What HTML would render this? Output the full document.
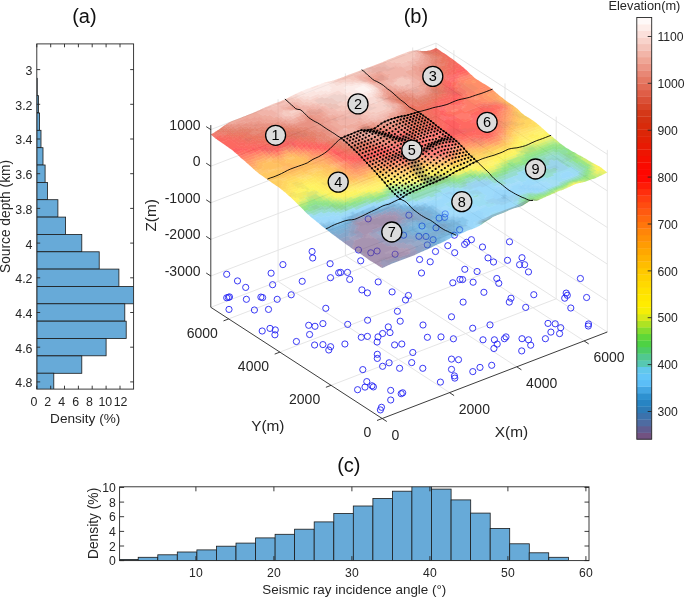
<!DOCTYPE html><html><head><meta charset="utf-8"><title>figure</title><style>html,body{margin:0;padding:0;background:#fff}svg{display:block}</style></head><body><svg width="685" height="598" viewBox="0 0 685 598" font-family="'Liberation Sans', sans-serif">
<rect width="685" height="598" fill="#fff"/>
<g stroke="#1a1a1a" stroke-width="0.8" fill="#67aad8">
<clipPath id="ca"><rect x="36.8" y="43.9" width="96.8" height="345.2"/></clipPath>
<g clip-path="url(#ca)">
<rect x="36.8" y="78.3" width="0.4" height="17.4"/>
<rect x="36.8" y="95.6" width="1.7" height="17.4"/>
<rect x="36.8" y="113" width="2.8" height="17.4"/>
<rect x="36.8" y="130.3" width="4.2" height="17.3"/>
<rect x="36.8" y="147.7" width="6.2" height="17.4"/>
<rect x="36.8" y="165" width="8.3" height="17.4"/>
<rect x="36.8" y="182.4" width="10.7" height="17.3"/>
<rect x="36.8" y="199.7" width="21.1" height="17.4"/>
<rect x="36.8" y="217.1" width="28.8" height="17.3"/>
<rect x="36.8" y="234.4" width="45" height="17.3"/>
<rect x="36.8" y="251.8" width="62.4" height="17.3"/>
<rect x="36.8" y="269.1" width="82.1" height="17.3"/>
<rect x="36.8" y="286.5" width="100.5" height="17.3"/>
<rect x="36.8" y="303.8" width="88" height="17.3"/>
<rect x="36.8" y="321.2" width="89.4" height="17.3"/>
<rect x="36.8" y="338.5" width="69.3" height="17.3"/>
<rect x="36.8" y="355.9" width="45" height="17.4"/>
<rect x="36.8" y="373.2" width="17" height="17.3"/>
</g></g>
<g stroke="#262626" stroke-width="0.9" fill="none">
<rect x="36.8" y="43.9" width="96.8" height="345.2"/>
<path d="M36.8 69.6h3.4M133.6 69.6h-3.4M36.8 104.3h3.4M133.6 104.3h-3.4M36.8 139h3.4M133.6 139h-3.4M36.8 173.7h3.4M133.6 173.7h-3.4M36.8 208.4h3.4M133.6 208.4h-3.4M36.8 243.1h3.4M133.6 243.1h-3.4M36.8 277.8h3.4M133.6 277.8h-3.4M36.8 312.5h3.4M133.6 312.5h-3.4M36.8 347.2h3.4M133.6 347.2h-3.4M36.8 381.9h3.4M133.6 381.9h-3.4M36.8 389.1v-3.4M36.8 43.9v3.4M50.7 389.1v-3.4M50.7 43.9v3.4M64.5 389.1v-3.4M64.5 43.9v3.4M78.4 389.1v-3.4M78.4 43.9v3.4M92.2 389.1v-3.4M92.2 43.9v3.4M106.1 389.1v-3.4M106.1 43.9v3.4M120 389.1v-3.4M120 43.9v3.4"/>
</g>
<text x="32.5" y="75" font-size="12.4" text-anchor="end" fill="#262626">3</text>
<text x="32.5" y="109.7" font-size="12.4" text-anchor="end" fill="#262626">3.2</text>
<text x="32.5" y="144.4" font-size="12.4" text-anchor="end" fill="#262626">3.4</text>
<text x="32.5" y="179.1" font-size="12.4" text-anchor="end" fill="#262626">3.6</text>
<text x="32.5" y="213.8" font-size="12.4" text-anchor="end" fill="#262626">3.8</text>
<text x="32.5" y="248.5" font-size="12.4" text-anchor="end" fill="#262626">4</text>
<text x="32.5" y="283.2" font-size="12.4" text-anchor="end" fill="#262626">4.2</text>
<text x="32.5" y="317.9" font-size="12.4" text-anchor="end" fill="#262626">4.4</text>
<text x="32.5" y="352.6" font-size="12.4" text-anchor="end" fill="#262626">4.6</text>
<text x="32.5" y="387.3" font-size="12.4" text-anchor="end" fill="#262626">4.8</text>
<text x="33.9" y="406" font-size="12.4" text-anchor="middle" fill="#262626">0</text>
<text x="47.8" y="406" font-size="12.4" text-anchor="middle" fill="#262626">2</text>
<text x="61.7" y="406" font-size="12.4" text-anchor="middle" fill="#262626">4</text>
<text x="75.6" y="406" font-size="12.4" text-anchor="middle" fill="#262626">6</text>
<text x="89.4" y="406" font-size="12.4" text-anchor="middle" fill="#262626">8</text>
<text x="105.3" y="406" font-size="12.4" text-anchor="middle" fill="#262626">10</text>
<text x="120.6" y="406" font-size="12.4" text-anchor="middle" fill="#262626">12</text>
<text x="85.2" y="422.6" font-size="13.6" text-anchor="middle" fill="#262626">Density (%)</text>
<text x="10.2" y="216.5" font-size="13.75" text-anchor="middle" fill="#262626" transform="rotate(-90 10.2 216.5)">Source depth (km)</text>
<text x="84.4" y="23.3" font-size="20" text-anchor="middle" fill="#111">(a)</text>
<clipPath id="cc"><rect x="119.6" y="486.8" width="469.4" height="73.8"/></clipPath>
<g stroke="#1a1a1a" stroke-width="0.8" fill="#67aad8" clip-path="url(#cc)">
<rect x="118.7" y="559.4" width="19.5" height="1.2"/>
<rect x="138.2" y="557.3" width="19.6" height="3.3"/>
<rect x="157.8" y="554.8" width="19.5" height="5.8"/>
<rect x="177.3" y="552" width="19.6" height="8.6"/>
<rect x="196.9" y="549.9" width="19.5" height="10.7"/>
<rect x="216.4" y="546.2" width="19.6" height="14.4"/>
<rect x="236" y="543.1" width="19.6" height="17.5"/>
<rect x="255.6" y="537.9" width="19.6" height="22.7"/>
<rect x="275.1" y="534.3" width="19.5" height="26.3"/>
<rect x="294.6" y="529.2" width="19.6" height="31.4"/>
<rect x="314.2" y="521.9" width="19.5" height="38.7"/>
<rect x="333.8" y="513.4" width="19.6" height="47.2"/>
<rect x="353.3" y="506" width="19.6" height="54.6"/>
<rect x="372.9" y="498.5" width="19.5" height="62.1"/>
<rect x="392.4" y="491.2" width="19.6" height="69.4"/>
<rect x="411.9" y="483.8" width="19.6" height="76.8"/>
<rect x="431.5" y="489.1" width="19.6" height="71.5"/>
<rect x="451.1" y="499.9" width="19.6" height="60.7"/>
<rect x="470.6" y="513.1" width="19.6" height="47.5"/>
<rect x="490.2" y="528.4" width="19.5" height="32.2"/>
<rect x="509.7" y="543.8" width="19.6" height="16.8"/>
<rect x="529.2" y="552.8" width="19.5" height="7.8"/>
<rect x="548.8" y="557.3" width="19.6" height="3.3"/>
</g>
<g stroke="#262626" stroke-width="0.9" fill="none">
<rect x="119.6" y="486.8" width="469.4" height="73.8"/>
<path d="M195.9 560.6v-4.5M195.9 486.8v4.5M273.9 560.6v-4.5M273.9 486.8v4.5M351.9 560.6v-4.5M351.9 486.8v4.5M429.9 560.6v-4.5M429.9 486.8v4.5M507.9 560.6v-4.5M507.9 486.8v4.5M585.9 560.6v-4.5M585.9 486.8v4.5M119.6 560.6h4.5M589 560.6h-4.5M119.6 546h4.5M589 546h-4.5M119.6 531.4h4.5M589 531.4h-4.5M119.6 516.7h4.5M589 516.7h-4.5M119.6 502.1h4.5M589 502.1h-4.5M119.6 487.5h4.5M589 487.5h-4.5"/>
</g>
<text x="195.9" y="577.2" font-size="12.2" text-anchor="middle" fill="#262626">10</text>
<text x="273.9" y="577.2" font-size="12.2" text-anchor="middle" fill="#262626">20</text>
<text x="351.9" y="577.2" font-size="12.2" text-anchor="middle" fill="#262626">30</text>
<text x="429.9" y="577.2" font-size="12.2" text-anchor="middle" fill="#262626">40</text>
<text x="507.9" y="577.2" font-size="12.2" text-anchor="middle" fill="#262626">50</text>
<text x="585.9" y="577.2" font-size="12.2" text-anchor="middle" fill="#262626">60</text>
<text x="115.9" y="565.1" font-size="12.2" text-anchor="end" fill="#262626">0</text>
<text x="115.9" y="550.5" font-size="12.2" text-anchor="end" fill="#262626">2</text>
<text x="115.9" y="535.9" font-size="12.2" text-anchor="end" fill="#262626">4</text>
<text x="115.9" y="521.2" font-size="12.2" text-anchor="end" fill="#262626">6</text>
<text x="115.9" y="506.6" font-size="12.2" text-anchor="end" fill="#262626">8</text>
<text x="115.9" y="492" font-size="12.2" text-anchor="end" fill="#262626">10</text>
<text x="97.6" y="523.4" font-size="13.8" text-anchor="middle" fill="#262626" transform="rotate(-90 97.6 523.4)">Density (%)</text>
<text x="354.3" y="594.2" font-size="13.4" text-anchor="middle" fill="#262626">Seismic ray incidence angle (°)</text>
<text x="348.8" y="472.3" font-size="20" text-anchor="middle" fill="#111">(c)</text>
<rect x="636.8" y="432.61" width="14.9" height="6.89" fill="#725281"/>
<rect x="636.8" y="426.02" width="14.9" height="6.89" fill="#605c90"/>
<rect x="636.8" y="419.43" width="14.9" height="6.89" fill="#4e6ba1"/>
<rect x="636.8" y="412.84" width="14.9" height="6.89" fill="#3c72ac"/>
<rect x="636.8" y="406.25" width="14.9" height="6.89" fill="#2d7bb7"/>
<rect x="636.8" y="399.67" width="14.9" height="6.89" fill="#2784c3"/>
<rect x="636.8" y="393.08" width="14.9" height="6.89" fill="#2e91d0"/>
<rect x="636.8" y="386.49" width="14.9" height="6.89" fill="#43a6e3"/>
<rect x="636.8" y="379.90" width="14.9" height="6.89" fill="#5bbef7"/>
<rect x="636.8" y="373.31" width="14.9" height="6.89" fill="#62c5f8"/>
<rect x="636.8" y="366.72" width="14.9" height="6.89" fill="#62c8ec"/>
<rect x="636.8" y="360.13" width="14.9" height="6.89" fill="#57c8b2"/>
<rect x="636.8" y="353.54" width="14.9" height="6.89" fill="#51c890"/>
<rect x="636.8" y="346.95" width="14.9" height="6.89" fill="#4ccc66"/>
<rect x="636.8" y="340.36" width="14.9" height="6.89" fill="#4ed244"/>
<rect x="636.8" y="333.77" width="14.9" height="6.89" fill="#5ed739"/>
<rect x="636.8" y="327.19" width="14.9" height="6.89" fill="#84dd2e"/>
<rect x="636.8" y="320.60" width="14.9" height="6.89" fill="#aee323"/>
<rect x="636.8" y="314.01" width="14.9" height="6.89" fill="#dae817"/>
<rect x="636.8" y="307.42" width="14.9" height="6.89" fill="#f5ee06"/>
<rect x="636.8" y="300.83" width="14.9" height="6.89" fill="#ffec00"/>
<rect x="636.8" y="294.24" width="14.9" height="6.89" fill="#ffe700"/>
<rect x="636.8" y="287.65" width="14.9" height="6.89" fill="#ffe100"/>
<rect x="636.8" y="281.06" width="14.9" height="6.89" fill="#ffd900"/>
<rect x="636.8" y="274.47" width="14.9" height="6.89" fill="#ffd100"/>
<rect x="636.8" y="267.88" width="14.9" height="6.89" fill="#ffc800"/>
<rect x="636.8" y="261.30" width="14.9" height="6.89" fill="#ffbd00"/>
<rect x="636.8" y="254.71" width="14.9" height="6.89" fill="#ffb200"/>
<rect x="636.8" y="248.12" width="14.9" height="6.89" fill="#ffa700"/>
<rect x="636.8" y="241.53" width="14.9" height="6.89" fill="#ff9c03"/>
<rect x="636.8" y="234.94" width="14.9" height="6.89" fill="#ff9006"/>
<rect x="636.8" y="228.35" width="14.9" height="6.89" fill="#ff8509"/>
<rect x="636.8" y="221.76" width="14.9" height="6.89" fill="#ff760c"/>
<rect x="636.8" y="215.17" width="14.9" height="6.89" fill="#ff680e"/>
<rect x="636.8" y="208.58" width="14.9" height="6.89" fill="#ff5a10"/>
<rect x="636.8" y="201.99" width="14.9" height="6.89" fill="#ff4c10"/>
<rect x="636.8" y="195.40" width="14.9" height="6.89" fill="#ff3e10"/>
<rect x="636.8" y="188.82" width="14.9" height="6.89" fill="#ff2e0d"/>
<rect x="636.8" y="182.23" width="14.9" height="6.89" fill="#ff1c07"/>
<rect x="636.8" y="175.64" width="14.9" height="6.89" fill="#ff0902"/>
<rect x="636.8" y="169.05" width="14.9" height="6.89" fill="#fe0600"/>
<rect x="636.8" y="162.46" width="14.9" height="6.89" fill="#fa0a00"/>
<rect x="636.8" y="155.87" width="14.9" height="6.89" fill="#f50f00"/>
<rect x="636.8" y="149.28" width="14.9" height="6.89" fill="#ee1501"/>
<rect x="636.8" y="142.69" width="14.9" height="6.89" fill="#e81a03"/>
<rect x="636.8" y="136.10" width="14.9" height="6.89" fill="#e22004"/>
<rect x="636.8" y="129.51" width="14.9" height="6.89" fill="#dc2607"/>
<rect x="636.8" y="122.93" width="14.9" height="6.89" fill="#d82b0b"/>
<rect x="636.8" y="116.34" width="14.9" height="6.89" fill="#d43111"/>
<rect x="636.8" y="109.75" width="14.9" height="6.89" fill="#d43818"/>
<rect x="636.8" y="103.16" width="14.9" height="6.89" fill="#d74326"/>
<rect x="636.8" y="96.57" width="14.9" height="6.89" fill="#da5037"/>
<rect x="636.8" y="89.98" width="14.9" height="6.89" fill="#df5e47"/>
<rect x="636.8" y="83.39" width="14.9" height="6.89" fill="#e26b55"/>
<rect x="636.8" y="76.80" width="14.9" height="6.89" fill="#e57964"/>
<rect x="636.8" y="70.21" width="14.9" height="6.89" fill="#e88775"/>
<rect x="636.8" y="63.62" width="14.9" height="6.89" fill="#ec9686"/>
<rect x="636.8" y="57.03" width="14.9" height="6.89" fill="#efa696"/>
<rect x="636.8" y="50.45" width="14.9" height="6.89" fill="#f2b5a8"/>
<rect x="636.8" y="43.86" width="14.9" height="6.89" fill="#f4c4ba"/>
<rect x="636.8" y="37.27" width="14.9" height="6.89" fill="#f8d3cb"/>
<rect x="636.8" y="30.68" width="14.9" height="6.89" fill="#fbe0db"/>
<rect x="636.8" y="24.09" width="14.9" height="6.89" fill="#fdede9"/>
<rect x="636.8" y="17.50" width="14.9" height="6.89" fill="#fef9f8"/>
<rect x="636.8" y="17.5" width="14.9" height="421.7" fill="none" stroke="#262626" stroke-width="0.9"/>
<text x="657.4" y="416.1" font-size="12.2" text-anchor="start" fill="#262626">300</text>
<text x="657.4" y="369.2" font-size="12.2" text-anchor="start" fill="#262626">400</text>
<text x="657.4" y="322.3" font-size="12.2" text-anchor="start" fill="#262626">500</text>
<text x="657.4" y="275.5" font-size="12.2" text-anchor="start" fill="#262626">600</text>
<text x="657.4" y="228.6" font-size="12.2" text-anchor="start" fill="#262626">700</text>
<text x="657.4" y="181.7" font-size="12.2" text-anchor="start" fill="#262626">800</text>
<text x="657.4" y="134.8" font-size="12.2" text-anchor="start" fill="#262626">900</text>
<text x="657.4" y="87.9" font-size="12.2" text-anchor="start" fill="#262626">1000</text>
<text x="657.4" y="41.1" font-size="12.2" text-anchor="start" fill="#262626">1100</text>
<path d="M651.7 411.5h-4M651.7 364.6h-4M651.7 317.7h-4M651.7 270.9h-4M651.7 224h-4M651.7 177.1h-4M651.7 130.2h-4M651.7 83.3h-4M651.7 36.5h-4" stroke="#262626" stroke-width="0.9"/>
<text x="644.4" y="9.9" font-size="12.8" text-anchor="middle" fill="#262626">Elevation(m)</text>
<text x="415.9" y="23.3" font-size="20" text-anchor="middle" fill="#111">(b)</text>
<path d="M449.5 392.6L278.1 281.4L278.1 99.2M331.1 385.3L556.2 298.8L556.2 116.6M516.8 366.8L345.4 255.6L345.4 73.4M279.9 352.1L505 265.6L505 83.4M584.1 340.9L412.7 229.7L412.7 47.5M228.7 318.9L453.9 232.4L453.9 50.2M210.8 276L436 189.5L607.3 300.7M210.8 239.4L436 152.9L607.3 264.1M210.8 202.8L436 116.3L607.3 227.5M210.8 166.2L436 79.7L607.3 190.9M210.8 129.6L436 43.1L607.3 154.3M210.8 307.3L436 220.8L607.3 332M436 220.8L436 43.1M607.3 332L607.3 149.8" stroke="#e2e2e2" stroke-width="0.9" fill="none"/>
<g fill="none" stroke="#2424f4" stroke-width="0.9">
<circle cx="226.7" cy="274.3" r="3.1"/>
<circle cx="237.5" cy="280.9" r="3.1"/>
<circle cx="245.7" cy="287.4" r="3.1"/>
<circle cx="226.7" cy="297.8" r="3.1"/>
<circle cx="228.4" cy="297.4" r="3.1"/>
<circle cx="229.5" cy="296.9" r="3.1"/>
<circle cx="246.4" cy="299.3" r="3.1"/>
<circle cx="260.9" cy="297.1" r="3.1"/>
<circle cx="262.6" cy="297.6" r="3.1"/>
<circle cx="229" cy="309.4" r="3.1"/>
<circle cx="254.4" cy="310" r="3.1"/>
<circle cx="268.5" cy="309.4" r="3.1"/>
<circle cx="271.1" cy="273.2" r="3.1"/>
<circle cx="272.6" cy="284.7" r="3.1"/>
<circle cx="277.2" cy="299.3" r="3.1"/>
<circle cx="282.9" cy="264.6" r="3.1"/>
<circle cx="291.2" cy="294.8" r="3.1"/>
<circle cx="302.2" cy="281.3" r="3.1"/>
<circle cx="312.1" cy="251.5" r="3.1"/>
<circle cx="312.7" cy="258" r="3.1"/>
<circle cx="330.1" cy="263.7" r="3.1"/>
<circle cx="330.5" cy="277.7" r="3.1"/>
<circle cx="338.7" cy="272.8" r="3.1"/>
<circle cx="340.6" cy="272.4" r="3.1"/>
<circle cx="325.8" cy="308.3" r="3.1"/>
<circle cx="262.2" cy="331" r="3.1"/>
<circle cx="270" cy="328.4" r="3.1"/>
<circle cx="275.3" cy="329.9" r="3.1"/>
<circle cx="274.9" cy="334.8" r="3.1"/>
<circle cx="308.7" cy="325.3" r="3.1"/>
<circle cx="315" cy="326.3" r="3.1"/>
<circle cx="322.9" cy="323.6" r="3.1"/>
<circle cx="309.6" cy="334.5" r="3.1"/>
<circle cx="296.4" cy="341.5" r="3.1"/>
<circle cx="347.5" cy="272.4" r="3.1"/>
<circle cx="349.7" cy="279.4" r="3.1"/>
<circle cx="360.7" cy="260.8" r="3.1"/>
<circle cx="358.5" cy="250" r="3.1"/>
<circle cx="370.8" cy="252.8" r="3.1"/>
<circle cx="377.1" cy="251" r="3.1"/>
<circle cx="395.1" cy="254.2" r="3.1"/>
<circle cx="378.2" cy="281.9" r="3.1"/>
<circle cx="361.9" cy="289.9" r="3.1"/>
<circle cx="367.4" cy="292.9" r="3.1"/>
<circle cx="392.1" cy="291.9" r="3.1"/>
<circle cx="408.4" cy="295.5" r="3.1"/>
<circle cx="405.5" cy="299.9" r="3.1"/>
<circle cx="397.4" cy="311.3" r="3.1"/>
<circle cx="400.2" cy="321.2" r="3.1"/>
<circle cx="367.6" cy="320.2" r="3.1"/>
<circle cx="347.7" cy="324.4" r="3.1"/>
<circle cx="388.3" cy="326.9" r="3.1"/>
<circle cx="390" cy="332.6" r="3.1"/>
<circle cx="382.6" cy="333.5" r="3.1"/>
<circle cx="378" cy="336.9" r="3.1"/>
<circle cx="367.4" cy="336.4" r="3.1"/>
<circle cx="361.3" cy="337.3" r="3.1"/>
<circle cx="419.6" cy="259.5" r="3.1"/>
<circle cx="430.2" cy="261.8" r="3.1"/>
<circle cx="435.5" cy="251.5" r="3.1"/>
<circle cx="454.7" cy="252.7" r="3.1"/>
<circle cx="421.5" cy="273" r="3.1"/>
<circle cx="452.8" cy="282.8" r="3.1"/>
<circle cx="460" cy="279.4" r="3.1"/>
<circle cx="451.5" cy="316.8" r="3.1"/>
<circle cx="423" cy="325" r="3.1"/>
<circle cx="427.4" cy="337.3" r="3.1"/>
<circle cx="441" cy="336.9" r="3.1"/>
<circle cx="453.4" cy="338.8" r="3.1"/>
<circle cx="464.8" cy="269.3" r="3.1"/>
<circle cx="477.1" cy="271.5" r="3.1"/>
<circle cx="462.6" cy="279.6" r="3.1"/>
<circle cx="473.1" cy="282.2" r="3.1"/>
<circle cx="488" cy="257.9" r="3.1"/>
<circle cx="493.5" cy="262" r="3.1"/>
<circle cx="507.5" cy="260.3" r="3.1"/>
<circle cx="522" cy="257.7" r="3.1"/>
<circle cx="519.6" cy="264.7" r="3.1"/>
<circle cx="524.6" cy="264.7" r="3.1"/>
<circle cx="528.5" cy="271.9" r="3.1"/>
<circle cx="496.8" cy="278.5" r="3.1"/>
<circle cx="498.8" cy="283.3" r="3.1"/>
<circle cx="483.9" cy="292.3" r="3.1"/>
<circle cx="463.1" cy="302.1" r="3.1"/>
<circle cx="511" cy="298.2" r="3.1"/>
<circle cx="509.3" cy="302.1" r="3.1"/>
<circle cx="533.8" cy="294.7" r="3.1"/>
<circle cx="525.7" cy="307.4" r="3.1"/>
<circle cx="580.4" cy="278.5" r="3.1"/>
<circle cx="566.2" cy="293.1" r="3.1"/>
<circle cx="567.3" cy="295.3" r="3.1"/>
<circle cx="564.7" cy="298.2" r="3.1"/>
<circle cx="586.6" cy="297.5" r="3.1"/>
<circle cx="570.8" cy="308" r="3.1"/>
<circle cx="588.5" cy="324" r="3.1"/>
<circle cx="588.3" cy="326" r="3.1"/>
<circle cx="548" cy="323.4" r="3.1"/>
<circle cx="555.2" cy="323.8" r="3.1"/>
<circle cx="560.7" cy="327.7" r="3.1"/>
<circle cx="550.9" cy="332.1" r="3.1"/>
<circle cx="559.6" cy="333.6" r="3.1"/>
<circle cx="490" cy="324.9" r="3.1"/>
<circle cx="472.7" cy="328.2" r="3.1"/>
<circle cx="506" cy="336.9" r="3.1"/>
<circle cx="504.4" cy="338.7" r="3.1"/>
<circle cx="494.4" cy="339.8" r="3.1"/>
<circle cx="483" cy="339.8" r="3.1"/>
<circle cx="522" cy="338.7" r="3.1"/>
<circle cx="528.5" cy="339.8" r="3.1"/>
<circle cx="545.4" cy="338.7" r="3.1"/>
<circle cx="408.9" cy="215.2" r="3.1"/>
<circle cx="422" cy="226" r="3.1"/>
<circle cx="436" cy="227.8" r="3.1"/>
<circle cx="439.1" cy="218.1" r="3.1"/>
<circle cx="444.6" cy="217.3" r="3.1"/>
<circle cx="445.2" cy="213.9" r="3.1"/>
<circle cx="403.6" cy="235.2" r="3.1"/>
<circle cx="418.9" cy="236.3" r="3.1"/>
<circle cx="426" cy="236.5" r="3.1"/>
<circle cx="433.1" cy="239.7" r="3.1"/>
<circle cx="427.3" cy="244.9" r="3.1"/>
<circle cx="459.6" cy="229.7" r="3.1"/>
<circle cx="454.4" cy="235.2" r="3.1"/>
<circle cx="447.8" cy="245.7" r="3.1"/>
<circle cx="464.6" cy="244.4" r="3.1"/>
<circle cx="466.7" cy="242.3" r="3.1"/>
<circle cx="471.4" cy="239.7" r="3.1"/>
<circle cx="482.5" cy="247" r="3.1"/>
<circle cx="509.5" cy="241.8" r="3.1"/>
<circle cx="344.9" cy="344" r="3.1"/>
<circle cx="377.1" cy="342" r="3.1"/>
<circle cx="394.6" cy="344.9" r="3.1"/>
<circle cx="401.8" cy="344" r="3.1"/>
<circle cx="412.8" cy="352.5" r="3.1"/>
<circle cx="377.3" cy="354.3" r="3.1"/>
<circle cx="377.3" cy="358.4" r="3.1"/>
<circle cx="389.1" cy="362.8" r="3.1"/>
<circle cx="382.6" cy="366.3" r="3.1"/>
<circle cx="362.8" cy="369.6" r="3.1"/>
<circle cx="399.6" cy="368.3" r="3.1"/>
<circle cx="411.7" cy="362.6" r="3.1"/>
<circle cx="422.8" cy="368.3" r="3.1"/>
<circle cx="451.5" cy="359.1" r="3.1"/>
<circle cx="458.5" cy="359.7" r="3.1"/>
<circle cx="451.5" cy="369.4" r="3.1"/>
<circle cx="454.4" cy="375.9" r="3.1"/>
<circle cx="454.8" cy="378.1" r="3.1"/>
<circle cx="472.8" cy="371.6" r="3.1"/>
<circle cx="480" cy="367.4" r="3.1"/>
<circle cx="440.4" cy="382.1" r="3.1"/>
<circle cx="366.8" cy="381.6" r="3.1"/>
<circle cx="365" cy="387.1" r="3.1"/>
<circle cx="357.6" cy="389.7" r="3.1"/>
<circle cx="372" cy="385.8" r="3.1"/>
<circle cx="373.4" cy="386.9" r="3.1"/>
<circle cx="390.7" cy="390.4" r="3.1"/>
<circle cx="401.2" cy="393.7" r="3.1"/>
<circle cx="402.7" cy="392.8" r="3.1"/>
<circle cx="390.7" cy="400" r="3.1"/>
<circle cx="381.5" cy="407.3" r="3.1"/>
<circle cx="380.4" cy="409.9" r="3.1"/>
<circle cx="497.2" cy="344.1" r="3.1"/>
<circle cx="493.9" cy="348.5" r="3.1"/>
<circle cx="530.7" cy="345.2" r="3.1"/>
<circle cx="521.7" cy="350.9" r="3.1"/>
<circle cx="491.7" cy="365.3" r="3.1"/>
<circle cx="314.6" cy="345" r="3.1"/>
<circle cx="322.9" cy="344.6" r="3.1"/>
<circle cx="330.6" cy="346.7" r="3.1"/>
<circle cx="328.8" cy="350" r="3.1"/>
<circle cx="368.2" cy="218.9" r="3.1"/>
</g>
<clipPath id="cs"><path d="M382.2 268.1L382.9 267.8L383.5 267.5L384.2 267.2L384.9 266.9L385.5 266.6L386.2 266.3L386.9 265.9L387.6 265.6L388.2 265.3L388.9 265L389.6 264.7L390.2 264.4L390.9 264.1L391.6 263.8L392.2 263.5L392.9 263.2L393.6 262.9L394.3 262.7L394.9 262.4L395.6 262.2L396.3 262L396.9 261.8L397.6 261.6L398.3 261.3L398.9 261.1L399.6 260.8L400.3 260.6L401 260.3L401.6 260L402.3 259.7L403 259.5L403.6 259.2L404.3 258.9L405 258.7L405.6 258.5L406.3 258.2L407 258L407.7 257.8L408.3 257.5L409 257.3L409.7 257.1L410.3 256.8L411 256.6L411.7 256.3L412.3 256L413 255.8L413.7 255.5L414.4 255.2L415 254.9L415.7 254.6L416.4 254.3L417 254L417.7 253.6L418.4 253.3L419 253L419.7 252.7L420.4 252.3L421.1 252L421.7 251.8L422.4 251.5L423.1 251.2L423.7 250.9L424.4 250.6L425.1 250.3L425.7 250L426.4 249.7L427.1 249.5L427.8 249.2L428.4 248.9L429.1 248.6L429.8 248.3L430.4 248L431.1 247.7L431.8 247.3L432.4 247L433.1 246.6L433.8 246.3L434.5 245.9L435.1 245.6L435.8 245.2L436.5 244.9L437.1 244.6L437.8 244.3L438.5 244.1L439.1 243.8L439.8 243.5L440.5 243.2L441.2 242.9L441.8 242.5L442.5 242.2L443.2 241.9L443.8 241.6L444.5 241.2L445.2 240.9L445.8 240.6L446.5 240.2L447.2 239.9L447.9 239.6L448.5 239.2L449.2 238.9L449.9 238.5L450.5 238.1L451.2 237.8L451.9 237.5L452.5 237.1L453.2 236.8L453.9 236.6L454.6 236.3L455.2 236L455.9 235.8L456.6 235.5L457.2 235.3L457.9 235L458.6 234.7L459.2 234.4L459.9 234.2L460.6 233.9L461.3 233.6L461.9 233.3L462.6 233L463.3 232.7L463.9 232.4L464.6 232.1L465.3 231.7L465.9 231.4L466.6 231.1L467.3 230.8L468 230.6L468.6 230.3L469.3 230.1L470 229.8L470.6 229.6L471.3 229.4L472 229.2L472.6 228.9L473.3 228.6L474 228.4L474.7 228.1L475.3 227.8L476 227.5L476.7 227.2L477.3 226.9L478 226.6L478.7 226.3L479.3 226L480 225.6L480.7 225.1L481.4 224.7L482 224.2L482.7 223.7L483.4 223.2L484 222.7L484.7 222.2L485.4 221.8L486 221.4L486.7 221L487.4 220.6L488.1 220.2L488.7 219.8L489.4 219.4L490.1 218.9L490.7 218.5L491.4 218L492.1 217.6L492.7 217.1L493.4 216.7L494.1 216.4L494.8 216.1L495.4 215.9L496.1 215.6L496.8 215.3L497.4 215L498.1 214.8L498.8 214.5L499.4 214.2L500.1 214L500.8 213.7L501.5 213.5L502.1 213.2L502.8 212.9L503.5 212.7L504.1 212.4L504.8 212.1L505.5 211.8L506.1 211.5L506.8 211.2L507.5 210.9L508.2 210.6L508.8 210.3L509.5 210L510.2 209.7L510.8 209.5L511.5 209.2L512.2 209L512.8 208.8L513.5 208.6L514.2 208.3L514.9 208.1L515.5 207.9L516.2 207.7L516.9 207.5L517.5 207.3L518.2 207.2L518.9 207L519.5 206.8L520.2 206.6L520.9 206.4L521.6 206.1L522.2 205.8L522.9 205.4L523.6 205.1L524.2 204.6L524.9 204.2L525.6 203.7L526.2 203.3L526.9 202.9L527.6 202.4L528.3 202L528.9 201.6L529.6 201.2L530.3 200.8L530.9 200.7L531.6 200.7L532.3 200.7L532.9 200.6L533.6 200.6L534.3 200.7L535 200.7L535.6 200.7L536.3 200.8L537 200.8L537.6 200.5L538.3 200.2L539 199.9L539.6 199.6L540.3 199.3L541 199L541.7 198.7L542.3 198.4L543 198.1L543.7 197.8L544.3 197.5L545 197.2L545.7 196.9L546.3 196.6L547 196.3L547.7 196L548.4 195.7L549 195.4L549.7 195.2L550.4 194.9L551 194.6L551.7 194.3L552.4 194.1L553 193.8L553.7 193.5L554.4 193.2L555.1 192.8L555.7 192.5L556.4 192.2L557.1 191.9L557.7 191.6L558.4 191.3L559.1 191.1L559.7 190.8L560.4 190.6L561.1 190.4L561.8 190.2L562.4 189.9L563.1 189.7L563.8 189.4L564.4 189.1L565.1 188.8L565.8 188.5L566.4 188.2L567.1 187.9L567.8 187.6L568.5 187.3L569.1 187L569.8 186.7L570.5 186.4L571.1 186.1L571.8 185.7L572.5 185.4L573.1 185.1L573.8 184.8L574.5 184.5L575.2 184.3L575.8 184L576.5 183.8L577.2 183.6L577.8 183.4L578.5 183.2L579.2 183.1L579.8 183L580.5 182.9L581.2 182.7L581.9 182.6L582.5 182.4L583.2 182.2L583.9 182L584.5 181.9L585.2 181.7L585.9 181.4L586.5 181.2L587.2 181L587.9 180.7L588.6 180.5L589.2 180.2L589.9 180L590.6 179.8L591.2 179.5L591.9 179.3L592.6 179.1L593.2 178.9L593.9 178.7L594.6 178.5L595.3 178.2L595.9 177.9L596.6 177.6L597.3 177.3L597.9 177L598.6 176.7L599.3 176.3L599.9 176L600.6 175.7L601.3 175.4L602 175L602.6 174.7L603.3 174.4L604 174.1L604.6 173.8L605.3 173.4L606 173.1L606.6 172.8L607.3 172.5L607.3 172.5L606.8 172.1L606.3 171.7L605.8 171.3L605.3 170.9L604.8 170.5L604.3 170.1L603.7 169.7L603.2 169.2L602.7 168.8L602.2 168.4L601.7 168L601.2 167.6L600.7 167.3L600.2 166.9L599.7 166.6L599.2 166.3L598.6 166L598.1 165.7L597.6 165.4L597.1 165.2L596.6 164.9L596.1 164.7L595.6 164.4L595.1 164.1L594.6 163.9L594.1 163.6L593.5 163.3L593 163L592.5 162.7L592 162.5L591.5 162.2L591 161.9L590.5 161.6L590 161.3L589.5 161L589 160.7L588.4 160.4L587.9 160L587.4 159.7L586.9 159.4L586.4 159.1L585.9 158.8L585.4 158.6L584.9 158.3L584.4 158L583.9 157.7L583.3 157.4L582.8 157.1L582.3 156.8L581.8 156.5L581.3 156.2L580.8 155.9L580.3 155.6L579.8 155.4L579.3 155.2L578.8 154.9L578.2 154.7L577.7 154.4L577.2 154.1L576.7 153.7L576.2 153.4L575.7 153.1L575.2 152.8L574.7 152.5L574.2 152.3L573.7 152.1L573.1 151.9L572.6 151.6L572.1 151.4L571.6 151.1L571.1 150.7L570.6 150.4L570.1 150.1L569.6 149.7L569.1 149.4L568.6 149.1L568.1 148.8L567.5 148.5L567 148.3L566.5 148L566 147.7L565.5 147.3L565 146.9L564.5 146.5L564 146.1L563.5 145.7L563 145.4L562.4 145L561.9 144.6L561.4 144.3L560.9 143.9L560.4 143.5L559.9 143.1L559.4 142.7L558.9 142.2L558.4 141.8L557.9 141.3L557.3 140.8L556.8 140.4L556.3 140L555.8 139.6L555.3 139.2L554.8 138.8L554.3 138.4L553.8 138L553.3 137.5L552.8 137.1L552.2 136.6L551.7 136.2L551.2 135.8L550.7 135.4L550.2 135L549.7 134.6L549.2 134.2L548.7 133.8L548.2 133.4L547.7 133L547.1 132.5L546.6 132.1L546.1 131.6L545.6 131.1L545.1 130.6L544.6 130.2L544.1 129.7L543.6 129.3L543.1 128.8L542.6 128.4L542 128L541.5 127.5L541 127L540.5 126.6L540 126.1L539.5 125.7L539 125.2L538.5 124.8L538 124.4L537.5 124L536.9 123.5L536.4 123.1L535.9 122.7L535.4 122.3L534.9 121.9L534.4 121.5L533.9 121.2L533.4 120.8L532.9 120.4L532.4 120.1L531.8 119.8L531.3 119.4L530.8 119.1L530.3 118.8L529.8 118.4L529.3 118.1L528.8 117.8L528.3 117.5L527.8 117.2L527.3 116.9L526.7 116.6L526.2 116.3L525.7 116L525.2 115.7L524.7 115.4L524.2 115L523.7 114.6L523.2 114.2L522.7 113.8L522.2 113.4L521.6 112.9L521.1 112.4L520.6 112L520.1 111.5L519.6 111L519.1 110.5L518.6 110L518.1 109.5L517.6 109.1L517.1 108.6L516.5 108.2L516 107.7L515.5 107.3L515 106.9L514.5 106.6L514 106.2L513.5 105.8L513 105.4L512.5 105.1L512 104.7L511.4 104.4L510.9 104.1L510.4 103.7L509.9 103.4L509.4 103.1L508.9 102.7L508.4 102.4L507.9 102.1L507.4 101.7L506.9 101.3L506.3 101L505.8 100.6L505.3 100.2L504.8 99.8L504.3 99.4L503.8 98.9L503.3 98.5L502.8 98.1L502.3 97.7L501.8 97.3L501.2 96.9L500.7 96.6L500.2 96.2L499.7 95.8L499.2 95.4L498.7 94.9L498.2 94.5L497.7 94.1L497.2 93.6L496.7 93.2L496.1 92.7L495.6 92.3L495.1 91.8L494.6 91.4L494.1 90.9L493.6 90.5L493.1 90L492.6 89.6L492.1 89.1L491.6 88.7L491 88.3L490.5 87.9L490 87.6L489.5 87.2L489 86.9L488.5 86.6L488 86.2L487.5 85.9L487 85.6L486.5 85.3L485.9 85L485.4 84.6L484.9 84.3L484.4 84L483.9 83.7L483.4 83.4L482.9 83.2L482.4 82.9L481.9 82.6L481.4 82.3L480.8 82L480.3 81.6L479.8 81.3L479.3 81L478.8 80.6L478.3 80.3L477.8 80L477.3 79.7L476.8 79.4L476.3 79.1L475.7 78.7L475.2 78.3L474.7 77.9L474.2 77.5L473.7 77.1L473.2 76.6L472.7 76.1L472.2 75.6L471.7 75.1L471.2 74.7L470.6 74.2L470.1 73.7L469.6 73.3L469.1 72.8L468.6 72.3L468.1 71.8L467.6 71.3L467.1 70.8L466.6 70.3L466.1 69.8L465.5 69.4L465 68.9L464.5 68.5L464 68.1L463.5 67.6L463 67.2L462.5 66.8L462 66.4L461.5 66L461 65.5L460.4 65.1L459.9 64.7L459.4 64.3L458.9 64L458.4 63.6L457.9 63.2L457.4 62.8L456.9 62.4L456.4 62L455.9 61.6L455.3 61.2L454.8 60.8L454.3 60.4L453.8 60L453.3 59.7L452.8 59.3L452.3 59L451.8 58.6L451.3 58.3L450.8 57.9L450.2 57.5L449.7 57.2L449.2 56.8L448.7 56.5L448.2 56.1L447.7 55.7L447.2 55.3L446.7 55L446.2 54.6L445.7 54.2L445.1 53.9L444.6 53.6L444.1 53.3L443.6 53L443.1 52.7L442.6 52.4L442.1 52L441.6 51.7L441.1 51.4L440.6 51L440 50.6L439.5 50.3L439 49.9L438.5 49.6L438 49.3L437.5 49L437 48.6L436.5 48.3L436 47.9L436 47.9L435.3 48.2L434.6 48.6L434 48.9L433.3 49.2L432.6 49.5L431.9 49.7L431.3 50L430.6 50.2L429.9 50.4L429.3 50.5L428.6 50.6L427.9 50.7L427.3 50.8L426.6 50.9L425.9 51L425.2 51L424.6 51.1L423.9 51.1L423.2 51L422.6 51L421.9 50.9L421.2 50.9L420.6 50.8L419.9 50.8L419.2 50.7L418.5 50.6L417.9 50.6L417.2 50.5L416.5 50.5L415.9 50.4L415.2 50.4L414.5 50.4L413.9 50.5L413.2 50.6L412.5 50.7L411.8 50.8L411.2 51L410.5 51.2L409.8 51.3L409.2 51.5L408.5 51.7L407.8 51.9L407.2 52.1L406.5 52.4L405.8 52.6L405.1 52.9L404.5 53.2L403.8 53.4L403.1 53.7L402.5 54L401.8 54.3L401.1 54.5L400.5 54.8L399.8 55L399.1 55.3L398.4 55.5L397.8 55.8L397.1 56L396.4 56.3L395.8 56.6L395.1 56.9L394.4 57.2L393.8 57.5L393.1 57.7L392.4 58L391.7 58.2L391.1 58.5L390.4 58.8L389.7 59L389.1 59.3L388.4 59.5L387.7 59.8L387.1 60.1L386.4 60.4L385.7 60.7L385 61L384.4 61.3L383.7 61.6L383 61.9L382.4 62.2L381.7 62.4L381 62.7L380.4 63L379.7 63.3L379 63.5L378.3 63.8L377.7 64.1L377 64.3L376.3 64.5L375.7 64.8L375 65L374.3 65.2L373.7 65.5L373 65.7L372.3 66L371.6 66.2L371 66.4L370.3 66.7L369.6 66.9L369 67.2L368.3 67.4L367.6 67.6L367 67.9L366.3 68.1L365.6 68.4L364.9 68.7L364.3 68.9L363.6 69.2L362.9 69.5L362.3 69.8L361.6 70L360.9 70.3L360.3 70.6L359.6 70.8L358.9 71L358.2 71.3L357.6 71.5L356.9 71.7L356.2 72L355.6 72.2L354.9 72.5L354.2 72.7L353.6 73L352.9 73.2L352.2 73.5L351.5 73.7L350.9 73.9L350.2 74.2L349.5 74.4L348.9 74.6L348.2 74.9L347.5 75.2L346.9 75.4L346.2 75.7L345.5 76L344.8 76.3L344.2 76.6L343.5 76.9L342.8 77.1L342.2 77.4L341.5 77.6L340.8 77.9L340.2 78.1L339.5 78.4L338.8 78.6L338.1 78.8L337.5 79.1L336.8 79.3L336.1 79.5L335.5 79.8L334.8 80L334.1 80.2L333.5 80.4L332.8 80.6L332.1 80.8L331.4 81L330.8 81.1L330.1 81.3L329.4 81.4L328.8 81.6L328.1 81.7L327.4 81.8L326.8 82L326.1 82.1L325.4 82.3L324.7 82.4L324.1 82.6L323.4 82.9L322.7 83.1L322.1 83.4L321.4 83.6L320.7 83.9L320.1 84.2L319.4 84.5L318.7 84.8L318 85L317.4 85.3L316.7 85.5L316 85.8L315.4 86L314.7 86.3L314 86.5L313.4 86.8L312.7 87L312 87.3L311.3 87.5L310.7 87.7L310 88L309.3 88.2L308.7 88.4L308 88.6L307.3 88.8L306.7 89.1L306 89.3L305.3 89.6L304.6 89.9L304 90.2L303.3 90.5L302.6 90.8L302 91L301.3 91.3L300.6 91.6L300 91.9L299.3 92.2L298.6 92.5L297.9 92.8L297.3 93.2L296.6 93.5L295.9 93.8L295.3 94.1L294.6 94.5L293.9 94.8L293.3 95.1L292.6 95.5L291.9 95.8L291.2 96.1L290.6 96.5L289.9 96.8L289.2 97.2L288.6 97.5L287.9 97.9L287.2 98.2L286.6 98.5L285.9 98.8L285.2 99.1L284.5 99.4L283.9 99.7L283.2 100L282.5 100.3L281.9 100.6L281.2 100.9L280.5 101.2L279.9 101.5L279.2 101.7L278.5 102L277.8 102.2L277.2 102.4L276.5 102.7L275.8 102.9L275.2 103.1L274.5 103.4L273.8 103.6L273.2 103.9L272.5 104.2L271.8 104.5L271.1 104.8L270.5 105.1L269.8 105.4L269.1 105.6L268.5 105.9L267.8 106.2L267.1 106.5L266.5 106.8L265.8 107L265.1 107.3L264.4 107.7L263.8 108L263.1 108.3L262.4 108.6L261.8 109L261.1 109.3L260.4 109.6L259.8 109.9L259.1 110.2L258.4 110.5L257.7 110.8L257.1 111.1L256.4 111.4L255.7 111.7L255.1 112L254.4 112.3L253.7 112.6L253.1 112.9L252.4 113.2L251.7 113.4L251 113.7L250.4 114L249.7 114.2L249 114.5L248.4 114.8L247.7 115.1L247 115.3L246.4 115.6L245.7 115.9L245 116.1L244.3 116.4L243.7 116.6L243 116.9L242.3 117.1L241.7 117.4L241 117.7L240.3 117.9L239.7 118.2L239 118.5L238.3 118.7L237.6 119L237 119.2L236.3 119.5L235.6 119.7L235 119.9L234.3 120.2L233.6 120.4L233 120.7L232.3 121L231.6 121.3L230.9 121.6L230.3 121.9L229.6 122.2L228.9 122.6L228.3 123L227.6 123.4L226.9 123.8L226.3 124.2L225.6 124.7L224.9 125.1L224.2 125.6L223.6 126.1L222.9 126.6L222.2 127.1L221.6 127.6L220.9 128L220.2 128.5L219.6 129L218.9 129.4L218.2 129.9L217.5 130.3L216.9 130.8L216.2 131.2L215.5 131.6L214.9 132.1L214.2 132.5L213.5 132.9L212.9 133.3L212.2 133.7L211.5 134.1L210.8 134.5L210.8 134.5L211.4 134.9L211.9 135.4L212.4 135.8L212.9 136.2L213.4 136.7L213.9 137.1L214.4 137.5L214.9 138L215.4 138.4L215.9 138.8L216.5 139.1L217 139.5L217.5 139.9L218 140.2L218.5 140.5L219 140.9L219.5 141.2L220 141.6L220.5 142L221 142.3L221.6 142.7L222.1 143L222.6 143.4L223.1 143.7L223.6 144L224.1 144.4L224.6 144.8L225.1 145.1L225.6 145.5L226.1 145.9L226.7 146.2L227.2 146.6L227.7 147L228.2 147.3L228.7 147.7L229.2 148L229.7 148.4L230.2 148.7L230.7 149.1L231.2 149.4L231.8 149.8L232.3 150.2L232.8 150.6L233.3 151.1L233.8 151.5L234.3 152L234.8 152.4L235.3 152.8L235.8 153.3L236.3 153.7L236.9 154.1L237.4 154.6L237.9 155L238.4 155.5L238.9 156L239.4 156.5L239.9 157L240.4 157.5L240.9 157.9L241.4 158.4L242 158.8L242.5 159.2L243 159.6L243.5 160L244 160.4L244.5 160.8L245 161.3L245.5 161.8L246 162.3L246.5 162.7L247.1 163.2L247.6 163.7L248.1 164.1L248.6 164.6L249.1 165L249.6 165.4L250.1 165.9L250.6 166.3L251.1 166.8L251.6 167.3L252.2 167.8L252.7 168.3L253.2 168.7L253.7 169.2L254.2 169.6L254.7 170L255.2 170.4L255.7 170.9L256.2 171.3L256.7 171.7L257.3 172.2L257.8 172.6L258.3 173.1L258.8 173.5L259.3 173.9L259.8 174.2L260.3 174.6L260.8 174.9L261.3 175.2L261.8 175.6L262.4 176L262.9 176.3L263.4 176.7L263.9 177.1L264.4 177.5L264.9 177.8L265.4 178.2L265.9 178.5L266.4 178.8L266.9 179.1L267.5 179.5L268 179.8L268.5 180.2L269 180.6L269.5 181L270 181.4L270.5 181.8L271 182.1L271.5 182.5L272 182.9L272.6 183.2L273.1 183.5L273.6 183.9L274.1 184.2L274.6 184.6L275.1 185L275.6 185.3L276.1 185.7L276.6 186L277.1 186.3L277.7 186.6L278.2 187L278.7 187.3L279.2 187.7L279.7 188L280.2 188.4L280.7 188.9L281.2 189.3L281.7 189.7L282.2 190.1L282.8 190.6L283.3 191L283.8 191.4L284.3 191.8L284.8 192.2L285.3 192.6L285.8 193.1L286.3 193.6L286.8 194L287.3 194.5L287.9 195L288.4 195.4L288.9 195.9L289.4 196.3L289.9 196.7L290.4 197.1L290.9 197.6L291.4 198.1L291.9 198.5L292.4 199L293 199.5L293.5 200L294 200.5L294.5 201L295 201.5L295.5 202L296 202.5L296.5 203L297 203.5L297.5 204L298.1 204.6L298.6 205.1L299.1 205.7L299.6 206.2L300.1 206.7L300.6 207.1L301.1 207.6L301.6 208.1L302.1 208.6L302.6 209.1L303.2 209.6L303.7 210.1L304.2 210.7L304.7 211.2L305.2 211.8L305.7 212.3L306.2 212.8L306.7 213.3L307.2 213.7L307.7 214.2L308.3 214.6L308.8 215.1L309.3 215.5L309.8 216L310.3 216.5L310.8 216.9L311.3 217.4L311.8 217.8L312.3 218.2L312.8 218.6L313.4 219L313.9 219.4L314.4 219.8L314.9 220.2L315.4 220.6L315.9 221L316.4 221.5L316.9 221.9L317.4 222.3L317.9 222.7L318.5 223.1L319 223.6L319.5 224L320 224.4L320.5 224.8L321 225.2L321.5 225.7L322 226.1L322.5 226.5L323 226.9L323.6 227.3L324.1 227.7L324.6 228.1L325.1 228.5L325.6 228.9L326.1 229.3L326.6 229.7L327.1 230.1L327.6 230.5L328.1 230.9L328.7 231.3L329.2 231.7L329.7 232.1L330.2 232.5L330.7 232.9L331.2 233.3L331.7 233.7L332.2 234L332.7 234.4L333.2 234.8L333.8 235.2L334.3 235.5L334.8 235.9L335.3 236.2L335.8 236.6L336.3 237L336.8 237.4L337.3 237.8L337.8 238.2L338.3 238.6L338.9 239L339.4 239.4L339.9 239.7L340.4 240.1L340.9 240.4L341.4 240.8L341.9 241.1L342.4 241.5L342.9 241.9L343.4 242.3L344 242.7L344.5 243.1L345 243.5L345.5 243.9L346 244.2L346.5 244.6L347 244.9L347.5 245.2L348 245.6L348.5 245.9L349.1 246.3L349.6 246.7L350.1 247.1L350.6 247.5L351.1 247.9L351.6 248.2L352.1 248.6L352.6 248.9L353.1 249.2L353.6 249.6L354.2 249.9L354.7 250.3L355.2 250.6L355.7 251L356.2 251.3L356.7 251.7L357.2 252L357.7 252.3L358.2 252.6L358.7 252.8L359.3 253.1L359.8 253.4L360.3 253.7L360.8 254L361.3 254.4L361.8 254.8L362.3 255.1L362.8 255.5L363.3 255.9L363.8 256.2L364.4 256.6L364.9 256.9L365.4 257.2L365.9 257.6L366.4 257.9L366.9 258.3L367.4 258.7L367.9 259.1L368.4 259.5L368.9 259.9L369.5 260.3L370 260.6L370.5 260.9L371 261.2L371.5 261.5L372 261.8L372.5 262.1L373 262.4L373.5 262.7L374 263L374.6 263.3L375.1 263.7L375.6 264L376.1 264.3L376.6 264.6L377.1 265L377.6 265.3L378.1 265.6L378.6 265.9L379.1 266.2L379.7 266.5L380.2 266.9L380.7 267.2L381.2 267.5L381.7 267.8L382.2 268.1z"/></clipPath>
<filter id="bl" x="-5%" y="-5%" width="110%" height="110%"><feGaussianBlur stdDeviation="0.6"/></filter>
<g opacity="0.62" clip-path="url(#cs)"><g filter="url(#bl)"><g transform="scale(.1)" stroke-width="6" stroke-linejoin="round">
<path fill="#e81a03" stroke="#e81a03" d="M4259 494l27-5l26-10l27-13l27-10l27-11l-21-13l-26 11l-27 10l-27 12l-27 10l-27 6zM2034 1353l27-11l27-10l27-16l-21-13l-26 16l-27 10l-27 10zM4279 507l27-5l27-10l27-13l26-10l27-10l-20-14l-27 11l-27 10l-27 13l-26 10l-27 5zM2055 1366l27-10l26-11l27-16l-20-13l-27 16l-27 10l-27 11zM4300 519l26-5l27-9l27-12l27-10l27-11l-21-13l-27 10l-26 10l-27 13l-27 10l-27 5zM2075 1383l27-10l27-11l27-15l-21-18l-27 16l-26 11l-27 10zM4347 524l27-8l26-10l27-10l27-10l-20-14l-27 11l-27 10l-27 12l-27 9zM2176 1366l27-16l-21-20l-26 17zM4394 528l27-8l27-10l26-10l-20-14l-27 10l-27 10l-26 10zM2223 1369l27-17l-20-19l-27 17zM4414 540l27-7l27-11l27-10l-21-12l-26 10l-27 10l-27 8zM2270 1372l27-18l-20-20l-27 18zM4435 554l27-8l26-10l27-11l-20-13l-27 10l-27 11l-27 7zM4455 568l27-7l27-10l27-11l-21-15l-27 11l-26 10l-27 8zM2338 1389l27-17l-21-17l-26 17zM4476 583l26-8l27-10l27-10l-20-15l-27 11l-27 10l-27 7zM2385 1388l27-15l-20-18l-27 17zM4469 605l27-7l27-8l-21-15l-26 8l-27 6zM2406 1404l26-14l-20-17l-27 15zM4490 619l26-7l-20-14l-27 7zM2453 1404l27-14l-21-15l-27 15zM4483 641l27-6l27-8l-21-15l-26 7l-27 6zM2473 1418l27-14l-20-14l-27 14zM4477 665l27-7l26-7l-20-16l-27 6l-27 7zM2494 1434l26-13l27-13l-20-17l-27 13l-27 14zM4470 690l27-7l27-7l-20-18l-27 7l-27 7zM2568 1424l26-15l-20-16l-27 15zM4464 715l27-7l-21-18l-26 7zM2588 1441l27-14l27-15l-21-16l-27 13l-26 15zM4458 738l26-6l-20-17l-27 5zM2635 1445l27-17l-20-16l-27 15zM4451 763l27-5l-20-20l-27 5zM2682 1446l27-14l27-11l27-11l27-9l26-10l27-13l-20-19l-27 13l-27 10l-27 11l-26 10l-27 11l-27 14zM2864 1397l26-15l-20-18l-27 14zM2911 1400l27-18l-21-16l-27 16zM4432 831l27-1l-21-19l-26 2zM4426 852l26-2l-20-19l-27 2zM2978 1418l27-18l-20-18l-27 18zM4440 892l26-4l-20-17l-27 3zM4433 914l27-5l-20-17l-27 5zM3093 1439l27-18l-20-21l-27 18zM4454 929l26-4l-20-16l-27 5zM3140 1442l27-18l-20-20l-27 17zM4420 962l27-7l27-7l-20-19l-27 7l-27 5zM3188 1447l26-20l-20-21l-27 18zM4387 998l27-7l27-7l-21-22l-26 6l-27 8zM3235 1448l27-23l-21-20l-27 22zM4327 1040l27-6l27-6l-21-23l-26 8l-27 8zM4267 1084l27-8l27-8l27-8l-21-20l-27 9l-26 8l-27 10zM4261 1108l27-8l26-7l-20-17l-27 8l-27 8zM3323 1478l27-28l-21-15l-27 26zM4254 1128l27-6l27-6l-20-16l-27 8l-27 7zM3343 1493l27-27l-20-16l-27 28zM4275 1142l27-6l-21-14l-27 6zM4295 1158l27-7l-20-15l-27 6zM3840 1334l26-6l27-12l-20-25l-27 16l-27 11zM4289 1178l27-7l26-6l-20-14l-27 7l-27 7zM3940 1324l27-17l-20-24l-27 17zM4309 1193l27-7l-20-15l-27 7zM3452 1531l26-22l-20-16l-27 22zM4303 1217l27-7l26-6l-20-18l-27 7l-27 8zM3901 1365l27 5l-21-12l-27-3zM3472 1547l27-20l-21-18l-26 22zM4270 1252l26-9l27-10l27-8l-20-15l-27 7l-27 9l-27 9zM4082 1326l27-15l-21-15l-26 15zM3921 1374l27 5l-20-9l-27-5zM3519 1547l27-17l-20-20l-27 17zM4263 1276l27-8l27-9l27-9l-21-17l-27 10l-26 9l-27 8zM4102 1337l27-13l-20-13l-27 15zM3566 1548l27-16l-20-19l-27 17zM4230 1308l27-9l27-8l26-8l-20-15l-27 8l-27 8l-26 9zM4096 1362l27-12l27-11l-21-15l-27 13l-26 17zM3855 1462l27-13l-21-24l-27 16zM3640 1543l27-10l-20-23l-27 10zM4116 1377l27-12l27-11l27-11l27-10l26-10l27-9l27-7l-20-16l-27 8l-27 9l-27 10l-27 10l-26 11l-27 11l-27 12zM4009 1415l27-4l-20-13l-27 1zM3929 1455l27-19l-21-22l-27 18zM4137 1390l27-12l26-10l27-9l27-10l27-10l27-7l-21-18l-27 9l-26 10l-27 10l-27 11l-27 11l-27 12zM4003 1447l27-10l-21-22l-27 7zM4157 1405l27-12l27-9l-21-16l-26 10l-27 12zM4333 1458l27-13l27-11l27-8l26-7l-20-11l-27 9l-27 12l-26 13l-27 15zM4407 1452l27-5l-20-21l-27 8zM4327 1484l27-14l-21-12l-27 17zM4374 1494l27-10l-21-24l-26 10z"/>
<path fill="#e22004" stroke="#e22004" d="M4232 497l27-3l-21-13l-26 3zM4252 510l27-3l-20-13l-27 3zM2156 1347l26-17l-20-18l-27 17zM4320 529l27-5l-21-10l-26 5zM2203 1350l27-17l-21-20l-27 17zM4340 538l27-4l27-6l-20-12l-27 8l-27 5zM4388 547l26-7l-20-12l-27 6zM4408 561l27-7l-21-14l-26 7zM2318 1372l26-17l-20-20l-27 19zM4428 575l27-7l-20-14l-27 7zM2365 1372l27-17l-21-17l-27 17zM4422 596l27-7l27-6l-21-15l-27 7l-26 6zM2412 1373l27-15l-21-18l-26 15zM4442 610l27-5l-20-16l-27 7zM2432 1390l27-15l-20-17l-27 15zM4463 625l27-6l-21-14l-27 5zM2480 1390l26-14l-20-16l-27 15zM4456 648l27-7l-20-16l-27 6zM2500 1404l27-13l27-14l-21-15l-27 14l-26 14zM4423 680l27-8l27-7l-21-17l-26 9l-27 8zM2547 1408l27-15l-20-16l-27 14zM4417 703l27-6l26-7l-20-18l-27 8l-27 7zM2594 1409l27-13l-20-17l-27 14zM4437 720l27-5l-20-18l-27 6zM2642 1412l26-15l-20-15l-27 14zM4431 743l27-5l-21-18l-27 4zM2662 1428l27-14l27-11l26-10l27-11l27-10l27-13l-21-16l-26 12l-27 10l-27 10l-27 10l-27 12l-26 15zM4424 768l27-5l-20-20l-27 4zM2843 1378l27-14l-20-19l-27 14zM4418 790l27-3l-21-19l-26 4zM2890 1382l27-16l-20-17l-27 15zM4412 813l26-2l-20-21l-27 4zM2938 1382l26-16l-20-17l-27 17zM4405 833l27-2l-20-18l-27 2zM2958 1400l27-18l-21-16l-26 16zM3005 1400l27-19l-20-16l-27 17zM4419 874l27-3l-20-19l-27 4zM3026 1419l26-20l-20-18l-27 19zM4413 897l27-5l-21-18l-27 4zM3073 1418l27-18l-21-18l-27 17zM4406 919l27-5l-20-17l-27 4zM3120 1421l27-17l-21-20l-26 16zM4427 936l27-7l-21-15l-27 5zM4078 1067l27-6l27-14l-20-18l-27 14l-27 6zM3167 1424l27-18l-20-19l-27 17zM4394 968l26-6l-20-21l-27 7zM4099 1081l27-6l26-14l-20-14l-27 14l-27 6zM4334 1013l26-8l27-7l-20-22l-27 8l-27 8zM4119 1093l27-7l27-10l27-14l-21-17l-27 16l-26 14l-27 6zM4140 1104l26-7l27-9l27-10l27-11l27-10l26-8l27-9l-20-19l-27 7l-27 8l-27 12l-26 14l-27 14l-27 10l-27 7zM4187 1108l27-7l26-9l27-8l-20-17l-27 11l-27 10l-27 9zM3302 1461l27-26l-20-16l-27 24zM4207 1122l27-7l27-7l-21-16l-26 9l-27 7zM4228 1135l26-7l-20-13l-27 7zM4248 1149l27-7l-21-14l-26 7zM3792 1322l27-4l27-11l-20-25l-27 16l-27 11zM4242 1172l26-7l27-7l-20-16l-27 7l-27 7zM3893 1316l27-16l-20-26l-27 17zM3813 1333l27 1l-21-16l-27 4zM4235 1195l27-8l27-9l-21-13l-26 7l-27 7zM3967 1307l27-16l-20-22l-27 14zM3833 1342l27 3l-20-11l-27-1zM3431 1515l27-22l-20-18l-27 24zM4229 1219l27-8l26-10l27-8l-20-15l-27 9l-27 8l-27 8zM4014 1311l27-15l27-14l-20-17l-27 12l-27 14zM4222 1243l27-8l27-9l27-9l-21-16l-26 10l-27 8l-27 9zM4062 1311l26-15l27-11l27-11l-20-16l-27 12l-27 12l-27 14zM3499 1527l27-17l-21-20l-27 19zM4109 1311l27-12l26-11l27-11l27-9l27-8l27-8l-21-17l-27 8l-26 10l-27 10l-27 11l-27 11l-27 11zM3546 1530l27-17l-21-19l-26 16zM4129 1324l27-10l27-11l27-10l26-9l27-8l-20-16l-27 8l-27 9l-27 11l-26 11l-27 12zM3942 1387l26 2l-20-10l-27-5zM3593 1532l27-12l27-10l27-9l26-9l27-10l27-10l27-10l27-9l26-12l-20-24l-27 13l-27 11l-26 10l-27 10l-27 9l-27 9l-27 10l-26 11l-27 13zM4150 1339l26-11l27-10l27-10l-20-15l-27 10l-27 11l-27 10zM3962 1401l27-2l-21-10l-26-2zM3882 1449l26-17l-20-25l-27 18zM3956 1436l26-14l27-7l-20-16l-27 2l-27 13zM4354 1470l26-10l27-8l-20-18l-27 11l-27 13z"/>
<path fill="#d82b0b" stroke="#d82b0b" d="M4205 497l27 0l-20-13l-27-1zM2142 1299l26-18l-20-13l-27 17zM4226 510l26 0l-20-13l-27 0zM2162 1312l27-18l-21-13l-26 18zM4246 521l27 0l-21-11l-26 0zM2182 1330l27-17l-20-19l-27 18zM2230 1333l26-19l-20-20l-27 19zM4314 541l26-3l-20-9l-27 2zM2277 1334l27-19l-21-19l-27 18zM4334 555l27-4l-21-13l-26 3zM4354 570l27-4l-20-15l-27 4zM2371 1338l27-16l-20-20l-27 16zM4375 586l27-5l-21-15l-27 4zM2418 1340l27-14l-20-19l-27 15zM4368 608l27-6l-20-16l-27 5zM2466 1343l26-16l-20-16l-27 15zM4362 629l27-6l27-6l-21-15l-27 6l-26 5zM2486 1360l27-16l-21-17l-26 16zM4382 646l27-7l-20-16l-27 6zM2533 1362l27-15l-20-19l-27 16zM4376 671l27-6l-21-19l-26 7zM2580 1363l27-14l-20-17l-27 15zM4370 693l26-6l-20-16l-27 4zM2628 1366l26-13l27-11l-20-19l-27 13l-27 13zM4363 714l27-5l-20-16l-27 4zM2675 1369l27-11l26-10l27-12l27-12l-20-21l-27 14l-27 13l-27 12l-27 11zM4384 729l26-5l-20-15l-27 5zM2802 1343l27-14l27-14l-20-19l-27 15l-27 13zM4377 753l27-6l-20-18l-27 5zM2850 1345l26-13l27-14l-20-18l-27 15l-27 14zM4371 776l27-4l-21-19l-27 4zM2897 1349l27-16l-21-15l-27 14zM4364 798l27-4l-20-18l-27 3zM2944 1349l27-15l-21-17l-26 16zM2964 1366l27-16l-20-16l-27 15zM4378 836l27-3l-20-18l-27 4zM3012 1365l26-17l-20-14l-27 16zM4372 860l27-4l-21-20l-26 6zM3032 1381l27-16l-21-17l-26 17zM4366 883l26-5l-20-18l-27 6zM4017 1016l27-9l-20-16l-27 11zM3079 1382l27-16l-20-16l-27 15zM4359 905l27-4l-20-18l-27 5zM4038 1031l26-7l27-14l-20-18l-27 15l-27 9zM3126 1384l27-17l-20-17l-27 16zM4112 1029l26-19l-20-19l-27 19zM4346 955l27-7l27-7l-20-18l-27 5l-27 5zM4052 1064l26 3l-20-18l-27-1zM3194 1406l27-20l-21-17l-26 18zM4313 992l27-8l27-8l-21-21l-26 6l-27 6zM4179 1045l27-15l-20-19l-27 17zM4226 1048l27-12l27-8l-20-22l-27 10l-27 14zM3262 1425l26-23l-20-18l-27 21zM4106 1129l27-7l-20-13l-27 3zM4127 1144l27-8l-21-14l-27 7zM3725 1303l27-10l-21-23l-27 10zM3350 1450l26-26l-20-15l-27 26zM4094 1175l26-8l27-7l27-9l-20-15l-27 8l-27 8l-27 8zM3799 1298l27-16l-21-26l-27 19zM3718 1313l27 1l-20-11l-27 1zM3370 1466l27-25l-21-17l-26 26zM4114 1191l27-8l27-9l-21-14l-27 7l-26 8zM4054 1235l27-9l27-11l26-9l27-9l-20-14l-27 8l-27 9l-27 8l-26 9zM3947 1283l27-14l26-12l-20-20l-27 10l-27 12zM3786 1330l27 3l-21-11l-26 0zM4074 1254l27-12l27-12l27-9l27-9l-21-15l-27 9l-26 9l-27 11l-27 9zM3458 1493l27-21l-21-19l-26 22zM3874 1362l27 3l-21-10l-26-4zM3526 1510l26-16l-20-20l-27 16zM3894 1375l27-1l-20-9l-27-3zM3787 1430l27-13l-20-24l-27 15zM3600 1500l26-11l27-10l27-9l-20-22l-27 11l-27 10l-27 11zM3915 1393l27-6l-21-13l-27 1zM3861 1425l27-18l-20-22l-27 16z"/>
<path fill="#d43818" stroke="#d43818" d="M4178 494l27 3l-20-14l-27-2zM2168 1281l27-19l-20-13l-27 19zM4199 508l27 2l-21-13l-27-3zM2189 1294l27-18l-21-14l-27 19zM2256 1314l27-18l-20-21l-27 19zM2304 1315l26-17l-20-20l-27 18zM2351 1318l27-16l-21-20l-27 16zM4301 579l27-4l-21-15l-27 3zM2425 1307l27-15l-21-18l-27 14zM4321 596l27-5l-20-16l-27 4zM2472 1311l27-16l-21-18l-26 15zM4315 618l27-5l-21-17l-27 4zM2519 1311l27-15l-20-16l-27 15zM4308 640l27-5l-20-17l-27 3zM2540 1328l26-15l27-13l-20-18l-27 14l-27 15zM4329 658l27-5l-21-18l-27 5zM2587 1332l27-14l26-13l-20-18l-27 13l-27 13zM4322 680l27-5l-20-17l-27 6zM2661 1323l27-12l26-13l-20-19l-27 13l-27 13zM4316 701l27-4l-21-17l-26 5zM2735 1317l27-14l26-13l-20-19l-27 14l-27 13zM2809 1311l27-15l26-14l-20-18l-27 13l-27 13zM4330 738l27-4l-21-16l-26 4zM2883 1300l27-15l-21-18l-27 15zM4324 760l26-3l-20-19l-27 5zM2930 1303l27-15l-21-18l-26 15zM2950 1317l27-14l27-15l-20-15l-27 15l-27 15zM4338 801l26-3l-20-19l-27 3zM2998 1319l26-15l-20-16l-27 15zM4331 823l27-4l-20-18l-27 4zM3018 1334l27-16l27-14l-21-14l-27 14l-26 15zM4325 847l27-5l-21-19l-27 4zM3950 991l26-6l27-12l-20-20l-27 14l-27 8zM3065 1334l27-15l-20-15l-27 14zM4318 870l27-4l-20-19l-27 3zM4024 991l26-17l-20-19l-27 18zM3086 1350l26-15l27-15l-20-16l-27 15l-27 15zM4312 891l27-3l-21-18l-26 2zM4071 992l27-18l-21-19l-27 19zM3133 1350l27-15l-21-15l-27 15zM3153 1367l27-15l-20-17l-27 15zM4326 933l27-5l-21-19l-26 4zM4138 1010l27-20l-20-19l-27 20zM3200 1369l27-19l-20-15l-27 17zM4293 967l27-6l-21-23l-27 6zM4025 1060l27 4l-21-16l-27-4zM4233 1016l27-10l-21-24l-27 12zM4045 1076l27 3l-20-15l-27-4zM3268 1384l27-20l-21-14l-26 17zM3288 1402l27-22l-20-16l-27 20zM4059 1115l27-3l-20-18l-27 1zM4053 1141l27-5l-21-21l-27 4zM3678 1288l26-8l27-10l-20-27l-27 13l-27 10zM4046 1166l27-6l-20-19l-27 5zM3671 1307l27-3l-20-16l-27 9zM4040 1189l27-6l-21-17l-26 5zM3826 1282l26-18l-20-27l-27 19zM3692 1311l26 2l-20-9l-27 3zM3397 1441l27-23l-21-17l-27 23zM3900 1274l26-15l27-12l27-10l27-10l27-10l-21-20l-27 10l-26 9l-27 9l-27 11l-27 12zM3417 1457l27-22l-20-17l-27 23zM3759 1328l27 2l-20-8l-27-3zM3485 1472l27-17l-21-20l-27 18zM3827 1349l27 2l-21-9l-27-4zM3532 1474l27-14l27-12l26-10l27-10l27-10l27-9l27-11l-21-24l-27 14l-26 11l-27 10l-27 9l-27 11l-27 12l-26 14zM3847 1366l27-4l-20-11l-27-2zM3767 1408l27-15l-21-23l-27 15z"/>
<path fill="#df5e47" stroke="#df5e47" d="M4152 492l26 2l-20-13l-27-2zM2222 1243l27-18l-21-13l-26 18zM4172 505l27 3l-21-14l-26-2zM2242 1256l27-18l-20-13l-27 18zM4192 518l27 2l-20-12l-27-3zM4213 533l27-1l-21-12l-27-2zM2337 1262l27-14l-21-20l-27 13zM4233 548l27-2l-20-14l-27 1zM2411 1256l27-13l26-12l-20-19l-27 11l-27 13zM2485 1247l27-13l26-12l-20-17l-27 13l-27 13zM4247 586l27-3l-20-18l-27 4zM2532 1251l27-12l27-12l26-15l-20-14l-27 13l-27 11l-26 12zM4241 609l27-5l-21-18l-27 5zM3732 807l26-10l27-12l-20-15l-27 11l-27 10zM2606 1241l27-12l-21-17l-26 15zM4234 632l27-7l27-4l-20-17l-27 5l-27 7zM3752 816l27-9l27-12l-21-10l-27 12l-26 10zM2653 1246l27-14l-20-16l-27 13zM4201 667l27-8l27-8l27-6l-21-20l-27 7l-26 9l-27 9zM2700 1247l27-13l-20-16l-27 14zM4195 691l27-8l26-7l-20-17l-27 8l-27 8zM2748 1252l26-13l27-14l-20-15l-27 12l-27 12zM4188 712l27-7l27-7l-20-15l-27 8l-27 7zM2795 1257l27-13l26-14l-20-18l-27 13l-27 14zM4209 725l27-7l26-5l-20-15l-27 7l-27 7zM2869 1250l27-16l-21-19l-27 15zM4229 739l27-6l-20-15l-27 7zM3130 1169l27-15l-20-15l-27 12zM3050 1197l27-8l-21-18l-26 6zM2916 1252l27-14l-21-19l-26 15zM4250 754l26-5l-20-16l-27 6zM3151 1181l27-14l26-13l-20-15l-27 15l-27 15zM2963 1256l27-14l27-11l27-9l26-10l-20-15l-27 7l-27 9l-26 12l-27 13zM4243 776l27-5l-20-17l-27 7zM3868 922l27-9l27-14l-21-16l-27 16l-26 6zM3171 1193l27-12l27-14l-21-13l-26 13l-27 14zM4264 792l26-5l-20-16l-27 5zM3862 943l26-4l27-9l27-14l-20-17l-27 14l-27 9l-27 3zM3192 1206l26-12l27-14l-20-13l-27 14l-27 12zM4257 813l27-4l-20-17l-27 5zM3962 934l27-18l-20-19l-27 19zM3882 961l27-4l-21-18l-26 4zM3132 1250l26-12l27-11l27-11l27-11l27-13l-21-12l-27 14l-26 12l-27 11l-27 11l-27 10zM3876 980l26-1l-20-18l-27 3zM3152 1263l27-12l27-12l26-11l27-12l-20-11l-27 11l-27 11l-27 11l-26 12zM4271 853l27-3l-20-19l-27 5zM3172 1277l27-13l27-11l27-12l-21-13l-26 11l-27 12l-27 12zM4265 876l27-4l-21-19l-27 5zM4077 955l27-19l-20-18l-27 18zM3193 1291l27-13l26-12l27-13l-20-12l-27 12l-27 11l-27 13zM4258 898l27-4l-20-18l-27 5zM4124 954l27-18l-20-16l-27 16zM3240 1293l27-13l27-13l-21-14l-27 13l-26 12zM4252 924l27-7l-21-19l-26 6zM4145 971l27-18l-21-17l-27 18zM3957 1032l27 0l-20-12l-27 1zM3260 1307l27-13l27-13l-20-14l-27 13l-27 13zM4192 972l27-13l27-8l26-7l-20-20l-27 7l-27 8l-26 14zM3978 1043l26 1l-20-12l-27 0zM3281 1319l27-13l26-14l-20-11l-27 13l-27 13zM3998 1057l27 3l-21-16l-26-1zM3301 1333l27-15l-20-12l-27 13zM3322 1346l26-15l-20-13l-27 15zM4012 1099l27-4l-21-19l-26 3zM3342 1360l27-16l-21-13l-26 15zM4006 1124l26-5l-20-20l-27 5zM3577 1284l27-4l26-7l27-7l27-10l27-13l27-17l-21-23l-27 15l-26 11l-27 11l-27 12l-27 9l-27 8zM3362 1375l27-17l-20-14l-27 16zM3972 1159l27-7l-20-22l-27 7zM3758 1252l27-21l-21-23l-26 18zM3597 1299l27-1l-20-18l-27 4zM3383 1388l27-18l-21-12l-27 17zM3886 1213l26-10l27-10l27-8l-20-19l-27 8l-27 9l-27 8zM3832 1237l27-14l-21-23l-26 14zM3618 1306l26 0l-20-8l-27 1zM3403 1401l27-17l-20-14l-27 18zM3450 1400l27-13l-20-16l-27 13zM3471 1417l27-14l26-11l27-10l27-10l27-11l-21-16l-26 11l-27 10l-27 10l-27 11l-27 13zM3732 1329l27-1l-20-9l-27-2zM3598 1390l27-11l27-12l27-15l-21-18l-26 14l-27 13l-27 11zM3545 1410l27-10l-21-18l-27 10zM3699 1374l27-14l27-12l27-9l-21-11l-27 1l-26 9l-27 14z"/>
<path fill="#e57964" stroke="#e57964" d="M4125 491l27 1l-21-13l-27-1zM2276 1209l26-13l27-10l27-9l27-11l27-10l26-11l27-10l27-11l27-11l-21-13l-26 11l-27 10l-27 11l-27 10l-27 11l-26 10l-27 10l-27 10l-27 13zM4145 504l27 1l-20-13l-27-1zM2296 1222l27-12l27-11l26-9l27-11l27-10l27-10l27-11l26-11l27-11l-20-13l-27 11l-27 11l-27 10l-26 11l-27 10l-27 11l-27 9l-27 10l-26 13zM4166 517l26 1l-20-13l-27-1zM2316 1241l27-13l27-11l27-11l27-11l26-10l27-10l27-11l27-12l27-11l26-12l-20-15l-27 12l-27 11l-26 11l-27 11l-27 10l-27 10l-27 11l-26 9l-27 11l-27 12zM4186 534l27-1l-21-15l-26-1zM2498 1190l26-12l27-11l27-13l27-12l-21-13l-26 12l-27 11l-27 12l-27 11zM4206 552l27-4l-20-15l-27 1zM2572 1182l26-14l27-12l-20-14l-27 12l-27 13zM4200 573l27-4l-21-17l-26 4zM3637 788l27-7l27-8l27-9l26-11l27-11l27-11l27-14l-21-15l-26 11l-27 11l-27 11l-27 11l-27 9l-26 10l-27 8zM2860 1086l27-5l27-8l26-13l-20-18l-27 14l-27 8l-26 7zM2619 1184l27-13l26-12l-20-15l-27 12l-27 12zM4194 597l26-6l-20-18l-27 5zM3818 745l27-15l-20-13l-27 14zM3658 802l26-5l-20-16l-27 7zM2961 1078l27-22l-21-14l-27 18zM2880 1095l27-3l-20-11l-27 5zM2639 1199l27-13l27-13l27-11l-21-16l-27 13l-26 12l-27 13zM4160 631l27-8l27-7l-20-19l-27 7l-27 8zM3839 758l27-14l-21-14l-27 15zM3678 814l27-3l-21-14l-26 5zM2981 1092l27-21l-20-15l-27 22zM2928 1098l26 0l-20-9l-27 3zM2686 1202l27-13l27-12l-20-15l-27 11l-27 13zM4127 664l27-6l27-8l-21-19l-26 8l-27 7zM3859 770l27-12l27-13l-21-13l-26 12l-27 14zM3698 824l27-2l-20-11l-27 3zM2975 1098l27-4l26-11l-20-12l-27 21l-27 6zM2734 1206l26-13l27-15l-20-15l-27 14l-27 12zM4121 689l27-7l-21-18l-27 8zM3853 793l27-12l26-12l-20-11l-27 12l-27 13zM2781 1210l27-15l26-15l-20-17l-27 15l-27 15zM4061 730l27-8l26-10l27-7l-20-16l-27 9l-27 10l-27 9zM3766 845l27-7l27-11l26-12l27-13l27-12l-20-9l-27 12l-27 12l-27 11l-27 10l-26 7zM3069 1115l27-10l27-13l-21-17l-26 12l-27 10zM2828 1212l27-15l-21-17l-26 15zM4081 745l27-9l27-9l27-8l-21-14l-27 7l-26 10l-27 8zM3786 857l27-8l27-11l27-12l-21-11l-26 12l-27 11l-27 7zM3116 1122l27-12l27-13l-20-18l-27 13l-27 13zM3036 1148l27-7l27-9l-21-17l-27 7l-26 5zM2875 1215l27-16l-20-18l-27 16zM4102 758l26-8l27-8l-20-15l-27 9l-27 9zM3807 872l27-7l26-12l27-15l-20-12l-27 12l-27 11l-27 8zM3164 1125l26-14l27-16l-20-14l-27 16l-27 13zM2922 1219l27-14l27-12l27-9l27-7l-21-22l-27 7l-26 11l-27 12l-27 14zM4122 770l27-7l27-7l-21-14l-27 8l-26 8zM3881 869l27-18l-21-13l-27 15zM3827 888l27-5l-20-18l-27 7zM3211 1124l27-15l-21-14l-27 16zM4142 784l27-7l27-8l-20-13l-27 7l-27 7zM3901 883l27-19l-20-13l-27 18zM3821 906l27-1l-21-17l-27 1zM3231 1139l27-15l-20-15l-27 15zM4163 797l27-7l26-7l-20-14l-27 8l-27 7zM3922 899l26-19l-20-16l-27 19zM3252 1152l26-15l-20-13l-27 15zM4183 809l27-6l-20-13l-27 7zM3835 946l27-3l-21-18l-27 2zM3272 1165l27-13l-21-15l-26 15zM4204 825l26-6l-20-16l-27 6zM3989 916l27-19l-20-19l-27 19zM3828 966l27-2l-20-18l-27 2zM3292 1180l27-13l27-15l-20-14l-27 14l-27 13zM4197 847l27-6l-20-16l-27 6zM4036 918l27-18l-20-19l-27 16zM3849 981l27-1l-21-16l-27 2zM3313 1192l27-13l26-14l-20-13l-27 15l-27 13zM4191 871l27-7l26-6l-20-17l-27 6l-27 7zM4084 918l26-15l-20-18l-27 15zM3306 1215l27-12l27-13l27-11l-21-14l-26 14l-27 13l-27 12zM4131 920l27-14l26-11l27-8l27-6l-20-17l-27 7l-27 10l-27 10l-27 12zM3327 1227l27-12l26-12l-20-13l-27 13l-27 12zM4151 936l27-15l27-10l27-7l-21-17l-27 8l-26 11l-27 14zM3320 1253l27-13l27-14l27-11l-21-12l-26 12l-27 12l-27 13zM3341 1266l27-14l26-13l-20-13l-27 14l-27 13zM3951 1047l27-4l-21-11l-27 3zM3361 1279l27-14l27-12l-21-14l-26 13l-27 14zM3971 1060l27-3l-20-14l-27 4zM3382 1291l26-14l27-11l27-10l-20-14l-27 11l-27 12l-27 14zM3402 1303l27-14l27-10l26-9l27-8l27-9l27-10l27-11l26-13l-20-17l-27 11l-27 12l-26 11l-27 10l-27 10l-27 10l-27 11l-26 14zM3958 1110l27-6l-20-21l-27 6zM3637 1240l27-11l26-11l27-15l-20-20l-27 12l-27 11l-27 13zM3476 1293l27-10l27-7l26-7l-20-16l-27 9l-27 8l-26 9zM3396 1329l26-14l27-12l-20-14l-27 14l-27 14zM3898 1155l27-10l27-8l27-7l-21-20l-26 6l-27 8l-27 10zM3738 1226l26-18l-20-21l-27 16zM3416 1343l27-13l27-11l26-12l27-10l27-7l-20-14l-27 7l-27 10l-27 10l-27 12l-26 14zM3812 1214l26-14l27-9l27-8l-20-19l-27 8l-27 9l-27 12zM3463 1346l27-11l27-13l27-10l26-8l-20-14l-27 7l-27 10l-26 12l-27 11zM3611 1330l27-12l-20-12l-27 12z"/>
<path fill="#ec9686" stroke="#ec9686" d="M4098 495l27-4l-21-13l-26 4zM3723 639l27-9l26-11l27-11l-20-13l-27 11l-27 11l-27 9zM2597 1076l27-13l27-12l-21-13l-26 12l-27 13zM4118 508l27-4l-20-13l-27 4zM3743 652l27-9l27-10l27-11l-21-14l-27 11l-26 11l-27 9zM2618 1090l26-13l27-12l-20-14l-27 12l-27 13zM4139 521l27-4l-21-13l-27 4zM3683 699l27-9l27-9l27-10l26-11l27-12l27-11l27-12l-21-15l-26 12l-27 11l-27 10l-27 9l-27 10l-26 10l-27 9zM2772 1049l27-9l27-11l26-12l-20-17l-27 12l-27 10l-26 9zM2638 1105l27-13l27-12l26-12l-20-14l-27 11l-27 12l-26 13zM4159 537l27-3l-20-17l-27 4zM3811 675l27-13l26-11l27-11l27-12l-20-15l-27 12l-27 12l-27 11l-27 12zM3543 773l27-8l26-8l27-10l27-12l27-10l27-8l26-10l-20-17l-27 9l-27 8l-26 11l-27 11l-27 10l-27 9l-27 10zM2685 1108l27-12l27-12l27-10l26-9l27-10l27-9l27-10l27-13l-21-18l-27 12l-26 12l-27 11l-27 9l-27 8l-27 11l-26 12l-27 12zM4153 561l27-5l-21-19l-27 7zM3858 677l27-12l27-11l26-11l27-12l-20-14l-27 11l-27 12l-27 11l-26 11zM3563 787l27-7l-20-15l-27 8zM2920 1042l27-16l-21-18l-26 15zM2732 1110l27-11l27-11l27-9l-21-14l-26 9l-27 10l-27 12zM4120 596l26-9l27-9l-20-17l-27 9l-27 8zM3878 691l27-11l27-11l27-11l27-12l26-13l-20-14l-27 12l-27 12l-26 11l-27 11l-27 12zM3584 800l26-6l-20-14l-27 7zM2967 1042l27-17l-20-15l-27 16zM2753 1122l27-12l26-10l27-9l-20-12l-27 9l-27 11l-27 11zM3979 674l27-12l27-12l27-11l26-10l27-8l27-9l-20-16l-27 8l-27 8l-27 10l-27 11l-26 13l-27 12zM3604 810l27-4l-21-12l-26 6zM2988 1056l26-19l-20-12l-27 17zM2773 1136l27-14l27-11l27-10l-21-10l-27 9l-26 10l-27 12zM4026 676l27-11l27-10l27-9l-21-17l-26 10l-27 11l-27 12zM3008 1071l27-18l-21-16l-26 19zM2874 1110l27-8l-21-7l-26 6zM2794 1149l26-14l27-14l-20-10l-27 11l-27 14zM3672 827l26-3l-20-10l-27 2zM3055 1070l27-12l-20-19l-27 14zM2948 1100l27-2l-21 0l-26 0zM2814 1163l27-15l-21-13l-26 14zM3692 838l27-2l-21-12l-26 3zM3102 1075l27-13l27-14l-20-17l-27 14l-27 13zM2995 1107l27-3l-20-10l-27 4zM2834 1180l27-16l-20-16l-27 15zM3712 848l27 0l-20-12l-27 2zM3150 1079l26-15l27-15l-20-15l-27 14l-27 14zM3016 1127l26-5l-20-18l-27 3zM2882 1181l26-15l-20-18l-27 16zM3197 1081l27-16l-21-16l-27 15zM2929 1185l27-12l26-11l27-7l-20-23l-27 9l-27 12l-27 13zM3941 812l27-13l26-12l27-9l27-8l-20-11l-27 9l-27 10l-27 12l-27 11zM3244 1080l27-14l-21-15l-26 14zM4042 791l26-8l27-6l-20-12l-27 5l-27 8zM3934 835l27-14l27-12l-20-10l-27 13l-27 12zM3264 1095l27-14l-20-15l-27 14zM4062 803l27-7l27-6l-21-13l-27 6l-26 8zM3928 864l27-18l-21-11l-26 16zM3794 907l27-1l-21-17l-26 0zM3285 1109l27-14l26-13l-20-14l-27 13l-27 14zM4109 809l27-5l-20-14l-27 6zM3305 1123l27-14l27-13l-21-14l-26 13l-27 14zM4103 832l27-7l-21-16l-27 6zM3996 878l26-16l-20-16l-27 15zM3808 948l27-2l-21-19l-26 2zM3352 1124l27-14l-20-14l-27 13zM4043 881l27-14l26-11l27-8l27-8l-20-15l-27 7l-27 8l-27 10l-27 12zM3802 969l26-3l-20-18l-27 3zM3373 1138l27-13l26-13l-20-15l-27 13l-27 14zM4090 885l27-12l27-9l-21-16l-27 8l-26 11zM3393 1152l27-12l27-13l27-11l26-10l-20-16l-27 11l-27 11l-26 13l-27 13zM3440 1154l27-13l27-11l27-11l27-11l26-12l-20-13l-27 12l-27 11l-26 10l-27 11l-27 13zM3836 1015l27-3l-21-15l-26 3zM3461 1166l27-10l26-11l27-11l27-12l27-12l-21-14l-26 12l-27 11l-27 11l-27 11l-27 13zM3856 1028l27-4l-20-12l-27 3zM3481 1180l27-11l27-11l27-11l26-11l27-13l-20-13l-27 12l-27 12l-27 11l-26 11l-27 10zM3877 1042l27-4l-21-14l-27 4zM3502 1195l26-13l27-12l27-11l27-10l27-13l-21-13l-27 13l-26 11l-27 11l-27 11l-27 11zM3897 1057l27-4l-20-15l-27 4zM3549 1197l27-11l26-11l27-12l27-13l-20-14l-27 13l-27 10l-27 11l-27 12zM3918 1071l26-5l-20-13l-27 4zM3623 1191l27-13l26-12l27-13l-20-16l-27 13l-27 13l-27 12zM3911 1096l27-7l-20-18l-27 7zM3697 1183l27-14l26-13l-20-17l-27 14l-27 13zM3744 1187l27-14l27-10l26-10l27-10l27-9l27-10l27-8l-21-20l-27 9l-26 10l-27 9l-27 11l-27 10l-27 11l-26 13z"/>
<path fill="#efa696" stroke="#efa696" d="M4044 510l27-8l27-7l-20-13l-27 7l-27 8zM3803 608l27-11l27-12l27-11l26-10l27-11l27-11l27-10l27-11l-21-13l-27 11l-26 10l-27 11l-27 11l-27 10l-27 11l-26 12l-27 11zM3321 789l27-9l26-10l27-9l27-11l27-12l27-10l26-9l27-10l27-10l27-9l27-11l26-11l27-10l27-9l27-10l-21-13l-26 10l-27 9l-27 10l-27 11l-27 11l-26 9l-27 10l-27 10l-27 9l-27 10l-26 11l-27 11l-27 10l-27 10l-27 8zM2651 1051l27-11l26-12l27-10l27-9l27-10l27-12l26-12l-20-13l-27 12l-27 11l-26 11l-27 9l-27 10l-27 12l-27 11zM4065 524l27-9l26-7l-20-13l-27 7l-27 8zM3824 622l26-12l27-12l27-10l27-11l27-11l26-11l27-10l27-11l-20-13l-27 11l-27 10l-27 11l-27 11l-26 10l-27 11l-27 12l-27 11zM3341 802l27-9l27-9l27-10l26-11l27-11l27-10l27-10l27-10l26-9l27-10l27-11l27-11l27-9l26-10l27-10l-20-13l-27 10l-27 9l-27 10l-26 11l-27 11l-27 9l-27 10l-27 10l-26 9l-27 10l-27 12l-27 11l-27 9l-26 10l-27 9zM2671 1065l27-11l27-12l27-11l26-9l27-10l27-12l27-12l-21-13l-26 12l-27 12l-27 10l-27 9l-27 10l-26 12l-27 11zM4085 537l27-9l27-7l-21-13l-26 7l-27 9zM3871 625l27-12l26-12l27-12l27-11l27-9l27-10l26-11l-20-14l-27 11l-27 10l-26 11l-27 11l-27 11l-27 10l-27 12zM3388 805l27-10l27-9l27-11l27-9l26-8l27-10l27-9l27-10l27-11l26-11l27-8l-20-18l-27 11l-27 11l-27 10l-26 9l-27 10l-27 10l-27 10l-27 11l-26 11l-27 10l-27 9zM2852 1017l27-12l27-14l-20-16l-27 13l-27 12zM2718 1068l27-11l27-8l-20-18l-27 11l-27 12zM3918 628l27-11l27-12l26-11l27-11l27-11l27-11l27-9l26-8l27-7l-20-16l-27 7l-27 9l-27 11l-26 11l-27 10l-27 9l-27 11l-27 12l-26 12zM3436 807l26-9l27-9l27-8l27-8l-21-15l-26 8l-27 9l-27 11l-27 9zM2900 1023l26-15l27-14l-20-16l-27 13l-27 14zM3965 631l27-12l27-11l27-11l26-11l27-8l27-8l27-9l-21-17l-26 8l-27 9l-27 11l-27 11l-27 11l-26 11l-27 12zM3510 801l26-7l27-7l-20-14l-27 8l-27 8zM2947 1026l27-16l26-16l-20-14l-27 14l-27 14zM4012 633l27-11l27-10l27-8l27-8l-21-18l-27 8l-26 11l-27 11l-27 11zM3530 812l27-6l27-6l-21-13l-27 7l-26 7zM2994 1025l27-16l-21-15l-26 16zM3577 816l27-6l-20-10l-27 6zM3014 1037l27-13l-20-15l-27 16zM3624 819l27-3l-20-10l-27 4zM3035 1053l27-14l26-12l-20-15l-27 12l-27 13zM2847 1121l27-11l-20-9l-27 10zM3645 829l27-2l-21-11l-27 3zM3082 1058l27-13l27-14l-21-17l-27 13l-26 12zM2841 1148l27-15l26-13l27-11l27-9l-20-2l-27 4l-27 8l-27 11l-27 14zM3156 1048l27-14l-21-15l-26 12zM2968 1112l27-5l-20-9l-27 2zM2861 1164l27-16l27-14l-21-14l-26 13l-27 15zM3203 1049l27-14l-20-15l-27 14zM2908 1166l27-13l27-12l27-9l27-5l-21-20l-27 5l-26 10l-27 12l-27 14zM3733 861l27 0l-21-13l-27 0zM3224 1065l26-14l27-13l-20-14l-27 11l-27 14zM3753 875l27 0l-20-14l-27 0zM3271 1066l27-13l26-12l-20-15l-27 12l-27 13zM3988 809l27-10l27-8l-21-13l-27 9l-26 12zM3774 889l26 0l-20-14l-27 0zM3291 1081l27-13l27-13l27-13l-21-13l-27 12l-26 12l-27 13zM3955 846l27-14l26-11l27-10l27-8l-20-12l-27 8l-27 10l-27 12l-27 14zM3338 1082l27-12l27-13l-20-15l-27 13l-27 13zM3975 861l27-15l27-12l27-10l26-9l27-6l-20-13l-27 7l-27 8l-27 10l-26 11l-27 14zM3788 929l26-2l-20-20l-27 3zM3359 1096l27-13l26-12l27-11l-20-16l-27 13l-27 13l-27 12zM4022 862l27-12l27-10l27-8l-21-17l-26 9l-27 10l-27 12zM3781 951l27-3l-20-19l-27 4zM3379 1110l27-13l27-12l27-11l26-10l27-11l-20-16l-27 12l-27 11l-27 11l-26 12l-27 13zM3775 972l27-3l-21-18l-27 5zM3426 1112l27-11l27-11l27-11l27-11l26-12l-20-14l-27 11l-27 11l-26 10l-27 11l-27 12zM3795 986l27-3l-20-14l-27 3zM3500 1106l27-11l27-12l27-13l-21-14l-26 12l-27 11l-27 11zM3816 1000l26-3l-20-14l-27 3zM3574 1096l27-12l27-13l-20-14l-27 13l-27 13zM3595 1110l27-14l26-12l-20-13l-27 13l-27 12zM3830 1034l26-6l-20-13l-27 5zM3615 1123l27-13l27-13l-21-13l-26 12l-27 14zM3850 1048l27-6l-21-14l-26 6zM3636 1136l26-13l27-12l-20-14l-27 13l-27 13zM3870 1062l27-5l-20-15l-27 6zM3656 1150l27-13l27-12l-21-14l-27 12l-26 13zM3864 1087l27-9l27-7l-21-14l-27 5l-26 7zM3703 1153l27-14l27-11l-21-16l-26 13l-27 12zM3750 1156l27-11l27-10l27-11l27-9l26-10l27-9l-20-18l-27 9l-27 9l-27 11l-26 10l-27 11l-27 11z"/>
<path fill="#f2b5a8" stroke="#f2b5a8" d="M4018 521l26-11l-20-13l-27 11zM3267 803l27-6l27-8l-21-14l-26 8l-27 6zM2838 975l27-13l27-14l-20-13l-27 14l-27 13zM4038 534l27-10l-21-14l-26 11zM3288 816l26-6l27-8l-20-13l-27 8l-27 6zM2859 988l27-13l26-14l-20-13l-27 14l-27 13zM4058 548l27-11l-20-13l-27 10zM3335 821l27-7l26-9l-20-12l-27 9l-27 8zM2906 991l27-13l-21-17l-26 14zM3355 831l27-6l27-9l27-9l-21-12l-27 10l-26 9l-27 7zM2953 994l27-14l-20-16l-27 14zM3402 835l27-10l27-8l27-8l27-8l-21-12l-27 9l-26 9l-27 9l-27 9zM3000 994l27-15l-20-14l-27 15zM3476 828l27-8l27-8l-20-11l-27 8l-27 8zM3021 1009l27-13l-21-17l-27 15zM3524 830l26-8l27-6l-20-10l-27 6l-27 8zM3041 1024l27-12l27-13l-21-16l-26 13l-27 13zM3571 832l27-7l26-6l-20-9l-27 6l-27 6zM3088 1027l27-13l27-11l27-11l27-12l-21-15l-27 11l-26 11l-27 12l-27 13zM3618 834l27-5l-21-10l-26 6zM3136 1031l26-12l27-13l27-12l27-11l-21-15l-26 12l-27 12l-27 11l-27 11zM3665 840l27-2l-20-11l-27 2zM3183 1034l27-14l26-12l27-10l27-12l-20-14l-27 11l-27 11l-27 12l-27 13zM2915 1134l27-12l26-10l-20-12l-27 9l-27 11zM3686 850l26-2l-20-10l-27 2zM3230 1035l27-11l27-13l26-12l27-11l-20-14l-27 12l-27 12l-27 10l-26 12zM3277 1038l27-12l27-12l27-12l-21-14l-27 11l-26 12l-27 13zM3324 1041l27-12l27-13l-20-14l-27 12l-27 12zM3372 1042l26-13l27-12l-20-14l-27 13l-27 13zM3767 910l27-3l-20-18l-27 1zM3392 1057l27-13l27-11l26-12l-20-14l-27 10l-27 12l-26 13zM3761 933l27-4l-21-19l-27 4zM3439 1060l27-11l27-12l27-11l26-12l-20-15l-27 10l-27 12l-26 12l-27 11zM3754 956l27-5l-20-18l-27 5zM3513 1053l27-11l27-14l-21-14l-26 12l-27 11zM3748 978l27-6l-21-16l-26 7zM3560 1056l27-13l27-13l-20-15l-27 13l-27 14zM3768 991l27-5l-20-14l-27 6zM3581 1070l27-13l26-13l27-12l-20-14l-27 12l-27 13l-27 13zM3762 1014l27-9l27-5l-21-14l-27 5l-26 10zM3628 1071l27-12l27-12l26-11l-20-16l-27 12l-27 12l-26 13zM3782 1027l27-7l27-5l-20-15l-27 5l-27 9zM3648 1084l27-11l27-12l27-11l27-12l-21-13l-27 11l-26 11l-27 12l-27 12zM3669 1097l27-12l26-11l27-10l27-12l27-10l27-8l-21-14l-27 7l-26 11l-27 12l-27 11l-27 12l-27 11zM3689 1111l27-12l27-12l27-10l26-11l27-10l27-8l-20-14l-27 8l-27 10l-27 12l-27 10l-26 11l-27 12zM3710 1125l26-13l27-11l27-11l27-11l27-10l26-7l-20-14l-27 8l-27 10l-26 11l-27 10l-27 12l-27 12zM3757 1128l27-11l26-10l27-11l27-9l-20-18l-27 10l-27 11l-27 11l-27 11z"/>
<path fill="#f4c4ba" stroke="#f4c4ba" d="M3240 808l27-5l-20-14l-27 6zM2892 948l27-13l27-13l-21-14l-27 14l-26 13zM3261 821l27-5l-21-13l-27 5zM2912 961l27-13l27-13l-20-13l-27 13l-27 13zM3281 833l27-5l27-7l-21-11l-26 6l-27 5zM2933 978l27-14l26-14l-20-15l-27 13l-27 13zM3328 838l27-7l-20-10l-27 7zM2980 980l27-15l-21-15l-26 14zM3349 851l27-7l26-9l-20-10l-27 6l-27 7zM3027 979l27-13l-20-15l-27 14zM3369 865l27-9l27-11l27-10l26-7l-20-11l-27 8l-27 10l-26 9l-27 7zM3048 996l26-13l27-13l-20-17l-27 13l-27 13zM3470 847l27-9l27-8l-21-10l-27 8l-26 7zM3095 999l27-12l26-11l27-11l27-13l-20-16l-27 12l-27 10l-27 12l-27 13zM3517 848l27-8l27-8l-21-10l-26 8l-27 8zM3196 980l26-12l27-12l27-12l-20-17l-27 13l-27 12l-27 13zM3591 842l27-8l-20-9l-27 7zM3243 983l27-11l26-13l27-11l27-11l27-10l27-12l-21-14l-27 11l-26 10l-27 10l-27 12l-27 12l-27 12zM3638 843l27-3l-20-11l-27 5zM3290 986l27-12l27-10l26-11l27-12l27-13l-20-13l-27 12l-27 10l-27 11l-27 11l-26 13zM3337 988l27-11l27-12l27-11l26-13l-20-13l-27 13l-27 12l-26 11l-27 10zM3706 862l27-1l-21-13l-26 2zM3358 1002l26-13l27-12l27-10l27-12l-21-14l-26 13l-27 11l-27 12l-27 11zM3726 874l27 1l-20-14l-27 1zM3378 1016l27-13l27-11l26-11l27-13l-20-13l-27 12l-27 10l-27 12l-26 13zM3747 890l27-1l-21-14l-27-1zM3425 1017l27-10l27-12l27-12l-21-15l-27 13l-26 11l-27 11zM3740 914l27-4l-20-20l-27 4zM3472 1021l27-12l27-10l27-13l-21-15l-26 12l-27 12l-27 12zM3734 938l27-5l-21-19l-26 6zM3546 1014l27-15l-20-13l-27 13zM3728 963l26-7l-20-18l-27 7zM3567 1028l27-13l26-13l-20-16l-27 13l-27 15zM3614 1030l27-12l27-13l26-11l27-9l27-7l-20-15l-27 7l-27 9l-27 12l-27 11l-26 13zM3661 1032l27-12l27-10l27-9l26-10l-20-13l-27 7l-27 9l-26 11l-27 13zM3708 1036l27-11l27-11l-20-13l-27 9l-27 10zM3756 1038l26-11l-20-13l-27 11z"/>
<path fill="#f8d3cb" stroke="#f8d3cb" d="M3080 866l26-9l27-10l27-10l27-11l27-11l26-7l-20-13l-27 7l-27 11l-26 11l-27 10l-27 10l-27 9zM2946 922l26-13l27-12l-20-13l-27 12l-27 12zM3100 880l27-10l27-10l26-10l27-11l27-10l27-8l-21-13l-26 7l-27 11l-27 11l-27 10l-27 10l-26 9zM2966 935l27-13l27-12l-21-13l-27 12l-26 13zM3254 839l27-6l-20-12l-27 8zM3120 892l27-10l27-11l27-10l-21-11l-26 10l-27 10l-27 10zM2986 950l27-14l27-14l-20-12l-27 12l-27 13zM3302 845l26-7l-20-10l-27 5zM3007 965l27-14l26-14l-20-15l-27 14l-27 14zM3295 867l27-8l27-8l-21-13l-26 7l-27 7zM3054 966l27-13l27-12l26-10l27-11l-20-15l-27 10l-27 11l-27 11l-26 14zM3316 881l26-8l27-8l-20-14l-27 8l-27 8zM3101 970l27-12l27-10l27-12l26-12l27-13l-20-14l-27 12l-27 11l-27 11l-26 10l-27 12zM3309 906l27-10l27-9l27-11l26-11l27-10l27-8l-20-12l-27 10l-27 11l-27 9l-27 8l-26 8l-27 8zM3202 952l27-12l27-13l26-11l-20-18l-27 13l-27 13l-26 12zM3276 944l27-12l27-10l26-10l27-11l27-11l27-13l27-11l26-9l27-9l-20-10l-27 9l-27 8l-27 10l-26 11l-27 11l-27 9l-27 10l-27 10l-26 11zM3511 867l27-9l26-8l27-8l-20-10l-27 8l-27 8l-27 9zM3404 915l26-13l27-13l-20-12l-27 13l-27 11zM3585 860l27-10l26-7l-20-9l-27 8l-27 8zM3424 928l27-14l27-13l-21-12l-27 13l-26 13zM3659 854l27-4l-21-10l-27 3zM3444 941l27-13l-20-14l-27 14zM3679 866l27-4l-20-12l-27 4zM3465 955l27-13l26-14l-20-13l-27 13l-27 13zM3700 878l26-4l-20-12l-27 4zM3485 968l27-13l27-13l-21-14l-26 14l-27 13zM3720 894l27-4l-21-16l-26 4zM3506 983l26-12l27-14l-20-15l-27 13l-27 13zM3714 920l26-6l-20-20l-27 7zM3553 986l27-14l26-14l-20-14l-27 13l-27 14zM3680 953l27-8l27-7l-20-18l-27 8l-27 8zM3573 999l27-13l27-12l27-11l-21-17l-27 12l-26 14l-27 14zM3620 1002l27-11l27-12l27-9l27-7l-21-18l-27 8l-26 10l-27 11l-27 12z"/>
<path fill="#fbe0db" stroke="#fbe0db" d="M2999 897l27-11l27-11l27-9l-21-13l-27 9l-26 10l-27 12zM3020 910l26-11l27-11l27-8l-20-14l-27 9l-27 11l-27 11zM3201 861l27-12l26-10l-20-10l-27 10l-27 11zM3040 922l27-11l27-10l26-9l-20-12l-27 8l-27 11l-26 11zM3060 937l27-11l27-11l27-10l27-11l26-10l27-11l27-12l27-9l27-7l-21-12l-27 6l-26 10l-27 12l-27 10l-27 11l-27 10l-26 9l-27 10l-27 11zM3161 920l27-11l27-12l27-12l26-10l27-8l-20-15l-27 9l-27 12l-27 11l-26 10l-27 11zM3235 911l27-13l27-9l27-8l-21-14l-27 8l-26 10l-27 12zM3282 916l27-10l-20-17l-27 9zM3457 889l27-11l27-11l-21-10l-26 9l-27 11zM3478 901l26-12l27-10l27-10l27-9l-21-10l-26 8l-27 9l-27 11l-27 11zM3471 928l27-13l27-13l27-12l26-10l27-11l27-9l27-6l-21-11l-26 7l-27 10l-27 9l-27 10l-27 10l-26 12l-27 13zM3652 873l27-7l-20-12l-27 6zM3518 928l27-13l27-13l-20-12l-27 12l-27 13zM3673 885l27-7l-21-12l-27 7zM3539 942l27-13l26-13l-20-14l-27 13l-27 13zM3693 901l27-7l-20-16l-27 7zM3559 957l27-13l27-13l-21-15l-26 13l-27 13zM3606 958l27-12l27-10l27-8l27-8l-21-19l-27 8l-26 11l-27 11l-27 13zM3654 963l26-10l-20-17l-27 10z"/>
<path fill="#e88775" stroke="#e88775" d="M2517 1113l27-12l26-12l27-13l-20-13l-27 13l-27 12l-27 12zM2537 1126l27-12l27-12l27-12l-21-14l-27 13l-26 12l-27 12zM2584 1129l27-12l27-12l-20-15l-27 12l-27 12zM3730 707l27-10l27-10l27-12l-21-15l-26 11l-27 10l-27 9zM2605 1142l27-11l26-11l27-12l-20-16l-27 13l-27 12l-27 12zM4180 556l26-4l-20-18l-27 3zM3590 780l27-7l27-8l26-10l27-9l27-11l27-11l27-11l26-11l27-13l27-12l-20-15l-27 13l-27 12l-27 10l-27 10l-26 10l-27 8l-27 10l-27 12l-27 10l-26 8zM2813 1079l27-8l26-7l27-8l27-14l-20-19l-27 13l-27 10l-27 9l-27 10zM2625 1156l27-12l27-11l27-12l26-11l-20-14l-27 12l-27 12l-26 11l-27 11zM4173 578l27-5l-20-17l-27 5zM3825 717l27-14l26-12l-20-14l-27 12l-27 13zM3610 794l27-6l-20-15l-27 7zM2940 1060l27-18l-20-16l-27 16zM2833 1091l27-5l-20-15l-27 8zM2672 1159l27-13l27-11l27-13l-21-12l-26 11l-27 12l-27 11zM4140 612l27-8l27-7l-21-19l-27 9l-26 9zM3845 730l27-14l27-12l27-11l26-9l27-10l-20-16l-27 11l-27 11l-27 11l-26 12l-27 14zM3631 806l27-4l-21-14l-27 6zM2854 1101l26-6l-20-9l-27 5zM2720 1162l26-12l27-14l-20-14l-27 13l-27 11zM4107 646l27-7l26-8l-20-19l-27 9l-27 8zM3866 744l26-12l27-13l27-11l27-9l27-11l26-12l-20-14l-27 12l-27 10l-26 9l-27 11l-27 12l-27 14zM3651 816l27-2l-20-12l-27 4zM2901 1102l27-4l-21-6l-27 3zM2740 1177l27-14l27-14l-21-13l-27 14l-26 12zM3913 745l27-12l26-10l27-9l27-11l27-12l27-10l26-9l27-8l-20-18l-27 9l-27 10l-27 11l-26 12l-27 11l-27 9l-27 11l-27 13zM3028 1083l27-13l-20-17l-27 18zM2787 1178l27-15l-20-14l-27 14zM3906 769l27-13l27-11l27-9l27-9l26-10l27-9l27-10l27-9l-21-17l-26 9l-27 10l-27 12l-27 11l-27 9l-26 10l-27 12l-27 13zM3719 836l27-3l-21-11l-27 2zM3022 1104l27-7l27-10l26-12l-20-17l-27 12l-27 13l-26 11zM3900 790l27-11l27-11l26-10l27-10l27-9l27-9l-21-13l-26 10l-27 9l-27 9l-27 11l-27 13l-26 12zM3739 848l27-3l-20-12l-27 3zM3123 1092l27-13l-21-17l-27 13zM3042 1122l27-7l-20-18l-27 7zM2855 1197l27-16l-21-17l-27 16zM3867 826l27-13l26-12l27-11l27-12l27-10l27-9l26-7l27-7l-20-15l-27 9l-27 9l-27 10l-26 10l-27 11l-27 11l-27 12l-27 13zM3760 861l26-4l-20-12l-27 3zM3170 1097l27-16l-21-17l-26 15zM3009 1155l27-7l-20-21l-27 5zM2902 1199l27-14l-21-19l-26 15zM4048 770l27-5l27-7l-21-13l-27 7l-26 7zM3887 838l27-14l27-12l-21-11l-26 12l-27 13zM3780 875l27-3l-21-15l-26 4zM3217 1095l27-15l-20-15l-27 16zM4095 777l27-7l-20-12l-27 7zM3908 851l26-16l-20-11l-27 14zM3800 889l27-1l-20-16l-27 3zM3238 1109l26-14l-20-15l-27 15zM4116 790l26-6l-20-14l-27 7zM3258 1124l27-15l-21-14l-26 14zM4136 804l27-7l-21-13l-26 6zM3948 880l27-19l-20-15l-27 18zM3814 927l27-2l-20-19l-27 1zM3278 1137l27-14l-20-14l-27 15zM4130 825l26-8l27-8l-20-12l-27 7l-27 5zM3969 897l27-19l-21-17l-27 19zM3299 1152l27-14l26-14l-20-15l-27 14l-27 14zM4150 840l27-9l27-6l-21-16l-27 8l-26 8zM4016 897l27-16l-21-19l-26 16zM3346 1152l27-14l-21-14l-26 14zM4144 864l26-10l27-7l-20-16l-27 9l-27 8zM4063 900l27-15l-20-18l-27 14zM3822 983l27-2l-21-15l-26 3zM3366 1165l27-13l-20-14l-27 14zM4110 903l27-12l27-10l27-10l-21-17l-26 10l-27 9l-27 12zM3842 997l27-2l-20-14l-27 2zM3387 1179l27-12l26-13l-20-14l-27 12l-27 13zM3863 1012l27-2l-21-15l-27 2zM3380 1203l27-11l27-13l27-13l-21-12l-26 13l-27 12l-27 11zM3883 1024l27-2l-20-12l-27 2zM3401 1215l27-11l26-13l27-11l-20-14l-27 13l-27 13l-27 11zM3904 1038l26-3l-20-13l-27 2zM3394 1239l27-11l27-10l27-12l27-11l-21-15l-27 11l-26 13l-27 11l-27 11zM3924 1053l27-6l-21-12l-26 3zM3415 1253l27-11l26-10l27-11l27-12l27-12l-21-15l-26 13l-27 11l-27 12l-27 10l-27 11zM3944 1066l27-6l-20-13l-27 6zM3462 1256l27-10l27-10l26-11l27-12l27-11l27-11l-21-16l-26 11l-27 11l-27 12l-27 12l-27 11l-26 10zM3938 1089l27-6l27-4l-21-19l-27 6l-26 5zM3616 1219l27-13l27-11l27-12l-21-17l-26 12l-27 13l-27 11zM3932 1116l26-6l-20-21l-27 7zM3717 1203l27-16l-20-18l-27 14zM3449 1303l27-10l-20-14l-27 10zM3764 1208l27-15l27-12l27-9l27-8l26-9l-20-21l-27 9l-27 10l-26 10l-27 10l-27 14z"/>
<path fill="#e26b55" stroke="#e26b55" d="M2249 1225l27-16l-21-13l-27 16zM2269 1238l27-16l-20-13l-27 16zM2290 1257l26-16l-20-19l-27 16zM2364 1248l26-12l27-13l27-11l27-10l27-12l-21-15l-27 10l-26 10l-27 11l-27 11l-27 11zM2464 1231l27-13l27-13l27-11l27-12l-21-15l-27 11l-26 12l-27 12l-27 10zM4227 569l27-4l-21-17l-27 4zM2538 1222l27-11l27-13l27-14l-21-16l-26 14l-27 12l-27 11zM4220 591l27-5l-20-17l-27 4zM3684 797l27-6l27-10l27-11l27-11l26-14l-20-14l-27 11l-27 11l-26 11l-27 9l-27 8zM2907 1092l27-3l27-11l-21-18l-26 13l-27 8zM2612 1212l27-13l-20-15l-27 14zM4214 616l27-7l-21-18l-26 6zM3785 785l27-13l27-14l-21-13l-26 14l-27 11zM3705 811l27-4l-21-16l-27 6zM2954 1098l27-6l-20-14l-27 11zM2633 1229l27-13l26-14l-20-16l-27 13l-27 13zM4181 650l27-9l26-9l-20-16l-27 7l-27 8zM3806 795l26-12l27-13l-20-12l-27 14l-27 13zM3725 822l27-6l-20-9l-27 4zM2680 1232l27-14l27-12l-21-17l-27 13l-26 14zM4148 682l26-7l27-8l-20-17l-27 8l-27 6zM3746 833l26-7l27-10l27-11l27-12l-21-10l-26 12l-27 12l-27 9l-27 6zM2727 1234l27-12l27-12l-21-17l-26 13l-27 12zM4141 705l27-7l27-7l-21-16l-26 7l-27 7zM2801 1225l27-13l-20-17l-27 15zM4162 719l26-7l-20-14l-27 7zM3090 1132l26-10l-20-17l-27 10zM2848 1230l27-15l-20-18l-27 15zM4155 742l27-8l27-9l-21-13l-26 7l-27 8zM3030 1177l26-6l27-9l27-11l27-12l27-14l-21-15l-27 12l-26 10l-27 9l-27 7l-27 7zM2896 1234l26-15l-20-20l-27 16zM4176 756l26-9l27-8l-20-14l-27 9l-27 8zM3854 883l27-14l-21-16l-26 12zM3157 1154l27-15l27-15l-21-13l-26 14l-27 14zM2943 1238l27-13l26-12l27-9l27-7l-20-20l-27 7l-27 9l-27 12l-27 14zM4196 769l27-8l27-7l-21-15l-27 8l-26 9zM3848 905l26-6l27-16l-20-14l-27 14l-27 5zM3204 1154l27-15l-20-15l-27 15zM4216 783l27-7l-20-15l-27 8zM3841 925l27-3l-20-17l-27 1zM3225 1167l27-15l-21-13l-27 15zM4210 803l27-6l27-5l-21-16l-27 7l-26 7zM3942 916l27-19l-21-17l-26 19zM3245 1180l27-15l-20-13l-27 15zM4230 819l27-6l-20-16l-27 6zM3855 964l27-3l-20-18l-27 3zM3266 1192l26-12l-20-15l-27 15zM4224 841l27-5l27-5l-21-18l-27 6l-26 6zM4010 936l26-18l-20-21l-27 19zM3259 1216l27-12l27-12l-21-12l-26 12l-27 13zM4244 858l27-5l-20-17l-27 5zM4057 936l27-18l-21-18l-27 18zM3869 995l27 0l-20-15l-27 1zM3253 1241l27-13l26-13l-20-11l-27 12l-27 12zM4238 881l27-5l-21-18l-26 6zM4104 936l27-16l-21-17l-26 15zM3890 1010l26-1l-20-14l-27 0zM3273 1253l27-13l27-13l-21-12l-26 13l-27 13zM4232 904l26-6l-20-17l-27 6zM3910 1022l27-1l-21-12l-26 1zM3294 1267l26-14l-20-13l-27 13zM4172 953l26-14l27-8l27-7l-20-20l-27 7l-27 10l-27 15zM3930 1035l27-3l-20-11l-27 1zM3314 1281l27-15l-21-13l-26 14zM3334 1292l27-13l-20-13l-27 15zM3328 1318l27-14l27-13l-21-12l-27 13l-26 14zM3992 1079l26-3l-20-19l-27 3zM3348 1331l27-14l27-14l-20-12l-27 13l-27 14zM3985 1104l27-5l-20-20l-27 4zM3556 1269l27-8l27-9l27-12l-21-21l-26 13l-27 11l-27 10zM3369 1344l27-15l-21-12l-27 14zM3979 1130l27-6l-21-20l-27 6zM3550 1290l27-6l-21-15l-26 7zM3389 1358l27-15l-20-14l-27 15zM3892 1183l27-9l27-8l26-7l-20-22l-27 8l-27 10l-26 9zM3785 1231l27-17l-21-21l-27 15zM3570 1304l27-5l-20-15l-27 6zM3410 1370l26-13l27-11l-20-16l-27 13l-27 15zM3859 1223l27-10l-21-22l-27 9zM3430 1384l27-13l27-10l26-11l27-11l27-10l27-11l27-12l-21-7l-27 5l-26 8l-27 10l-27 13l-27 11l-27 11l-26 13zM3638 1318l27-6l-21-6l-26 0zM3477 1387l27-11l27-10l27-10l26-11l27-15l-20-12l-27 11l-27 10l-27 11l-26 11l-27 10zM3605 1361l27-13l26-14l27-13l27-4l-20-6l-27 1l-27 6l-27 12l-27 15zM3679 1352l27-14l26-9l-20-12l-27 4l-27 13z"/>
<path fill="#d74326" stroke="#d74326" d="M2195 1262l27-19l-20-13l-27 19zM2216 1276l26-20l-20-13l-27 19zM4219 520l27 1l-20-11l-27-2zM2236 1294l27-19l-21-19l-26 20zM4240 532l26 0l-20-11l-27-1zM2283 1296l27-18l-20-21l-27 18zM4260 546l27-2l-21-12l-26 0zM2330 1298l27-16l-20-20l-27 16zM4280 563l27-3l-20-16l-27 2zM2378 1302l26-14l27-14l-20-18l-27 13l-27 13zM2452 1292l26-15l-20-16l-27 13zM4294 600l27-4l-20-17l-27 4zM2499 1295l27-15l-21-17l-27 14zM4288 621l27-3l-21-18l-26 4zM2546 1296l27-14l-21-16l-26 14zM2593 1300l27-13l27-13l-21-16l-26 12l-27 12zM4275 669l27-5l27-6l-21-18l-26 5l-27 6zM2640 1305l27-13l27-13l-20-18l-27 13l-27 13zM4296 685l26-5l-20-16l-27 5zM2714 1298l27-13l27-14l-20-19l-27 13l-27 14zM4289 707l27-6l-20-16l-27 7zM2788 1290l27-13l27-13l-20-20l-27 13l-27 14zM4310 722l26-4l-20-17l-27 6zM2862 1282l27-15l-20-17l-27 14zM4303 743l27-5l-20-16l-27 5zM2910 1285l26-15l-20-18l-27 15zM4297 765l27-5l-21-17l-27 6zM2957 1288l27-15l-21-17l-27 14zM4317 782l27-3l-20-19l-27 5zM3004 1288l27-13l-21-16l-26 14zM4311 805l27-4l-21-19l-27 5zM3024 1304l27-14l27-14l-20-15l-27 14l-27 13zM4304 827l27-4l-20-18l-27 4zM3929 975l27-8l27-14l-21-19l-26 14l-27 9zM3072 1304l26-14l-20-14l-27 14zM4298 850l27-3l-21-20l-26 4zM4003 973l27-18l-20-19l-27 17zM3923 994l27-3l-21-16l-27 4zM3092 1319l27-15l-21-14l-26 14zM4050 974l27-19l-20-19l-27 19zM3943 1007l27-2l-20-14l-27 3zM3139 1320l27-15l-20-15l-27 14zM3964 1020l26 0l-20-15l-27 2zM3160 1335l26-14l-20-16l-27 15zM4306 913l26-4l-20-18l-27 3zM4118 991l27-20l-21-17l-26 20zM3984 1032l27 1l-21-13l-26 0zM3180 1352l27-17l27-16l-21-12l-27 14l-26 14zM4299 938l27-5l-20-20l-27 4zM4004 1044l27 4l-20-15l-27-1zM3227 1350l27-17l-20-14l-27 16zM4186 1011l26-17l27-12l27-8l27-7l-21-23l-26 7l-27 8l-27 13l-27 18zM3248 1367l26-17l-20-17l-27 17zM4039 1095l27-1l-21-18l-27 0zM3336 1396l26-21l-20-15l-27 20zM4026 1146l27-5l-21-22l-26 5zM3731 1270l27-18l-20-26l-27 17zM3624 1298l27-1l27-9l-21-22l-27 7l-26 7zM3356 1409l27-21l-21-13l-26 21zM4020 1171l26-5l-20-20l-27 6zM3778 1275l27-19l-20-25l-27 21zM3644 1306l27 1l-20-10l-27 1zM3376 1424l27-23l-20-13l-27 21zM3960 1216l26-9l27-10l27-8l-20-18l-27 7l-27 7l-27 8zM3852 1264l27-16l-20-25l-27 14zM3464 1453l27-18l-20-18l-27 18zM3780 1339l26-1l-20-8l-27-2zM3512 1455l26-14l27-12l-20-19l-27 11l-27 14zM3800 1355l27-6l-21-11l-26 1zM3720 1398l26-13l-20-25l-27 14zM3794 1393l26-16l27-11l-20-17l-27 6l-27 15z"/>
<path fill="#dc2607" stroke="#dc2607" d="M2115 1316l27-17l-21-14l-27 18zM2135 1329l27-17l-20-13l-27 17zM4273 521l27-2l-21-12l-27 3zM4293 531l27-2l-20-10l-27 2zM2250 1352l27-18l-21-20l-26 19zM4361 551l27-4l-21-13l-27 4zM2297 1354l27-19l-20-20l-27 19zM4381 566l27-5l-20-14l-27 4zM2344 1355l27-17l-20-20l-27 17zM4402 581l26-6l-20-14l-27 5zM2392 1355l26-15l-20-18l-27 16zM4395 602l27-6l-20-15l-27 5zM2439 1358l27-15l-21-17l-27 14zM4416 617l26-7l-20-14l-27 6zM2459 1375l27-15l-20-17l-27 15zM4409 639l27-8l27-6l-21-15l-26 7l-27 6zM2506 1376l27-14l-20-18l-27 16zM4403 665l27-8l26-9l-20-17l-27 8l-27 7zM2554 1377l26-14l-20-16l-27 15zM4396 687l27-7l-20-15l-27 6zM2574 1393l27-14l27-13l-21-17l-27 14l-26 14zM4390 709l27-6l-21-16l-26 6zM2621 1396l27-14l27-13l-21-16l-26 13l-27 13zM4410 724l27-4l-20-17l-27 6zM2668 1397l27-12l27-10l27-10l27-10l26-12l-20-19l-27 12l-27 12l-26 10l-27 11l-27 13zM4404 747l27-4l-21-19l-26 5zM2823 1359l27-14l-21-16l-27 14zM4398 772l26-4l-20-21l-27 6zM2870 1364l27-15l-21-17l-26 13zM4391 794l27-4l-20-18l-27 4zM2917 1366l27-17l-20-16l-27 16zM4385 815l27-2l-21-19l-27 4zM2985 1382l27-17l-21-15l-27 16zM4399 856l27-4l-21-19l-27 3zM4392 878l27-4l-20-18l-27 4zM3052 1399l27-17l-20-17l-27 16zM4386 901l27-4l-21-19l-26 5zM3100 1400l26-16l-20-18l-27 16zM4380 923l26-4l-20-18l-27 4zM4058 1049l27-6l27-14l-21-19l-27 14l-26 7zM3147 1404l27-17l-21-20l-27 17zM4400 941l27-5l-21-17l-26 4zM4132 1047l27-19l-21-18l-26 19zM4367 976l27-8l-21-20l-27 7zM4152 1061l27-16l-20-17l-27 19zM4072 1079l27 2l-21-14l-26-3zM3214 1427l27-22l-20-19l-27 20zM4280 1028l27-7l27-8l-21-21l-27 7l-26 7zM4200 1062l26-14l-20-18l-27 15zM4092 1094l27-1l-20-12l-27-2zM4113 1109l27-5l-21-11l-27 1zM3282 1443l27-24l-21-17l-26 23zM4133 1122l27-7l27-7l-21-11l-26 7l-27 5zM4154 1136l26-7l27-7l-20-14l-27 7l-27 7zM4174 1151l27-9l27-7l-21-13l-27 7l-26 7zM3745 1314l27-5l27-11l-21-23l-26 18l-27 10zM4168 1174l26-9l27-9l27-7l-20-14l-27 7l-27 9l-27 9zM3846 1307l27-16l-21-27l-26 18zM3766 1322l26 0l-20-13l-27 5zM3390 1482l27-25l-20-16l-27 25zM4161 1197l27-10l27-8l27-7l-21-16l-27 9l-26 9l-27 9zM3920 1300l27-17l-21-24l-26 15zM3411 1499l27-24l-21-18l-27 25zM4182 1212l26-9l27-8l-20-16l-27 8l-27 10zM3994 1291l27-14l27-12l26-11l-20-19l-27 11l-27 11l-26 12zM4068 1282l27-12l27-12l26-11l27-10l27-9l27-9l-21-16l-26 9l-27 9l-27 9l-27 12l-27 12l-26 11zM3854 1351l26 4l-20-10l-27-3zM3478 1509l27-19l-20-18l-27 21zM4142 1274l27-11l27-10l26-10l-20-15l-27 9l-27 10l-26 11zM3680 1470l27-9l27-10l26-10l27-11l-20-22l-27 11l-27 10l-27 9l-26 10zM3573 1513l27-13l-21-20l-27 14zM3834 1441l27-16l-20-24l-27 16zM3908 1432l27-18l27-13l-20-14l-27 6l-27 14z"/>
<path fill="#da5037" stroke="#da5037" d="M2263 1275l27-18l-21-19l-27 18zM2310 1278l27-16l-21-21l-26 16zM2357 1282l27-13l27-13l-21-20l-26 12l-27 14zM4254 565l26-2l-20-17l-27 2zM2431 1274l27-13l27-14l-21-16l-26 12l-27 13zM4274 583l27-4l-21-16l-26 2zM2478 1277l27-14l27-12l-20-17l-27 13l-27 14zM4268 604l26-4l-20-17l-27 3zM2526 1280l26-14l27-12l27-13l-20-14l-27 12l-27 12l-27 12zM2573 1282l27-12l26-12l27-12l-20-17l-27 12l-27 13l-27 12zM4282 645l26-5l-20-19l-27 4zM2647 1274l27-13l26-14l-20-15l-27 14l-27 12zM4248 676l27-7l-20-18l-27 8zM2694 1279l27-14l27-13l-21-18l-27 13l-26 14zM4242 698l27-6l27-7l-21-16l-27 7l-26 7zM2768 1271l27-14l-21-18l-26 13zM4262 713l27-6l-20-15l-27 6zM2842 1264l27-14l-21-20l-26 14zM4256 733l27-6l27-5l-21-15l-27 6l-26 5zM3077 1189l27-8l26-12l-20-18l-27 11l-27 9zM2889 1267l27-15l-20-18l-27 16zM4276 749l27-6l-20-16l-27 6zM3070 1212l27-9l27-10l27-12l-21-12l-26 12l-27 8l-27 8zM2936 1270l27-14l-20-18l-27 14zM4270 771l27-6l-21-16l-26 5zM2984 1273l26-14l27-12l27-10l27-11l27-9l26-11l27-13l-20-12l-27 12l-27 10l-27 9l-26 10l-27 9l-27 11l-27 14zM4290 787l27-5l-20-17l-27 6zM3031 1275l27-14l26-12l27-11l27-10l27-11l27-11l-21-13l-27 13l-26 11l-27 9l-27 11l-27 10l-27 12zM4284 809l27-4l-21-18l-26 5zM3909 957l27-9l26-14l-20-18l-27 14l-27 9zM3078 1276l27-14l27-12l-21-12l-27 11l-26 12zM4278 831l26-4l-20-18l-27 4zM3983 953l27-17l-21-20l-27 18zM3902 979l27-4l-20-18l-27 4zM3098 1290l27-14l27-13l-20-13l-27 12l-27 14zM4030 955l27-19l-21-18l-26 18zM3896 995l27-1l-21-15l-26 1zM3119 1304l27-14l26-13l-20-14l-27 13l-27 14zM4292 872l26-2l-20-20l-27 3zM3916 1009l27-2l-20-13l-27 1zM3166 1305l27-14l-21-14l-26 13zM4285 894l27-3l-20-19l-27 4zM4098 974l26-20l-20-18l-27 19zM3937 1021l27-1l-21-13l-27 2zM3186 1321l27-14l27-14l-20-15l-27 13l-27 14zM4279 917l27-4l-21-19l-27 4zM3234 1319l26-12l-20-14l-27 14zM4272 944l27-6l-20-21l-27 7zM4165 990l27-18l-20-19l-27 18zM3254 1333l27-14l-21-12l-26 12zM3274 1350l27-17l-20-14l-27 14zM4018 1076l27 0l-20-16l-27-3zM3295 1364l27-18l-21-13l-27 17zM3315 1380l27-20l-20-14l-27 18zM4032 1119l27-4l-20-20l-27 4zM3999 1152l27-6l-20-22l-27 6zM3966 1185l27-7l27-7l-21-19l-27 7l-26 7zM3805 1256l27-19l-20-23l-27 17zM3879 1248l27-12l27-11l27-9l-21-23l-27 10l-26 10l-27 10zM3665 1312l27-1l-21-4l-27-1zM3424 1418l26-18l-20-16l-27 17zM3712 1317l27 2l-21-6l-26-2zM3444 1435l27-18l-21-17l-26 18zM3572 1400l26-10l-20-18l-27 10zM3491 1435l27-14l27-11l-21-18l-26 11l-27 14zM3565 1429l27-11l27-9l27-10l26-11l27-14l-20-22l-27 15l-27 12l-27 11l-26 10l-27 10zM3746 1385l27-15l27-15l-20-16l-27 9l-27 12z"/>
<path fill="#d43111" stroke="#d43111" d="M2209 1313l27-19l-20-18l-27 18zM4266 532l27-1l-20-10l-27 0zM4287 544l27-3l-21-10l-27 1zM4307 560l27-5l-20-14l-27 3zM2324 1335l27-17l-21-20l-26 17zM4328 575l26-5l-20-15l-27 5zM2398 1322l27-15l-21-19l-26 14zM4348 591l27-5l-21-16l-26 5zM2445 1326l27-15l-20-19l-27 15zM4342 613l26-5l-20-17l-27 5zM2492 1327l27-16l-20-16l-27 16zM4335 635l27-6l-20-16l-27 5zM2513 1344l27-16l-21-17l-27 16zM4356 653l26-7l-20-17l-27 6zM2560 1347l27-15l-21-19l-26 15zM4349 675l27-4l-20-18l-27 5zM2607 1349l27-13l27-13l-21-18l-26 13l-27 14zM4343 697l27-4l-21-18l-27 5zM2681 1342l27-12l27-13l-21-19l-26 13l-27 12zM4336 718l27-4l-20-17l-27 4zM2782 1324l27-13l-21-21l-26 13zM4357 734l27-5l-21-15l-27 4zM2856 1315l27-15l-21-18l-26 14zM4350 757l27-4l-20-19l-27 4zM2903 1318l27-15l-20-18l-27 15zM4344 779l27-3l-21-19l-26 3zM2924 1333l26-16l-20-14l-27 15zM2971 1334l27-15l-21-16l-27 14zM4358 819l27-4l-21-17l-26 3zM2991 1350l27-16l-20-15l-27 15zM4352 842l26-6l-20-17l-27 4zM3038 1348l27-14l-20-16l-27 16zM4345 866l27-6l-20-18l-27 5zM3970 1005l27-3l27-11l-21-18l-27 12l-26 6zM3059 1365l27-15l-21-16l-27 14zM4339 888l27-5l-21-17l-27 4zM4044 1007l27-15l-21-18l-26 17zM3990 1020l27-4l-20-14l-27 3zM3106 1366l27-16l-21-15l-26 15zM4332 909l27-4l-20-17l-27 3zM4091 1010l27-19l-20-17l-27 18zM4011 1033l27-2l-21-15l-27 4zM4353 928l27-5l-21-18l-27 4zM4031 1048l27 1l-20-18l-27 2zM3174 1387l26-18l-20-17l-27 15zM4320 961l26-6l-20-22l-27 5zM4159 1028l27-17l-21-21l-27 20zM3221 1386l27-19l-21-17l-27 19zM4260 1006l26-7l27-7l-20-25l-27 7l-27 8zM4206 1030l27-14l-21-22l-26 17zM3241 1405l27-21l-20-17l-27 19zM4066 1094l26 0l-20-15l-27-3zM4086 1112l27-3l-21-15l-26 0zM3309 1419l27-23l-21-16l-27 22zM4080 1136l26-7l-20-17l-27 3zM3329 1435l27-26l-20-13l-27 23zM4073 1160l27-8l27-8l-21-15l-26 7l-27 5zM3752 1293l26-18l-20-23l-27 18zM3698 1304l27-1l-21-23l-26 8zM4067 1183l27-8l-21-15l-27 6zM4034 1217l26-9l27-8l27-9l-20-16l-27 8l-27 6l-27 8zM3873 1291l27-17l-21-26l-27 16zM3739 1319l27 3l-21-8l-27-1zM4000 1257l27-11l27-11l-20-18l-27 10l-27 10zM3438 1475l26-22l-20-18l-27 22zM3806 1338l27 4l-20-9l-27-3zM3505 1490l27-16l-20-19l-27 17zM3552 1494l27-14l27-11l27-10l27-11l26-10l27-9l27-10l27-11l-21-23l-26 13l-27 11l-27 9l-27 10l-27 10l-26 10l-27 12l-27 14zM3814 1417l27-16l27-16l26-10l-20-13l-27 4l-27 11l-26 16zM3888 1407l27-14l-21-18l-26 10z"/>
<path fill="#ee1501" stroke="#ee1501" d="M2096 1400l26-10l27-10l27-14l-20-19l-27 15l-27 11l-27 10zM2196 1382l27-13l-20-19l-27 16zM2244 1387l26-15l-20-20l-27 17zM2291 1390l27-18l-21-18l-27 18zM2311 1405l27-16l-20-17l-27 18zM2358 1405l27-17l-20-16l-27 17zM4523 590l27-11l26-10l-20-14l-27 10l-27 10zM2379 1419l27-15l-21-16l-27 17zM4516 612l27-8l27-10l27-10l-21-15l-26 10l-27 11l-27 8zM2399 1432l27-13l27-15l-21-14l-26 14l-27 15zM4537 627l27-7l26-10l27-11l-20-15l-27 10l-27 10l-27 8zM2446 1434l27-16l-20-14l-27 15zM4530 651l27-8l27-7l-20-16l-27 7l-27 8zM2467 1449l27-15l-21-16l-27 16zM4524 676l27-8l-21-17l-26 7zM2514 1451l27-13l27-14l-21-16l-27 13l-26 13zM4491 708l27-7l26-7l-20-18l-27 7l-27 7zM2561 1456l27-15l-20-17l-27 14zM4484 732l27-6l-20-18l-27 7zM2608 1462l27-17l-20-18l-27 14zM4478 758l27-7l-21-19l-26 6zM2656 1464l26-18l-20-18l-27 17zM4445 787l27-3l-21-21l-27 5zM2703 1464l27-14l26-11l27-8l27-9l27-11l27-14l-21-19l-27 13l-26 10l-27 9l-27 11l-27 11l-27 14zM4438 811l27-2l-20-22l-27 3zM2884 1416l27-16l-21-18l-26 15zM2931 1420l27-20l-20-18l-27 18zM4452 850l27-2l-20-18l-27 1zM4446 871l27-2l-21-19l-26 2zM2999 1438l27-19l-21-19l-27 18zM3046 1438l27-20l-21-19l-26 20zM4460 909l27-3l-21-18l-26 4zM4474 948l27-6l-21-17l-26 4zM4441 984l27-9l26-8l-20-19l-27 7l-27 7zM4381 1028l27-7l-21-23l-27 7zM3255 1466l27-23l-20-18l-27 23zM4348 1060l26-5l-20-21l-27 6zM4314 1093l27-8l27-7l-20-18l-27 8l-27 8zM4308 1116l27-7l-21-16l-26 7zM4302 1136l26-6l27-6l-20-15l-27 7l-27 6zM3364 1509l26-27l-20-16l-27 27zM4322 1151l27-7l-21-14l-26 6zM3384 1524l27-25l-21-17l-26 27zM4342 1165l27-5l-20-16l-27 7zM3860 1345l27-1l27-7l26-13l-20-24l-27 16l-27 12l-26 6zM4336 1186l27-5l27-7l-21-14l-27 5l-26 6zM3988 1328l26-17l-20-20l-27 16zM3880 1355l27 3l-20-14l-27 1zM4356 1204l27-7l-20-16l-27 5zM4035 1331l27-20l-21-15l-27 15zM4350 1225l27-8l-21-13l-26 6zM4055 1345l27-19l-20-15l-27 20zM3492 1564l27-17l-20-20l-27 20zM4344 1250l26-9l27-8l-20-16l-27 8l-27 8zM4076 1354l26-17l-20-11l-27 19zM3540 1566l26-18l-20-18l-27 17zM4310 1283l27-8l27-9l27-8l-21-17l-26 9l-27 9l-27 9zM4069 1380l27-18l-20-8l-27 18zM3989 1399l27-1l-21-7l-27-2zM3667 1533l27-9l27-9l27-12l26-11l27-10l27-9l27-11l-21-21l-26 12l-27 9l-27 10l-27 10l-27 10l-26 9l-27 9zM3587 1569l27-14l26-12l-20-23l-27 12l-27 16zM4304 1307l27-7l27-9l-21-16l-27 8l-26 8zM4036 1411l27-9l27-14l26-11l-20-15l-27 18l-27 13l-26 5zM3902 1471l27-16l-21-23l-26 17zM4298 1332l26-7l-20-18l-27 7zM4030 1437l26-9l27-12l27-14l27-12l-21-13l-26 11l-27 14l-27 9l-27 4zM3976 1460l27-13l-21-25l-26 14zM4211 1384l27-9l26-9l27-7l-20-20l-27 10l-27 10l-27 9zM4104 1431l26-13l27-13l-20-15l-27 12l-27 14zM4178 1423l26-10l27-8l-20-21l-27 9l-27 12zM4440 1419l27-6l27-4l-20-15l-27 6l-27 8zM4306 1475l27-17l-20-1l-27 17zM4434 1447l27-4l-21-24l-26 7zM4300 1504l27-20l-21-9l-26 19zM4401 1484l27-7l-21-25l-27 8zM4347 1505l27-11l-20-24l-27 14z"/>
<path fill="#f50f00" stroke="#f50f00" d="M2116 1416l27-11l27-10l26-13l-20-16l-27 14l-27 10l-26 10zM2136 1429l27-10l27-10l27-11l27-11l-21-18l-27 13l-26 13l-27 10l-27 11zM2157 1444l27-11l26-10l27-7l27-11l27-15l-21-18l-26 15l-27 11l-27 11l-27 10l-27 10zM2177 1458l27-11l27-10l-21-14l-26 10l-27 11zM2332 1421l26-16l-20-16l-27 16zM2352 1434l27-15l-21-14l-26 16zM2372 1447l27-15l-20-13l-27 15zM2393 1462l27-13l26-15l-20-15l-27 13l-27 15zM4584 636l27-11l27-10l-21-16l-27 11l-26 10zM2440 1464l27-15l-21-15l-26 15zM4551 668l27-8l26-9l27-10l27-10l-20-16l-27 10l-27 11l-27 7l-27 8zM2487 1465l27-14l-20-17l-27 15zM4544 694l27-8l27-9l-20-17l-27 8l-27 8zM2534 1470l27-14l-20-18l-27 13zM4511 726l27-7l27-7l-21-18l-26 7l-27 7zM2582 1477l26-15l-20-21l-27 15zM4505 751l27-5l-21-20l-27 6zM4472 784l26-5l-20-21l-27 5zM2676 1482l27-18l-21-18l-26 18zM4465 809l27-4l-20-21l-27 3zM2857 1432l27-16l-20-19l-27 14zM2723 1482l27-14l27-8l27-5l-21-24l-27 8l-26 11l-27 14zM4459 830l27-1l-21-20l-27 2zM2904 1440l27-20l-20-20l-27 16zM2952 1439l26-21l-20-18l-27 20zM4473 869l27-1l-21-20l-27 2zM4466 888l27-1l-20-18l-27 2zM3019 1460l27-22l-20-19l-27 19zM3066 1459l27-20l-20-21l-27 20zM4480 925l27-3l-20-16l-27 3zM3114 1461l26-19l-20-21l-27 18zM4501 942l27-5l-21-15l-27 3zM3161 1464l27-17l-21-23l-27 18zM4494 967l27-8l-20-17l-27 6zM3208 1469l27-21l-21-21l-26 20zM4408 1021l26-8l27-9l27-10l27-10l-21-17l-26 8l-27 9l-27 7l-27 7zM4374 1055l27-7l-20-20l-27 6zM3276 1486l26-25l-20-18l-27 23zM4368 1078l27-5l-21-18l-26 5zM4335 1109l27-7l26-5l-20-19l-27 7l-27 8zM4355 1124l27-6l-20-16l-27 7zM4349 1144l27-6l26-5l-20-15l-27 6l-27 6zM4369 1160l27-7l-20-15l-27 6zM3404 1537l27-22l-20-16l-27 25zM4390 1174l26-5l-20-16l-27 7zM3961 1345l27-17l-21-21l-27 17zM3907 1358l27-2l-20-19l-27 7zM3425 1553l27-22l-21-16l-27 22zM4383 1197l27-7l-20-16l-27 7zM4008 1350l27-19l-21-20l-26 17zM3928 1370l26 1l-20-15l-27 2zM4377 1217l27-6l26-4l-20-17l-27 7l-27 7zM3948 1379l27 3l-21-11l-26-1zM4397 1233l27-6l-20-16l-27 6zM4049 1372l27-18l-21-9l-27 21zM3968 1389l27 2l-20-9l-27-3zM4391 1258l27-8l26-7l-20-16l-27 6l-27 8zM4016 1398l26-5l27-13l-20-8l-27 14l-27 5zM3560 1586l27-17l-21-21l-26 18zM4358 1291l26-9l27-9l27-9l-20-14l-27 8l-27 8l-27 9zM3768 1525l27-11l27-11l26-10l27-10l27-12l-20-22l-27 13l-27 11l-27 9l-27 10l-26 11zM3634 1577l27-12l27-10l26-8l-20-23l-27 9l-27 10l-26 12zM4324 1325l27-9l27-9l27-9l27-10l-21-15l-27 9l-26 9l-27 9l-27 7zM3949 1476l27-16l-20-24l-27 19zM4372 1334l26-13l-20-14l-27 9zM4291 1359l27-5l27-9l-21-20l-26 7l-27 7zM4023 1468l27-11l27-13l27-13l-21-15l-27 12l-26 9l-27 10zM4231 1405l27-8l27-6l-21-25l-26 9l-27 9zM4097 1460l27-12l27-12l27-13l-21-18l-27 13l-26 13l-27 13zM4340 1442l26-13l27-12l27-9l27-8l27-6l-21-7l-27 11l-26 10l-27 11l-27 13l-27 13zM4461 1443l27-5l-21-25l-27 6zM4428 1477l26-5l-20-25l-27 5zM4320 1524l27-19l-20-21l-27 20z"/>
<path fill="#fa0a00" stroke="#fa0a00" d="M2231 1437l27-7l26-10l27-15l-20-15l-27 15l-27 11l-27 7zM2198 1472l26-10l27-11l27-9l27-10l27-11l-21-16l-27 15l-26 10l-27 7l-27 10l-27 11zM2218 1487l27-11l27-10l26-10l27-10l27-12l-20-13l-27 11l-27 10l-27 9l-27 11l-26 10zM2238 1501l27-10l27-11l27-11l27-10l26-12l-20-13l-27 12l-27 10l-26 10l-27 10l-27 11zM2259 1515l27-10l26-11l27-10l27-10l27-12l-21-15l-26 12l-27 10l-27 11l-27 11l-27 10zM2386 1489l27-12l27-13l-20-15l-27 13l-27 12zM2434 1493l26-14l27-14l-20-16l-27 15l-27 13zM4598 677l27-9l27-10l26-11l-20-16l-27 10l-27 10l-26 9zM2481 1499l27-15l26-14l-20-19l-27 14l-27 14zM4565 712l27-9l26-9l27-9l27-10l27-11l-21-17l-26 11l-27 10l-27 9l-27 9l-27 8zM2555 1491l27-14l-21-21l-27 14zM4532 746l26-7l27-8l-20-19l-27 7l-27 7zM2629 1482l27-18l-21-19l-27 17zM4498 779l27-5l27-6l-20-22l-27 5l-27 7zM4492 805l27-5l-21-21l-26 5zM2804 1455l26-9l27-14l-20-21l-27 11l-27 9zM2696 1502l27-20l-20-18l-27 18zM4486 829l26-4l-20-20l-27 4zM2744 1502l26-15l27-3l-20-24l-27 8l-27 14zM4479 848l27-2l-20-17l-27 1zM2972 1458l27-20l-21-20l-26 21zM4493 887l27-2l-20-17l-27 1zM4487 906l27-2l-21-17l-27 1zM4507 922l27-3l-20-15l-27 2zM4528 937l26-5l-20-13l-27 3zM3134 1482l27-18l-21-22l-26 19zM4521 959l27-7l-20-15l-27 5zM4515 984l27-8l26-7l-20-17l-27 7l-27 8zM3228 1488l27-22l-20-18l-27 21zM4401 1048l27-7l27-7l27-10l26-11l27-11l-20-18l-27 10l-27 10l-27 9l-26 8l-27 7zM4395 1073l27-6l-21-19l-27 7zM3296 1504l27-26l-21-17l-26 25zM4388 1097l27-6l-20-18l-27 5zM3316 1518l27-25l-20-15l-27 26zM4382 1118l27-5l-21-16l-26 5zM4402 1133l27-6l-20-14l-27 5zM4396 1153l27-5l-21-15l-26 5zM4416 1169l27-7l-20-14l-27 5zM3934 1356l27-11l-21-21l-26 13zM4410 1190l27-6l27-7l-21-15l-27 7l-26 5zM3981 1364l27-14l-20-22l-27 17zM3445 1568l27-21l-20-16l-27 22zM4430 1207l27-7l-20-16l-27 6zM4028 1366l27-21l-20-14l-27 19zM3466 1583l26-19l-20-17l-27 21zM4424 1227l27-5l-21-15l-26 4zM3995 1391l27-5l-20-6l-27 2zM3513 1584l27-18l-21-19l-27 17zM4444 1243l27-8l-20-13l-27 5zM4438 1264l27-7l27-8l-21-14l-27 8l-26 7zM3714 1547l27-10l27-12l-20-22l-27 12l-27 9zM3607 1591l27-14l-20-22l-27 14zM4432 1288l26-8l27-8l-20-15l-27 7l-27 9zM3922 1491l27-15l-20-21l-27 16zM4398 1321l27-8l27-9l27-8l-21-16l-26 8l-27 10l-27 9zM4345 1345l27-11l-21-18l-27 9zM3970 1496l26-14l27-14l-20-21l-27 13l-27 16zM4392 1357l27-19l27-11l26-9l27-9l-20-13l-27 8l-27 9l-27 8l-26 13zM4285 1391l27-5l-21-27l-27 7zM4044 1486l26-13l27-13l-20-16l-27 13l-27 11zM4439 1355l27-14l27-9l-21-14l-26 9l-27 11zM4118 1478l26-12l27-9l27-10l27-9l27-7l-21-26l-27 8l-26 10l-27 13l-27 12l-27 12zM4474 1394l26-1l-20-13l-27 7zM4313 1457l27-15l-21 3l-27 14zM4494 1409l27 0l-21-16l-26 1zM4280 1494l26-19l-20-1l-27 18zM4488 1438l26-4l-20-25l-27 4zM4273 1528l27-24l-20-10l-27 19zM4454 1472l27-4l-20-25l-27 4zM4368 1534l26-14l27-11l27-7l-20-25l-27 7l-27 10l-27 11z"/>
<path fill="#fdede9" stroke="#fdede9" d="M3572 902l27-11l27-10l26-8l-20-13l-27 9l-27 11l-26 10zM3592 916l27-11l27-11l27-9l-21-12l-26 8l-27 10l-27 11zM3613 931l27-11l26-11l27-8l-20-16l-27 9l-27 11l-27 11z"/>
<path fill="#fe0600" stroke="#fe0600" d="M2279 1531l27-10l27-10l27-11l26-11l-20-15l-27 10l-27 10l-26 11l-27 10zM2300 1549l26-10l27-11l27-11l27-11l27-13l-21-16l-27 12l-26 11l-27 11l-27 10l-27 10zM2454 1512l27-13l-21-20l-26 14zM2528 1504l27-13l-21-21l-26 14zM4585 731l27-9l27-10l27-9l26-10l27-10l-20-19l-27 11l-27 10l-27 9l-26 9l-27 9zM2602 1498l27-16l-21-20l-26 15zM4552 768l27-9l27-10l-21-18l-27 8l-26 7zM2649 1502l27-20l-20-18l-27 18zM4519 800l27-5l-21-21l-27 5zM2878 1457l26-17l-20-24l-27 16zM2797 1484l27-3l-20-26l-27 5zM4506 846l27-4l-21-17l-26 4zM2925 1461l27-22l-21-19l-27 20zM4500 868l26-3l-20-19l-27 2zM4514 904l26-4l-20-15l-27 2zM3040 1482l26-23l-20-21l-27 22zM3087 1482l27-21l-21-22l-27 20zM4548 952l27-6l-21-14l-26 5zM3181 1487l27-18l-20-22l-27 17zM4568 969l27-6l-20-17l-27 6zM4535 1002l27-10l27-7l-21-16l-26 7l-27 8zM3249 1508l27-22l-21-20l-27 22zM4529 1029l27-11l26-9l-20-17l-27 10l-27 11zM4422 1067l26-6l-20-20l-27 7zM4415 1091l27-5l-20-19l-27 6zM4409 1113l27-5l-21-17l-27 6zM3337 1534l27-25l-21-16l-27 25zM4429 1127l27-4l-20-15l-27 5zM3357 1549l27-25l-20-15l-27 25zM4423 1148l27-6l-21-15l-27 6zM3378 1560l26-23l-20-13l-27 25zM4443 1162l27-6l-20-14l-27 6zM3398 1575l27-22l-21-16l-26 23zM4464 1177l26-8l-20-13l-27 6zM3954 1371l27-7l-20-19l-27 11zM4457 1200l27-8l27-8l-21-15l-26 8l-27 7zM3975 1382l27-2l26-14l-20-16l-27 14l-27 7zM4451 1222l27-8l26-9l27-8l-20-13l-27 8l-27 8l-27 7zM4022 1386l27-14l-21-6l-26 14zM3486 1602l27-18l-21-20l-26 19zM4471 1235l27-8l27-9l27-8l-21-13l-27 8l-26 9l-27 8zM3533 1604l27-18l-20-20l-27 18zM4492 1249l26-8l27-9l27-10l-20-12l-27 8l-27 9l-27 8zM3580 1607l27-16l-20-22l-27 17zM4485 1272l27-8l27-9l27-10l26-11l-20-12l-27 10l-27 9l-26 8l-27 8zM3654 1599l27-11l27-9l27-9l27-12l26-12l27-12l27-11l27-10l27-10l26-12l-20-20l-27 12l-27 10l-26 10l-27 11l-27 11l-27 12l-27 10l-26 8l-27 10l-27 12zM4479 1296l27-9l26-9l27-10l27-10l27-9l-21-15l-26 11l-27 10l-27 9l-27 8l-27 8zM3943 1509l27-13l-21-20l-27 15zM4499 1309l27-9l27-8l27-9l26-10l-20-15l-27 10l-27 10l-26 9l-27 9zM4312 1386l26-4l27-9l27-16l-20-23l-27 11l-27 9l-27 5zM3990 1513l27-13l27-14l-21-18l-27 14l-26 14zM4493 1332l27-9l26-9l27-8l27-10l-20-13l-27 9l-27 8l-27 9l-27 9zM4412 1376l27-21l-20-17l-27 19zM4252 1431l26-7l27-6l-20-27l-27 6l-27 8zM4064 1503l27-12l27-13l-21-18l-27 13l-26 13zM4460 1368l26-11l27-8l27-11l27-10l27-9l26-10l-20-13l-27 10l-27 8l-26 9l-27 9l-27 9l-27 14zM4111 1506l27-15l27-5l-21-20l-26 12l-27 13zM4426 1398l27-11l27-7l27-5l27-11l26-11l27-10l27-10l27-11l27-10l-21-13l-27 10l-26 10l-27 9l-27 10l-27 11l-27 8l-26 11l-27 15l-27 18zM4500 1393l27-2l-20-16l-27 5zM4286 1474l27-17l-21 2l-26 15zM4735 1329l27-10l-20-15l-27 11zM4253 1513l27-19l-21-2l-27 13zM4514 1434l27-4l-20-21l-27 0zM4830 1334l26-10l-20-14l-27 11zM4481 1468l27-5l-20-25l-27 5zM4294 1548l26-24l-20-20l-27 24zM4448 1502l27-5l-21-25l-26 5zM4341 1551l27-17l-21-29l-27 19z"/>
<path fill="#ff0902" stroke="#ff0902" d="M2320 1566l27-10l27-10l26-11l27-12l27-11l-20-19l-27 13l-27 11l-27 11l-27 11l-26 10zM2474 1530l27-13l27-13l-20-20l-27 15l-27 13zM2548 1525l27-12l27-15l-20-21l-27 14l-27 13zM4606 749l26-9l27-9l27-8l27-10l27-11l-21-19l-27 10l-26 10l-27 9l-27 10l-27 9zM2622 1520l27-18l-20-20l-27 16zM4546 795l26-8l27-10l-20-18l-27 9l-27 6zM2670 1525l26-23l-20-20l-27 20zM4512 825l27-5l27-7l-20-18l-27 5l-27 5zM2824 1481l27-9l27-15l-21-25l-27 14l-26 9zM2717 1524l27-22l-21-20l-27 20zM2764 1529l27-12l-21-30l-26 15zM4526 865l27-6l-20-17l-27 4zM2945 1482l27-24l-20-19l-27 22zM4520 885l27-4l-21-16l-26 3zM2992 1483l27-23l-20-22l-27 20zM4540 900l27-5l-20-14l-27 4zM4534 919l27-4l-21-15l-26 4zM4554 932l27-4l-20-13l-27 4zM3107 1502l27-20l-20-21l-27 21zM4575 946l27-4l-21-14l-27 4zM3154 1504l27-17l-20-23l-27 18zM4595 963l27-4l-20-17l-27 4zM3202 1508l26-20l-20-19l-27 18zM4589 985l27-5l-21-17l-27 6zM4582 1009l27-7l27-5l-20-17l-27 5l-27 7zM4448 1061l27-7l27-12l27-13l-21-16l-26 11l-27 10l-27 7zM4522 1058l27-13l27-12l27-8l27-6l-21-17l-27 7l-26 9l-27 11l-27 13zM4442 1086l27-6l-21-19l-26 6zM4570 1062l26-11l27-9l-20-17l-27 8l-27 12zM4436 1108l26-6l-20-16l-27 5zM4456 1123l27-6l-21-15l-26 6zM4450 1142l26-6l-20-13l-27 4zM4470 1156l27-7l27-7l-21-12l-27 6l-26 6zM4490 1169l27-7l27-8l-20-12l-27 7l-27 7zM3418 1590l27-22l-20-15l-27 22zM4511 1184l27-8l26-9l-20-13l-27 8l-27 7zM3439 1604l27-21l-21-15l-27 22zM4799 1096l27-11l27-8l-21-11l-26 9l-27 12zM4531 1197l27-8l27-9l-21-13l-26 9l-27 8zM4712 1152l27-12l27-10l27-11l27-11l26-10l27-9l27-10l-20-11l-27 9l-27 8l-27 11l-27 12l-26 10l-27 11l-27 11zM4552 1210l26-8l27-8l-20-14l-27 9l-27 8zM3506 1621l27-17l-20-20l-27 18zM4706 1176l27-12l27-11l26-10l27-10l27-10l27-11l27-11l26-10l27-7l-20-13l-27 8l-27 10l-27 9l-26 10l-27 11l-27 11l-27 10l-27 12l-26 11zM4572 1222l27-8l27-6l-21-14l-27 8l-26 8zM3554 1622l26-15l-20-21l-27 18zM4726 1190l27-12l27-10l27-10l27-10l26-11l27-12l27-10l27-8l27-8l-21-15l-27 7l-26 10l-27 11l-27 11l-27 10l-27 10l-26 10l-27 11l-27 12zM4592 1234l27-7l27-7l-20-12l-27 6l-27 8zM3601 1626l27-13l26-14l-20-22l-27 14l-27 16zM4854 1162l27-10l27-11l26-9l-20-17l-27 10l-27 12l-26 11zM4613 1249l27-8l26-9l27-9l27-10l27-11l27-11l26-9l27-9l-20-15l-27 10l-27 10l-27 12l-26 10l-27 10l-27 10l-27 7l-27 7zM3782 1578l27-13l27-13l26-12l27-9l27-10l27-12l-21-18l-26 12l-27 10l-27 10l-27 11l-27 12l-26 12zM4606 1273l27-9l27-10l27-9l27-8l26-10l27-12l27-10l27-9l-21-14l-26 9l-27 11l-27 11l-27 10l-27 9l-26 9l-27 8l-27 9zM3963 1526l27-13l-20-17l-27 13zM4600 1296l27-9l27-10l26-10l27-9l27-9l27-10l27-10l-21-14l-27 12l-26 10l-27 8l-27 9l-27 10l-27 9l-26 10zM4305 1418l27-7l-20-25l-27 5zM4010 1529l27-14l27-12l-20-17l-27 14l-27 13zM4620 1309l27-10l27-9l27-9l27-9l26-10l27-10l27-9l-20-14l-27 10l-27 10l-27 9l-27 9l-26 10l-27 10l-27 9zM4433 1383l27-15l-21-13l-27 21zM4165 1486l27-3l26-7l27-12l27-11l-20-22l-27 7l-27 9l-27 10l-27 9zM4031 1540l27-11l26-10l27-13l-20-15l-27 12l-27 12l-27 14zM4668 1312l26-9l27-10l27-9l27-9l27-9l-21-14l-27 10l-26 10l-27 9l-27 9l-27 9zM4319 1445l27-13l27-13l27-11l26-10l-20 3l-27 10l-27 11l-26 11l-27 10zM4105 1537l27-13l26-15l27-6l-20-17l-27 5l-27 15l-27 13zM4024 1563l27-11l27-8l-20-15l-27 11l-27 12zM4527 1391l27-10l27-10l27-11l26-12l27-11l27-11l27-11l27-11l26-9l27-9l27-9l27-8l-21-12l-26 9l-27 9l-27 9l-27 9l-27 10l-26 9l-27 10l-27 11l-27 10l-27 10l-26 11l-27 11zM4259 1492l27-18l-20 0l-27 17zM4045 1578l27-11l-21-15l-27 11zM4762 1319l27-11l27-10l26-10l27-8l27-9l-20-12l-27 10l-27 8l-27 9l-27 9l-26 9zM4628 1377l27-13l27-12l26-11l27-12l-20-14l-27 11l-27 11l-27 11l-26 12zM4521 1409l27-2l-21-16l-27 2zM4226 1532l27-19l-21-8l-26 12zM4702 1370l27-13l27-13l26-11l27-12l27-11l27-9l27-8l26-8l-20-14l-27 9l-27 8l-26 10l-27 10l-27 11l-27 10l-27 12l-26 11zM4246 1550l27-22l-20-15l-27 19zM4856 1324l27-9l27-8l27-7l-21-15l-26 8l-27 8l-27 9zM4776 1361l27-14l27-13l-21-13l-27 12l-26 11zM4508 1463l27-5l-21-24l-26 4zM4823 1364l27-13l27-11l27-10l26-8l-20-15l-27 8l-27 9l-26 10l-27 13zM4475 1497l27-5l-21-24l-27 4zM4870 1367l27-11l27-9l-20-17l-27 10l-27 11zM4388 1560l27-16l27-12l26-7l-20-23l-27 7l-27 11l-26 14z"/>
<path fill="#ff1c07" stroke="#ff1c07" d="M2340 1585l27-10l27-10l27-12l27-12l26-11l-20-18l-27 11l-27 12l-26 11l-27 10l-27 10zM2495 1549l27-12l26-12l-20-21l-27 13l-27 13zM4599 777l27-8l27-9l27-10l26-8l-20-19l-27 8l-27 9l-26 9l-27 10zM4566 813l27-8l-21-18l-26 8zM4533 842l27-5l26-7l-20-17l-27 7l-27 5zM2898 1481l27-20l-21-21l-26 17zM2791 1517l27-3l-21-30l-27 3zM4553 859l27-6l-20-16l-27 5zM4547 881l27-6l-21-16l-27 6zM4567 895l27-6l-20-14l-27 6zM3013 1506l27-24l-21-22l-27 23zM4561 915l27-5l-21-15l-27 5zM3060 1504l27-22l-21-23l-26 23zM4581 928l27-5l-20-13l-27 5zM4602 942l26-5l-20-14l-27 5zM4622 959l27-7l-21-15l-26 5zM4616 980l26-6l-20-15l-27 4zM3222 1527l27-19l-21-20l-26 20zM4636 997l27-6l-21-17l-26 6zM3269 1526l27-22l-20-18l-27 22zM4630 1019l26-6l-20-16l-27 5zM4469 1080l27-9l26-13l-20-16l-27 12l-27 7zM3290 1540l26-22l-20-14l-27 22zM4623 1042l27-8l-20-15l-27 6zM4462 1102l27-7l27-10l27-12l27-11l-21-17l-27 13l-26 13l-27 9l-27 6zM3310 1556l27-22l-21-16l-26 22zM4483 1117l27-8l26-10l27-10l27-11l27-11l27-9l26-8l-20-16l-27 8l-27 9l-26 11l-27 11l-27 12l-27 10l-27 7zM4584 1102l26-11l27-10l-20-14l-27 11l-27 11zM4476 1136l27-6l27-8l-20-13l-27 8l-27 6zM4524 1142l26-9l27-8l27-10l27-10l-21-14l-26 11l-27 11l-27 9l-27 8zM4544 1154l27-9l27-9l26-10l27-9l-20-12l-27 10l-27 10l-27 8l-26 9zM4564 1167l27-8l27-10l27-11l27-11l26-10l27-10l27-10l27-10l27-12l26-9l27-8l-20-10l-27 8l-27 9l-27 11l-26 11l-27 10l-27 11l-27 9l-27 9l-26 10l-27 9l-27 9zM4853 1077l27-9l26-9l27-8l-20-9l-27 8l-27 8l-27 8zM4585 1180l27-8l26-10l27-11l27-11l27-11l27-11l26-10l27-12l-20-9l-27 10l-27 10l-27 10l-26 10l-27 11l-27 11l-27 10l-27 8zM3459 1622l27-20l-20-19l-27 21zM4900 1079l27-8l27-8l26-9l-20-11l-27 8l-27 8l-26 9zM4605 1194l27-8l27-11l27-12l26-11l-20-12l-27 11l-27 11l-26 10l-27 8zM4947 1084l27-9l27-7l-21-14l-26 9l-27 8zM4626 1208l26-9l27-11l27-12l-20-13l-27 12l-27 11l-27 8zM3527 1637l27-15l-21-18l-27 17zM4968 1099l26-8l27-7l-20-16l-27 7l-27 9zM4646 1220l27-10l27-10l26-10l-20-14l-27 12l-27 11l-26 9zM3574 1641l27-15l-21-19l-26 15zM4934 1132l27-8l27-7l-20-18l-27 8l-27 8zM4827 1173l27-11l-20-14l-27 10zM3648 1634l27-11l27-11l26-10l27-11l27-13l-20-20l-27 12l-27 9l-27 9l-27 11l-26 14zM4821 1196l27-9l26-9l27-10l27-10l27-10l27-7l-21-17l-27 8l-26 9l-27 11l-27 10l-27 11l-27 9zM3829 1584l27-14l27-11l27-10l26-11l27-12l-20-17l-27 12l-27 10l-27 9l-26 12l-27 13zM4788 1229l26-8l27-9l27-10l27-9l27-10l26-9l-20-16l-27 10l-27 10l-26 9l-27 9l-27 9l-27 10zM4386 1395l26-19l-20-19l-27 16zM4332 1411l27-7l-21-22l-26 4zM3876 1585l27-11l27-11l27-11l27-11l26-12l-20-16l-27 13l-27 12l-26 11l-27 10l-27 11zM4808 1243l27-9l27-9l26-9l27-9l-20-14l-27 9l-27 10l-27 9l-26 8zM4406 1401l27-18l-21-7l-26 19zM4272 1453l27-10l27-10l26-11l-20-11l-27 7l-27 6l-26 7zM3924 1588l26-13l27-12l27-11l27-12l-21-11l-26 12l-27 11l-27 11l-27 11zM4802 1266l26-9l27-10l27-10l27-8l-21-13l-26 9l-27 9l-27 9l-27 9zM4266 1474l26-15l27-14l-20-2l-27 10l-27 11zM4185 1503l27-4l-20-16l-27 3zM4078 1544l27-7l-21-18l-26 10zM3944 1603l27-14l27-13l26-13l-20-11l-27 11l-27 12l-26 13zM4849 1269l27-10l26-8l27-8l-20-14l-27 8l-27 10l-27 10zM4152 1546l27-16l27-13l26-12l27-13l-20-1l-27 8l-27 4l-27 6l-26 15zM4072 1567l26-4l27-5l-20-21l-27 7l-27 8zM3991 1606l27-15l27-13l-21-15l-26 13l-27 13zM4896 1271l27-7l27-8l-21-13l-27 8l-26 8zM4548 1407l26-8l27-9l27-13l-20-17l-27 11l-27 10l-27 10zM4199 1550l27-18l-20-15l-27 13zM4038 1611l27-13l27-9l-20-22l-27 11l-27 13zM4916 1285l27-7l27-7l-20-15l-27 8l-27 7zM4622 1406l26-12l27-12l27-12l-20-18l-27 12l-27 13l-27 13zM4541 1430l27-5l27-8l-21-18l-26 8l-27 2zM4937 1300l27-6l-21-16l-27 7zM4722 1387l27-14l27-12l-20-17l-27 13l-27 13zM4535 1458l27-6l-21-22l-27 4zM4267 1571l27-23l-21-20l-27 22zM4930 1322l27-5l-20-17l-27 7zM4770 1390l26-12l27-14l-20-17l-27 14l-27 12zM4502 1492l26-5l-20-24l-27 5zM4314 1573l27-22l-21-27l-26 24zM4924 1347l27-5l-21-20l-26 8zM4817 1395l27-15l26-13l-20-16l-27 13l-27 14zM4468 1525l27-5l-20-23l-27 5zM4864 1398l27-13l27-11l26-7l-20-20l-27 9l-27 11l-26 13z"/>
<path fill="#ff2e0d" stroke="#ff2e0d" d="M2361 1604l27-10l26-10l27-13l27-11l27-11l-21-19l-26 11l-27 12l-27 12l-27 10l-27 10zM2569 1550l27-13l26-17l-20-22l-27 15l-27 12zM4706 742l27-10l27-11l-20-19l-27 11l-27 10zM2643 1544l27-19l-21-23l-27 18zM4593 805l27-7l26-9l27-10l27-9l-20-20l-27 10l-27 9l-27 8l-27 10zM2690 1548l27-24l-21-22l-26 23zM4586 830l27-7l-20-18l-27 8zM2871 1499l27-18l-20-24l-27 15zM2818 1514l26-3l-20-30l-27 3zM2737 1548l27-19l-20-27l-27 22zM4580 853l27-8l-21-15l-26 7zM4574 875l26-8l27-7l-20-15l-27 8l-27 6zM2966 1506l26-23l-20-25l-27 24zM4594 889l27-8l-21-14l-26 8zM4588 910l26-7l27-8l-20-14l-27 8l-27 6zM4608 923l27-6l27-8l-21-14l-27 8l-26 7zM3080 1524l27-22l-20-20l-27 22zM4628 937l27-8l27-6l-20-14l-27 8l-27 6zM3128 1522l26-18l-20-22l-27 20zM4649 952l27-7l-21-16l-27 8zM3175 1526l27-18l-21-21l-27 17zM4642 974l27-6l27-7l-20-16l-27 7l-27 7zM4663 991l27-7l-21-16l-27 6zM4656 1013l27-6l-20-16l-27 6zM4650 1034l27-7l27-7l-21-13l-27 6l-26 6zM4670 1050l27-9l27-8l-20-13l-27 7l-27 7zM3330 1571l27-22l-20-15l-27 22zM4637 1081l27-8l27-9l27-10l26-9l-20-12l-27 8l-27 9l-26 8l-27 9zM4530 1122l27-9l27-11l-21-13l-27 10l-26 10zM3351 1584l27-24l-21-11l-27 22zM4631 1105l27-8l26-10l27-11l27-11l27-10l27-10l26-8l-20-11l-27 9l-27 10l-26 9l-27 10l-27 9l-27 8l-27 10zM3371 1598l27-23l-20-15l-27 24zM4651 1117l27-9l27-11l27-10l26-11l27-11l27-9l27-8l27-7l-21-11l-27 7l-26 8l-27 10l-27 10l-27 11l-27 11l-26 10l-27 8zM3392 1612l26-22l-20-15l-27 23zM4859 1058l27-8l27-8l-21-9l-26 8l-27 7zM3412 1627l27-23l-21-14l-26 22zM4933 1051l27-8l-20-8l-27 7zM4980 1054l27-6l-20-11l-27 6zM3480 1639l26-18l-20-19l-27 20zM5001 1068l27-5l-21-15l-27 6zM3500 1653l27-16l-21-16l-26 18zM5021 1084l27-5l-20-16l-27 5zM3547 1654l27-13l-20-19l-27 15zM4988 1117l27-7l27-6l-21-20l-27 7l-26 8zM3594 1658l27-13l27-11l-20-21l-27 13l-27 15zM4982 1141l26-7l-20-17l-27 7zM3776 1609l26-12l27-13l-20-19l-27 13l-27 13zM4948 1174l27-8l27-6l-20-19l-27 7l-27 10zM4359 1404l27-9l-21-22l-27 9zM3823 1613l27-14l26-14l-20-15l-27 14l-27 13zM4915 1207l27-9l27-7l27-5l-21-20l-27 8l-26 9l-27 10zM4352 1422l27-11l27-10l-20-6l-27 9l-27 7zM3870 1614l27-13l27-13l-21-14l-27 11l-26 14zM4909 1229l27-8l26-7l-20-16l-27 9l-27 9zM4212 1499l27-8l27-17l-21-10l-27 12l-26 7zM3917 1618l27-15l-20-15l-27 13zM4929 1243l27-8l27-6l-21-15l-26 7l-27 8zM4125 1558l27-12l-20-22l-27 13zM3964 1620l27-14l-20-17l-27 14zM4950 1256l26-7l27-3l-20-17l-27 6l-27 8zM4172 1566l27-16l-20-20l-27 16zM4092 1589l27-4l-21-22l-26 4zM4012 1625l26-14l-20-20l-27 15zM4970 1271l27-4l-21-18l-26 7zM4595 1417l27-11l-21-16l-27 9zM4220 1568l26-18l-20-18l-27 18zM4964 1294l26-5l-20-18l-27 7zM4642 1424l27-12l27-11l26-14l-20-17l-27 12l-27 12l-26 12zM4562 1452l26-7l27-9l-20-19l-27 8l-27 5zM4957 1317l27-5l-20-18l-27 6zM4716 1417l27-14l27-13l-21-17l-27 14l-26 14zM4528 1487l27-7l-20-22l-27 5zM4951 1342l27-5l-21-20l-27 5zM4790 1409l27-14l-21-17l-26 12zM4495 1520l27-5l-20-23l-27 5zM4361 1579l27-19l-20-26l-27 17zM4944 1367l27-5l-20-20l-27 5zM4837 1413l27-15l-20-18l-27 15zM4435 1569l27-13l27-9l-21-22l-26 7l-27 12z"/>
<path fill="#ff3e10" stroke="#ff3e10" d="M2381 1621l27-11l27-10l27-11l26-9l27-10l27-10l27-10l-21-25l-26 12l-27 12l-27 11l-27 11l-27 13l-26 10l-27 10zM4700 770l27-9l27-10l26-11l-20-19l-27 11l-27 10l-26 8zM4613 823l27-7l27-10l27-10l26-8l-20-18l-27 9l-27 10l-26 9l-27 7zM2844 1511l27-12l-20-27l-27 9zM4607 845l27-7l26-7l-20-15l-27 7l-27 7zM2918 1505l27-23l-20-21l-27 20zM2784 1558l27-10l-20-31l-27 12zM4627 860l27-7l-20-15l-27 7zM4621 881l27-6l26-7l-20-15l-27 7l-27 7zM4641 895l27-7l27-7l-21-13l-26 7l-27 6zM3033 1526l27-22l-20-22l-27 24zM4662 909l26-7l27-8l-20-13l-27 7l-27 7zM4682 923l27-7l27-9l-21-13l-27 8l-26 7zM4810 900l26-12l27-10l-20-14l-27 10l-27 12zM4676 945l26-7l27-9l27-9l-20-13l-27 9l-27 7l-27 6zM3148 1542l27-16l-21-22l-26 18zM4696 961l27-9l27-10l26-8l-20-14l-27 9l-27 9l-26 7zM3195 1545l27-18l-20-19l-27 18zM4690 984l26-8l27-10l27-9l-20-15l-27 10l-27 9l-27 7zM3242 1546l27-20l-20-18l-27 19zM4683 1007l27-8l27-9l27-10l-21-14l-27 10l-26 8l-27 7zM3263 1562l27-22l-21-14l-27 20zM4704 1020l26-8l27-9l-20-13l-27 9l-27 8zM4724 1033l27-9l27-9l26-8l-20-13l-27 9l-27 9l-26 8zM4744 1045l27-10l27-9l27-7l-21-12l-26 8l-27 9l-27 9zM4818 1037l27-7l27-7l-20-11l-27 7l-27 7zM4866 1041l26-8l27-8l-20-10l-27 8l-27 7zM4913 1042l27-7l26-7l-20-10l-27 7l-27 8zM4960 1043l27-6l-21-9l-26 7zM3432 1643l27-21l-20-18l-27 23zM5007 1048l27-2l-20-11l-27 2zM5028 1063l26-2l-20-15l-27 2zM3520 1669l27-15l-20-17l-27 16zM5042 1104l26-5l-20-20l-27 5zM3541 1684l27-13l26-13l-20-17l-27 13l-27 15zM5008 1134l27-4l-20-20l-27 7zM3615 1676l27-10l26-10l27-11l27-12l27-12l27-12l-21-18l-27 11l-26 10l-27 11l-27 11l-27 11l-27 13zM5002 1160l27-5l-21-21l-26 7zM3796 1627l27-14l-21-16l-26 12zM4996 1186l26-6l-20-20l-27 6zM3843 1629l27-15l-20-15l-27 14zM4962 1214l27-5l27-6l-20-17l-27 5l-27 7zM3890 1632l27-14l-20-17l-27 13zM4983 1229l27-3l-21-17l-27 5zM3938 1635l26-15l-20-17l-27 15zM4119 1585l27-7l26-12l-20-20l-27 12l-27 5zM3985 1639l27-14l-21-19l-27 14zM4997 1267l27-3l-21-18l-27 3zM4032 1645l27-13l27-11l26-8l-20-24l-27 9l-27 13l-26 14zM4990 1289l27-3l-20-19l-27 4zM4615 1436l27-12l-20-18l-27 11zM4984 1312l27-4l-21-19l-26 5zM4662 1444l27-12l27-15l-20-16l-27 11l-27 12zM4555 1480l27-7l27-8l-21-20l-26 7l-27 6zM4287 1594l27-21l-20-25l-27 23zM4978 1337l26-5l-20-20l-27 5zM4736 1436l27-14l27-13l-20-19l-27 13l-27 14zM4522 1515l27-6l-21-22l-26 5zM4334 1599l27-20l-20-28l-27 22zM4971 1362l27-5l-20-20l-27 5zM4810 1429l27-16l-20-18l-27 14zM4489 1547l27-8l26-4l-20-20l-27 5l-27 5zM4408 1586l27-17l-20-25l-27 16zM4884 1423l27-14l27-12l27-7l-21-23l-26 7l-27 11l-27 13z"/>
<path fill="#ff4c10" stroke="#ff4c10" d="M2589 1573l27-13l27-16l-21-24l-26 17l-27 13zM2402 1638l26-10l27-10l27-9l27-9l27-10l26-8l-20-22l-27 10l-27 10l-26 9l-27 11l-27 10l-27 11zM2663 1569l27-21l-20-23l-27 19zM4720 788l27-9l27-10l27-10l-21-19l-26 11l-27 10l-27 9zM2710 1570l27-22l-20-24l-27 24zM4660 831l27-9l27-9l27-9l27-10l26-10l27-11l-20-14l-27 10l-27 10l-27 9l-26 8l-27 10l-27 10zM2892 1525l26-20l-20-24l-27 18zM2811 1548l27-4l-20-30l-27 3zM2758 1574l26-16l-20-29l-27 19zM4761 818l27-12l27-10l27-10l-21-13l-27 11l-26 10l-27 10zM4654 853l27-7l27-8l26-9l-20-16l-27 9l-27 9l-26 7zM2939 1527l27-21l-21-24l-27 23zM4674 868l27-8l27-9l27-11l27-11l26-9l27-11l27-10l-20-13l-27 10l-27 10l-27 12l-27 11l-26 9l-27 8l-27 7zM2986 1528l27-22l-21-23l-26 23zM4695 881l27-8l26-10l27-12l27-10l27-9l27-11l26-10l-20-12l-27 10l-27 11l-26 9l-27 11l-27 11l-27 9l-27 8zM4715 894l27-9l27-10l27-11l26-11l27-10l27-10l27-10l-21-12l-26 10l-27 11l-27 9l-27 10l-27 12l-26 10l-27 8zM4736 907l26-10l27-11l27-12l27-10l27-8l26-10l27-11l-20-12l-27 10l-27 10l-27 10l-26 11l-27 11l-27 10l-27 9zM3101 1541l27-19l-21-20l-27 22zM4863 878l27-9l27-10l27-11l-21-13l-27 11l-26 10l-27 8zM4756 920l27-9l27-11l-21-14l-27 11l-26 10zM3121 1557l27-15l-20-20l-27 19zM4776 934l27-8l27-10l27-11l27-11l26-11l27-10l27-10l-20-15l-27 11l-27 10l-27 9l-27 10l-26 12l-27 11l-27 9zM3168 1560l27-15l-20-19l-27 16zM4770 957l27-8l27-9l26-10l27-9l27-11l27-10l27-10l26-10l-20-17l-27 10l-27 10l-26 11l-27 11l-27 11l-27 10l-27 8l-26 8zM3216 1563l26-17l-20-19l-27 18zM4764 980l26-8l27-9l27-8l-20-15l-27 9l-27 8l-27 9zM4757 1003l27-9l27-9l27-8l-21-14l-27 9l-26 8l-27 10zM3283 1576l27-20l-20-16l-27 22zM4804 1007l27-8l27-8l-20-14l-27 8l-27 9zM3304 1590l26-19l-20-15l-27 20zM4825 1019l27-7l26-8l-20-13l-27 8l-27 8zM3324 1604l27-20l-21-13l-26 19zM4872 1023l27-8l-21-11l-26 8zM3344 1619l27-21l-20-14l-27 20zM4919 1025l27-7l-20-10l-27 7zM3365 1634l27-22l-21-14l-27 21zM4966 1028l27-4l-20-12l-27 6zM4987 1037l27-2l-21-11l-27 4zM3453 1658l27-19l-21-17l-27 21zM3473 1671l27-18l-20-14l-27 19zM5048 1079l27-2l-21-16l-26 2zM3494 1686l26-17l-20-16l-27 18zM5068 1099l27-3l-20-19l-27 2zM3514 1700l27-16l-21-15l-26 17zM5035 1130l27-5l-20-21l-27 6zM3561 1699l27-12l27-11l-21-18l-26 13l-27 13zM5029 1155l27-6l-21-19l-27 4zM3716 1666l26-13l27-13l27-13l-20-18l-27 12l-27 12l-27 12zM5022 1180l27-5l-20-20l-27 5zM3816 1644l27-15l-20-16l-27 14zM5016 1203l27-5l-21-18l-26 6zM3837 1661l27-15l26-14l-20-18l-27 15l-27 15zM5010 1226l26-5l-20-18l-27 6zM3884 1664l27-14l27-15l-21-17l-27 14l-26 14zM5003 1246l27-3l-20-17l-27 3zM3958 1654l27-15l-21-19l-26 15zM4193 1586l27-18l-21-18l-27 16zM4112 1613l27-5l-20-23l-27 4zM4005 1660l27-15l-20-20l-27 14zM5017 1286l27-3l-20-19l-27 3zM4240 1590l27-19l-21-21l-26 18zM5011 1308l27-3l-21-19l-27 3zM4609 1465l27-9l26-12l-20-20l-27 12l-27 9zM5004 1332l27-4l-20-20l-27 4zM4710 1451l26-15l-20-19l-27 15zM4549 1509l27-6l26-8l-20-22l-27 7l-27 7zM4998 1357l27-4l-21-21l-26 5zM4784 1443l26-14l-20-20l-27 13zM4382 1604l26-18l-20-26l-27 19zM4965 1390l27-6l-21-22l-27 5zM4858 1437l26-14l-20-25l-27 15zM4456 1595l26-15l27-11l27-7l-20-23l-27 8l-27 9l-27 13z"/>
<path fill="#ff5a10" stroke="#ff5a10" d="M2562 1582l27-9l-20-23l-27 10zM2422 1657l27-10l27-10l26-9l27-9l-20-19l-27 9l-27 9l-27 10l-26 10zM2838 1544l27-5l-21-28l-26 3zM4734 829l27-11l-20-14l-27 9zM3006 1547l27-21l-20-20l-27 22zM3054 1547l26-23l-20-20l-27 22zM3142 1573l26-13l-20-18l-27 15zM3189 1576l27-13l-21-18l-27 15zM4844 955l27-8l27-9l26-10l27-10l27-10l27-10l-21-18l-26 10l-27 10l-27 10l-27 11l-27 9l-26 10zM3236 1580l27-18l-21-16l-26 17zM4838 977l26-7l27-7l-20-16l-27 8l-27 8zM3256 1594l27-18l-20-14l-27 18zM4858 991l27-7l27-8l-21-13l-27 7l-26 7zM4878 1004l27-7l27-8l-20-13l-27 8l-27 7zM4899 1015l27-7l26-6l-20-13l-27 8l-27 7zM4946 1018l27-6l-21-10l-26 6zM3385 1649l27-22l-20-15l-27 22zM5014 1035l26 0l-20-13l-27 2zM3406 1665l26-22l-20-16l-27 22zM5034 1046l27 0l-21-11l-26 0zM3426 1677l27-19l-21-15l-26 22zM5054 1061l27-1l-20-14l-27 0zM3446 1690l27-19l-20-13l-27 19zM5075 1077l27 0l-21-17l-27 1zM3467 1702l27-16l-21-15l-27 19zM5062 1125l27-5l-21-21l-26 5zM3534 1714l27-15l-20-15l-27 16zM5056 1149l26-6l-20-18l-27 5zM3555 1730l27-12l26-12l27-10l27-9l27-10l27-11l-21-21l-27 11l-26 10l-27 10l-27 11l-27 12l-27 15zM5049 1175l27-6l-20-20l-27 6zM3763 1674l27-14l26-16l-20-17l-27 13l-27 13zM5043 1198l27-6l-21-17l-27 5zM3810 1676l27-15l-21-17l-26 16zM5036 1221l27-4l-20-19l-27 5zM3857 1680l27-16l-20-18l-27 15zM5030 1243l27-4l-21-18l-26 5zM3904 1684l27-16l27-14l-20-19l-27 15l-27 14zM5024 1264l26-3l-20-18l-27 3zM4139 1608l27-8l27-14l-21-20l-26 12l-27 7zM3978 1676l27-16l-20-21l-27 15zM4213 1609l27-19l-20-22l-27 18zM4052 1668l27-14l27-11l27-6l-21-24l-26 8l-27 11l-27 13zM5038 1305l26-2l-20-20l-27 3zM4260 1613l27-19l-20-23l-27 19zM5031 1328l27-1l-20-22l-27 3zM4602 1495l27-8l27-10l27-12l27-14l-21-19l-27 12l-26 12l-27 9l-27 8zM4308 1618l26-19l-20-26l-27 21zM5025 1353l27-3l-21-22l-27 4zM4730 1473l27-15l27-15l-21-21l-27 14l-26 15zM4542 1535l27-5l27-6l-20-21l-27 6l-27 6zM4992 1384l26-5l-20-22l-27 5zM4804 1465l27-15l27-13l-21-24l-27 16l-26 14zM4536 1562l27-5l-21-22l-26 4zM4429 1613l27-18l-21-26l-27 17zM4905 1449l27-14l26-12l27-8l27-7l-20-24l-27 6l-27 7l-27 12l-27 14z"/>
<path fill="#ff680e" stroke="#ff680e" d="M2529 1619l27-8l27-7l27-9l26-12l27-14l-20-25l-27 16l-27 13l-27 9l-26 8l-27 10zM2684 1591l26-21l-20-22l-27 21zM2442 1675l27-10l27-11l27-8l27-8l-21-19l-27 9l-26 9l-27 10l-27 10zM2865 1539l27-14l-21-26l-27 12zM2731 1592l27-18l-21-26l-27 22zM2912 1545l27-18l-21-22l-26 20zM2805 1583l27-9l-21-26l-27 10zM2959 1547l27-19l-20-22l-27 21zM3074 1562l27-21l-21-17l-26 23zM3094 1574l27-17l-20-16l-27 21zM3115 1587l27-14l-21-16l-27 17zM3135 1601l27-12l27-13l-21-16l-26 13l-27 14zM3209 1593l27-13l-20-17l-27 13zM4891 963l27-8l27-10l27-9l26-10l27-10l-20-18l-27 10l-27 10l-27 10l-26 10l-27 9zM4912 976l26-9l27-7l-20-15l-27 10l-27 8zM3277 1608l27-18l-21-14l-27 18zM4932 989l27-7l27-6l-21-16l-27 7l-26 9zM3297 1623l27-19l-20-14l-27 18zM4952 1002l27-5l-20-15l-27 7zM3318 1638l26-19l-20-15l-27 19zM4973 1012l27-3l-21-12l-27 5zM3338 1654l27-20l-21-15l-26 19zM4993 1024l27-2l-20-13l-27 3zM5095 1096l27-1l-20-18l-27 0zM3487 1716l27-16l-20-14l-27 16zM5089 1120l27-3l-21-21l-27 3zM3508 1731l26-17l-20-14l-27 16zM5082 1143l27-5l-20-18l-27 5zM3528 1746l27-16l-21-16l-26 17zM5076 1169l27-7l-21-19l-26 6zM3575 1748l27-11l27-11l27-9l26-8l27-10l27-12l27-13l-21-21l-26 13l-27 11l-27 10l-27 9l-27 10l-26 12l-27 12zM5070 1192l26-5l-20-18l-27 6zM3783 1693l27-17l-20-16l-27 14zM5063 1217l27-5l-20-20l-27 6zM3830 1696l27-16l-20-19l-27 15zM5057 1239l27-4l-21-18l-27 4zM3878 1701l26-17l-20-20l-27 16zM5050 1261l27-4l-20-18l-27 4zM3952 1691l26-15l-20-22l-27 14zM5044 1283l27-3l-21-19l-26 3zM4186 1624l27-15l-20-23l-27 14zM4133 1637l27-4l-21-25l-27 5zM4026 1682l26-14l-20-23l-27 15zM4703 1488l27-15l-20-22l-27 14zM4596 1524l27-7l-21-22l-26 8zM4355 1624l27-20l-21-25l-27 20zM5018 1379l27-3l-20-23l-27 4zM4777 1479l27-14l-20-22l-27 15zM4563 1557l27-6l-21-21l-27 5zM5012 1408l27-5l-21-24l-26 5zM4878 1463l27-14l-21-26l-26 14zM4503 1606l27-12l26-6l-20-26l-27 7l-27 11z"/>
<path fill="#ff760c" stroke="#ff760c" d="M2657 1605l27-14l-21-22l-27 14zM2550 1638l26-6l-20-21l-27 8zM2463 1694l27-11l26-10l27-8l27-8l-20-19l-27 8l-27 8l-27 11l-27 10zM2832 1574l26-6l-20-24l-27 4zM2778 1597l27-14l-21-25l-26 16zM2980 1566l26-19l-20-19l-27 19zM3027 1567l27-20l-21-21l-27 21zM3088 1604l27-17l-21-13l-26 18zM3108 1617l27-16l-20-14l-27 17zM3156 1619l26-13l27-13l-20-17l-27 13l-27 12zM3203 1623l27-14l26-15l-20-14l-27 13l-27 13zM4965 960l27-6l27-11l27-10l-21-17l-27 10l-26 10l-27 9zM3250 1624l27-16l-21-14l-26 15zM4986 976l26-7l27-10l27-10l-20-16l-27 10l-27 11l-27 6zM3270 1639l27-16l-20-15l-27 16zM4979 997l27-5l-20-16l-27 6zM3291 1655l27-17l-21-15l-27 16zM5000 1009l26-3l-20-14l-27 5zM5020 1022l27-2l-21-14l-26 3zM3358 1670l27-21l-20-15l-27 20zM5040 1035l27-1l-20-14l-27 2zM3379 1684l27-19l-21-16l-27 21zM5061 1046l27 0l-21-12l-27 1zM3399 1697l27-20l-20-12l-27 19zM5081 1060l27 0l-20-14l-27 0zM3420 1708l26-18l-20-13l-27 20zM5102 1077l26-1l-20-16l-27 0zM3440 1719l27-17l-21-12l-26 18zM3460 1731l27-15l-20-14l-27 17zM5116 1117l26-1l-20-21l-27 1zM3481 1747l27-16l-21-15l-27 15zM5109 1138l27-2l-20-19l-27 3zM3501 1762l27-16l-20-15l-27 16zM5103 1162l27-5l-21-19l-27 5zM3548 1761l27-13l-20-18l-27 16zM5096 1187l27-5l-20-20l-27 7zM3756 1709l27-16l-20-19l-27 13zM3596 1768l26-11l27-10l27-7l-20-23l-27 9l-27 11l-27 11zM5090 1212l27-6l-21-19l-26 5zM5084 1235l26-5l-20-18l-27 5zM5077 1257l27-5l-20-17l-27 4zM3925 1706l27-15l-21-23l-27 16zM5071 1280l27-3l-21-20l-27 4zM4160 1633l26-9l-20-24l-27 8zM3999 1698l27-16l-21-22l-27 16zM5064 1303l27-1l-20-22l-27 3zM4234 1631l26-18l-20-23l-27 19zM4073 1693l27-15l26-11l27-6l-20-24l-27 6l-27 11l-27 14zM5058 1327l27-1l-21-23l-26 2zM4281 1637l27-19l-21-24l-27 19zM5052 1350l26-2l-20-21l-27 1zM4623 1517l27-7l26-10l27-12l-20-23l-27 12l-27 10l-27 8zM5045 1376l27-3l-20-23l-27 3zM4750 1495l27-16l-20-21l-27 15zM4590 1551l26-6l-20-21l-27 6zM4402 1632l27-19l-21-27l-26 18zM4824 1488l27-12l27-13l-20-26l-27 13l-27 15zM4556 1588l27-6l-20-25l-27 5zM4476 1623l27-17l-21-26l-26 15zM4952 1463l27-11l27-11l-21-26l-27 8l-26 12z"/>
<path fill="#ff8509" stroke="#ff8509" d="M2576 1632l27-6l27-10l27-11l-21-22l-26 12l-27 9l-27 7zM2704 1609l27-17l-21-22l-26 21zM2570 1657l27-7l-21-18l-26 6zM2858 1568l27-9l27-14l-20-20l-27 14l-27 5zM2751 1611l27-14l-20-23l-27 18zM2483 1712l27-10l27-10l27-9l26-9l-20-17l-27 8l-27 8l-26 10l-27 11zM2932 1563l27-16l-20-20l-27 18zM2798 1615l27-11l27-8l-20-22l-27 9l-27 14zM3000 1583l27-16l-21-20l-26 19zM3047 1580l27-18l-20-15l-27 20zM3068 1592l26-18l-20-12l-27 18zM3129 1633l27-14l-21-18l-27 16zM3149 1650l27-13l27-14l-21-17l-26 13l-27 14zM3196 1652l27-14l27-14l-20-15l-27 14l-27 14zM3244 1654l26-15l-20-15l-27 14zM5006 992l27-7l27-10l26-10l-20-16l-27 10l-27 10l-26 7zM5026 1006l27-4l-20-17l-27 7zM3311 1671l27-17l-20-16l-27 17zM5047 1020l27-3l-21-15l-27 4zM3413 1736l27-17l-20-11l-27 18zM5122 1095l27-1l-21-18l-26 1zM3434 1748l26-17l-20-12l-27 17zM3454 1762l27-15l-21-16l-26 17zM3474 1776l27-14l-20-15l-27 15zM5130 1157l26-3l-20-18l-27 2zM3522 1777l26-16l-20-15l-27 16zM5123 1182l27-6l-20-19l-27 5zM3676 1740l27-8l27-11l26-12l-20-22l-27 12l-27 10l-26 8zM3542 1796l27-16l27-12l-21-20l-27 13l-26 16zM5117 1206l27-7l-21-17l-27 5zM3804 1714l26-18l-20-20l-27 17zM5110 1230l27-7l-20-17l-27 6zM3851 1720l27-19l-21-21l-27 16zM5104 1252l27-6l-21-16l-26 5zM3898 1724l27-18l-21-22l-26 17zM5098 1277l26-5l-20-20l-27 5zM3972 1715l27-17l-21-22l-26 15zM5091 1302l27-3l-20-22l-27 3zM4207 1647l27-16l-21-22l-27 15zM4153 1661l27-4l-20-24l-27 4zM4046 1708l27-15l-21-25l-26 14zM4328 1643l27-19l-21-25l-26 19zM4724 1510l26-15l-20-22l-27 15zM4616 1545l27-6l-20-22l-27 7zM4375 1651l27-19l-20-28l-27 20zM5039 1403l27-3l-21-24l-27 3zM4798 1502l26-14l-20-23l-27 14zM4583 1582l27-8l-20-23l-27 6zM4449 1641l27-18l-20-28l-27 18zM5006 1441l26-9l-20-24l-27 7zM4925 1476l27-13l-20-28l-27 14z"/>
<path fill="#ff9006" stroke="#ff9006" d="M2597 1650l27-9l26-8l27-10l27-14l-20-18l-27 14l-27 11l-27 10l-27 6zM2724 1626l27-15l-20-19l-27 17zM2590 1674l27-9l27-9l-20-15l-27 9l-27 7zM2852 1596l27-8l27-11l26-14l-20-18l-27 14l-27 9l-26 6zM2745 1640l27-12l26-13l-20-18l-27 14l-27 15zM2504 1729l26-10l27-10l27-10l27-9l27-10l-21-15l-27 9l-26 9l-27 9l-27 10l-27 10zM2953 1582l27-16l-21-19l-27 16zM2792 1642l27-12l27-9l26-8l-20-17l-27 8l-27 11l-26 13zM2812 1654l27-12l27-9l-20-12l-27 9l-27 12zM3020 1595l27-15l-20-13l-27 16zM2833 1665l27-11l26-8l27-8l-20-13l-27 8l-27 9l-27 12zM3041 1608l27-16l-21-12l-27 15zM2826 1692l27-13l27-12l27-10l27-8l-21-11l-27 8l-26 8l-27 11l-27 14zM3034 1634l27-13l27-17l-20-12l-27 16l-27 13zM2847 1705l27-13l26-12l27-11l27-9l27-8l-21-11l-26 8l-27 8l-27 10l-27 12l-27 13zM3055 1646l27-13l26-16l-20-13l-27 17l-27 13zM2867 1718l27-13l27-10l27-10l26-10l27-10l27-9l-20-13l-27 9l-27 8l-27 9l-27 11l-26 12l-27 13zM3075 1660l27-13l27-14l-21-16l-26 16l-27 13zM2914 1723l27-11l27-11l27-11l27-10l26-10l-20-14l-27 9l-27 10l-26 10l-27 10l-27 10zM3122 1663l27-13l-20-17l-27 14zM3170 1666l26-14l-20-15l-27 13zM3217 1668l27-14l-21-16l-27 14zM3237 1684l27-14l27-15l-21-16l-26 15l-27 14zM5053 1002l27-11l27-10l-21-16l-26 10l-27 10zM3284 1686l27-15l-20-16l-27 15zM5074 1017l26-10l27-10l-20-16l-27 10l-27 11zM3332 1687l26-17l-20-16l-27 17zM5067 1034l27-3l27-11l27-10l-21-13l-27 10l-26 10l-27 3zM3352 1701l27-17l-21-14l-26 17zM5088 1046l26-2l27-10l27-11l-20-13l-27 10l-27 11l-27 3zM3372 1713l27-16l-20-13l-27 17zM5108 1060l27-2l27-10l26-10l-20-15l-27 11l-27 10l-26 2zM3393 1726l27-18l-21-11l-27 16zM5128 1076l27-3l-20-15l-27 2zM3386 1752l27-16l-20-10l-27 15zM3407 1765l27-17l-21-12l-27 16zM5142 1116l27-3l-20-19l-27 1zM3427 1778l27-16l-20-14l-27 17zM5136 1136l27-2l-21-18l-26 1zM3448 1791l26-15l-20-14l-27 16zM3495 1793l27-16l-21-15l-27 14zM5150 1176l27-4l-21-18l-26 3zM3515 1812l27-16l-20-19l-27 16zM5144 1199l26-6l-20-17l-27 6zM3777 1731l27-17l-21-21l-27 16zM3589 1803l27-13l27-10l27-8l26-8l-20-24l-27 7l-27 10l-26 11l-27 12zM5137 1223l27-6l-20-18l-27 7zM3824 1738l27-18l-21-24l-26 18zM5131 1246l27-6l-21-17l-27 7zM5124 1272l27-7l-20-19l-27 6zM3945 1732l27-17l-20-24l-27 15zM4180 1657l27-10l-21-23l-26 9zM4019 1723l27-15l-20-26l-27 16zM5085 1326l27-2l-21-22l-27 1zM4254 1655l27-18l-21-24l-26 18zM4093 1718l27-15l27-10l27-5l-21-27l-27 6l-26 11l-27 15zM5078 1348l27-1l-20-21l-27 1zM5072 1373l27-3l-21-22l-26 2zM4643 1539l27-6l27-10l27-13l-21-22l-27 12l-26 10l-27 7zM5066 1400l26-3l-20-24l-27 3zM4771 1517l27-15l-21-23l-27 16zM4610 1574l27-7l27-6l-21-22l-27 6l-26 6zM5032 1432l27-4l-20-25l-27 5zM4872 1502l26-12l27-14l-20-27l-27 14l-27 13zM4523 1639l27-13l27-10l-21-28l-26 6l-27 12z"/>
<path fill="#ff9c03" stroke="#ff9c03" d="M2644 1656l27-8l27-9l26-13l-20-17l-27 14l-27 10l-26 8zM2638 1680l26-8l27-9l27-11l27-12l-21-14l-26 13l-27 9l-27 8l-27 9zM2872 1613l27-9l27-10l27-12l-21-19l-26 14l-27 11l-27 8zM2524 1747l27-10l27-11l26-10l27-10l27-11l27-10l27-9l26-11l27-11l27-12l-20-14l-27 12l-27 12l-27 11l-27 9l-26 8l-27 10l-27 9l-27 10l-27 10l-26 10zM2866 1633l27-8l27-8l26-9l27-11l27-14l-20-17l-27 16l-27 12l-27 10l-27 9l-26 8zM2544 1763l27-10l27-11l27-10l27-11l26-11l27-10l27-10l27-10l27-12l26-14l-20-12l-27 12l-27 11l-26 11l-27 9l-27 10l-27 11l-27 10l-26 10l-27 11l-27 10zM2913 1638l27-8l27-9l27-12l26-14l-20-12l-27 14l-27 11l-26 9l-27 8zM2752 1706l27-13l27-14l27-14l-21-11l-26 14l-27 12l-27 10zM2672 1735l27-10l-21-15l-26 11zM2934 1649l26-8l27-8l27-12l27-13l-21-13l-26 14l-27 12l-27 9l-27 8zM2800 1706l26-14l-20-13l-27 14zM2981 1652l27-9l26-9l-20-13l-27 12l-27 8zM2793 1732l27-13l27-14l-21-13l-26 14l-27 13zM3028 1656l27-10l-21-12l-26 9zM2840 1732l27-14l-20-13l-27 14zM3048 1670l27-10l-20-14l-27 10zM2861 1746l27-13l26-10l-20-18l-27 13l-27 14zM2908 1752l27-11l27-12l26-12l27-11l27-11l27-10l27-10l26-12l-20-16l-27 13l-27 10l-26 10l-27 10l-27 11l-27 11l-27 11l-26 10zM3036 1725l26-12l27-11l27-11l27-12l27-13l-21-16l-27 13l-26 12l-27 10l-27 10l-27 11zM3163 1696l27-13l27-15l-21-16l-26 14l-27 13zM3210 1699l27-15l-20-16l-27 15zM3258 1700l26-14l-20-16l-27 14zM3278 1716l27-14l27-15l-21-16l-27 15l-26 14zM3325 1716l27-15l-20-14l-27 15zM3346 1729l26-16l-20-12l-27 15zM3366 1741l27-15l-21-13l-26 16zM5155 1073l27-10l27-10l-21-15l-26 10l-27 10zM5149 1094l27-3l26-11l27-10l-20-17l-27 10l-27 10l-27 3zM3380 1782l27-17l-21-13l-26 16zM3400 1795l27-17l-20-13l-27 17zM5163 1134l27-2l-21-19l-27 3zM3421 1807l27-16l-21-13l-27 17zM5156 1154l27-3l-20-17l-27 2zM3468 1808l27-15l-21-17l-26 15zM5177 1172l27-4l-21-17l-27 3zM5170 1193l27-5l-20-16l-27 4zM3696 1764l27-9l27-11l27-13l-21-22l-26 12l-27 11l-27 8zM3562 1817l27-14l-20-23l-27 16zM5164 1217l27-5l-21-19l-26 6zM5158 1240l26-5l-20-18l-27 6zM3871 1743l27-19l-20-23l-27 19zM5151 1265l27-6l-20-19l-27 6zM3918 1750l27-18l-20-26l-27 18zM5118 1299l27-6l27-7l-21-21l-27 7l-26 5zM3992 1740l27-17l-20-25l-27 17zM5112 1324l26-3l-20-22l-27 3zM4227 1672l27-17l-20-24l-27 16zM4174 1688l26-5l-20-26l-27 4zM4066 1735l27-17l-20-25l-27 15zM5105 1347l27-1l-20-22l-27 2zM4301 1663l27-20l-20-25l-27 19zM5099 1370l27-2l-21-21l-27 1zM4348 1669l27-18l-20-27l-27 19zM5092 1397l27-3l-20-24l-27 3zM4717 1544l27-13l27-14l-21-22l-26 15l-27 13zM4664 1561l26-7l-20-21l-27 6zM4422 1661l27-20l-20-28l-27 19zM5059 1428l27-3l-20-25l-27 3zM4791 1537l27-12l27-12l27-11l-21-26l-27 12l-26 14l-27 15zM4577 1616l27-10l26-9l27-7l-20-23l-27 7l-27 8l-27 6zM4496 1655l27-16l-20-33l-27 17zM4999 1482l27-14l27-11l-21-25l-26 9l-27 11z"/>
<path fill="#ffa700" stroke="#ffa700" d="M2699 1725l27-9l26-10l-20-16l-27 10l-27 10zM2565 1777l27-11l26-10l27-10l27-11l-20-14l-27 11l-27 10l-27 11l-27 10zM2585 1791l27-10l27-10l27-10l26-12l27-9l27-10l27-11l27-13l-21-13l-27 13l-26 10l-27 9l-27 10l-27 11l-27 10l-26 10l-27 11zM2606 1806l26-11l27-10l27-10l27-11l27-9l26-11l27-12l-20-13l-27 11l-27 10l-27 9l-26 12l-27 10l-27 10l-27 10zM2626 1819l27-10l27-11l26-10l27-9l27-10l27-12l27-12l26-13l-20-13l-27 13l-27 12l-26 11l-27 9l-27 11l-27 10l-27 10l-26 11zM2646 1834l27-10l27-10l27-10l27-10l26-12l27-12l27-11l27-13l-21-14l-26 13l-27 12l-27 12l-27 10l-27 9l-26 10l-27 11l-27 10zM2801 1798l27-12l26-11l27-12l27-11l-20-19l-27 13l-27 13l-27 11l-27 12zM2928 1771l27-11l27-12l27-11l27-12l-21-19l-27 11l-26 12l-27 12l-27 11zM3056 1743l27-12l27-10l26-12l27-13l-20-17l-27 12l-27 11l-27 11l-26 12zM3184 1713l26-14l-20-16l-27 13zM3231 1714l27-14l-21-16l-27 15zM3251 1730l27-14l-20-16l-27 14zM3272 1744l26-14l27-14l-20-14l-27 14l-27 14zM3319 1744l27-15l-21-13l-27 14zM3339 1757l27-16l-20-12l-27 15zM3360 1768l26-16l-20-11l-27 16zM5169 1113l27-3l27-10l27-11l-21-19l-27 10l-26 11l-27 3zM5183 1151l27-1l-20-18l-27 2zM3441 1824l27-16l-20-17l-27 16zM3488 1828l27-16l-20-19l-27 15zM5197 1188l27-4l-20-16l-27 4zM3536 1833l26-16l-20-21l-27 16zM5191 1212l27-7l-21-17l-27 5zM3797 1755l27-17l-20-24l-27 17zM3610 1827l26-13l27-10l27-9l27-9l-21-22l-26 8l-27 8l-27 10l-27 13zM5184 1235l27-5l-20-18l-27 5zM3844 1761l27-18l-20-23l-27 18zM5178 1259l27-7l-21-17l-26 5zM5172 1286l26-8l-20-19l-27 6zM3966 1758l26-18l-20-25l-27 17zM5138 1321l27-7l-20-21l-27 6zM4200 1683l27-11l-20-25l-27 10zM4040 1751l26-16l-20-27l-27 15zM4274 1682l27-19l-20-26l-27 18zM4140 1729l27-9l-20-27l-27 10zM4690 1554l27-10l-20-21l-27 10zM4396 1679l26-18l-20-29l-27 19zM5086 1425l27-4l-21-24l-26 3zM4764 1550l27-13l-20-20l-27 14zM4657 1590l27-9l-20-20l-27 6zM4470 1672l26-17l-20-32l-27 18zM5053 1457l27-5l-21-24l-27 4zM4919 1517l27-11l26-11l27-13l-20-30l-27 11l-27 13l-27 14z"/>
<path fill="#ffb200" stroke="#ffb200" d="M2667 1849l27-10l26-10l27-9l27-10l27-12l-21-16l-26 12l-27 10l-27 10l-27 10l-27 10zM2687 1863l27-10l27-11l27-9l26-10l27-9l27-10l27-11l27-11l26-11l-20-19l-27 11l-27 12l-26 11l-27 12l-27 12l-27 10l-27 9l-26 10l-27 10zM2976 1780l26-12l27-12l27-13l-20-18l-27 12l-27 11l-27 12zM2708 1877l26-10l27-10l27-10l27-9l27-9l-21-15l-27 9l-26 10l-27 9l-27 11l-27 10zM3076 1761l27-11l27-11l27-12l27-14l-21-17l-27 13l-26 12l-27 10l-27 12zM2728 1890l27-10l27-10l26-9l27-8l-20-15l-27 9l-27 10l-27 10l-26 10zM3177 1742l27-13l27-15l-21-15l-26 14l-27 14zM2748 1905l27-10l27-11l27-9l-21-14l-26 9l-27 10l-27 10zM3224 1745l27-15l-20-16l-27 15zM3245 1759l27-15l-21-14l-27 15zM3265 1773l27-15l27-14l-21-14l-26 14l-27 15zM3312 1773l27-16l-20-13l-27 14zM3333 1786l27-18l-21-11l-27 16zM3353 1798l27-16l-20-14l-27 18zM3374 1812l26-17l-20-13l-27 16zM5190 1132l26-3l27-10l27-11l-20-19l-27 11l-27 10l-27 3zM3394 1824l27-17l-21-12l-26 17zM3414 1840l27-16l-20-17l-27 17zM5204 1168l26-3l-20-15l-27 1zM3462 1843l26-15l-20-20l-27 16zM5224 1184l27-5l-21-14l-26 3zM3509 1848l27-15l-21-21l-27 16zM5218 1205l26-6l-20-15l-27 4zM3717 1786l27-9l26-10l27-12l-20-24l-27 13l-27 11l-27 9zM3583 1841l27-14l-21-24l-27 14zM5211 1230l27-8l27-8l-21-15l-26 6l-27 7zM5205 1252l27-8l26-7l-20-15l-27 8l-27 5zM3892 1770l26-20l-20-26l-27 19zM5198 1278l27-8l27-9l-20-17l-27 8l-27 7zM5165 1314l27-8l27-9l-21-19l-26 8l-27 7zM4013 1766l27-15l-21-28l-27 17zM5132 1346l27-4l-21-21l-26 3zM4167 1720l27-5l-20-27l-27 5zM4114 1743l26-14l-20-26l-27 15zM5126 1368l26-1l-20-21l-27 1zM4322 1688l26-19l-20-26l-27 20zM5119 1394l27-1l-20-25l-27 2zM4684 1581l27-8l27-10l26-13l-20-19l-27 13l-27 10l-26 7zM5080 1452l26-3l-20-24l-27 3zM4785 1568l27-13l26-10l27-10l27-9l27-9l-21-27l-26 12l-27 11l-27 12l-27 12l-27 13zM4570 1657l27-11l27-11l27-11l-21-27l-26 9l-27 10l-27 10z"/>
<path fill="#ffbd00" stroke="#ffbd00" d="M2842 1829l26-9l27-10l27-8l27-10l27-12l-21-20l-27 11l-26 11l-27 11l-27 11l-27 10zM3023 1789l27-14l26-14l-20-18l-27 13l-27 12zM2835 1853l27-8l27-8l-21-17l-26 9l-27 9zM3124 1770l26-14l27-14l-20-15l-27 12l-27 11zM2829 1875l27-7l26-6l-20-17l-27 8l-27 8zM3171 1772l27-13l26-14l-20-16l-27 13l-27 14zM2769 1922l27-10l26-11l27-9l27-6l-20-18l-27 7l-27 9l-27 11l-27 10zM3218 1775l27-16l-21-14l-26 14zM2789 1938l27-10l27-10l-21-17l-26 11l-27 10zM3238 1788l27-15l-20-14l-27 16zM3286 1788l26-15l-20-15l-27 15zM3306 1803l27-17l-21-13l-26 15zM3326 1815l27-17l-20-12l-27 17zM3347 1829l27-17l-21-14l-27 17zM3367 1842l27-18l-20-12l-27 17zM5210 1150l27-4l27-10l26-10l-20-18l-27 11l-27 10l-26 3zM3388 1856l26-16l-20-16l-27 18zM5230 1165l27-5l-20-14l-27 4zM3435 1858l27-15l-21-19l-27 16zM5251 1179l27-7l-21-12l-27 5zM3482 1863l27-15l-21-20l-26 15zM5244 1199l27-7l27-8l-20-12l-27 7l-27 5zM3556 1857l27-16l-21-24l-26 16zM5265 1214l27-8l26-8l-20-14l-27 8l-27 7zM3791 1790l27-13l26-16l-20-23l-27 17l-27 12zM3630 1854l27-13l27-12l26-10l27-10l27-9l-20-23l-27 9l-27 9l-27 9l-27 10l-26 13zM5258 1237l27-8l27-9l27-8l-21-14l-26 8l-27 8l-27 8zM3865 1787l27-17l-21-27l-27 18zM5252 1261l27-8l27-9l26-10l-20-14l-27 9l-27 8l-26 7zM3939 1777l27-19l-21-26l-27 18zM5219 1297l27-9l26-8l27-9l-20-18l-27 8l-27 9l-27 8zM5159 1342l27-6l26-8l-20-22l-27 8l-27 7zM4194 1715l27-5l27-12l26-16l-20-27l-27 17l-27 11l-26 5zM4087 1760l27-17l-21-25l-27 17zM5152 1367l27-4l-20-21l-27 4zM4369 1697l27-18l-21-28l-27 18zM5113 1421l27-2l-21-25l-27 3zM4443 1690l27-18l-21-31l-27 20zM5106 1449l27-2l-20-26l-27 4zM4651 1624l27-12l26-11l27-10l27-11l27-12l-21-18l-26 13l-27 10l-27 8l-27 9l-27 7zM4517 1686l27-16l26-13l-20-31l-27 13l-27 16zM5020 1510l26-14l27-12l27-6l-20-26l-27 5l-27 11l-27 14zM4778 1598l27-12l27-10l27-9l27-9l-21-23l-27 10l-26 10l-27 13l-27 12z"/>
<path fill="#ffc800" stroke="#ffc800" d="M2889 1837l27-7l26-8l27-10l27-11l27-12l-21-21l-26 12l-27 12l-27 10l-27 8l-27 10zM3070 1795l27-12l27-13l-21-20l-27 11l-26 14zM2882 1862l27-7l-20-18l-27 8zM3144 1787l27-15l-21-16l-26 14zM2876 1886l27-6l-21-18l-26 6zM3191 1788l27-13l-20-16l-27 13zM2843 1918l27-7l26-5l-20-20l-27 6l-27 9zM3212 1804l26-16l-20-13l-27 13zM2810 1956l26-10l27-10l-20-18l-27 10l-27 10zM3259 1802l27-14l-21-15l-27 15zM3279 1817l27-14l-20-15l-27 14zM3300 1831l26-16l-20-12l-27 14zM3320 1845l27-16l-21-14l-26 16zM3340 1859l27-17l-20-13l-27 16zM3361 1873l27-17l-21-14l-27 17zM5257 1160l27-10l27-11l-21-13l-26 10l-27 10zM3408 1873l27-15l-21-18l-26 16zM5278 1172l26-11l27-10l-20-12l-27 11l-27 10zM3455 1878l27-15l-20-20l-27 15zM5298 1184l27-10l27-10l-21-13l-27 10l-26 11zM3529 1872l27-15l-20-24l-27 15zM5318 1198l27-11l27-10l-20-13l-27 10l-27 10zM3764 1800l27-10l-21-23l-26 10zM3603 1867l27-13l-20-27l-27 14zM5339 1212l27-11l26-10l-20-14l-27 10l-27 11zM5332 1234l27-7l27-10l27-11l-21-15l-26 10l-27 11l-27 8zM3912 1796l27-19l-21-27l-26 20zM5299 1271l27-12l27-9l27-6l26-10l27-11l-20-17l-27 11l-27 10l-27 7l-26 10l-27 9zM3986 1784l27-18l-21-26l-26 18zM5212 1328l27-10l27-10l27-9l27-11l26-11l27-8l-20-19l-27 9l-27 12l-27 9l-26 8l-27 9l-27 9zM4060 1777l27-17l-21-25l-26 16zM5179 1363l27-6l-20-21l-27 6zM4295 1707l27-19l-21-25l-27 19zM4134 1770l27-14l27-9l-21-27l-27 9l-26 14zM5146 1393l27-3l-21-23l-26 1zM4342 1715l27-18l-21-28l-26 19zM5140 1419l26-3l-20-23l-27 1zM4416 1707l27-17l-21-29l-26 18zM5100 1478l27-3l-21-26l-26 3zM4886 1558l26-8l27-8l27-10l27-10l27-12l-21-28l-27 13l-26 11l-27 11l-27 9l-27 9zM4698 1635l27-14l27-11l26-12l-20-18l-27 11l-27 10l-26 11zM4826 1606l26-9l-20-21l-27 10z"/>
<path fill="#ffd100" stroke="#ffd100" d="M2909 1855l27-7l27-8l27-10l26-10l27-11l27-14l-20-20l-27 14l-27 12l-27 11l-27 10l-26 8l-27 7zM3090 1814l27-13l27-14l-20-17l-27 13l-27 12zM2903 1880l27-7l26-7l-20-18l-27 7l-27 7zM3164 1802l27-14l-20-16l-27 15zM2896 1906l27-7l-20-19l-27 6zM3185 1819l27-15l-21-16l-27 14zM2863 1936l27-6l27-6l-21-18l-26 5l-27 7zM3232 1818l27-16l-21-14l-26 16zM2830 1975l27-10l27-11l-21-18l-27 10l-26 10zM3252 1832l27-15l-20-15l-27 16zM3273 1846l27-15l-21-14l-27 15zM3293 1859l27-14l-20-14l-27 15zM3314 1874l26-15l-20-14l-27 14zM3334 1890l27-17l-21-14l-26 15zM3381 1889l27-16l-20-17l-27 17zM3428 1893l27-15l-20-20l-27 15zM3476 1900l26-13l27-15l-20-24l-27 15l-27 15zM3576 1882l27-15l-20-26l-27 16zM3677 1867l27-13l27-13l27-10l26-9l27-10l27-11l27-14l-21-26l-26 16l-27 13l-27 10l-27 9l-27 10l-26 10l-27 12zM3959 1802l27-18l-20-26l-27 19zM5373 1269l27-8l27-10l27-10l-21-18l-27 11l-26 10l-27 6zM4033 1792l27-15l-20-26l-27 15zM5206 1357l27-9l27-11l26-9l27-10l27-11l27-9l-21-21l-26 11l-27 11l-27 9l-27 10l-27 10l-26 8zM4268 1724l27-17l-21-25l-26 16zM4188 1747l26-4l-20-28l-27 5zM4107 1785l27-15l-20-27l-27 17zM5173 1390l27-7l-21-20l-27 4zM5133 1447l27-3l-20-25l-27 2zM4490 1703l27-17l-21-31l-26 17zM4618 1676l26-13l27-13l27-15l-20-23l-27 12l-27 11l-27 11zM4852 1597l27-9l27-7l-20-23l-27 9l-27 9zM4745 1643l27-13l27-13l27-11l-21-20l-27 12l-26 12l-27 11z"/>
<path fill="#ffd900" stroke="#ffd900" d="M2956 1866l27-9l27-8l27-10l27-11l26-14l-20-19l-27 14l-27 11l-26 10l-27 10l-27 8zM3111 1833l27-15l26-16l-20-15l-27 14l-27 13zM2923 1899l27-7l27-8l-21-18l-26 7l-27 7zM3158 1835l27-16l-21-17l-26 16zM2917 1924l27-7l-21-18l-27 7zM3205 1833l27-15l-20-14l-27 15zM2884 1954l26-6l27-7l-20-17l-27 6l-27 6zM3226 1846l26-14l-20-14l-27 15zM2850 1992l27-10l27-11l27-7l-21-16l-26 6l-27 11l-27 10zM3246 1861l27-15l-21-14l-26 14zM3266 1875l27-16l-20-13l-27 15zM3287 1890l27-16l-21-15l-27 16zM3354 1906l27-17l-20-16l-27 17zM3402 1908l26-15l-20-20l-27 16zM3449 1913l27-13l-21-22l-27 15zM3550 1896l26-14l-20-25l-27 15zM3650 1880l27-13l-20-26l-27 13zM3885 1814l27-18l-20-26l-27 17zM4006 1808l27-16l-20-26l-27 18zM5367 1298l27-9l26-9l27-11l27-10l-20-18l-27 10l-27 10l-27 8l-27 8zM4214 1743l27-6l27-13l-20-26l-27 12l-27 5zM4080 1801l27-16l-20-25l-27 17zM5200 1383l26-8l27-10l27-10l27-8l-21-19l-26 9l-27 11l-27 9l-27 6zM4315 1734l27-19l-20-27l-27 19zM4181 1781l27-7l-20-27l-27 9zM5166 1416l27-5l-20-21l-27 3zM4389 1724l27-17l-20-28l-27 18zM5160 1444l27-5l-21-23l-26 3zM4463 1720l27-17l-20-31l-27 18zM5127 1475l27-3l-21-25l-27 2zM4564 1698l27-11l27-11l-21-30l-27 11l-26 13zM4906 1581l27-7l27-9l26-9l27-9l27-10l27-13l27-12l26-9l-20-25l-27 6l-27 12l-26 14l-27 12l-27 10l-27 10l-27 8l-26 8zM4718 1657l27-14l-20-22l-27 14zM4792 1650l27-13l27-10l27-10l27-9l-21-20l-27 9l-26 9l-27 11l-27 13z"/>
<path fill="#ffe100" stroke="#ffe100" d="M3057 1859l27-13l27-13l-21-19l-26 14l-27 11zM2977 1884l27-8l26-8l-20-19l-27 8l-27 9zM3131 1851l27-16l-20-17l-27 15zM2944 1917l26-7l27-8l-20-18l-27 8l-27 7zM3178 1849l27-16l-20-14l-27 16zM2937 1941l27-6l-20-18l-27 7zM3199 1862l27-16l-21-13l-27 16zM2931 1964l27-6l-21-17l-27 7zM3219 1877l27-16l-20-15l-27 16zM2871 2011l27-10l26-11l27-8l-20-18l-27 7l-27 11l-27 10zM3240 1891l26-16l-20-14l-27 16zM3260 1906l27-16l-21-15l-26 16zM3307 1906l27-16l-20-16l-27 16zM3328 1921l26-15l-20-16l-27 16zM3375 1923l27-15l-21-19l-27 17zM3395 1940l27-15l27-12l-21-20l-26 15l-27 15zM3496 1921l27-12l27-13l-21-24l-27 15l-26 13zM3597 1904l27-11l26-13l-20-26l-27 13l-27 15zM3724 1876l27-13l27-11l27-9l27-8l26-9l27-12l-20-27l-27 14l-27 11l-27 10l-26 9l-27 10l-27 13zM3932 1820l27-18l-20-25l-27 19zM4054 1816l26-15l-20-24l-27 15zM5307 1347l27-10l26-10l27-10l27-10l27-10l27-10l26-10l-20-18l-27 10l-27 11l-26 9l-27 9l-27 9l-27 11l-27 10zM4208 1774l27-1l-21-30l-26 4zM4128 1810l26-15l27-14l-20-25l-27 14l-27 15zM5193 1411l27-7l27-8l27-11l26-11l27-10l27-10l-20-17l-27 10l-27 8l-27 10l-27 10l-26 8l-27 7zM4362 1742l27-18l-20-27l-27 18zM5187 1439l27-6l-21-22l-27 5zM4436 1736l27-16l-20-30l-27 17zM5154 1472l26-4l-20-24l-27 3zM4537 1713l27-15l-20-28l-27 16zM5120 1503l27-5l-20-23l-27 3zM4692 1673l26-16l-20-22l-27 15zM4900 1608l26-7l27-7l-20-20l-27 7l-27 7zM4766 1664l26-14l-20-20l-27 13zM4813 1669l27-12l26-10l27-9l-20-21l-27 10l-27 10l-27 13z"/>
<path fill="#ffe700" stroke="#ffe700" d="M3030 1868l27-9l-20-20l-27 10zM3104 1865l27-14l-20-18l-27 13zM2997 1902l27-8l27-8l-21-18l-26 8l-27 8zM3152 1866l26-17l-20-14l-27 16zM2964 1935l27-7l27-8l-21-18l-27 8l-26 7zM3172 1880l27-18l-21-13l-26 17zM2958 1958l26-5l-20-18l-27 6zM3192 1894l27-17l-20-15l-27 18zM2951 1982l27-6l-20-18l-27 6zM3213 1908l27-17l-21-14l-27 17zM2891 2031l27-10l27-11l27-9l-21-19l-27 8l-26 11l-27 10zM3233 1922l27-16l-20-15l-27 17zM3280 1923l27-17l-20-16l-27 16zM3301 1939l27-18l-21-15l-27 17zM3348 1938l27-15l-21-17l-26 15zM3368 1956l27-16l-20-17l-27 15zM3416 1957l26-13l27-11l27-12l-20-21l-27 13l-27 12l-27 15zM3543 1929l27-12l27-13l-21-22l-26 14l-27 13zM3671 1903l27-14l26-13l-20-22l-27 13l-27 13zM3906 1838l26-18l-20-24l-27 18zM3772 1883l26-10l27-7l-20-23l-27 9l-27 11zM3980 1826l26-18l-20-24l-27 18zM4027 1832l27-16l-21-24l-27 16zM4288 1751l27-17l-20-27l-27 17zM5354 1354l27-9l27-10l26-10l27-9l27-10l27-11l-21-18l-26 10l-27 10l-27 10l-27 10l-27 10l-26 10zM5267 1415l27-13l27-11l27-11l26-9l27-8l-20-18l-27 9l-27 10l-27 10l-26 11l-27 11zM5214 1433l26-8l-20-21l-27 7zM5180 1468l27-6l-20-23l-27 5zM4510 1730l27-17l-20-27l-27 17zM5147 1498l27-4l-20-22l-27 3zM4638 1702l27-14l27-15l-21-23l-27 13l-26 13zM5060 1559l27-12l27-11l27-9l-21-24l-26 9l-27 12l-27 13zM4953 1594l27-8l27-7l27-9l-21-23l-27 9l-26 9l-27 9zM4739 1680l27-16l-21-21l-27 14zM4893 1638l27-9l27-7l-21-21l-26 7l-27 9zM4786 1684l27-15l-21-19l-26 14zM4860 1676l27-11l-21-18l-26 10z"/>
<path fill="#ffec00" stroke="#ffec00" d="M3051 1886l27-10l26-11l-20-19l-27 13l-27 9zM3098 1894l27-13l27-15l-21-15l-27 14l-26 11zM3018 1920l26-8l27-8l-20-18l-27 8l-27 8zM3145 1897l27-17l-20-14l-27 15zM2984 1953l27-8l27-8l-20-17l-27 8l-27 7zM3166 1911l26-17l-20-14l-27 17zM2978 1976l27-7l27-8l-21-16l-27 8l-26 5zM2972 2001l26-7l-20-18l-27 6zM2912 2051l26-11l27-10l-20-20l-27 11l-27 10zM3254 1939l26-16l-20-17l-27 16zM3321 1954l27-16l-20-17l-27 18zM3342 1971l26-15l-20-18l-27 16zM3389 1972l27-15l-21-17l-27 16zM3436 1976l27-11l27-12l26-12l27-12l-20-20l-27 12l-27 12l-27 11l-26 13zM3590 1939l27-12l27-11l27-13l-21-23l-26 13l-27 11l-27 13zM3879 1852l27-14l-21-24l-27 12zM3825 1866l27-5l-20-26l-27 8zM3718 1910l27-13l27-14l-21-20l-27 13l-26 13zM3953 1845l27-19l-21-24l-27 18zM4235 1773l27-7l26-15l-20-27l-27 13l-27 6zM4101 1827l27-17l-21-25l-27 16zM4336 1761l26-19l-20-27l-27 19zM4175 1820l27-13l26-7l-20-26l-27 7l-27 14zM5401 1363l27-10l27-10l27-9l26-10l27-10l-20-19l-27 11l-27 10l-27 9l-26 10l-27 10zM5240 1425l27-10l-20-19l-27 8zM4410 1750l26-14l-20-29l-27 17zM5288 1433l26-13l27-12l27-10l27-9l27-9l26-11l27-10l-20-16l-27 10l-27 10l-27 8l-26 9l-27 11l-27 11l-27 13zM5207 1462l27-7l-20-22l-27 6zM4484 1747l26-17l-20-27l-27 17zM5174 1494l27-6l-21-20l-26 4zM4558 1739l26-14l27-11l27-12l-20-26l-27 11l-27 11l-27 15zM5141 1527l27-7l-21-22l-27 5zM5034 1570l26-11l-20-22l-27 10zM4712 1696l27-16l-21-23l-26 16zM4947 1622l27-8l26-8l-20-20l-27 8l-27 7zM4759 1700l27-16l-20-20l-27 16zM4887 1665l27-8l26-7l27-8l-20-20l-27 7l-27 9l-27 9zM4806 1704l27-15l27-13l-20-19l-27 12l-27 15zM4880 1694l27-11l-20-18l-27 11zM5992 1663l26-11l27-10l-20-11l-27 10l-27 11zM5985 1689l27-13l27-10l27-10l-21-14l-27 10l-26 11l-27 14zM6032 1692l27-10l27-10l-20-16l-27 10l-27 10zM5290 2042l26-17l27-5l-20-13l-27 5l-27 17zM5310 2055l27-17l27-5l-21-13l-27 5l-26 17z"/>
<path fill="#f5ee06" stroke="#f5ee06" d="M3071 1904l27-10l-20-18l-27 10zM3038 1937l27-7l27-8l26-11l27-14l-20-16l-27 13l-27 10l-27 8l-26 8zM3139 1925l27-14l-21-14l-27 14zM3032 1961l26-7l27-8l-20-16l-27 7l-27 8zM3186 1925l27-17l-21-14l-26 17zM2998 1994l27-7l27-8l-20-18l-27 8l-27 7zM3206 1940l27-18l-20-14l-27 17zM2965 2030l27-8l27-7l-21-21l-26 7l-27 9zM3227 1954l27-15l-21-17l-27 18zM3274 1956l27-17l-21-16l-26 16zM3294 1972l27-18l-20-15l-27 17zM3362 1988l27-16l-21-16l-26 15zM3409 1989l27-13l-20-19l-27 15zM3483 1984l27-13l27-10l27-10l26-12l-20-22l-27 12l-27 12l-26 12l-27 12zM3852 1861l27-9l-21-26l-26 9zM3664 1936l27-13l27-13l-20-21l-27 14l-27 13zM3738 1929l27-13l27-12l27-9l27-5l-21-24l-27 7l-26 10l-27 14l-27 13zM4000 1850l27-18l-21-24l-26 18zM4047 1856l27-14l27-15l-21-26l-26 15l-27 16zM4309 1776l27-15l-21-27l-27 17zM4228 1800l27-3l-20-24l-27 1zM4148 1835l27-15l-21-25l-26 15zM4383 1765l27-15l-21-26l-27 18zM5475 1359l27-9l27-10l27-11l-21-15l-27 10l-26 10l-27 9zM5234 1455l27-9l27-13l-21-18l-27 10l-26 8zM4457 1763l27-16l-21-27l-27 16zM5308 1453l27-13l27-12l26-11l27-10l27-10l27-11l27-10l26-10l27-10l27-10l-20-17l-27 11l-27 10l-27 9l-27 10l-26 11l-27 9l-27 9l-27 10l-27 12l-26 13zM5201 1488l27-7l-21-19l-27 6zM4531 1754l27-15l-21-26l-27 17zM5168 1520l26-6l27-7l-20-19l-27 6l-27 4zM4658 1726l27-14l27-16l-20-23l-27 15l-27 14zM5000 1606l27-7l27-9l27-11l27-11l26-10l27-9l27-8l-20-21l-27 7l-27 9l-27 11l-27 12l-26 11l-27 9l-27 7zM4732 1718l27-18l-20-20l-27 16zM4967 1642l27-8l27-7l-21-21l-26 8l-27 8zM4780 1721l26-17l-20-20l-27 16zM4907 1683l27-8l27-7l-21-18l-26 7l-27 8zM4854 1708l26-14l-20-18l-27 13zM5951 1641l27-10l26-10l-20-11l-27 10l-27 10zM5944 1668l27-16l27-11l27-10l-21-10l-26 10l-27 10l-27 19zM5965 1677l27-14l-21-11l-27 16zM5958 1705l27-16l-20-12l-27 17zM5979 1718l27-14l26-12l-20-16l-27 13l-27 16zM6026 1721l27-12l27-10l26-10l-20-17l-27 10l-27 10l-26 12zM6073 1725l27-11l27-10l-21-15l-26 10l-27 10zM5725 1854l27-11l26-9l-20-10l-27 10l-27 12zM5718 1880l27-12l27-12l27-9l27-5l-21-13l-27 5l-26 9l-27 11l-27 13zM5263 2060l27-18l-21-13l-27 17zM5739 1893l27-12l26-12l27-8l27-6l-20-13l-27 5l-27 9l-27 12l-27 12zM5283 2073l27-18l-20-13l-27 18z"/>
<path fill="#dae817" stroke="#dae817" d="M3085 1946l27-9l27-12l-21-14l-26 11l-27 8zM3052 1979l27-7l27-9l26-11l27-12l27-15l-20-14l-27 14l-27 12l-27 9l-27 8l-26 7zM3180 1956l26-16l-20-15l-27 15zM3019 2015l27-8l26-8l-20-20l-27 8l-27 7zM3200 1970l27-16l-21-14l-26 16zM2932 2072l27-10l27-11l26-8l-20-21l-27 8l-27 10l-26 11zM3247 1971l27-15l-20-17l-27 15zM3268 1988l26-16l-20-16l-27 15zM3315 1988l27-17l-21-17l-27 18zM3335 2003l27-15l-20-17l-27 17zM3382 2005l27-16l-20-17l-27 16zM3430 2009l26-13l27-12l-20-19l-27 11l-27 13zM3530 1991l27-9l27-11l27-12l27-11l26-12l-20-20l-27 11l-27 12l-26 12l-27 10l-27 10zM3926 1862l27-17l-21-25l-26 18zM3846 1890l26-5l-20-24l-27 5zM3712 1942l26-13l-20-19l-27 13zM3973 1868l27-18l-20-24l-27 19zM3786 1935l26-10l27-7l-20-23l-27 9l-27 12zM4255 1797l27-8l27-13l-21-25l-26 15l-27 7zM4121 1850l27-15l-20-25l-27 17zM4356 1780l27-15l-21-23l-26 19zM4195 1846l27-13l27-9l-21-24l-26 7l-27 13zM4430 1775l27-12l-21-27l-26 14zM5228 1481l26-6l27-10l27-12l-20-20l-27 13l-27 9l-27 7zM4504 1770l27-16l-21-24l-26 17zM5355 1459l27-12l27-12l27-10l26-10l27-10l27-11l27-10l27-10l26-11l-20-17l-27 10l-27 10l-26 10l-27 10l-27 11l-27 10l-27 10l-26 11l-27 12zM5221 1507l27-8l-20-18l-27 7zM4578 1760l27-12l27-10l26-12l-20-24l-27 12l-27 11l-26 14zM5188 1541l27-8l-21-19l-26 6zM5021 1627l27-9l26-10l27-9l27-10l27-11l27-10l-21-19l-27 9l-26 10l-27 11l-27 11l-27 9l-27 7zM4961 1668l27-8l26-7l-20-19l-27 8l-27 8zM4827 1725l27-17l-21-19l-27 15zM4874 1727l27-14l27-10l26-8l27-7l-20-20l-27 7l-27 8l-27 11l-26 14zM5869 1594l27-10l27-11l-21-11l-26 11l-27 10zM5890 1607l26-11l27-10l-20-13l-27 11l-27 10zM5910 1619l27-10l27-11l-21-12l-27 10l-26 11zM5930 1630l27-10l27-10l-20-12l-27 11l-27 10zM5924 1660l27-19l-21-11l-26 22zM5938 1694l27-17l-21-9l-26 18zM5952 1734l27-16l-21-13l-26 17zM5972 1748l27-14l27-13l-20-17l-27 14l-27 16zM5731 1834l27-10l-20-5l-27 10zM6020 1750l26-12l27-13l-20-16l-27 12l-27 13zM5778 1834l27-5l27-7l-20-11l-27 5l-27 8zM5671 1879l27-12l27-13l-21-8l-26 13l-27 13zM5296 2012l27-5l-21 4l-26 12zM6040 1764l27-13l27-13l26-11l27-10l-20-13l-27 10l-27 11l-27 13l-26 12zM5826 1842l26-6l-20-14l-27 7zM5558 1948l26-13l27-11l27-9l27-10l27-13l26-12l-20-13l-27 12l-27 12l-26 11l-27 9l-27 11l-27 13zM5343 2020l27 0l-20-13l-27 0zM4995 2164l27-11l26-10l27-11l27-13l27-11l27-9l26-9l-20-13l-27 9l-27 9l-26 11l-27 12l-27 11l-27 11l-27 10zM6060 1777l27-13l27-13l27-10l27-11l-21-13l-27 10l-26 11l-27 13l-27 13zM5846 1855l27-6l-21-13l-26 6zM5578 1961l27-12l27-12l26-9l27-10l27-12l27-13l-21-13l-26 12l-27 13l-27 10l-27 9l-27 11l-26 13zM5364 2033l26 0l-20-13l-27 0zM5015 2177l27-11l27-10l27-11l26-12l27-12l27-9l27-8l-21-14l-26 9l-27 9l-27 11l-27 13l-27 11l-26 10l-27 11z"/>
<path fill="#aee323" stroke="#aee323" d="M3072 1999l27-9l27-10l27-12l27-12l-21-16l-27 12l-26 11l-27 9l-27 7zM3146 1996l27-12l27-14l-20-14l-27 12l-27 12zM3012 2043l27-8l27-8l27-8l-21-20l-26 8l-27 8l-27 7zM3220 1986l27-15l-20-17l-27 16zM2952 2092l27-10l27-11l-20-20l-27 11l-27 10zM3241 2004l27-16l-21-17l-27 15zM3288 2004l27-16l-21-16l-26 16zM3308 2020l27-17l-20-15l-27 16zM3356 2020l26-15l-20-17l-27 15zM3403 2023l27-14l-21-20l-27 16zM3450 2029l27-13l27-13l26-12l-20-20l-27 13l-27 12l-26 13zM3872 1885l27-9l27-14l-20-24l-27 14l-27 9zM3631 1979l27-11l27-13l27-13l-21-19l-27 13l-26 12l-27 11zM3839 1918l27-6l-20-22l-27 5zM3732 1961l27-14l27-12l-21-19l-27 13l-26 13zM4020 1871l27-15l-20-24l-27 18zM4094 1865l27-15l-20-23l-27 15zM4329 1794l27-14l-20-19l-27 15zM4249 1824l27-8l-21-19l-27 3zM4168 1860l27-14l-20-26l-27 15zM4376 1799l27-13l27-11l-20-25l-27 15l-27 15zM5248 1499l27-8l27-10l26-11l27-11l-20-19l-27 13l-27 12l-27 10l-26 6zM4551 1775l27-15l-20-21l-27 15zM5349 1487l27-11l26-12l27-9l27-10l27-12l27-11l26-11l27-11l27-10l27-11l-21-16l-26 11l-27 10l-27 10l-27 11l-27 10l-26 10l-27 10l-27 12l-27 12l-27 11zM5215 1533l27-8l26-8l27-9l-20-17l-27 8l-27 8l-27 7zM4679 1749l27-14l26-17l-20-22l-27 16l-27 14zM5557 1429l27-11l26-11l27-10l-20-18l-27 11l-27 10l-27 11zM5182 1568l26-8l27-9l27-8l-20-18l-27 8l-27 8l-27 8zM4753 1739l27-18l-21-21l-27 18zM5014 1653l27-7l27-8l27-10l-21-20l-26 10l-27 9l-27 7zM4800 1744l27-19l-21-21l-26 17zM4981 1688l27-7l27-7l-21-21l-26 7l-27 8zM4847 1746l27-19l-20-19l-27 17zM4894 1750l27-16l27-11l27-8l-21-20l-26 8l-27 10l-27 14zM5808 1559l27-10l27-11l-21-9l-27 10l-26 10zM5828 1571l27-10l27-11l-20-12l-27 11l-27 10zM5822 1602l27-19l27-10l26-11l-20-12l-27 11l-27 10l-26 19zM5842 1615l27-21l-20-11l-27 19zM5863 1630l27-23l-21-13l-27 21zM5883 1643l27-24l-20-12l-27 23zM5904 1652l26-22l-20-11l-27 24zM5918 1686l26-18l-20-8l-27 19zM5911 1712l27-18l-20-8l-27 18zM5932 1722l26-17l-20-11l-27 18zM5925 1749l27-15l-20-12l-27 16zM5946 1763l26-15l-20-14l-27 15zM5758 1824l27-8l27-5l-21-7l-27 7l-26 8zM5678 1859l26-13l27-12l-20-5l-27 12l-27 13zM5966 1776l27-13l27-13l-21-16l-27 14l-26 15zM5832 1822l27-8l-21-10l-26 7zM5510 1946l27-11l27-13l27-11l27-9l26-11l27-12l-20-7l-27 13l-27 10l-27 11l-26 12l-27 11l-27 11zM5323 2007l27 0l-21-5l-27 9zM5269 2029l27-17l-20 11l-27 18zM6013 1777l27-13l-20-14l-27 13zM5852 1836l27-8l27-10l27-9l-21-14l-26 10l-27 9l-27 8zM5450 1994l27-12l27-12l27-11l27-11l-21-13l-27 11l-26 11l-27 12l-27 12zM5370 2020l27-1l-21-14l-26 2zM5182 2090l27-7l27-9l27-14l-21-14l-26 15l-27 9l-27 7zM4941 2189l27-14l27-11l-21-14l-26 11l-27 15zM6034 1790l26-13l-20-13l-27 13zM5873 1849l27-8l26-10l27-9l-20-13l-27 9l-27 10l-27 8zM5471 2007l27-12l26-11l27-11l27-12l-20-13l-27 11l-27 11l-27 12l-27 12zM5390 2033l27-1l-20-13l-27 1zM5203 2104l27-8l26-9l27-14l-20-13l-27 14l-27 9l-27 7zM4962 2202l26-14l27-11l-20-13l-27 11l-27 14z"/>
<path fill="#84dd2e" stroke="#84dd2e" d="M3093 2019l27-11l26-12l-20-16l-27 10l-27 9zM3167 2015l27-13l26-16l-20-16l-27 14l-27 12zM3006 2071l27-8l27-8l26-8l-20-20l-27 8l-27 8l-26 8zM3214 2019l27-15l-21-18l-26 16zM3261 2020l27-16l-20-16l-27 16zM3329 2036l27-16l-21-17l-27 17zM3376 2037l27-14l-21-18l-26 15zM3423 2042l27-13l-20-20l-27 14zM3497 2037l27-12l27-12l27-11l26-12l27-11l-20-20l-27 12l-27 11l-27 9l-26 12l-27 13zM3946 1885l27-17l-20-23l-27 17zM3866 1912l27-6l-21-21l-26 5zM3678 1990l27-16l27-13l-20-19l-27 13l-27 13zM3994 1888l26-17l-20-21l-27 18zM3752 1981l27-13l27-12l27-8l27-7l-21-23l-27 7l-26 10l-27 12l-27 14zM4041 1894l27-15l26-14l-20-23l-27 14l-27 15zM4276 1816l26-10l27-12l-20-18l-27 13l-27 8zM4142 1873l26-13l-20-25l-27 15zM4323 1824l27-11l26-14l-20-19l-27 14l-27 12zM4242 1855l27-11l27-10l-20-18l-27 8l-27 9zM4424 1807l26-10l27-13l27-14l-20-23l-27 16l-27 12l-27 11zM4524 1790l27-15l-20-21l-27 16zM5295 1508l27-10l27-11l-21-17l-26 11l-27 10zM4572 1793l26-14l27-10l27-9l27-11l-21-23l-26 12l-27 10l-27 12l-27 15zM5262 1543l27-9l27-9l26-10l27-10l27-11l27-11l27-10l26-11l27-11l27-11l27-11l-21-18l-26 11l-27 11l-27 12l-27 10l-27 9l-26 12l-27 11l-27 11l-27 10l-27 9l-26 8zM4726 1757l27-18l-21-21l-26 17zM5577 1447l27-12l27-10l27-11l-21-17l-27 10l-26 11l-27 11zM5095 1628l27-10l26-11l27-11l27-9l27-8l27-8l-21-20l-27 9l-26 8l-27 10l-27 11l-27 10l-27 9zM4773 1762l27-18l-20-23l-27 18zM5142 1636l27-12l27-10l26-9l-20-18l-27 9l-27 11l-26 11zM5035 1674l27-9l26-9l-20-18l-27 8l-27 7zM4975 1715l27-6l26-7l-20-21l-27 7l-27 7zM5767 1537l27-10l27-10l-21-12l-26 10l-27 10zM5761 1566l27-17l26-10l27-10l-20-12l-27 10l-27 10l-27 17zM5781 1577l27-18l-20-10l-27 17zM5802 1590l26-19l-20-12l-27 18zM5897 1679l27-19l-20-8l-27 20zM5891 1704l27-18l-21-7l-27 19zM5905 1738l27-16l-21-10l-27 18zM5898 1763l27-14l-20-11l-27 15zM5684 1841l27-12l27-10l26-8l-20-4l-27 8l-27 10l-26 13zM5892 1785l27-10l27-12l-21-14l-27 14l-26 13zM5812 1811l26-7l27-8l-20-9l-27 9l-27 8zM5544 1918l26-12l27-11l27-10l27-13l27-13l-21-5l-27 13l-26 11l-27 10l-27 11l-27 12zM5859 1814l27-9l26-10l27-8l27-11l-20-13l-27 12l-27 10l-27 11l-27 8zM5350 2007l26-2l27-12l27-12l27-12l27-12l26-11l-20-6l-27 12l-27 11l-26 11l-27 10l-27 11l-27 7zM5242 2046l27-17l-20 12l-27 18zM5082 2106l26-11l27-9l-20 13l-27 9l-27 12zM5933 1809l27-9l26-10l27-13l-20-14l-27 13l-27 11l-27 8zM5397 2019l27-13l26-12l-20-13l-27 12l-27 12zM4914 2207l27-18l-20-13l-27 18zM5953 1822l27-9l27-10l27-13l-21-13l-27 13l-26 10l-27 9zM5417 2032l27-12l27-13l-21-13l-26 12l-27 13zM4935 2220l27-18l-21-13l-27 18z"/>
<path fill="#5ed739" stroke="#5ed739" d="M3086 2047l27-9l27-11l27-12l-21-19l-26 12l-27 11l-27 8zM3187 2032l27-13l-20-17l-27 13zM2973 2111l27-10l26-10l27-8l27-9l-20-19l-27 8l-27 8l-27 11l-27 10zM3234 2034l27-14l-20-16l-27 15zM3282 2036l26-16l-20-16l-27 16zM3302 2053l27-17l-21-16l-26 16zM3349 2052l27-15l-20-17l-27 16zM3370 2069l26-14l27-13l-20-19l-27 14l-27 15zM3444 2061l26-12l27-12l-20-21l-27 13l-27 13zM3893 1906l27-8l26-13l-20-23l-27 14l-27 9zM3571 2034l27-10l27-10l27-11l26-13l-20-22l-27 11l-27 11l-26 12l-27 11zM3967 1905l27-17l-21-20l-27 17zM3860 1941l26-6l-20-23l-27 6zM3726 1996l26-15l-20-20l-27 13zM4088 1899l27-14l27-12l-21-23l-27 15l-26 14zM4296 1834l27-10l-21-18l-26 10zM4189 1880l27-13l26-12l-20-22l-27 13l-27 14zM4316 1853l27-11l27-12l27-12l27-11l-21-21l-27 13l-26 14l-27 11l-27 10zM4498 1804l26-14l-20-20l-27 14zM4545 1809l27-16l-21-18l-27 15zM4699 1772l27-15l-20-22l-27 14zM5256 1571l26-9l27-10l27-10l27-10l27-10l26-11l27-10l27-11l27-11l27-10l26-10l27-12l-20-18l-27 11l-27 11l-27 11l-26 11l-27 10l-27 11l-27 11l-27 10l-26 10l-27 9l-27 9l-27 8zM5571 1474l27-12l26-12l27-10l27-11l-20-15l-27 11l-27 10l-27 12l-27 12zM5222 1605l27-8l27-9l-20-17l-27 8l-27 8zM5088 1656l27-10l27-10l-20-18l-27 10l-27 10zM4820 1767l27-21l-20-21l-27 19zM5618 1478l27-13l27-10l26-10l-20-16l-27 11l-27 10l-26 12zM5162 1654l27-11l27-10l27-10l-21-18l-26 9l-27 10l-27 12zM5028 1702l27-8l27-9l27-10l-21-19l-26 9l-27 9l-27 7zM4868 1771l26-21l-20-23l-27 19zM5665 1480l27-11l27-10l-21-14l-26 10l-27 10zM4915 1774l27-17l26-11l27-8l27-8l-20-21l-27 6l-27 8l-27 11l-27 16zM5686 1491l26-10l27-11l-20-11l-27 10l-27 11zM5706 1504l27-10l27-11l-21-13l-27 11l-26 10zM5726 1516l27-10l27-10l-20-13l-27 11l-27 10zM5720 1542l27-17l27-10l26-10l-20-9l-27 10l-27 10l-26 16zM5740 1554l27-17l-20-12l-27 17zM5754 1593l27-16l-20-11l-27 15zM5775 1607l27-17l-21-13l-27 16zM5795 1621l27-19l-20-12l-27 17zM5816 1635l26-20l-20-13l-27 19zM5836 1651l27-21l-21-15l-26 20zM5856 1663l27-20l-20-13l-27 21zM5877 1672l27-20l-21-9l-27 20zM5884 1730l27-18l-20-8l-27 18zM5878 1753l27-15l-21-8l-26 16zM5764 1811l27-7l27-8l27-9l27-11l26-13l-20-10l-27 14l-27 11l-26 11l-27 10l-27 8zM5630 1867l27-13l27-13l-20-3l-27 13l-27 12zM5577 1888l27-10l-21-4l-27 10zM5865 1796l27-11l-20-9l-27 11zM5276 2023l26-12l27-9l27-7l27-11l27-10l26-11l27-11l27-12l27-11l27-11l-21-7l-27 12l-26 13l-27 11l-27 9l-27 9l-27 10l-26 10l-27 11l-27 13l-27 15zM5135 2086l27-9l27-7l27-9l26-15l-20 13l-27 14l-27 10l-26 8l-27 8zM4948 2161l26-11l27-10l27-11l27-11l27-12l-21 14l-27 12l-26 10l-27 11l-27 11l-27 12zM4888 2223l26-16l-20-13l-27 16zM4908 2236l27-16l-21-13l-26 16z"/>
<path fill="#4ed244" stroke="#4ed244" d="M3080 2074l27-8l27-11l26-11l27-12l-20-17l-27 12l-27 11l-27 9l-26 8zM3181 2061l27-13l26-14l-20-15l-27 13l-27 12zM2993 2133l27-10l27-11l27-9l26-10l-20-19l-27 9l-27 8l-26 10l-27 10zM3228 2066l27-14l27-16l-21-16l-27 14l-26 14zM3275 2069l27-16l-20-17l-27 16zM3322 2069l27-17l-20-16l-27 17zM3343 2086l27-17l-21-17l-27 17zM3390 2087l27-13l27-13l-21-19l-27 13l-26 14zM3491 2070l27-13l26-12l27-11l-20-21l-27 12l-27 12l-27 12zM3886 1935l27-6l27-10l27-14l-21-20l-26 13l-27 8l-27 6zM3699 2010l27-14l-21-22l-27 16zM4014 1910l27-16l-21-23l-26 17zM3773 2004l27-14l26-11l27-8l27-7l-20-23l-27 7l-27 8l-27 12l-27 13zM4061 1914l27-15l-20-20l-27 15zM4108 1916l27-12l27-12l27-12l-21-20l-26 13l-27 12l-27 14zM4209 1898l27-12l27-11l27-11l26-11l-20-19l-27 10l-27 11l-26 12l-27 13zM4364 1860l26-11l27-10l27-10l27-12l27-13l-21-20l-27 13l-26 10l-27 11l-27 12l-27 12zM4518 1823l27-14l-21-19l-26 14zM4565 1825l27-15l27-10l27-8l26-8l27-12l-20-23l-27 11l-27 9l-27 10l-26 14l-27 16zM4746 1780l27-18l-20-23l-27 18zM5276 1588l27-8l27-9l26-10l27-10l27-11l27-10l27-10l26-12l27-10l27-11l27-13l-21-15l-26 10l-27 10l-27 11l-27 11l-27 10l-26 11l-27 10l-27 10l-27 10l-27 10l-26 9zM4794 1786l26-19l-20-23l-27 18zM5564 1503l27-13l27-12l-20-16l-27 12l-27 13zM5243 1623l27-10l26-8l27-9l-20-16l-27 8l-27 9l-27 8zM5109 1675l27-10l26-11l-20-18l-27 10l-27 10zM5612 1506l26-12l27-14l-20-15l-27 13l-27 12zM5210 1663l26-12l27-11l27-9l-20-18l-27 10l-27 10l-27 10zM5022 1730l27-8l27-9l26-9l-20-19l-27 9l-27 8l-26 7zM5659 1506l27-15l-21-11l-27 14zM4962 1779l27-9l-21-24l-26 11zM5679 1519l27-15l-20-13l-27 15zM5673 1546l27-14l26-16l-20-12l-27 15l-27 15zM5693 1558l27-16l-20-10l-27 14zM5714 1570l26-16l-20-12l-27 16zM5734 1581l27-15l-21-12l-26 16zM5728 1610l26-17l-20-12l-27 16zM5748 1623l27-16l-21-14l-26 17zM5768 1637l27-16l-20-14l-27 16zM5870 1698l27-19l-20-7l-27 18zM5864 1722l27-18l-21-6l-26 17zM5858 1746l26-16l-20-8l-27 17zM5824 1778l27-11l27-14l-20-7l-27 14l-27 12zM5664 1838l26-13l27-10l27-8l27-8l-21-6l-26 8l-27 9l-27 12l-27 12zM5604 1878l26-11l-20-4l-27 11zM5470 1936l26-13l27-12l27-12l27-11l-21-4l-26 10l-27 12l-27 12l-27 12zM5282 2009l27-13l27-11l26-10l27-10l27-9l27-9l-21-7l-26 7l-27 9l-27 9l-27 10l-27 11l-26 13zM5249 2041l27-18l-21 1l-27 17zM4894 2194l27-18l27-15l-21 15l-27 12l-26 13z"/>
<path fill="#4ccc66" stroke="#4ccc66" d="M3100 2093l27-10l27-11l27-11l-21-17l-26 11l-27 11l-27 8zM3094 2121l27-11l27-10l26-11l27-11l27-12l-20-18l-27 13l-27 11l-27 11l-27 10l-26 10zM3248 2082l27-13l-20-17l-27 14zM3296 2085l26-16l-20-16l-27 16zM3363 2103l27-16l-20-18l-27 17zM3410 2106l27-12l27-13l27-11l-21-21l-26 12l-27 13l-27 13zM3538 2079l27-12l27-11l26-10l27-10l27-11l27-15l-21-20l-26 13l-27 11l-27 10l-27 10l-27 11l-26 12zM3987 1926l27-16l-20-22l-27 17zM3880 1964l27-6l-21-23l-26 6zM3719 2033l27-14l27-15l-21-23l-26 15l-27 14zM4034 1930l27-16l-20-20l-27 16zM4082 1929l26-13l-20-17l-27 15zM4102 1944l27-12l27-12l26-11l27-11l-20-18l-27 12l-27 12l-27 12l-26 13zM4149 1945l27-11l27-9l27-9l26-10l27-11l27-12l27-12l27-11l-21-18l-27 11l-26 11l-27 11l-27 11l-27 12l-27 11l-26 11l-27 12zM4464 1849l27-13l27-13l-20-19l-27 13l-27 12zM4538 1840l27-15l-20-16l-27 14zM4720 1796l26-16l-20-23l-27 15zM4586 1842l26-13l27-11l27-4l-20-22l-27 8l-27 10l-27 15zM5323 1596l27-9l27-9l27-9l26-10l27-10l27-10l27-12l27-12l26-12l-20-16l-27 11l-27 10l-26 12l-27 10l-27 10l-27 11l-27 10l-26 10l-27 9zM4841 1792l27-21l-21-25l-27 21zM5558 1531l27-13l27-12l-21-16l-27 13l-26 12zM5290 1631l27-8l27-9l26-10l27-10l-20-16l-27 9l-27 9l-27 9l-26 8zM5102 1704l27-9l27-10l27-11l27-11l-21-20l-27 11l-26 11l-27 10l-27 10zM4888 1794l27-20l-21-24l-26 21zM5605 1534l27-14l27-14l-21-12l-26 12l-27 12zM5257 1670l27-11l26-10l-20-18l-27 9l-27 11zM4989 1770l27-8l26-10l27-9l27-10l-20-20l-27 9l-27 8l-27 8l-27 8zM4935 1794l27-15l-20-22l-27 17zM5626 1548l26-14l27-15l-20-13l-27 14l-27 14zM5646 1560l27-14l-21-12l-26 14zM5666 1573l27-15l-20-12l-27 14zM5687 1585l27-15l-21-12l-27 15zM5707 1597l27-16l-20-11l-27 15zM5701 1627l27-17l-21-13l-27 15zM5789 1654l27-19l-21-14l-27 16zM5809 1668l27-17l-20-16l-27 19zM5830 1680l26-17l-20-12l-27 17zM5850 1690l27-18l-21-9l-26 17zM5844 1715l26-17l-20-8l-27 16zM5837 1739l27-17l-20-7l-27 15zM5831 1760l27-14l-21-7l-27 13zM5295 1966l27-9l-21-10l-27 11zM5771 1799l27-10l26-11l-20-6l-27 12l-27 9zM5503 1906l27-12l26-10l27-10l27-11l27-12l27-13l-21-4l-27 13l-26 11l-27 10l-27 11l-27 11l-27 12zM5235 2014l27-15l26-13l27-11l27-10l27-9l27-9l26-7l-20-9l-27 8l-27 9l-26 9l-27 9l-27 11l-27 12l-27 14zM5443 1947l27-11l-21-6l-27 10zM5255 2024l27-15l-20-10l-27 15zM4867 2210l27-16l-20 7l-27 12zM4861 2240l27-17l-21-13l-27 17zM4881 2254l27-18l-20-13l-27 17z"/>
<path fill="#51c890" stroke="#51c890" d="M3014 2153l26-10l27-10l27-12l-20-18l-27 9l-27 11l-27 10zM3114 2140l27-11l27-12l27-12l27-10l26-13l-20-16l-27 12l-27 11l-26 11l-27 10l-27 11zM3242 2112l27-13l27-14l-21-16l-27 13l-26 13zM3316 2103l27-17l-21-17l-26 16zM3336 2119l27-16l-20-17l-27 17zM3384 2119l26-13l-20-19l-27 16zM3458 2114l26-11l27-11l27-13l-20-22l-27 13l-27 11l-27 13zM3907 1958l27-7l26-11l27-14l-20-21l-27 14l-27 10l-27 6zM3692 2046l27-13l-20-23l-27 15zM4008 1945l26-15l-20-20l-27 16zM3793 2028l27-13l27-8l27-9l26-9l-20-25l-27 7l-27 8l-26 11l-27 14zM4055 1945l27-16l-21-15l-27 16zM4075 1958l27-14l-20-15l-27 16zM4096 1971l26-13l27-13l-20-13l-27 12l-27 14zM4116 1983l27-12l27-12l26-9l27-9l27-10l27-10l27-11l26-10l27-10l27-10l27-10l27-10l26-11l-20-20l-27 10l-27 10l-26 11l-27 11l-27 12l-27 12l-27 11l-26 10l-27 9l-27 9l-27 11l-27 13l-26 13zM4485 1867l27-13l26-14l-20-17l-27 13l-27 13zM4136 2000l27-13l27-10l27-10l27-10l26-11l27-10l27-10l27-10l27-9l-21-17l-27 10l-26 10l-27 11l-27 10l-27 10l-27 9l-26 9l-27 12l-27 12zM4666 1814l27-7l27-11l-21-24l-27 12l-26 8zM4559 1857l27-15l-21-17l-27 15zM4767 1801l27-15l-21-24l-27 18zM4606 1860l27-11l27-10l26-6l-20-19l-27 4l-27 11l-26 13zM4814 1808l27-16l-21-25l-26 19zM5397 1594l27-9l27-9l27-9l26-11l27-12l27-13l-20-16l-27 12l-27 12l-27 10l-27 10l-26 10l-27 9zM5552 1561l26-13l27-14l-20-16l-27 13l-27 13zM5310 1649l27-9l27-10l27-10l27-9l26-10l27-9l-20-16l-27 9l-27 9l-27 10l-26 10l-27 9l-27 8zM5096 1733l27-11l27-9l26-10l27-11l27-10l27-12l-21-19l-26 12l-27 11l-27 11l-27 10l-27 9l-26 9zM4908 1811l27-17l-20-20l-27 20zM5599 1562l27-14l-21-14l-27 14zM5277 1689l27-12l27-11l27-11l26-10l27-8l-20-17l-27 10l-27 10l-27 9l-26 10l-27 11zM4956 1811l26-12l27-9l27-9l27-10l-21-19l-26 10l-27 8l-27 9l-27 15zM5619 1574l27-14l-20-12l-27 14zM5640 1587l26-14l-20-13l-27 14zM5660 1600l27-15l-21-12l-26 14zM5654 1627l26-15l27-15l-20-12l-27 15l-27 15zM5721 1640l27-17l-20-13l-27 17zM5742 1653l26-16l-20-14l-27 17zM5762 1669l27-15l-21-17l-26 16zM5782 1683l27-15l-20-14l-27 15zM5803 1696l27-16l-21-12l-27 15zM5823 1706l27-16l-20-10l-27 16zM5817 1730l27-15l-21-9l-27 15zM5810 1752l27-13l-20-9l-27 14zM5274 1958l27-11l27-8l-20-10l-27 10l-27 11zM5616 1847l27-13l27-12l27-12l27-9l26-8l27-9l27-12l27-12l-21-8l-26 14l-27 12l-27 9l-27 9l-27 11l-26 10l-27 11l-27 13zM5322 1957l26-9l27-9l-20-7l-27 7l-27 8zM5214 2003l27-14l27-12l27-11l-21-8l-26 12l-27 11l-27 13zM5422 1940l27-10l27-12l27-12l-21-4l-26 12l-27 10l-27 7zM5208 2030l27-16l-21-11l-26 15zM5228 2041l27-17l-20-10l-27 16zM5222 2059l27-18l-21 0l-26 16zM5034 2132l27-12l27-12l27-9l-21 0l-26 9l-27 12l-27 11zM4840 2227l27-17l-20 3l-27 13zM4834 2260l27-20l-21-13l-26 20zM4854 2273l27-19l-20-14l-27 20z"/>
<path fill="#57c8b2" stroke="#57c8b2" d="M3034 2171l27-10l27-10l26-11l-20-19l-27 12l-27 10l-26 10zM3135 2159l27-12l26-13l27-11l27-11l-20-17l-27 10l-27 12l-27 12l-27 11zM3236 2140l26-10l27-13l27-14l-20-18l-27 14l-27 13l-27 11zM3310 2133l26-14l-20-16l-27 14zM3357 2134l27-15l-21-16l-27 16zM3404 2137l27-11l27-12l-21-20l-27 12l-26 13zM3558 2104l27-12l27-12l27-12l27-11l26-11l-20-21l-27 11l-27 10l-26 10l-27 11l-27 12zM3900 1989l27-8l27-10l27-12l27-14l-21-19l-27 14l-26 11l-27 7l-27 6zM3766 2043l27-15l-20-24l-27 15zM4028 1962l27-17l-21-15l-26 15zM4048 1975l27-17l-20-13l-27 17zM4069 1985l27-14l-21-13l-27 17zM4062 2011l27-15l27-13l-20-12l-27 14l-27 16zM4378 1907l26-9l27-9l27-10l27-12l-21-18l-26 11l-27 10l-27 10l-27 10zM4083 2026l27-14l26-12l-20-17l-27 13l-27 15zM4505 1885l27-14l27-14l-21-17l-26 14l-27 13zM4157 2019l27-12l26-11l27-12l27-11l27-10l27-10l26-11l27-9l27-9l27-9l-21-17l-26 9l-27 9l-27 10l-27 10l-27 10l-26 11l-27 10l-27 10l-27 10l-27 13zM4686 1833l27-6l27-11l27-15l-21-21l-26 16l-27 11l-27 7zM4552 1887l27-13l27-14l-20-18l-27 15l-27 14zM4311 1979l27-11l27-11l-21-15l-26 11l-27 10zM4787 1820l27-12l-20-22l-27 15zM4600 1890l26-12l27-11l27-8l-20-20l-27 10l-27 11l-27 14zM4861 1813l27-19l-20-23l-27 21zM5471 1592l27-9l27-10l27-12l-21-17l-27 12l-26 11l-27 9zM5411 1637l27-11l27-9l27-9l26-10l27-11l27-12l27-13l-21-14l-26 13l-27 12l-27 10l-27 9l-27 9l-26 10l-27 9zM5063 1771l27-9l26-11l27-11l27-10l27-9l27-10l26-10l27-12l-20-19l-27 12l-27 10l-27 11l-26 10l-27 9l-27 11l-27 10l-27 9zM4929 1826l27-15l-21-17l-27 17zM5539 1612l27-11l26-13l27-14l-20-12l-27 13l-27 12l-27 11zM5271 1716l27-13l26-11l27-11l27-9l27-9l27-10l26-12l27-10l27-9l-20-14l-27 9l-27 9l-27 11l-27 8l-26 10l-27 11l-27 11l-27 12l-27 12zM4949 1840l27-14l27-11l27-9l26-9l27-9l27-11l27-11l27-9l26-9l-20-18l-27 10l-27 11l-26 11l-27 9l-27 10l-27 9l-27 9l-26 12l-27 15zM5586 1615l27-13l27-15l-21-13l-27 14l-26 13zM5452 1667l27-11l27-9l-21-16l-27 10l-26 12zM5318 1717l27-12l27-10l26-9l27-9l-20-14l-27 9l-27 9l-27 11l-26 11zM4996 1839l27-10l27-9l-20-14l-27 9l-27 11zM5606 1629l27-14l27-15l-20-13l-27 15l-27 13zM5338 1730l27-12l27-11l27-9l27-9l-21-12l-27 9l-26 9l-27 10l-27 12zM5017 1856l27-12l26-10l-20-14l-27 9l-27 10zM5627 1642l27-15l-21-12l-27 14zM5359 1742l27-12l26-10l27-9l27-9l27-10l-21-13l-26 10l-27 9l-27 9l-27 11l-27 12zM4742 1981l27-11l27-10l-20-13l-27 9l-27 12zM5647 1655l27-13l27-15l-21-15l-26 15l-27 15zM5352 1769l27-13l27-13l27-11l27-9l26-10l27-9l27-10l27-9l-21-13l-26 10l-27 10l-27 10l-27 9l-27 9l-26 10l-27 12l-27 13zM5668 1668l26-13l27-15l-20-13l-27 15l-27 13zM5400 1771l26-13l27-12l27-10l27-10l27-9l26-9l27-9l-20-14l-27 9l-27 10l-27 9l-26 10l-27 9l-27 11l-27 13zM5688 1683l27-14l27-16l-21-13l-27 15l-26 13zM5420 1784l27-12l27-10l26-10l27-10l27-10l27-9l-21-15l-26 9l-27 9l-27 10l-27 10l-27 12l-26 13zM5735 1684l27-15l-20-16l-27 16zM5467 1788l27-12l27-10l27-9l-21-15l-27 10l-26 10l-27 10zM5756 1697l26-14l-20-14l-27 15zM5776 1710l27-14l-21-13l-26 14zM5796 1721l27-15l-20-10l-27 14zM5790 1744l27-14l-21-9l-26 15zM5200 1972l27-11l27-11l27-11l27-10l-21-7l-27 10l-26 9l-27 9l-27 11zM5596 1841l27-13l27-11l26-10l27-11l27-9l27-9l27-12l26-14l-20-8l-27 14l-27 13l-26 10l-27 9l-27 9l-27 9l-27 11l-26 13zM5328 1939l27-7l-21-9l-26 6zM5194 1994l27-13l27-11l26-12l-20-8l-27 11l-27 11l-26 13zM5375 1939l27-8l27-7l27-10l26-12l27-12l27-11l27-11l27-10l26-11l-20-6l-27 11l-27 10l-26 11l-27 11l-27 13l-27 12l-27 9l-26 7l-27 7zM5188 2018l26-15l-20-9l-27 13zM5181 2045l27-15l-20-12l-27 15zM5202 2057l26-16l-20-11l-27 15zM5115 2099l27-8l26-8l27-10l27-14l-20-2l-27 14l-27 11l-27 9l-27 8zM4900 2188l27-12l27-12l27-11l27-11l26-10l-20-1l-27 11l-27 11l-26 12l-27 11l-27 12zM4814 2247l26-20l-20-1l-27 13z"/>
<path fill="#62c8ec" stroke="#62c8ec" d="M3054 2190l27-10l27-11l27-10l-21-19l-26 11l-27 10l-27 10zM3128 2186l27-11l27-14l27-11l27-10l-21-17l-27 11l-26 13l-27 12l-27 10zM3202 2178l27-11l27-11l27-12l27-11l-21-16l-27 13l-26 10l-27 10l-27 11zM3276 2171l27-11l27-12l27-14l-21-15l-26 14l-27 11l-27 12zM3350 2165l27-14l27-14l-20-18l-27 15l-27 14zM3398 2167l26-10l27-9l27-10l27-10l27-11l26-13l-20-25l-27 13l-27 11l-26 11l-27 12l-27 11l-27 14zM3713 2071l27-13l26-15l-20-24l-27 14l-27 13zM4001 1978l27-16l-20-17l-27 14zM3814 2054l26-12l27-5l-20-30l-27 8l-27 13zM4022 1992l26-17l-20-13l-27 16zM4042 2001l27-16l-21-10l-26 17zM4425 1915l27-9l26-10l27-11l-20-18l-27 12l-27 10l-27 9zM4130 2033l27-14l-21-19l-26 12zM4365 1957l27-8l26-8l27-9l27-9l27-10l27-13l26-13l-20-16l-27 14l-27 11l-26 10l-27 9l-27 9l-27 9l-27 9zM4204 2028l27-12l27-13l26-12l27-12l-20-16l-27 10l-27 11l-27 12l-26 11zM4680 1859l27-7l27-8l26-12l27-12l-20-19l-27 15l-27 11l-27 6l-26 6zM4546 1915l27-12l27-13l-21-16l-27 13l-26 13zM4305 2008l27-13l26-12l27-8l27-9l27-10l-21-15l-26 8l-27 8l-27 11l-27 11l-27 12zM4834 1827l27-14l-20-21l-27 16zM4593 1919l27-12l27-13l27-10l26-10l27-8l-20-14l-27 7l-27 8l-27 11l-26 12l-27 13zM4352 2010l27-10l-21-17l-26 12zM4882 1827l26-16l-20-17l-27 19zM4667 1910l27-11l27-11l27-9l-21-13l-27 8l-26 10l-27 10zM4902 1841l27-15l-21-15l-26 16zM4714 1912l27-10l-20-14l-27 11zM5512 1622l27-10l-21-14l-26 10zM5190 1748l27-10l27-10l27-12l-21-15l-26 10l-27 10l-27 9zM4922 1855l27-15l-20-14l-27 15zM4681 1946l27-13l27-11l27-8l-21-12l-27 10l-26 11l-27 11zM4520 2007l27-12l27-9l-20-12l-27 11l-27 12zM5506 1647l26-11l27-10l27-11l-20-14l-27 11l-27 10l-27 9zM5425 1677l27-10l-20-14l-27 10zM5050 1820l27-7l27-9l26-12l27-12l27-8l27-9l27-10l26-11l27-12l27-13l-20-14l-27 13l-27 12l-27 10l-27 10l-26 9l-27 9l-27 11l-27 11l-27 9l-26 9zM4943 1868l27-15l26-14l-20-13l-27 14l-27 15zM4675 1970l27-13l26-13l27-10l27-8l27-7l-21-12l-26 7l-27 8l-27 11l-27 13l-27 12zM4460 2051l27-11l27-10l27-12l27-10l26-8l-20-14l-27 9l-27 12l-26 12l-27 11l-27 10zM5446 1689l26-10l27-9l27-10l27-10l27-10l26-11l-20-14l-27 11l-27 10l-26 11l-27 9l-27 11l-27 10zM5070 1834l27-8l27-10l27-11l27-10l26-11l27-8l27-9l27-11l27-13l26-13l-20-13l-27 13l-27 12l-26 11l-27 10l-27 9l-27 8l-27 12l-26 12l-27 9l-27 7zM4990 1870l27-14l-21-17l-26 14zM4481 2065l27-12l26-11l27-10l27-10l27-10l27-9l26-10l27-12l27-13l27-12l27-9l26-8l27-7l-20-13l-27 7l-27 8l-27 10l-26 13l-27 13l-27 11l-27 10l-27 9l-26 8l-27 10l-27 12l-27 10l-27 11zM5493 1692l27-10l26-10l27-9l27-9l27-12l-21-13l-26 11l-27 10l-27 10l-27 10l-27 9zM5037 1874l27-13l27-11l27-9l26-10l27-10l27-11l27-11l27-10l26-8l27-12l27-14l27-13l-21-12l-26 13l-27 13l-27 11l-27 9l-27 8l-26 11l-27 10l-27 11l-27 10l-27 8l-26 10l-27 12zM4796 1960l27-8l27-7l-21-13l-27 7l-26 8zM4501 2078l27-11l27-11l27-11l26-10l27-10l27-9l27-9l27-13l26-13l-20-13l-27 13l-27 12l-26 10l-27 9l-27 10l-27 10l-27 10l-26 11l-27 12zM5567 1685l27-8l26-10l27-12l-20-13l-27 12l-27 9l-27 9zM5299 1794l27-13l26-12l-20-14l-27 14l-27 12zM5218 1826l27-12l27-9l-20-16l-27 10l-27 11zM5084 1877l27-11l-20-16l-27 11zM4522 2091l26-11l27-10l27-11l27-9l27-10l26-10l27-11l27-12l27-11l27-10l26-10l27-9l27-7l-20-15l-27 7l-27 8l-27 10l-27 11l-26 13l-27 13l-27 9l-27 9l-27 10l-26 10l-27 11l-27 11l-27 11zM5587 1699l27-9l27-10l27-12l-21-13l-27 12l-26 10l-27 8zM5319 1807l27-12l27-11l27-13l-21-15l-27 13l-26 12l-27 13zM4569 2096l27-11l26-10l27-11l27-11l27-11l27-11l26-11l27-10l27-9l27-10l27-8l-21-16l-27 9l-26 10l-27 10l-27 11l-27 12l-27 11l-26 10l-27 10l-27 9l-27 11l-27 10zM5581 1723l27-10l26-9l27-10l27-11l-20-15l-27 12l-27 10l-27 9l-27 9zM5340 1820l26-11l27-12l27-13l-20-13l-27 13l-27 11l-27 12zM4670 2078l26-12l27-10l27-10l27-11l27-10l26-11l27-9l-20-14l-27 10l-27 9l-27 10l-26 11l-27 11l-27 11l-27 11zM5548 1757l26-9l27-9l27-9l27-10l27-10l26-12l27-14l-20-15l-27 14l-27 11l-27 10l-26 9l-27 10l-27 9l-27 10zM5387 1824l27-12l26-13l27-11l-20-16l-27 12l-27 13l-27 12zM4770 2059l27-11l27-10l27-10l27-10l-21-13l-27 9l-26 11l-27 10l-27 11zM5702 1724l27-14l27-13l-21-13l-27 14l-26 12zM5434 1827l27-12l27-12l26-13l27-10l27-8l27-9l27-8l-21-16l-27 9l-26 9l-27 9l-27 10l-27 12l-27 11l-26 13zM4791 2073l27-11l26-11l27-11l27-10l-20-12l-27 10l-27 10l-27 10l-27 11zM5722 1738l27-14l27-14l-20-13l-27 13l-27 14zM5481 1829l27-13l27-11l27-9l26-9l27-9l-20-15l-27 9l-27 8l-27 10l-26 13l-27 12zM4865 2065l27-12l26-11l27-9l-20-12l-27 9l-27 10l-27 11zM5743 1750l27-14l26-15l-20-11l-27 14l-27 14zM5502 1842l26-12l27-11l27-10l27-11l27-9l-21-11l-27 9l-26 9l-27 9l-27 11l-27 13zM5153 1974l27-13l27-11l27-9l26-9l27-10l-20-9l-27 9l-27 8l-27 11l-26 12l-27 12zM4885 2078l27-11l27-9l27-10l-21-15l-27 9l-26 11l-27 12zM5522 1854l27-11l27-11l26-13l27-11l27-9l27-9l27-9l26-10l27-13l27-14l-20-8l-27 14l-27 12l-27 10l-27 9l-26 8l-27 9l-27 11l-27 10l-27 11l-26 12zM5308 1929l26-6l27-7l-20-9l-27 7l-27 8zM5147 1997l27-12l26-13l-20-11l-27 13l-27 13zM5462 1897l27-13l27-11l26-11l27-10l27-11l-20-9l-27 11l-27 11l-27 12l-27 12l-26 12zM5355 1932l27-7l26-7l-20-8l-27 6l-27 7zM5140 2020l27-13l27-13l-20-9l-27 12l-27 13zM5134 2046l27-13l27-15l-21-11l-27 13l-26 13zM5154 2059l27-14l-20-12l-27 13zM4913 2151l27-11l27-10l27-10l-21-12l-27 10l-26 10l-27 11zM4934 2165l26-12l27-11l27-11l27-11l27-12l26-9l27-8l27-9l27-11l27-14l-21-12l-27 14l-26 11l-27 9l-27 10l-27 11l-27 11l-26 9l-27 10l-27 10l-27 11zM4820 2226l27-13l27-12l26-13l-20 0l-27 11l-27 10l-26 10zM4787 2263l27-16l-21-8l-27 13zM4780 2288l27-12l27-16l-20-13l-27 16l-27 12zM4801 2301l27-12l26-16l-20-13l-27 16l-27 12z"/>
<path fill="#62c5f8" stroke="#62c5f8" d="M3075 2207l27-10l26-11l-20-17l-27 11l-27 10zM3095 2223l27-11l27-10l27-12l26-12l-20-17l-27 14l-27 11l-26 11l-27 10zM3196 2207l27-12l27-12l26-12l-20-15l-27 11l-27 11l-26 12zM3243 2210l27-12l27-12l27-10l26-11l-20-17l-27 12l-27 11l-26 12l-27 12zM3317 2202l27-11l27-12l27-12l-21-16l-27 14l-26 11l-27 10zM3606 2118l26-13l27-13l27-11l27-10l-21-25l-26 11l-27 11l-27 12l-27 12zM3391 2196l27-10l-20-19l-27 12zM3867 2037l27-10l27-11l27-12l26-13l27-13l-20-19l-27 12l-27 10l-27 8l-26 9l-27 9zM3787 2068l27-14l-21-26l-27 15zM3995 2007l27-15l-21-14l-27 13zM4015 2018l27-17l-20-9l-27 15zM4036 2031l26-20l-20-10l-27 17zM4056 2047l27-21l-21-15l-26 20zM4103 2049l27-16l-20-21l-27 14zM4150 2056l27-15l27-13l-20-21l-27 12l-27 14zM4439 1956l27-9l26-10l27-10l27-12l-20-15l-27 13l-27 10l-27 9l-27 9zM4251 2035l27-14l27-13l-21-17l-26 12l-27 13zM4727 1866l27-9l27-10l27-10l26-10l-20-19l-27 12l-27 12l-26 12l-27 8zM4379 2000l27-8l26-10l27-11l27-11l27-10l27-10l26-10l27-11l-20-16l-27 12l-27 12l-27 10l-26 10l-27 9l-27 10l-27 9l-27 8zM4298 2037l27-14l27-13l-20-15l-27 13l-27 13zM4748 1879l26-9l27-9l27-9l27-11l27-14l-21-14l-27 14l-26 10l-27 10l-27 10l-27 9zM4346 2036l26-12l27-10l27-10l27-10l27-10l26-10l27-11l27-10l27-9l27-11l26-11l27-12l-20-16l-27 13l-27 12l-27 11l-26 10l-27 10l-27 10l-27 11l-27 11l-26 10l-27 8l-27 10l-27 13zM4741 1902l27-8l27-9l27-10l26-11l27-11l27-12l-20-14l-27 14l-27 11l-27 9l-27 9l-26 9l-27 9zM4366 2049l27-12l27-10l26-10l27-10l27-10l27-12l27-11l26-8l27-10l27-11l27-11l27-11l26-11l-20-13l-27 11l-27 12l-26 11l-27 11l-27 9l-27 10l-27 11l-26 10l-27 10l-27 10l-27 10l-27 10l-26 12zM4762 1914l26-7l27-9l27-10l27-10l27-11l26-12l-20-14l-27 12l-27 11l-26 11l-27 10l-27 9l-27 8zM4574 1986l27-8l27-9l26-11l27-12l-20-12l-27 11l-27 11l-27 10l-26 8zM4386 2062l27-12l27-10l27-10l27-11l26-12l-20-10l-27 10l-27 10l-26 10l-27 10l-27 12zM4809 1919l27-8l26-9l27-10l27-11l27-13l-21-13l-26 12l-27 11l-27 10l-27 10l-27 9zM4594 2000l27-9l27-10l27-11l-21-12l-26 11l-27 9l-27 8zM4407 2076l27-13l26-12l-20-11l-27 10l-27 12zM4829 1932l27-7l27-9l27-11l26-10l27-12l27-13l-20-17l-27 15l-27 13l-27 11l-27 10l-26 9l-27 8zM4427 2091l27-13l27-13l-21-14l-26 12l-27 13zM4984 1900l26-12l27-14l-20-18l-27 14l-27 13zM4850 1945l26-7l27-10l27-9l27-9l-21-15l-26 10l-27 11l-27 9l-27 7zM4448 2105l26-14l27-13l-20-13l-27 13l-27 13zM5272 1805l27-11l-21-13l-26 8zM5111 1866l27-9l27-9l27-10l26-12l-20-16l-27 11l-27 10l-26 10l-27 9zM5031 1903l27-13l26-13l-20-16l-27 13l-27 14zM4870 1960l27-9l27-10l26-7l-20-15l-27 9l-27 10l-26 7zM4468 2118l27-15l27-12l-21-13l-27 13l-26 14zM5078 1905l27-13l27-11l26-10l27-8l27-9l27-12l27-12l26-11l27-12l-20-13l-27 11l-27 9l-27 12l-26 12l-27 10l-27 9l-27 9l-27 11l-26 13zM4864 1983l26-8l27-10l27-9l-20-15l-27 10l-27 9l-27 7zM4488 2131l27-14l27-11l27-10l-21-16l-26 11l-27 12l-27 15zM5259 1857l27-12l27-12l27-13l-21-13l-27 12l-26 11l-27 12zM5098 1918l27-13l27-10l27-10l27-8l-21-14l-27 8l-26 10l-27 11l-27 13zM4857 2005l27-8l27-9l27-9l-21-14l-27 10l-26 8l-27 8zM4509 2144l27-12l26-10l27-11l27-10l27-11l27-12l-21-14l-27 11l-26 10l-27 11l-27 10l-27 11l-27 14zM5306 1859l27-12l27-11l27-12l-21-15l-26 11l-27 13l-27 12zM5119 1928l27-11l26-9l27-8l-20-15l-27 10l-27 10l-27 13zM4878 2018l26-9l27-8l27-7l-20-15l-27 9l-27 9l-27 8zM4556 2148l27-12l27-11l26-9l27-11l27-13l27-11l27-10l26-12l-20-13l-27 10l-27 10l-26 12l-27 12l-27 11l-27 10l-27 11l-26 10zM5622 1755l26-8l27-11l27-12l-20-14l-27 10l-27 10l-27 9zM5354 1862l26-11l27-12l27-12l-20-15l-27 12l-27 12l-27 11zM5112 1953l27-12l27-11l27-11l27-8l26-9l-20-11l-27 9l-27 8l-26 9l-27 11l-27 14zM4898 2030l27-9l27-7l26-7l-20-13l-27 7l-27 8l-26 9zM4684 2119l26-11l27-11l27-12l27-12l-21-14l-26 12l-27 10l-27 11l-27 13zM5615 1778l27-9l27-8l27-11l26-12l-20-14l-27 12l-27 11l-26 8l-27 8zM5401 1866l27-12l26-13l27-12l-20-14l-27 12l-27 12l-27 12zM5106 1977l27-12l27-12l26-12l27-11l27-8l27-9l27-8l-21-12l-27 9l-26 9l-27 8l-27 11l-27 11l-27 12l-26 14zM4945 2033l27-7l27-7l-21-12l-26 7l-27 7zM4704 2133l27-11l27-10l26-12l27-10l27-12l27-13l-21-14l-26 11l-27 11l-27 12l-27 12l-27 11l-26 11zM5636 1789l26-8l27-9l27-10l27-12l-21-12l-26 12l-27 11l-27 8l-27 9zM5448 1868l27-13l27-13l-21-13l-27 12l-26 13zM5287 1922l27-8l27-7l-21-11l-26 9l-27 8zM5100 2001l26-14l27-13l-20-9l-27 12l-27 14zM4966 2048l26-8l27-9l-20-12l-27 7l-27 7zM4805 2115l27-12l26-12l27-13l-20-13l-27 13l-27 12l-27 10zM5442 1890l26-12l27-12l27-12l-20-12l-27 13l-27 13l-27 12zM5361 1916l27-6l-20-11l-27 8zM4825 2128l27-12l27-13l27-11l26-10l27-10l27-10l27-9l27-9l26-10l27-11l27-13l27-13l-21-10l-26 14l-27 12l-27 10l-27 8l-27 9l-26 8l-27 10l-27 9l-27 11l-27 13l-26 12l-27 12zM5408 1918l27-9l27-12l-20-7l-27 11l-27 9zM4846 2141l26-13l27-12l27-10l27-10l27-11l26-9l27-9l27-11l27-11l27-12l26-13l-20-10l-27 13l-27 11l-26 10l-27 9l-27 9l-27 10l-27 10l-26 10l-27 11l-27 13l-27 12zM4839 2165l27-13l27-13l27-11l26-10l27-10l27-9l27-9l27-11l26-11l27-10l27-12l-20-13l-27 12l-27 11l-27 11l-27 9l-26 9l-27 11l-27 10l-27 10l-27 12l-26 13l-27 11zM4994 2120l26-9l27-11l27-11l27-10l27-9l26-11l-20-13l-27 12l-27 10l-26 11l-27 11l-27 9l-27 9zM4860 2178l26-14l27-13l-20-12l-27 13l-27 13zM4746 2241l27-11l27-11l26-10l27-10l27-11l27-12l27-11l-21-14l-27 13l-26 14l-27 11l-27 10l-27 10l-27 10l-26 12zM4740 2264l26-12l27-13l27-13l-20-7l-27 11l-27 11l-27 13zM4653 2317l27-11l26-10l27-10l27-11l27-12l-21-11l-26 12l-27 12l-27 10l-27 12l-27 12zM4620 2355l26-12l27-12l27-12l27-10l27-9l26-12l-20-13l-27 11l-27 10l-26 10l-27 11l-27 13l-27 12zM4640 2368l27-12l27-12l26-12l27-9l27-10l27-12l-21-13l-26 12l-27 9l-27 10l-27 12l-27 12l-26 12z"/>
<path fill="#5bbef7" stroke="#5bbef7" d="M3116 2239l26-10l27-10l27-12l-20-17l-27 12l-27 10l-27 11zM3136 2256l27-10l27-10l26-13l27-13l-20-15l-27 12l-27 12l-27 10l-26 10zM3237 2240l27-13l26-13l27-12l-20-16l-27 12l-27 12l-27 13zM3552 2143l27-13l27-12l-21-26l-27 12l-26 13zM3418 2186l27-8l27-8l26-6l27-9l-20-27l-27 10l-27 10l-27 9l-26 10zM3311 2231l27-13l26-11l27-11l-20-17l-27 12l-27 11l-27 12zM3760 2083l27-15l-21-25l-26 15zM3358 2235l27-11l27-9l26-10l-20-19l-27 10l-27 11l-26 11zM3968 2021l27-14l-21-16l-26 13zM3988 2035l27-17l-20-11l-27 14zM4009 2051l27-20l-21-13l-27 17zM4076 2068l27-19l-20-23l-27 21zM4124 2073l26-17l-20-23l-27 16zM4198 2061l26-13l27-13l-20-19l-27 12l-27 13zM4272 2051l26-14l-20-16l-27 14zM4292 2066l27-15l27-15l-21-13l-27 14l-26 14zM4339 2064l27-15l-20-13l-27 15zM4360 2077l26-15l-20-13l-27 15zM4380 2092l27-16l-21-14l-26 15zM4400 2106l27-15l-20-15l-27 16zM4957 1910l27-10l-21-17l-27 12zM4421 2119l27-14l-21-14l-27 15zM4950 1934l27-9l27-10l27-12l-21-15l-26 12l-27 10l-27 9zM4441 2133l27-15l-20-13l-27 14zM4944 1956l27-8l27-9l26-9l27-11l27-14l-20-15l-27 13l-27 12l-27 10l-27 9l-26 7zM4462 2146l26-15l-20-13l-27 15zM5206 1877l26-9l27-11l-20-15l-27 12l-27 9zM4938 1979l26-7l27-9l27-10l27-9l27-12l26-14l-20-13l-27 14l-27 11l-26 9l-27 9l-27 8l-27 9zM4482 2159l27-15l-21-13l-26 15zM5199 1900l27-9l27-9l27-12l26-11l-20-14l-27 12l-27 11l-26 9l-27 8zM5065 1956l27-14l27-14l-21-10l-26 14l-27 12zM4958 1994l27-8l27-9l26-9l-20-15l-27 10l-27 9l-26 7zM4502 2174l27-14l27-12l-20-16l-27 12l-27 15zM5246 1902l27-9l27-9l27-11l27-11l-21-15l-27 12l-26 11l-27 12l-27 9zM5059 1980l27-13l26-14l-20-11l-27 14l-27 12zM4978 2007l27-8l27-9l-20-13l-27 9l-27 8zM4550 2177l26-12l27-13l27-11l27-10l27-12l-21-14l-27 11l-26 9l-27 11l-27 12l-27 12zM5294 1905l26-9l27-9l27-10l27-11l-21-15l-26 11l-27 11l-27 11l-27 9zM4999 2019l27-8l26-9l27-11l27-14l-20-10l-27 13l-27 10l-27 9l-27 8zM4597 2179l27-11l26-11l27-12l27-12l-20-14l-27 12l-27 10l-27 11l-27 13zM5341 1907l27-8l26-8l27-11l27-12l-20-14l-27 12l-27 11l-27 10l-27 9zM5019 2031l27-8l27-10l27-12l-21-10l-27 11l-26 9l-27 8zM4644 2182l27-12l27-12l26-11l27-10l27-11l27-11l-21-15l-26 12l-27 10l-27 11l-27 12l-27 12l-26 11zM5388 1910l27-9l27-11l-21-10l-27 11l-26 8zM4664 2195l27-12l27-12l27-10l27-10l26-12l27-11l-20-13l-27 11l-27 11l-27 10l-26 11l-27 12l-27 12zM4685 2207l27-12l26-11l27-10l27-11l27-11l27-11l-21-13l-27 11l-26 12l-27 10l-27 10l-27 12l-27 12zM4678 2231l27-12l27-11l27-11l27-10l26-11l27-11l-20-13l-27 11l-27 11l-27 10l-26 11l-27 12l-27 13zM4672 2254l27-11l27-12l26-12l27-10l27-10l27-10l27-11l-21-13l-27 11l-26 11l-27 10l-27 11l-27 11l-27 12l-26 12zM4639 2288l27-12l26-11l27-11l27-13l-20-10l-27 12l-27 11l-27 12l-27 11zM4606 2321l26-11l27-12l27-12l27-10l27-12l-21-10l-27 11l-26 11l-27 12l-27 12l-27 11zM4519 2375l27-12l26-10l27-11l27-12l27-13l-21-7l-26 11l-27 10l-27 11l-27 10l-27 12zM4512 2402l27-14l27-12l27-10l27-11l-21-13l-27 11l-26 10l-27 12l-27 14zM4533 2415l27-14l26-12l27-10l27-11l-20-13l-27 11l-27 10l-27 12l-27 14z"/>
<path fill="#43a6e3" stroke="#43a6e3" d="M3156 2273l27-10l27-11l27-12l-21-17l-26 13l-27 10l-27 10zM3525 2155l27-12l-20-26l-27 11zM3257 2257l27-13l27-13l-21-17l-26 13l-27 13zM3653 2132l27-13l26-12l27-11l27-13l-20-25l-27 13l-27 10l-27 11l-27 13zM3438 2205l27-8l27-4l-20-23l-27 8l-27 8zM3304 2259l27-13l27-11l-20-17l-27 13l-27 13zM3914 2051l27-15l27-15l-20-17l-27 12l-27 11zM3807 2095l27-13l27-11l27-9l-21-25l-27 5l-26 12l-27 14zM3352 2263l26-11l27-11l27-9l27-9l-21-18l-26 10l-27 9l-27 11l-27 11zM3962 2054l26-19l-20-14l-27 15zM4029 2067l27-20l-20-16l-27 20zM4171 2076l27-15l-21-20l-27 15zM4218 2079l27-14l27-14l-21-16l-27 13l-26 13zM4265 2081l27-15l-20-15l-27 14zM4312 2080l27-16l-20-13l-27 15zM4333 2093l27-16l-21-13l-27 16zM4353 2108l27-16l-20-15l-27 16zM4374 2122l26-16l-20-14l-27 16zM4394 2135l27-16l-21-13l-26 16zM4414 2147l27-14l-20-14l-27 16zM4435 2160l27-14l-21-13l-27 14zM4455 2174l27-15l-20-13l-27 14zM5038 1968l27-12l-20-12l-27 9zM4476 2190l26-16l-20-15l-27 15zM5032 1990l27-10l-21-12l-26 9zM4496 2203l27-14l27-12l-21-17l-27 14l-26 16zM4543 2204l27-12l27-13l-21-14l-26 12l-27 12zM4564 2219l26-13l27-12l27-12l-20-14l-27 11l-27 13l-27 12zM4611 2220l27-12l26-13l-20-13l-27 12l-27 12zM4604 2244l27-12l27-12l27-13l-21-12l-26 13l-27 12l-27 11zM4625 2256l27-13l26-12l-20-11l-27 12l-27 12zM4592 2289l26-12l27-11l27-12l-20-11l-27 13l-27 12l-27 12zM4558 2323l27-12l27-11l27-12l-21-11l-26 12l-27 13l-27 12zM4472 2378l26-14l27-12l27-10l27-11l27-10l-21-10l-27 12l-26 11l-27 10l-27 11l-27 12zM4465 2402l27-13l27-14l-21-11l-26 14l-27 13zM4486 2416l26-14l-20-13l-27 13zM4506 2429l27-14l-21-13l-26 14z"/>
<path fill="#2e91d0" stroke="#2e91d0" d="M3177 2290l27-10l26-11l27-12l-20-17l-27 12l-27 11l-27 10zM3599 2159l27-13l27-14l-21-27l-26 13l-27 12zM3492 2193l27-3l-21-26l-26 6zM3197 2306l27-11l27-10l27-13l26-13l-20-15l-27 13l-27 12l-26 11l-27 10zM3888 2062l26-11l-20-24l-27 10zM3780 2108l27-13l-20-27l-27 15zM3459 2223l27-6l-21-20l-27 8zM3298 2289l27-13l27-13l-21-17l-27 13l-26 13zM3345 2292l27-11l27-11l27-10l26-9l-20-19l-27 9l-27 11l-26 11l-27 13zM3982 2070l27-19l-21-16l-26 19zM4050 2086l26-18l-20-21l-27 20zM4097 2090l27-17l-21-24l-27 19zM4144 2092l27-16l-21-20l-26 17zM4191 2093l27-14l-20-18l-27 15zM4238 2095l27-14l-20-16l-27 14zM4259 2111l27-15l26-16l-20-14l-27 15l-27 14zM4306 2110l27-17l-21-13l-26 16zM4326 2123l27-15l-20-15l-27 17zM4347 2136l27-14l-21-14l-27 15zM4340 2161l27-12l27-14l-20-13l-27 14l-27 14zM4361 2174l27-12l26-15l-20-12l-27 14l-27 12zM4354 2198l27-12l27-13l27-13l-21-13l-26 15l-27 12l-27 11zM4167 2269l27-11l-21-11l-27 10zM4402 2201l26-13l27-14l-20-14l-27 13l-27 13zM4160 2292l27-13l27-9l27-8l-21-13l-26 9l-27 11l-27 12zM4449 2204l27-14l-21-16l-27 14zM4181 2305l27-14l26-8l27-8l-20-13l-27 8l-27 9l-27 13zM4469 2218l27-15l-20-13l-27 14zM4201 2323l27-13l27-12l27-10l-21-13l-27 8l-26 8l-27 14zM4490 2231l26-13l27-14l-20-15l-27 14l-27 15zM4537 2232l27-13l-21-15l-27 14zM4530 2256l27-13l27-12l27-11l-21-14l-26 13l-27 13l-27 13zM4551 2268l27-13l26-11l-20-13l-27 12l-27 13zM4544 2293l27-13l27-12l27-12l-21-12l-26 11l-27 13l-27 13zM4458 2345l26-10l27-10l27-11l27-12l27-13l-21-9l-27 13l-26 11l-27 10l-27 11l-27 11zM4424 2381l27-14l27-12l27-11l27-10l26-11l-20-9l-27 11l-27 10l-26 10l-27 12l-27 13zM4418 2405l27-14l27-13l-21-11l-27 14l-26 13zM4412 2429l26-13l27-14l-20-11l-27 14l-27 13zM4432 2442l27-13l27-13l-21-14l-27 14l-26 13zM4452 2455l27-13l27-13l-20-13l-27 13l-27 13z"/>
<path fill="#2784c3" stroke="#2784c3" d="M3519 2190l27-7l26-12l27-12l-20-29l-27 13l-27 12l-27 9zM3727 2133l27-13l26-12l-20-25l-27 13l-27 11zM3486 2217l26-2l-20-22l-27 4zM3218 2322l26-11l27-10l27-12l-20-17l-27 13l-27 10l-27 11zM3908 2084l27-14l27-16l-21-18l-27 15l-26 11zM3452 2251l27-7l27-6l-20-21l-27 6l-27 9zM3238 2338l27-11l27-10l26-12l27-13l-20-16l-27 13l-27 12l-27 10l-26 11zM3955 2087l27-17l-20-16l-27 16zM3339 2319l27-12l26-10l27-10l27-8l27-7l-21-21l-26 9l-27 10l-27 11l-27 11l-27 13zM4002 2085l27-18l-20-16l-27 19zM4023 2104l27-18l-21-19l-27 18zM4070 2106l27-16l-21-22l-26 18zM4117 2108l27-16l-20-19l-27 17zM4164 2108l27-15l-20-17l-27 16zM4185 2124l27-15l26-14l-20-16l-27 14l-27 15zM4232 2125l27-14l-21-16l-26 14zM4279 2125l27-15l-20-14l-27 15zM4300 2139l26-16l-20-13l-27 15zM4320 2150l27-14l-21-13l-26 16zM4314 2174l26-13l-20-11l-27 15zM4126 2247l27-11l27-9l-21-12l-27 10l-26 12zM4280 2209l27-12l27-12l27-11l-21-13l-26 13l-27 13l-27 12zM4093 2281l27-12l26-12l27-10l27-9l27-8l-21-11l-26 8l-27 9l-27 11l-27 12l-27 12zM4194 2258l26-9l27-8l27-9l27-11l27-11l26-12l-20-13l-27 12l-27 12l-26 12l-27 9l-27 8l-27 9zM4086 2306l27-13l27-12l27-12l-21-12l-26 12l-27 12l-27 13zM4241 2262l27-8l26-9l27-10l27-11l27-11l27-12l-21-15l-27 12l-26 12l-27 11l-27 11l-27 9l-27 8zM4107 2318l27-13l26-13l-20-11l-27 12l-27 13zM4261 2275l27-9l27-7l27-10l26-10l27-10l27-12l27-13l-21-16l-26 13l-27 12l-27 11l-27 11l-27 10l-26 9l-27 8zM4127 2334l27-14l27-15l-21-13l-26 13l-27 13zM4416 2244l26-13l27-13l-20-14l-27 13l-27 12zM4282 2288l26-8l27-7l27-9l-20-15l-27 10l-27 7l-27 9zM4174 2337l27-14l-20-18l-27 15zM4463 2245l27-14l-21-13l-27 13zM4222 2340l26-13l27-12l27-11l27-8l27-8l-21-15l-27 7l-26 8l-27 10l-27 12l-27 13zM4483 2258l27-13l27-13l-21-14l-26 13l-27 14zM4269 2342l27-12l26-9l27-10l-20-15l-27 8l-27 11l-27 12zM4477 2282l27-13l26-13l-20-11l-27 13l-27 12zM4470 2305l27-12l27-12l27-13l-21-12l-26 13l-27 13l-27 13zM4384 2359l26-12l27-11l27-11l27-11l27-10l26-11l-20-12l-27 12l-27 12l-26 12l-27 10l-27 10l-27 11zM4350 2394l27-12l27-12l27-13l27-12l-21-9l-27 11l-26 12l-27 11l-27 11zM4371 2406l27-12l26-13l-20-11l-27 12l-27 12zM4364 2430l27-12l27-13l-20-11l-27 12l-27 12zM4358 2452l27-11l27-12l-21-11l-27 12l-26 13zM4352 2480l26-14l27-12l27-12l-20-13l-27 12l-27 11l-27 14zM4372 2493l27-14l27-12l26-12l-20-13l-27 12l-27 12l-26 14z"/>
<path fill="#2d7bb7" stroke="#2d7bb7" d="M3673 2159l27-13l27-13l-21-26l-26 12l-27 13zM3512 2215l27-3l-20-22l-27 3zM3801 2133l27-14l26-13l27-11l27-11l-20-22l-27 9l-27 11l-27 13l-27 13zM3506 2238l27-4l-21-19l-26 2zM3473 2272l27-8l-21-20l-27 7zM3258 2353l27-10l27-10l27-14l-21-14l-26 12l-27 10l-27 11zM3976 2102l26-17l-20-15l-27 17zM3279 2369l27-11l26-10l27-12l27-11l27-10l27-11l26-8l27-7l-20-17l-27 7l-27 8l-27 10l-26 10l-27 12l-27 14l-27 10l-27 10zM3380 2352l26-10l27-11l27-10l-20-17l-27 11l-27 10l-27 11zM4043 2121l27-15l-20-20l-27 18zM4090 2123l27-15l-20-18l-27 16zM4138 2123l26-15l-20-16l-27 16zM4158 2138l27-14l-21-16l-26 15zM4205 2139l27-14l-20-16l-27 15zM4226 2153l26-14l27-14l-20-14l-27 14l-27 14zM4246 2166l27-13l27-14l-21-14l-27 14l-26 14zM4266 2178l27-13l27-15l-20-11l-27 14l-27 13zM4079 2249l27-12l26-12l27-10l27-8l-20-10l-27 8l-27 10l-27 11l-27 12zM4180 2227l26-8l27-9l27-11l27-12l27-13l-21-9l-27 13l-26 11l-27 9l-27 9l-27 8zM3992 2304l27-11l27-10l26-12l27-12l27-12l-20-10l-27 12l-27 12l-27 10l-27 10l-26 11zM4227 2230l27-9l26-12l-20-10l-27 11l-27 9zM4012 2317l27-11l27-12l27-13l-21-10l-26 12l-27 10l-27 11zM4033 2331l27-12l26-13l-20-12l-27 12l-27 11zM4053 2345l27-13l27-14l-21-12l-26 13l-27 12zM4074 2359l26-13l27-12l-20-16l-27 14l-27 13zM4362 2264l27-9l27-11l-21-15l-27 10l-26 10zM4121 2362l27-12l26-13l-20-17l-27 14l-27 12zM4356 2288l26-9l27-9l27-12l27-13l-21-14l-26 13l-27 11l-27 9l-27 9zM4168 2365l27-12l27-13l-21-17l-27 14l-26 13zM4349 2311l27-10l27-9l27-10l26-12l27-12l-20-13l-27 13l-27 12l-27 9l-26 9l-27 8zM4215 2368l27-13l27-13l-21-15l-26 13l-27 13zM4262 2369l27-12l27-11l27-11l27-11l26-10l27-9l27-10l27-13l-21-12l-26 12l-27 10l-27 9l-27 10l-27 10l-26 9l-27 12l-27 13zM4256 2392l27-11l27-11l26-11l27-11l27-11l27-10l27-10l26-12l-20-10l-27 10l-27 9l-26 10l-27 11l-27 11l-27 11l-27 12l-26 12zM4276 2406l27-12l27-13l27-11l27-11l-21-11l-27 11l-26 11l-27 11l-27 11zM4297 2420l27-14l26-12l-20-13l-27 13l-27 12zM4317 2431l27-13l27-12l-21-12l-26 12l-27 14zM4311 2457l27-14l26-13l-20-12l-27 13l-27 13zM4331 2466l27-14l-20-9l-27 14zM4325 2493l27-13l-21-14l-27 14zM4345 2507l27-14l-20-13l-27 13z"/>
<path fill="#3c72ac" stroke="#3c72ac" d="M3620 2185l26-13l27-13l-20-27l-27 14l-27 13zM3539 2212l27-6l-20-23l-27 7zM3747 2157l27-12l27-12l-21-25l-26 12l-27 13zM3875 2128l27-13l26-13l27-15l-20-17l-27 14l-27 11l-27 11zM3500 2264l26-7l-20-19l-27 6zM3949 2118l27-16l-21-15l-27 15zM3493 2289l27-8l-20-17l-27 8zM3996 2120l27-16l-21-19l-26 17zM3460 2321l27-8l27-8l-21-16l-27 7l-26 8zM3299 2383l27-10l27-11l27-10l-21-16l-27 12l-26 10l-27 11zM4016 2136l27-15l-20-17l-27 16zM3320 2399l26-11l27-10l27-11l27-11l27-11l26-8l27-8l-20-16l-27 8l-27 10l-27 11l-26 10l-27 10l-27 11l-27 10zM4064 2136l26-13l-20-17l-27 15zM3394 2394l26-11l27-11l27-9l27-10l-21-16l-26 8l-27 11l-27 11l-27 11zM4111 2138l27-15l-21-15l-27 15zM4131 2151l27-13l-20-15l-27 15zM4152 2164l26-11l27-14l-20-15l-27 14l-27 13zM4065 2217l27-11l26-10l27-10l27-9l27-11l27-13l-21-14l-27 14l-26 11l-27 10l-27 11l-27 11l-27 12zM3898 2302l26-12l27-10l27-10l27-10l27-10l26-12l27-12l27-11l27-10l27-8l26-8l27-11l27-12l-20-13l-27 13l-27 11l-27 9l-27 10l-26 10l-27 11l-27 12l-27 11l-27 10l-26 10l-27 10l-27 10l-27 12zM4186 2207l27-9l27-9l26-11l-20-12l-27 12l-27 11l-26 8zM3891 2327l27-12l27-11l27-12l26-11l27-10l27-10l27-12l-21-11l-26 12l-27 10l-27 10l-27 10l-27 10l-26 12l-27 13zM3912 2340l26-11l27-12l27-13l-20-12l-27 12l-27 11l-27 12zM3932 2355l27-12l27-13l26-13l-20-13l-27 13l-27 12l-26 11zM3952 2368l27-12l27-13l27-12l-21-14l-26 13l-27 13l-27 12zM3973 2381l27-11l26-12l27-13l-20-14l-27 12l-27 13l-27 12zM4020 2384l27-13l27-12l-21-14l-27 13l-26 12zM4040 2398l27-12l27-12l27-12l-21-16l-26 13l-27 12l-27 13zM4088 2401l26-12l27-12l27-12l-20-15l-27 12l-27 12l-27 12zM4135 2403l27-11l26-12l27-12l-20-15l-27 12l-27 12l-27 12zM4155 2417l27-12l27-12l27-12l26-12l-20-14l-27 13l-27 12l-26 12l-27 11zM4202 2418l27-13l27-13l-20-11l-27 12l-27 12zM4223 2433l27-14l26-13l-20-14l-27 13l-27 13zM4243 2445l27-13l27-12l-21-14l-26 13l-27 14zM4264 2457l26-13l27-13l-20-11l-27 12l-27 13zM4257 2481l27-12l27-12l-21-13l-26 13l-27 13zM4224 2515l27-12l27-11l26-12l27-14l-20-9l-27 12l-27 12l-27 12l-26 11zM4218 2540l26-12l27-12l27-11l27-12l-21-13l-26 12l-27 11l-27 12l-27 12zM4238 2553l27-12l27-12l26-11l27-11l-20-14l-27 12l-27 11l-27 12l-26 12z"/>
<path fill="#4e6ba1" stroke="#4e6ba1" d="M3566 2206l27-10l27-11l-21-26l-27 12l-26 12zM3694 2182l26-13l27-12l-20-24l-27 13l-27 13zM3533 2234l27-4l-21-18l-27 3zM3821 2153l27-13l27-12l-21-22l-26 13l-27 14zM3526 2257l27-6l-20-17l-27 4zM3922 2133l27-15l-21-16l-26 13zM3520 2281l27-6l27-6l-21-18l-27 6l-26 7zM3969 2134l27-14l-20-18l-27 16zM3514 2305l26-7l27-6l-20-17l-27 6l-27 8zM3990 2149l26-13l-20-16l-27 14zM3507 2329l27-8l27-7l-21-16l-26 7l-27 8zM4010 2163l27-15l27-12l-21-15l-27 15l-26 13zM3501 2353l27-10l26-8l-20-14l-27 8l-27 8zM3340 2414l27-10l27-10l-21-16l-27 10l-26 11zM4030 2175l27-12l27-12l27-13l-21-15l-26 13l-27 12l-27 15zM3360 2428l27-10l27-10l27-10l27-10l26-9l27-10l27-11l27-8l-21-15l-26 8l-27 10l-27 10l-27 9l-27 11l-26 11l-27 10l-27 10zM4051 2186l27-10l26-12l27-13l-20-13l-27 13l-27 12l-27 12zM3381 2444l27-11l26-10l27-10l27-9l27-10l-21-15l-26 9l-27 10l-27 10l-27 10l-27 10zM4018 2220l26-12l27-12l27-11l27-11l27-10l-21-13l-27 13l-26 12l-27 10l-27 12l-27 11zM3910 2260l27-10l27-10l-20-10l-27 10l-27 11zM3770 2338l27-14l27-11l26-10l27-11l27-12l27-10l27-10l26-10l27-10l27-11l27-12l-21-9l-26 12l-27 11l-27 9l-27 10l-27 10l-26 11l-27 12l-27 10l-27 10l-27 11l-26 11zM3790 2351l27-13l27-12l27-11l27-13l-21-10l-27 11l-26 10l-27 11l-27 14zM3811 2364l27-13l26-12l27-12l-20-12l-27 11l-27 12l-27 13zM3831 2377l27-13l27-12l27-12l-21-13l-27 12l-26 12l-27 13zM3852 2390l26-12l27-12l27-11l-20-15l-27 12l-27 12l-27 13zM3872 2403l27-12l27-12l26-11l-20-13l-27 11l-27 12l-26 12zM3892 2417l27-13l27-12l27-11l-21-13l-26 11l-27 12l-27 12zM3913 2432l27-12l26-12l27-12l27-12l-20-14l-27 11l-27 11l-27 12l-27 13zM3960 2434l27-12l27-12l26-12l-20-14l-27 12l-27 12l-26 12zM4007 2436l27-11l27-12l27-12l-21-15l-27 12l-26 12l-27 12zM4054 2439l27-13l27-11l27-12l-21-14l-26 12l-27 12l-27 12zM4075 2452l27-11l26-12l27-12l-20-14l-27 12l-27 11l-27 13zM4122 2456l27-13l27-12l26-13l-20-13l-27 12l-27 12l-26 12zM4142 2468l27-12l27-11l27-12l-21-15l-26 13l-27 12l-27 13zM4163 2480l27-11l26-11l27-13l-20-12l-27 12l-27 11l-27 12zM4156 2505l27-12l27-11l27-12l27-13l-21-12l-27 13l-26 11l-27 11l-27 13zM4177 2516l27-12l26-11l27-12l-20-11l-27 12l-27 11l-27 12zM4170 2540l27-13l27-12l-20-11l-27 12l-27 13zM4010 2603l26-11l27-10l-20-11l-27 9l-27 11zM3902 2644l27-12l27-10l27-9l-21-12l-26 10l-27 11l-27 12zM4164 2565l27-12l27-13l-21-13l-27 13l-26 12zM3923 2657l27-12l26-10l27-8l27-11l27-11l27-9l26-10l-20-13l-27 9l-27 10l-26 11l-27 10l-27 9l-27 10l-27 12zM4184 2578l27-12l27-13l-20-13l-27 13l-27 12zM3943 2670l27-12l27-10l27-8l26-11l27-11l27-9l27-9l-21-14l-26 10l-27 9l-27 11l-27 11l-27 8l-26 10l-27 12z"/>
<path fill="#605c90" stroke="#605c90" d="M3560 2230l26-6l27-8l27-10l27-13l27-11l-21-23l-27 13l-26 13l-27 11l-27 10l-27 6zM3741 2188l27-12l26-11l27-12l-20-20l-27 12l-27 12l-27 12zM3553 2251l27-5l-20-16l-27 4zM3868 2159l27-12l27-14l-20-18l-27 13l-27 12zM3574 2269l26-6l-20-17l-27 5zM3916 2162l26-14l27-14l-20-16l-27 15l-27 14zM3567 2292l27-6l-20-17l-27 6zM3963 2162l27-13l-21-15l-27 14zM3561 2314l27-7l-21-15l-27 6zM3983 2176l27-13l-20-14l-27 13zM3554 2335l27-7l27-8l-20-13l-27 7l-27 7zM3977 2199l27-11l26-13l-20-12l-27 13l-27 12zM3575 2350l27-8l26-8l-20-14l-27 8l-27 7zM3729 2314l27-10l27-10l27-11l26-10l27-11l27-11l27-11l27-10l26-10l27-11l27-11l27-12l-21-11l-26 13l-27 11l-27 11l-27 11l-27 10l-26 10l-27 11l-27 11l-27 10l-27 10l-26 9l-27 12zM3515 2394l27-10l26-9l27-9l27-10l27-9l-21-13l-26 8l-27 8l-27 8l-27 11l-27 10zM3964 2240l27-9l27-11l-21-11l-27 11l-26 10zM3696 2350l27-13l27-12l26-11l27-11l27-10l27-10l27-12l26-11l-20-9l-27 11l-27 11l-26 10l-27 11l-27 10l-27 10l-27 12l-26 11zM3401 2459l27-10l27-10l27-10l26-9l27-9l27-10l27-10l27-11l26-10l-20-14l-27 10l-27 9l-26 9l-27 10l-27 10l-27 9l-27 10l-26 10l-27 11zM3716 2365l27-14l27-13l-20-13l-27 12l-27 13zM3422 2473l26-10l27-11l27-9l27-8l27-9l-21-15l-27 9l-26 9l-27 10l-27 10l-27 10zM3737 2377l27-12l26-14l-20-13l-27 13l-27 14zM3442 2488l27-11l27-10l26-10l27-8l-20-14l-27 8l-27 9l-27 11l-26 10zM3757 2391l27-13l27-14l-21-13l-26 14l-27 12zM3462 2503l27-10l27-11l27-9l-21-16l-26 10l-27 10l-27 11zM3778 2404l26-13l27-14l-20-13l-27 14l-27 13zM3798 2414l27-12l27-12l-21-13l-27 14l-26 13zM3792 2439l26-11l27-12l27-13l-20-13l-27 12l-27 12l-27 12zM3839 2443l27-13l26-13l-20-14l-27 13l-27 12zM3544 2554l27-10l27-10l-21-11l-27 10l-26 10zM3859 2455l27-12l27-11l-21-15l-26 13l-27 13zM3564 2568l27-10l27-10l27-10l-21-14l-26 10l-27 10l-27 10zM3880 2469l26-11l27-11l27-13l-20-14l-27 12l-27 11l-27 12zM3927 2473l27-12l26-13l27-12l-20-14l-27 12l-27 13l-27 11zM3974 2474l27-10l27-12l26-13l-20-14l-27 11l-27 12l-26 13zM3994 2489l27-11l27-13l27-13l-21-13l-26 13l-27 12l-27 10zM4042 2492l26-13l27-12l27-11l-20-15l-27 11l-27 13l-27 13zM4089 2494l27-13l26-13l-20-12l-27 11l-27 12zM4109 2506l27-13l27-13l-21-12l-26 13l-27 13zM3814 2620l27-12l27-9l-20-11l-27 10l-27 10zM4103 2531l27-13l26-13l-20-12l-27 13l-27 13zM3808 2644l27-12l27-12l26-9l27-10l27-11l27-10l27-10l-21-10l-27 11l-26 10l-27 9l-27 9l-27 9l-27 12l-26 12zM3828 2657l27-12l27-11l27-12l27-11l26-10l27-10l27-11l27-9l27-9l26-9l27-11l27-13l27-13l-21-11l-26 13l-27 13l-27 11l-27 10l-27 9l-26 9l-27 10l-27 10l-27 11l-27 10l-26 9l-27 12l-27 12zM4063 2582l27-9l27-10l27-11l26-12l-20-11l-27 13l-27 11l-26 9l-27 9zM3983 2613l27-10l-21-12l-27 10zM3822 2681l27-12l27-13l26-12l-20-10l-27 11l-27 12l-26 12zM4110 2586l27-10l27-11l-20-13l-27 11l-27 10zM3842 2694l27-12l27-12l27-13l-21-13l-26 12l-27 13l-27 12zM4131 2600l27-11l26-11l-20-13l-27 11l-27 10zM3863 2707l27-12l26-12l27-13l-20-13l-27 13l-27 12l-27 12z"/>
<path fill="#725281" stroke="#725281" d="M3580 2246l27-5l27-10l26-10l27-10l27-11l27-12l-21-19l-26 13l-27 11l-27 13l-27 10l-27 8l-26 6zM3600 2263l27-8l27-10l27-11l27-10l26-10l27-11l27-10l27-10l27-12l26-12l-20-19l-27 13l-27 12l-26 11l-27 12l-27 12l-27 11l-27 10l-26 10l-27 10l-27 5zM3594 2286l27-8l27-10l26-10l27-10l27-11l27-10l27-10l26-11l27-10l27-10l27-11l27-13l-21-15l-27 12l-26 12l-27 12l-27 10l-27 10l-27 11l-26 10l-27 10l-27 11l-27 10l-27 8l-26 6zM3588 2307l26-8l27-8l27-10l27-10l27-10l26-11l27-10l27-10l27-10l27-11l26-10l27-11l27-13l27-13l-21-14l-26 14l-27 13l-27 11l-27 10l-27 10l-26 11l-27 10l-27 10l-27 11l-27 10l-26 10l-27 10l-27 8l-27 6zM3608 2320l27-8l27-8l26-10l27-11l27-10l27-10l27-11l26-10l27-11l27-10l27-10l27-11l26-12l27-12l-20-14l-27 13l-27 13l-27 11l-26 10l-27 11l-27 10l-27 10l-27 10l-26 11l-27 10l-27 10l-27 10l-27 8l-26 8zM3628 2334l27-8l27-10l27-12l27-12l26-9l27-10l27-10l27-11l27-11l26-10l27-10l27-11l27-11l-21-11l-26 12l-27 11l-27 10l-27 10l-27 11l-26 10l-27 11l-27 10l-27 10l-27 11l-26 10l-27 8l-27 8zM3649 2347l27-10l26-11l27-12l-20-10l-27 12l-27 10l-27 8zM3642 2370l27-9l27-11l-20-13l-27 10l-27 9zM3556 2426l26-10l27-11l27-10l27-9l27-9l26-12l-20-15l-27 11l-27 9l-26 10l-27 11l-27 10l-27 10zM3549 2449l27-10l27-10l27-10l26-10l27-9l27-11l27-12l-21-12l-26 12l-27 9l-27 9l-27 10l-27 11l-26 10l-27 9zM3543 2473l27-10l26-10l27-10l27-11l27-10l27-10l26-10l27-11l-20-14l-27 12l-27 11l-27 9l-26 10l-27 10l-27 10l-27 10l-27 8zM3483 2516l27-10l26-10l27-10l27-10l27-9l27-10l26-12l27-11l27-9l27-10l27-11l-21-13l-27 11l-26 10l-27 10l-27 10l-27 11l-27 10l-26 10l-27 10l-27 9l-27 11l-27 10zM3503 2530l27-10l27-10l27-11l26-9l27-9l27-11l27-11l27-11l26-10l27-12l27-12l-20-10l-27 11l-27 10l-27 9l-27 11l-26 12l-27 10l-27 9l-27 10l-27 10l-26 10l-27 10zM3524 2543l26-10l27-10l27-10l27-9l27-9l26-11l27-11l27-11l27-11l27-12l-21-13l-27 12l-26 10l-27 11l-27 11l-27 11l-27 9l-26 9l-27 11l-27 10l-27 10zM3598 2534l26-10l27-8l27-9l27-11l27-10l26-11l27-11l27-10l27-11l-21-15l-26 11l-27 12l-27 11l-27 11l-27 11l-26 11l-27 9l-27 9l-27 10zM3645 2538l27-9l26-10l27-10l27-10l27-12l27-10l26-10l27-12l-20-12l-27 11l-27 10l-27 11l-26 11l-27 10l-27 11l-27 9l-27 8zM3585 2583l27-10l26-11l27-9l27-11l27-11l27-10l26-11l27-10l27-9l27-11l27-11l-21-14l-27 12l-26 10l-27 10l-27 12l-27 10l-27 10l-26 10l-27 9l-27 10l-27 10l-27 10zM3605 2596l27-10l27-10l27-10l26-10l27-11l27-11l27-11l27-10l26-9l27-10l27-10l27-11l-21-15l-26 11l-27 11l-27 11l-27 9l-27 10l-26 11l-27 10l-27 11l-27 11l-27 9l-26 11l-27 10zM3626 2612l26-11l27-10l27-10l27-11l27-11l26-11l27-10l27-10l27-11l27-11l26-10l27-10l27-12l-20-13l-27 12l-27 11l-27 10l-27 10l-26 9l-27 10l-27 11l-27 11l-27 11l-26 10l-27 10l-27 10l-27 10zM3646 2626l27-10l27-10l26-11l27-12l27-11l27-10l27-10l26-9l27-11l27-11l27-10l27-12l26-10l-20-15l-27 12l-27 10l-26 10l-27 11l-27 11l-27 10l-27 10l-26 11l-27 11l-27 11l-27 10l-27 10l-26 11zM3666 2638l27-10l27-10l27-12l27-11l26-10l27-9l27-10l27-10l27-10l26-11l27-10l27-11l27-10l27-12l-21-14l-27 11l-26 10l-27 12l-27 10l-27 11l-27 11l-26 9l-27 10l-27 10l-27 11l-27 12l-26 11l-27 10l-27 10zM3687 2651l27-11l26-10l27-11l27-11l27-10l27-10l26-9l27-10l27-10l27-11l27-11l26-10l27-10l27-11l27-12l-21-15l-26 13l-27 12l-27 10l-27 11l-27 10l-26 11l-27 10l-27 10l-27 10l-27 9l-26 10l-27 11l-27 12l-27 10l-27 10zM3868 2599l27-9l27-9l26-10l27-11l27-10l27-10l27-10l26-11l27-13l-20-12l-27 12l-27 11l-27 10l-26 10l-27 11l-27 11l-27 10l-27 10l-26 9zM3707 2664l27-10l27-11l27-11l26-12l-20-12l-27 11l-27 11l-26 10l-27 11zM3996 2570l26-9l27-9l27-10l27-11l-21-12l-26 11l-27 10l-27 10l-27 10zM3728 2676l26-10l27-10l27-12l-20-12l-27 11l-27 11l-27 10zM3748 2689l27-10l27-10l26-12l-20-13l-27 12l-27 10l-26 10zM3768 2701l27-10l27-10l-20-12l-27 10l-27 10zM3789 2715l27-11l26-10l-20-13l-27 10l-27 10zM3809 2728l27-10l27-11l-21-13l-26 10l-27 11z"/>
<path fill="#000" fill-opacity="0.06" stroke="none" d="M4286 489l26-10l27-13l-20-13l-27 12l-27 10zM3669 658l27-9l27-10l-21-13l-26 10l-27 9zM4279 507l27-5l27-10l27-13l-21-13l-27 13l-26 10l-27 5zM4219 520l27 1l27 0l27-2l26-5l27-9l27-12l-20-14l-27 13l-27 10l-27 5l-27 3l-26 0l-27-2zM4139 521l27-4l26 1l-20-13l-27-1l-27 4zM3603 729l27-11l26-11l27-8l27-9l27-9l-21-19l-26 10l-27 9l-27 11l-27 11l-27 10zM4240 532l26 0l27-1l27-2l27-5l27-8l26-10l-20-13l-27 12l-27 9l-26 5l-27 2l-27 0l-27-1zM3677 725l27-8l26-10l27-10l27-10l27-12l27-13l26-11l-20-14l-27 11l-27 12l-26 11l-27 10l-27 9l-27 9l-27 8zM4314 541l26-3l27-4l27-6l27-8l-21-14l-26 10l-27 8l-27 5l-27 2zM3724 735l27-11l27-11l26-11l27-13l27-12l27-12l-21-14l-26 11l-27 13l-27 12l-27 10l-27 10l-26 10zM4388 547l26-7l-20-12l-27 6zM3771 742l27-11l27-14l27-14l26-12l27-11l-20-15l-27 12l-27 12l-27 13l-26 11l-27 11zM3872 716l27-12l27-11l26-9l-20-15l-27 11l-27 11l-26 12zM3604 810l27-4l-21-12l-26 6zM3785 785l27-13l27-14l-21-13l-26 14l-27 11zM3624 819l27-3l27-2l-20-12l-27 4l-27 4zM2552 1266l27-12l-20-15l-27 12zM3779 807l27-12l26-12l27-13l-20-12l-27 14l-27 13l-27 12zM3162 1019l27-13l27-12l27-11l-21-15l-26 12l-27 12l-27 11zM3799 816l27-11l27-12l27-12l-21-11l-27 13l-26 12l-27 12zM3183 1034l27-14l26-12l27-10l27-12l27-12l27-10l26-11l-20-16l-27 11l-27 11l-26 13l-27 11l-27 11l-27 12l-27 13zM3873 802l27-12l-20-9l-27 12zM3203 1049l27-14l27-11l27-13l26-12l27-11l27-11l27-12l27-11l-21-13l-27 12l-26 11l-27 10l-27 12l-27 12l-27 10l-26 12l-27 14zM2453 1404l27-14l-21-15l-27 15zM3250 1051l27-13l27-12l27-12l27-12l26-13l27-12l27-10l27-12l-21-14l-26 13l-27 11l-27 12l-27 11l-27 11l-26 12l-27 13l-27 11zM3063 1141l27-9l26-10l27-12l-20-18l-27 13l-27 10l-27 7zM2473 1418l27-14l27-13l-21-15l-26 14l-27 14zM4209 725l27-7l26-5l-20-15l-27 7l-27 7zM4048 770l27-5l-21-13l-26 7zM3271 1066l27-13l26-12l27-12l27-13l27-13l27-11l26-11l27-13l-20-13l-27 12l-27 10l-27 12l-26 13l-27 12l-27 12l-27 12l-27 13zM3110 1151l27-12l27-14l26-14l27-16l-20-14l-27 16l-27 13l-27 12l-26 10zM4283 727l27-5l26-4l27-4l27-5l-20-16l-27 4l-27 4l-27 6l-27 6zM3291 1081l27-13l27-13l27-13l26-13l27-12l27-10l27-12l-21-14l-26 11l-27 11l-27 13l-27 13l-27 12l-26 12l-27 13zM3157 1154l27-15l27-15l27-15l-21-14l-27 16l-26 14l-27 14zM2648 1382l27-13l27-11l26-10l-20-18l-27 12l-27 11l-26 13zM4384 729l26-5l27-4l-20-17l-27 6l-27 5zM3312 1095l26-13l27-12l27-13l-20-15l-27 13l-27 13l-27 13zM2668 1397l27-12l27-10l27-10l27-10l26-12l-20-19l-27 12l-27 12l-26 10l-27 11l-27 13zM3359 1096l27-13l26-12l-20-14l-27 13l-27 12zM2716 1403l26-10l27-11l27-10l27-13l27-14l26-13l27-14l-20-18l-27 15l-27 14l-27 14l-26 12l-27 10l-27 10l-27 10zM2736 1421l27-11l27-9l26-10l27-13l27-14l27-15l27-16l26-16l-20-14l-27 15l-27 14l-26 13l-27 14l-27 13l-27 10l-27 11l-26 10zM4070 867l26-11l-20-16l-27 10zM3132 1250l26-12l27-11l-20-10l-27 11l-27 10zM2783 1431l27-9l27-11l27-14l26-15l27-16l27-17l27-15l27-15l-21-16l-27 14l-26 16l-27 16l-27 15l-27 14l-27 13l-26 10l-27 9zM2622 1520l27-18l27-20l-20-18l-27 18l-27 16zM3768 991l27-5l27-3l27-2l-21-15l-26 3l-27 3l-27 6zM2830 1446l27-14l27-16l27-16l27-18l26-16l27-16l27-16l-20-15l-27 15l-27 15l-27 17l-27 16l-26 15l-27 14l-27 11zM2670 1525l26-23l27-20l27-14l-20-18l-27 14l-27 18l-27 20zM3816 1000l26-3l27-2l27 0l27-1l27-3l-21-16l-27 4l-26 1l-27 1l-27 2l-27 3zM3494 1130l27-11l27-11l-21-13l-27 11l-26 10zM3333 1203l27-13l-20-11l-27 13zM2690 1548l27-24l27-22l26-15l27-3l27-3l27-9l27-15l26-17l27-20l27-20l27-18l27-17l26-17l27-14l-20-16l-27 16l-27 16l-27 16l-26 16l-27 18l-27 16l-27 16l-27 14l-26 9l-27 5l-27 8l-27 14l-27 20l-26 23zM4131 920l27-14l26-11l-20-14l-27 10l-27 12zM3943 1007l27-2l27-3l-21-17l-26 6l-27 3zM3514 1145l27-11l27-12l-20-14l-27 11l-27 11zM3354 1215l26-12l27-11l-20-13l-27 11l-27 13zM3032 1381l27-16l27-15l-21-16l-27 14l-26 17zM2818 1514l26-3l27-12l27-18l27-20l27-22l-21-19l-27 20l-26 17l-27 15l-27 9l-27 3zM4768 794l26-10l27-11l-20-14l-27 10l-27 10zM4580 853l27-8l27-7l-21-15l-27 7l-26 7zM4151 936l27-15l27-10l-21-16l-26 11l-27 14zM3669 1097l27-12l26-11l-20-13l-27 12l-27 11zM3428 1204l26-13l27-11l27-11l27-11l27-11l26-11l-20-14l-27 12l-27 11l-26 11l-27 10l-27 13l-27 13zM2892 1525l26-20l27-23l27-24l-20-19l-27 22l-27 20l-27 18zM4788 806l27-10l27-10l-21-13l-27 11l-26 10zM4600 867l27-7l27-7l27-7l-21-15l-26 7l-27 7l-27 8zM4440 892l26-4l27-1l27-2l27-4l-21-16l-26 3l-27 1l-27 2l-27 3zM4306 913l26-4l27-4l27-4l27-4l-21-19l-26 5l-27 5l-27 3l-27 3zM3689 1111l27-12l27-12l27-10l-21-13l-27 10l-26 11l-27 12zM3502 1195l26-13l27-12l27-11l27-10l27-13l-21-13l-27 13l-26 11l-27 11l-27 11l-27 11zM3234 1319l26-12l-20-14l-27 14zM4326 933l27-5l27-5l26-4l27-5l27-5l27-3l27-2l26-4l27-5l27-6l27-8l27-6l26-7l27-8l27-9l-20-13l-27 8l-27 7l-27 7l-27 7l-26 8l-27 6l-27 4l-27 2l-27 1l-26 4l-27 5l-27 4l-27 4l-27 4l-26 4zM3844 1069l26-7l27-5l-20-15l-27 6l-27 8zM3549 1197l27-11l26-11l27-12l-20-14l-27 10l-27 11l-27 12zM3281 1319l27-13l-21-12l-27 13zM4561 915l27-5l26-7l27-8l27-7l27-7l27-8l26-10l-20-12l-27 9l-27 8l-26 7l-27 6l-27 8l-27 6l-27 5zM4373 948l27-7l27-5l27-7l26-4l-20-16l-27 5l-27 5l-26 4l-27 5zM3891 1078l27-7l26-5l-20-13l-27 4l-27 5zM3596 1202l27-11l-21-16l-26 11zM4608 923l27-6l27-8l26-7l27-8l27-9l27-10l-21-12l-26 10l-27 8l-27 7l-27 7l-27 8l-26 7zM4474 948l27-6l27-5l-21-15l-27 3l-26 4zM3938 1089l27-6l-21-17l-26 5zM4628 937l27-8l27-6l27-7l27-9l26-10l27-11l-20-11l-27 10l-27 9l-27 8l-26 7l-27 8l-27 6zM4521 959l27-7l27-6l-21-14l-26 5l-27 5zM4702 938l27-9l27-9l-20-13l-27 9l-27 7zM4595 963l27-4l27-7l27-7l-21-16l-27 8l-26 5l-27 4zM3630 1273l27-7l-20-26l-27 12zM3966 1185l27-7l27-7l26-5l-20-20l-27 6l-27 7l-26 7zM3725 1303l27-10l-21-23l-27 10zM4013 1197l27-8l27-6l27-8l26-8l-20-15l-27 8l-27 6l-26 5l-27 7zM4034 1217l26-9l27-8l27-9l27-8l27-9l-21-14l-27 7l-26 8l-27 8l-27 6l-27 8zM3471 1417l27-14l-21-16l-27 13zM4081 1226l27-11l26-9l27-9l27-10l27-8l-21-14l-26 9l-27 9l-27 8l-27 9l-27 8zM4155 1221l27-9l-21-15l-27 9zM3887 1344l27-7l-21-21l-27 12zM3773 1370l27-15l-20-16l-27 9zM4946 1018l27-6l27-3l-21-12l-27 5l-26 6zM4812 1056l27-8l27-7l-21-11l-27 7l-26 8zM3526 1510l26-16l27-14l27-11l-20-21l-27 12l-27 14l-27 16zM2936 1848l27-8l27-10l-21-18l-27 10l-26 8zM4806 1075l26-9l27-8l27-8l27-8l27-7l26-7l27-4l27-2l-20-13l-27 3l-27 6l-27 7l-27 8l-26 8l-27 7l-27 8l-27 9zM4698 1117l27-10l27-10l-20-10l-27 10l-27 11zM3546 1530l27-17l27-13l26-11l27-10l-20-20l-27 10l-27 11l-27 14l-26 16zM2956 1866l27-9l27-8l27-10l-21-19l-26 10l-27 10l-27 8zM4826 1085l27-8l27-9l26-9l27-8l27-8l27-6l27-2l26 0l27-1l-20-14l-27 2l-27 2l-27 4l-26 7l-27 7l-27 8l-27 8l-27 8l-26 9zM4102 1337l27-13l-20-13l-27 15zM3888 1407l27-14l-21-18l-26 10zM3593 1532l27-12l27-10l27-9l-21-22l-27 10l-26 11l-27 13zM2977 1884l27-8l26-8l27-9l-20-20l-27 10l-27 8l-27 9zM5007 1048l27-2l27 0l27 0l26-2l-20-13l-27 3l-27 1l-26 0l-27 2zM4873 1089l27-10l27-8l-21-12l-26 9l-27 9zM4123 1350l27-11l-21-15l-27 13zM3640 1543l27-10l27-9l-20-23l-27 9l-27 10zM3346 1729l26-16l27-16l-20-13l-27 17l-27 15zM3024 1894l27-8l27-10l-21-17l-27 9l-26 8zM5054 1061l27-1l27 0l27-2l27-10l-21-14l-27 10l-26 2l-27 0l-27 0zM3661 1565l27-10l26-8l-20-23l-27 9l-27 10zM3339 1757l27-16l27-15l27-18l-21-11l-27 16l-26 16l-27 15zM3071 1904l27-10l-20-18l-27 10zM2910 1948l27-7l27-6l-20-18l-27 7l-27 6zM4110 1402l27-12l-21-13l-26 11zM3681 1588l27-9l27-9l-21-23l-26 8l-27 10zM3520 1669l27-15l27-13l27-15l27-13l-21-22l-27 16l-26 15l-27 15l-27 16zM3386 1752l27-16l27-17l-20-11l-27 18l-27 15zM3226 1846l26-14l-20-14l-27 15zM2904 1971l27-7l27-6l26-5l27-8l27-8l27-7l27-8l-21-18l-27 8l-26 8l-27 8l-27 7l-27 6l-27 7l-26 6zM3541 1684l27-13l26-13l27-13l27-11l27-11l27-11l26-10l27-11l27-13l-20-20l-27 12l-27 9l-27 9l-27 11l-26 14l-27 13l-27 15l-27 13l-27 15zM3246 1861l27-15l27-15l-21-14l-27 15l-26 14zM2951 1982l27-6l27-7l27-8l26-7l27-8l27-9l27-12l27-14l-21-14l-27 14l-26 11l-27 8l-27 7l-27 8l-27 8l-26 5l-27 6zM4446 1327l26-9l27-9l27-9l27-8l-21-14l-26 9l-27 9l-27 8l-27 9zM3776 1609l26-12l27-13l27-14l27-11l27-10l26-11l-20-17l-27 10l-27 9l-26 12l-27 13l-27 13l-27 13zM3561 1699l27-12l27-11l27-10l26-10l27-11l27-12l27-12l-21-19l-26 10l-27 11l-27 11l-27 11l-27 13l-26 13l-27 13zM3293 1859l27-14l27-16l-21-14l-26 16l-27 15zM3079 1972l27-9l26-11l27-12l27-15l-20-14l-27 14l-27 12l-27 9l-27 8zM2998 1994l27-7l27-8l-20-18l-27 8l-27 7zM5136 1136l27-2l27-2l-21-19l-27 3l-26 1zM4493 1332l27-9l26-9l27-8l27-10l-20-13l-27 9l-27 8l-27 9l-27 9zM4091 1491l27-13l26-12l-20-18l-27 12l-27 13zM4010 1529l27-14l-20-15l-27 13zM3635 1696l27-9l27-10l27-11l26-13l27-13l-20-19l-27 12l-27 12l-27 11l-26 10l-27 10zM3421 1807l27-16l-21-13l-27 17zM3099 1990l27-10l27-12l27-12l-21-16l-27 12l-26 11l-27 9zM5130 1157l26-3l27-3l27-1l27-4l27-10l26-10l-20-18l-27 11l-27 10l-26 3l-27 2l-27 2l-27 2zM4513 1349l27-11l27-10l27-9l26-10l27-10l27-9l-20-13l-27 10l-27 9l-27 10l-27 8l-26 9l-27 9zM4272 1453l27-10l-21-19l-26 7zM3709 1699l27-12l27-13l27-14l26-16l-20-17l-27 13l-27 13l-26 13l-27 11zM3146 1996l27-12l27-14l-20-14l-27 12l-27 12zM5177 1172l27-4l26-3l27-5l27-10l27-11l-21-13l-26 10l-27 10l-27 4l-27 1l-27 3zM4560 1353l27-10l27-10l27-11l27-10l26-9l27-10l27-9l-20-12l-27 9l-27 9l-27 9l-27 10l-26 10l-27 9l-27 10zM3783 1693l27-17l27-15l27-15l26-14l27-14l-20-17l-27 13l-27 15l-27 15l-26 16l-27 14zM5197 1188l27-4l27-5l27-7l26-11l27-10l-20-12l-27 11l-27 10l-27 5l-26 3l-27 4zM4956 1235l27-6l27-3l26-5l-20-18l-27 6l-27 5l-26 7zM4634 1348l27-11l27-11l27-11l27-11l26-9l27-9l27-9l-20-11l-27 9l-27 9l-27 9l-27 10l-26 9l-27 10l-27 11zM5244 1199l27-7l27-8l27-10l27-10l-21-13l-27 10l-26 11l-27 7l-27 5zM4950 1256l26-7l27-3l27-3l27-4l27-4l26-5l27-7l-20-17l-27 6l-27 5l-27 4l-26 5l-27 3l-27 6l-27 8zM4789 1308l27-10l26-10l27-8l27-9l-20-12l-27 10l-27 8l-27 9l-27 9zM3127 2083l27-11l27-11l-21-17l-26 11l-27 11zM5345 1187l27-10l-20-13l-27 10zM4970 1271l27-4l27-3l26-3l27-4l27-5l27-6l27-6l26-5l-20-18l-27 6l-27 7l-26 5l-27 4l-27 4l-27 3l-27 3l-26 7zM4595 1417l27-11l-21-16l-27 9zM4407 1452l27-5l-20-21l-27 8zM4246 1550l27-22l-20-15l-27 19zM3148 2100l26-11l27-11l-20-17l-27 11l-27 11zM5151 1265l27-6l27-7l27-8l26-7l-20-15l-27 8l-27 5l-26 5l-27 6zM5017 1286l27-3l27-3l-21-19l-26 3l-27 3zM4588 1445l27-9l-20-19l-27 8zM3195 2105l27-10l26-13l-20-16l-27 12l-27 11zM4716 1417l27-14l27-13l-21-17l-27 14l-26 14zM3269 2099l27-14l26-16l27-17l-20-16l-27 17l-27 16l-27 13zM4736 1436l27-14l27-13l27-14l27-15l-21-16l-27 14l-26 12l-27 13l-27 14zM4227 1672l27-17l-20-24l-27 16zM3343 2086l27-17l26-14l-20-18l-27 15l-27 17zM4784 1443l26-14l27-16l-20-18l-27 14l-27 13zM3363 2103l27-16l27-13l27-13l-21-19l-27 13l-26 14l-27 17zM4804 1465l27-15l27-13l-21-24l-27 16l-26 14zM4134 1770l27-14l-21-27l-26 14zM3410 2106l27-12l27-13l-20-20l-27 13l-27 13zM4664 1561l26-7l27-10l-20-21l-27 10l-27 6zM3458 2114l26-11l-20-22l-27 13zM4684 1581l27-8l27-10l26-13l-20-19l-27 13l-27 10l-26 7zM4838 1545l27-10l27-9l-20-24l-27 11l-27 12zM4410 1750l26-14l-20-29l-27 17zM4886 1558l26-8l27-8l-20-25l-27 9l-27 9zM4484 1747l26-17l-20-27l-27 17zM4242 1855l27-11l-20-20l-27 9zM5147 1498l27-4l27-6l27-7l26-6l-20-20l-27 7l-27 6l-26 4l-27 3zM4504 1770l27-16l27-15l-21-26l-27 17l-26 17zM5168 1520l26-6l27-7l27-8l27-8l27-10l26-11l-20-17l-27 12l-27 10l-26 6l-27 7l-27 6l-27 4zM4498 1804l26-14l27-15l27-15l-20-21l-27 15l-27 16l-27 14zM4310 1883l27-12l27-11l-21-18l-27 11l-26 11zM4149 1945l27-11l27-9l-21-16l-26 11l-27 12zM3533 2234l27-4l26-6l-20-18l-27 6l-27 3zM5215 1533l27-8l26-8l27-9l27-10l27-11l27-11l-21-17l-27 11l-26 11l-27 10l-27 8l-27 8l-27 7zM4491 1836l27-13l-20-19l-27 13zM3553 2251l27-5l27-5l27-10l-21-15l-27 8l-26 6l-27 4zM5262 1543l27-9l27-9l26-10l27-10l-20-18l-27 11l-27 10l-27 9l-26 8zM3600 2263l27-8l27-10l27-11l27-10l26-10l27-11l27-10l-20-17l-27 12l-27 12l-27 11l-27 10l-26 10l-27 10l-27 5zM3674 2258l27-10l27-11l27-10l27-10l26-11l27-10l27-10l-20-15l-27 12l-27 10l-27 10l-27 11l-26 10l-27 10l-27 11zM4633 1849l27-10l26-6l27-6l-20-20l-27 7l-27 4l-27 11zM3748 2250l27-10l27-10l27-10l27-11l26-10l27-11l27-13l-20-13l-27 13l-27 11l-27 10l-27 10l-26 11l-27 10l-27 10zM3507 2329l27-8l27-7l-21-16l-26 7l-27 8zM5270 1613l26-8l-20-17l-27 9zM4626 1878l27-11l27-8l27-7l27-8l26-12l27-12l27-12l-20-22l-27 15l-27 15l-27 11l-27 6l-26 6l-27 10l-27 11zM4466 1947l26-10l27-10l-20-14l-27 10l-27 9zM4010 2163l27-15l27-12l26-13l27-15l27-16l27-16l-21-20l-26 17l-27 17l-27 16l-27 15l-27 15l-26 13zM3796 2252l26-10l27-11l27-10l27-10l27-11l26-12l-20-13l-27 13l-27 11l-26 10l-27 11l-27 10l-27 10zM3528 2343l26-8l27-7l27-8l-20-13l-27 7l-27 7l-27 8zM4647 1894l27-10l26-10l27-8l27-9l27-10l27-10l26-10l27-14l-20-21l-27 16l-27 12l-27 12l-26 12l-27 8l-27 7l-27 8l-27 11zM4513 1950l27-10l-21-13l-27 10zM4138 2123l26-15l27-15l27-14l27-14l-21-17l-26 13l-27 15l-27 16l-27 16zM3816 2263l27-11l27-11l26-10l27-10l27-11l27-11l27-11l-21-12l-27 12l-26 12l-27 11l-27 10l-27 10l-27 11l-26 10zM3736 2292l26-9l27-10l-20-10l-27 10l-27 10zM5418 1611l26-10l27-9l-20-16l-27 9l-27 9zM4694 1899l27-11l27-9l26-9l27-9l27-9l27-11l27-14l26-16l-20-17l-27 19l-27 14l-26 10l-27 10l-27 10l-27 9l-27 8l-26 10zM4533 1963l27-10l27-9l-21-14l-26 10l-27 10zM4212 2109l26-14l27-14l-20-16l-27 14l-27 14zM3863 2262l27-11l27-11l27-10l26-10l27-11l27-11l27-12l27-10l26-12l-20-13l-27 12l-27 12l-26 13l-27 11l-27 11l-27 11l-27 10l-26 10l-27 11zM5438 1626l27-9l27-9l26-10l27-11l-20-14l-27 10l-27 9l-27 9l-26 10zM4822 1875l26-11l27-11l27-12l27-15l-21-15l-26 16l-27 14l-27 11l-27 9zM4688 1923l26-11l-20-13l-27 11zM4554 1974l26-8l-20-13l-27 10zM4071 2196l27-11l27-11l27-10l-21-13l-27 13l-26 12l-27 10zM3910 2260l27-10l27-10l27-9l-21-11l-26 10l-27 10l-27 11zM5646 1560l27-14l-21-12l-26 14zM5458 1641l27-10l27-9l27-10l27-11l26-13l-20-13l-27 12l-27 11l-26 10l-27 9l-27 9zM4708 1933l27-11l27-8l26-7l-20-13l-27 8l-27 10l-26 11zM4092 2206l26-10l27-10l27-9l-20-13l-27 10l-27 11l-27 11zM5666 1573l27-15l27-16l27-17l27-10l26-10l-20-9l-27 10l-27 10l-26 16l-27 14l-27 14zM5318 1717l27-12l27-10l26-9l27-9l27-10l27-11l27-9l26-11l27-10l27-11l27-13l-21-14l-26 13l-27 11l-27 10l-27 9l-27 10l-26 12l-27 10l-27 9l-27 9l-27 11l-26 11zM4728 1944l27-10l27-8l27-7l-21-12l-26 7l-27 8l-27 11zM4139 2205l27-8l26-8l-20-12l-27 9l-27 10zM5446 1689l26-10l27-9l27-10l27-10l27-10l26-11l27-14l27-15l27-15l27-15l-21-12l-27 15l-26 14l-27 15l-27 13l-27 11l-27 10l-26 11l-27 9l-27 11l-27 10zM5338 1730l27-12l27-11l-20-12l-27 10l-27 12zM4776 1947l26-8l27-7l-20-13l-27 7l-27 8zM4186 2207l27-9l-21-9l-26 8zM5680 1612l27-15l27-16l27-15l-21-12l-26 16l-27 15l-27 15zM5573 1663l27-9l27-12l27-15l-21-12l-27 14l-26 11l-27 10zM5386 1730l26-10l27-9l27-9l-20-13l-27 9l-27 9l-27 11zM5754 1593l27-16l-20-11l-27 15zM5594 1677l26-10l27-12l-20-13l-27 12l-27 9zM5433 1732l27-9l26-10l27-9l27-10l-20-12l-27 10l-27 10l-27 9l-27 9zM5480 1736l27-10l27-9l26-9l27-9l27-9l27-10l27-12l26-13l-20-13l-27 13l-27 12l-26 10l-27 8l-27 9l-27 10l-27 9l-26 10zM3604 2513l27-9l-21-14l-26 9zM5581 1723l27-10l26-9l27-10l27-11l-20-15l-27 12l-27 10l-27 9l-27 9zM3544 2554l27-10l27-10l26-10l27-8l27-9l-20-12l-27 9l-27 9l-27 10l-27 10l-26 10zM4878 2018l26-9l27-8l27-7l-20-15l-27 9l-27 9l-27 8zM4261 2275l27-9l27-7l-21-14l-26 9l-27 8zM3645 2538l27-9l26-10l27-10l-20-13l-27 11l-27 9l-27 8zM4871 2040l27-10l27-9l27-7l26-7l27-8l27-9l27-10l27-13l-21-11l-27 12l-26 9l-27 9l-27 8l-27 7l-27 8l-26 9l-27 10zM4282 2288l26-8l27-7l27-9l27-9l-21-16l-26 10l-27 10l-27 7l-27 9zM4918 2042l27-9l27-7l27-7l27-8l26-9l27-11l27-14l27-12l27-12l-21-12l-27 12l-26 14l-27 13l-27 10l-27 9l-27 8l-26 7l-27 7l-27 9zM4329 2296l27-8l26-9l27-9l27-12l27-13l-21-14l-26 13l-27 11l-27 9l-27 9l-27 7zM4966 2048l26-8l27-9l27-8l27-10l27-12l26-14l27-13l27-13l27-11l-21-9l-26 12l-27 12l-27 12l-27 14l-27 11l-26 9l-27 8l-27 7l-27 7zM4376 2301l27-9l27-10l26-12l27-12l27-13l-20-14l-27 14l-27 13l-27 12l-27 9l-26 9zM5308 1929l26-6l-20-9l-27 8zM5013 2053l27-9l26-10l27-11l27-13l27-13l27-12l26-13l-20-11l-27 13l-27 13l-26 14l-27 12l-27 10l-27 8l-27 9zM4477 2282l27-13l26-13l27-13l27-12l-20-12l-27 13l-27 13l-27 13l-27 12zM5140 2020l27-13l27-13l27-13l-21-9l-26 13l-27 12l-27 13zM4578 2255l26-11l-20-13l-27 12zM4417 2327l27-10l26-12l-20-10l-27 10l-27 9zM4410 2347l27-11l27-11l27-11l27-10l-21-11l-27 12l-26 12l-27 10l-27 10zM3794 2608l27-10l27-10l26-9l-20-13l-27 10l-27 9l-26 10zM5851 1767l27-14l-20-7l-27 14zM4431 2357l27-12l26-10l27-10l27-11l27-12l27-13l26-12l27-11l27-12l-20-11l-27 13l-27 12l-27 12l-27 13l-26 11l-27 10l-27 11l-27 11l-27 11zM3814 2620l27-12l27-9l27-9l27-9l26-10l-20-12l-27 10l-27 10l-26 9l-27 10l-27 10zM5738 1819l26-8l-20-4l-27 8zM5309 1996l27-11l-21-10l-27 11zM4773 2230l27-11l-21-10l-27 10zM4612 2300l27-12l27-12l26-11l-20-11l-27 12l-27 11l-26 12zM4478 2355l27-11l27-10l26-11l27-12l-20-9l-27 12l-27 11l-27 10l-26 10zM3862 2620l26-9l27-10l27-11l27-10l27-10l26-9l-20-11l-27 10l-27 11l-26 10l-27 9l-27 9l-27 9zM5758 1824l27-8l-21-5l-26 8zM4766 2252l27-13l-20-9l-27 11zM4525 2352l27-10l27-11l27-10l26-11l27-12l27-12l27-10l-21-11l-26 11l-27 12l-27 12l-27 11l-27 12l-26 11l-27 10zM3882 2634l27-12l27-11l26-10l27-10l27-11l27-9l27-9l26-9l-20-11l-27 10l-27 9l-26 9l-27 10l-27 10l-27 11l-27 10l-26 9zM4572 2353l27-11l27-12l27-13l27-11l26-10l27-10l-20-10l-27 10l-27 12l-27 12l-26 11l-27 10l-27 11zM4036 2592l27-10l27-9l27-10l-21-10l-26 9l-27 9l-27 9zM3902 2644l27-12l27-10l27-9l27-10l-21-12l-27 10l-26 10l-27 11l-27 12zM5960 1800l26-10l-20-14l-27 11zM5799 1847l27-5l-21-13l-27 5zM4861 2240l27-17l-21-13l-27 17zM4700 2319l27-10l-21-13l-26 10zM3950 2645l26-10l27-8l-20-14l-27 9l-27 10zM5792 1869l27-8l27-6l-20-13l-27 5l-27 9zM5203 2104l27-8l26-9l-20-13l-27 9l-27 7zM3970 2658l27-10l27-8l26-11l-20-13l-27 11l-27 8l-26 10z"/>
<path fill="#fff" fill-opacity="0.07" stroke="none" d="M3234 829l27-8l-21-13l-26 7zM3254 839l27-6l27-5l27-7l27-7l-21-12l-27 8l-26 6l-27 5l-27 8zM2638 1105l27-13l27-12l26-12l27-11l27-8l-20-18l-27 11l-27 12l-27 11l-27 12l-26 13zM2129 1362l27-15l26-17l-20-18l-27 17l-27 16zM3275 852l27-7l26-7l27-7l27-6l-20-11l-27 7l-27 7l-27 5l-27 6zM2980 980l27-15l27-14l26-14l-20-15l-27 14l-27 14l-26 14zM2685 1108l27-12l27-12l27-10l26-9l27-10l27-9l27-10l-21-19l-26 12l-27 11l-27 9l-27 8l-27 11l-26 12l-27 12zM2149 1380l27-14l27-16l27-17l-21-20l-27 17l-26 17l-27 15zM4180 556l26-4l27-4l-20-15l-27 1l-27 3zM3295 867l27-8l27-8l27-7l26-9l-20-10l-27 6l-27 7l-26 7l-27 7zM3000 994l27-15l27-13l27-13l27-12l26-10l-20-16l-27 11l-27 11l-26 14l-27 14l-27 15zM2732 1110l27-11l27-11l27-9l27-8l26-7l27-8l27-14l-20-19l-27 13l-27 10l-27 9l-27 10l-26 9l-27 10l-27 12zM2438 1243l26-12l-20-19l-27 11zM2223 1369l27-17l27-18l-21-20l-26 19l-27 17zM4120 596l26-9l27-9l27-5l27-4l27-4l26-2l27-3l27-5l-20-14l-27 3l-27 2l-27 2l-27 4l-26 4l-27 5l-27 9l-27 8zM3342 873l27-8l27-9l27-11l27-10l-21-10l-27 10l-26 9l-27 7l-27 8zM3021 1009l27-13l26-13l27-13l27-12l27-10l27-12l26-12l27-13l-20-14l-27 12l-27 11l-27 11l-26 10l-27 12l-27 13l-27 13l-27 15zM2860 1086l27-5l27-8l-21-17l-27 8l-26 7zM4113 621l27-9l27-8l27-7l26-6l27-5l27-3l27-4l27-4l26-5l27-4l-20-15l-27 4l-27 5l-27 3l-26 2l-27 4l-27 4l-27 5l-27 9l-26 9l-27 8zM4006 662l27-12l27-11l26-10l-20-17l-27 10l-27 11l-26 13zM3363 887l27-11l26-11l-20-9l-27 9l-27 8zM3175 965l27-13l27-12l27-13l26-11l-20-18l-27 13l-27 13l-26 12l-27 12zM3095 999l27-12l-21-17l-27 13zM2907 1092l27-3l-20-16l-27 8zM4482 561l27-10l27-11l-21-15l-27 11l-26 10zM4026 676l27-11l27-10l27-9l27-7l26-8l27-8l27-7l27-7l27-5l26-4l27-4l27-5l27-5l27-5l26-6l-20-14l-27 5l-27 4l-26 5l-27 4l-27 4l-27 3l-27 5l-26 6l-27 7l-27 8l-27 9l-27 8l-26 10l-27 11l-27 12zM3544 840l27-8l-21-10l-26 8zM3383 901l27-11l27-13l-21-12l-26 11l-27 11zM3249 956l27-12l-20-17l-27 13zM2767 1163l27-14l26-14l27-14l-20-10l-27 11l-27 14l-27 14zM4502 575l27-10l27-10l-20-15l-27 11l-27 10zM4047 691l27-10l26-9l27-8l27-6l27-8l27-9l26-9l27-7l27-4l27-3l27-5l26-5l27-6l27-6l-20-15l-27 5l-27 5l-27 5l-27 4l-26 4l-27 5l-27 7l-27 7l-27 8l-26 8l-27 7l-27 9l-27 10l-27 11zM3564 850l27-8l27-8l-20-9l-27 7l-27 8zM3430 902l27-13l27-11l-20-12l-27 11l-27 13zM2787 1178l27-15l27-15l27-15l-21-12l-27 14l-26 14l-27 14zM4174 675l27-8l27-8l27-8l27-6l26-5l27-5l27-6l27-6l27-6l-21-15l-27 6l-26 5l-27 5l-27 3l-27 4l-27 7l-26 9l-27 9l-27 8zM4067 708l27-10l27-9l-21-17l-26 9l-27 10zM2808 1195l26-15l27-16l27-16l-20-15l-27 15l-27 15l-27 15zM2513 1344l27-16l26-15l-20-17l-27 15l-27 16zM4222 683l26-7l27-7l27-5l27-6l27-5l26-7l27-7l-20-16l-27 6l-27 6l-27 5l-26 5l-27 6l-27 8l-27 8zM3739 848l27-3l27-7l27-11l-21-11l-27 10l-26 7l-27 3zM3632 860l27-6l-21-11l-26 7zM2828 1212l27-15l27-16l26-15l27-13l-20-19l-27 14l-27 16l-27 16l-26 15zM2533 1362l27-15l27-15l27-14l-21-18l-27 13l-26 15l-27 16zM4376 671l27-6l27-8l26-9l-20-17l-27 8l-27 7l-26 7zM3733 861l27 0l26-4l27-8l27-11l27-12l-21-11l-26 12l-27 11l-27 7l-27 3l-27 0zM2875 1215l27-16l27-14l27-12l-21-20l-27 13l-26 15l-27 16zM3780 875l27-3l27-7l26-12l27-15l27-14l-20-11l-27 13l-27 12l-27 11l-27 8l-26 4zM2869 1250l27-16l26-15l27-14l27-12l-20-20l-27 12l-27 14l-27 16l-27 15zM3827 888l27-5l27-14l27-18l26-16l-20-11l-27 14l-27 15l-26 12l-27 7zM3640 920l26-11l27-8l27-7l-20-16l-27 7l-27 9l-27 11zM2916 1252l27-14l27-13l26-12l-20-20l-27 12l-27 14l-26 15zM3660 936l27-8l27-8l26-6l27-4l-20-20l-27 4l-27 7l-27 8l-26 11zM3734 938l27-5l27-4l26-2l27-2l-20-19l-27 1l-27 3l-27 4l-26 6zM2367 1575l27-10l27-12l-21-18l-26 11l-27 10zM4398 772l26-4l27-5l27-5l-20-20l-27 5l-27 4l-27 6zM3218 1194l27-14l27-15l27-13l27-14l26-14l-20-15l-27 14l-27 14l-26 15l-27 15l-27 14zM4418 790l27-3l27-3l26-5l27-5l27-6l27-9l27-10l-21-18l-27 8l-26 7l-27 5l-27 7l-27 5l-27 5l-26 4zM3292 1180l27-13l27-15l27-14l-21-14l-26 14l-27 14l-27 13zM4465 809l27-4l27-5l27-5l26-8l27-10l27-8l27-9l-21-20l-26 9l-27 10l-27 9l-27 6l-27 5l-26 5l-27 3zM4512 825l27-5l27-7l27-8l27-7l26-9l27-10l27-9l-20-20l-27 10l-27 9l-27 8l-27 10l-26 8l-27 5l-27 5zM4298 850l27-3l27-5l-21-19l-27 4l-26 4zM2677 1623l27-14l27-17l-21-22l-26 21l-27 14zM4085 1043l27-14l26-19l-20-19l-27 19l-27 14zM3978 1043l26 1l27 4l-20-15l-27-1l-27 0zM3174 1387l26-18l-20-17l-27 15zM2852 1596l27-8l27-11l-21-18l-27 9l-26 6zM2557 1709l27-10l-20-16l-27 9zM3998 1057l27 3l27 4l26 3l27-6l27-14l27-19l-21-18l-26 19l-27 14l-27 6l-27-1l-27-4l-26-1zM3676 1166l27-13l-20-16l-27 13zM3167 1424l27-18l27-20l27-19l-21-17l-27 19l-26 18l-27 17zM2899 1604l27-10l27-12l-21-19l-26 14l-27 11zM2551 1737l27-11l26-10l27-10l-20-16l-27 9l-27 10l-27 10zM4152 1061l27-16l-20-17l-27 19zM3750 1156l27-11l-20-17l-27 11zM3643 1206l27-11l-20-17l-27 13zM3536 1253l27-10l27-11l-21-19l-27 12l-26 11zM3188 1447l26-20l27-22l27-21l27-20l-21-14l-26 17l-27 19l-27 20l-27 18zM2598 1742l27-10l27-11l26-11l27-10l-20-15l-27 10l-27 11l-27 10l-26 10zM4173 1076l27-14l-21-17l-27 16zM3798 1163l26-10l27-10l27-9l-20-19l-27 9l-27 11l-27 10zM3556 1269l27-8l27-9l27-12l27-11l-21-23l-27 13l-26 13l-27 11l-27 10zM3235 1448l27-23l26-23l27-22l27-20l27-16l27-15l26-14l27-12l27-10l-20-14l-27 10l-27 14l-27 14l-27 14l-26 15l-27 18l-27 20l-27 21l-27 22zM2672 1735l27-10l27-9l26-10l27-13l27-14l-20-11l-27 12l-27 10l-27 10l-27 10l-26 11zM3845 1172l27-8l26-9l-20-21l-27 9l-27 10zM3309 1419l27-23l26-21l27-17l27-15l27-13l27-11l26-12l27-10l27-7l27-6l27-4l-21-19l-27 8l-26 7l-27 7l-27 10l-27 10l-27 12l-26 14l-27 15l-27 16l-27 20l-27 22zM2800 1706l26-14l27-13l27-12l-20-13l-27 11l-27 14l-27 14zM4937 873l27-10l-20-15l-27 11zM3865 1191l27-8l-20-19l-27 8zM3410 1370l26-13l27-11l27-11l27-13l27-10l26-8l-20-14l-27 7l-27 10l-26 12l-27 11l-27 13l-27 15zM2847 1705l27-13l26-12l-20-13l-27 12l-27 13zM4904 910l27-10l27-10l26-10l-20-17l-27 10l-27 10l-26 11zM4395 1073l27-6l26-6l-20-20l-27 7l-27 7zM3484 1361l26-11l27-11l27-10l-20-17l-27 10l-27 13l-27 11zM2948 1685l26-10l27-10l-20-13l-27 8l-27 9zM4951 918l27-10l27-10l-21-18l-26 10l-27 10zM4710 999l27-9l27-10l26-8l-20-15l-27 9l-27 10l-26 8zM4388 1097l27-6l27-5l27-6l27-9l26-13l-20-16l-27 12l-27 7l-26 6l-27 6l-27 5zM3772 1309l27-11l-21-23l-26 18zM3531 1366l27-10l26-11l-20-16l-27 10l-27 11zM2700 1814l27-10l27-10l-21-15l-27 9l-26 10zM4998 926l27-10l-20-18l-27 10zM4757 1003l27-9l27-9l-21-13l-26 8l-27 10zM4409 1113l27-5l26-6l27-7l27-10l27-12l27-11l26-11l27-9l-20-17l-27 8l-27 12l-27 13l-26 13l-27 9l-27 6l-27 5l-27 6zM3980 1237l27-10l-21-20l-26 9zM3578 1372l27-11l27-13l-21-18l-27 15l-26 11zM2747 1820l27-10l27-12l27-12l-21-16l-27 12l-26 12l-27 10zM4456 1123l27-6l27-8l26-10l27-10l27-11l27-11l27-9l26-8l-20-16l-27 8l-27 9l-26 11l-27 11l-27 12l-27 10l-27 7l-26 6zM4027 1246l27-11l-20-18l-27 10zM3598 1390l27-11l-20-18l-27 11zM2821 1814l27-10l27-11l-21-18l-26 11l-27 12zM4530 1122l27-9l27-11l26-11l27-10l27-8l-20-15l-27 9l-27 11l-27 11l-27 10l-26 10zM3619 1409l27-10l-21-20l-27 11zM3083 1731l27-10l26-12l27-13l27-13l-20-17l-27 13l-27 12l-27 11l-27 11zM2976 1780l26-12l27-12l-20-19l-27 11l-27 12zM4416 1169l27-7l-20-14l-27 5zM4095 1270l27-12l-21-16l-27 12zM3639 1428l27-10l-20-19l-27 10zM3130 1739l27-12l27-14l26-14l27-15l-20-16l-27 15l-27 13l-27 13l-26 12zM2996 1801l27-12l27-14l26-14l27-11l-20-19l-27 12l-27 13l-27 12l-26 12zM5080 991l27-10l-21-16l-26 10zM4410 1190l27-6l27-7l26-8l-20-13l-27 6l-27 7l-26 5zM4115 1285l27-11l-20-16l-27 12zM3686 1438l27-9l-20-20l-27 9zM3311 1671l27-17l27-20l-21-15l-26 19l-27 17zM3043 1809l27-14l27-12l27-13l-21-20l-27 11l-26 14l-27 14zM5100 1007l27-10l-20-16l-27 10zM4430 1207l27-7l27-8l27-8l27-8l26-9l27-8l27-10l27-11l-21-12l-26 10l-27 9l-27 9l-27 8l-27 7l-26 8l-27 7l-27 6zM4055 1345l27-19l27-15l27-12l-21-14l-27 11l-26 15l-27 20zM3707 1461l27-10l-21-22l-27 9zM3332 1687l26-17l27-21l27-22l-20-15l-27 22l-27 20l-27 17zM4504 1205l27-8l27-8l27-9l27-8l26-10l27-11l27-11l-20-13l-27 11l-27 11l-27 10l-27 8l-26 9l-27 8l-27 8zM3754 1472l27-10l-21-21l-26 10zM3379 1684l27-19l26-22l27-21l-20-18l-27 23l-27 22l-27 21zM4605 1194l27-8l27-11l27-12l26-11l-20-12l-27 11l-27 11l-26 10l-27 8zM3801 1482l27-9l-20-20l-27 9zM4652 1199l27-11l27-12l27-12l27-11l-21-13l-27 12l-26 11l-27 12l-27 11zM4170 1354l27-11l27-10l26-10l27-9l27-7l-20-16l-27 8l-27 9l-27 10l-27 10l-26 11zM3822 1503l26-10l-20-20l-27 9zM4700 1200l26-10l27-12l27-10l27-10l27-10l26-11l27-12l-20-13l-27 11l-27 10l-27 10l-26 10l-27 11l-27 12l-27 12zM4351 1316l27-9l-20-16l-27 9zM4164 1378l26-10l27-9l-20-16l-27 11l-27 11zM4003 1447l27-10l-21-22l-27 7zM3869 1513l27-10l-21-20l-27 10zM5015 1110l27-6l26-5l-20-20l-27 5l-27 7zM4720 1213l27-11l27-11l26-9l27-9l27-11l27-10l27-11l-21-16l-27 12l-26 11l-27 10l-27 10l-27 10l-27 12l-26 10zM4398 1321l27-8l-20-15l-27 9zM4104 1431l26-13l-20-16l-27 14zM4050 1457l27-13l-21-16l-26 9zM4848 1187l26-9l27-10l27-10l27-10l-21-16l-26 9l-27 11l-27 10l-27 11zM4714 1237l26-10l27-12l27-10l27-9l-21-14l-26 9l-27 11l-27 11l-27 10zM4070 1473l27-13l27-12l-20-17l-27 13l-27 13zM3963 1526l27-13l-20-17l-27 13zM4922 1183l26-9l-20-16l-27 10zM4761 1239l27-10l26-8l27-9l-20-16l-27 9l-27 10l-27 12zM4064 1503l27-12l-21-18l-26 13zM4781 1252l27-9l27-9l-21-13l-26 8l-27 10zM4460 1368l26-11l-20-16l-27 14zM4218 1476l27-12l27-11l-20-22l-27 7l-27 9zM4084 1519l27-13l-20-15l-27 12zM4105 1537l27-13l-21-18l-27 13zM3589 1803l27-13l27-10l-21-23l-26 11l-27 12zM3402 1908l26-15l27-15l27-15l27-15l27-15l-21-21l-27 16l-26 15l-27 15l-27 15l-27 16zM3931 1668l27-14l27-15l27-14l-21-19l-27 14l-26 15l-27 15zM3449 1913l27-13l26-13l27-15l27-15l27-16l27-14l26-13l27-10l27-9l-20-23l-27 8l-27 10l-27 13l-27 14l-26 16l-27 15l-27 15l-27 15l-27 15zM4434 1447l27-4l-21-24l-26 7zM4193 1586l27-18l-21-18l-27 16zM3844 1761l27-18l27-19l27-18l27-15l26-15l27-16l27-15l-20-20l-27 14l-27 15l-27 14l-27 16l-26 17l-27 19l-27 18zM3496 1921l27-12l27-13l26-14l27-15l27-13l27-13l27-12l26-10l27-10l-20-23l-27 9l-27 9l-27 10l-26 13l-27 14l-27 16l-27 15l-27 15l-26 13zM4535 1458l27-6l-21-22l-27 4zM4213 1609l27-19l-20-22l-27 18zM3811 1812l27-11l27-14l27-17l26-20l27-18l27-17l27-17l27-16l26-14l-20-23l-27 15l-27 16l-26 15l-27 15l-27 18l-27 19l-27 18l-26 16l-27 13zM3570 1917l27-13l27-11l26-13l27-13l27-13l27-13l27-10l26-9l-20-22l-27 9l-27 10l-26 10l-27 12l-27 13l-27 13l-27 15l-26 14zM4582 1473l27-8l-21-20l-26 7zM4234 1631l26-18l-20-23l-27 19zM4046 1708l27-15l-21-25l-26 14zM3966 1758l26-18l27-17l-20-25l-27 17l-27 17zM3617 1927l27-11l27-13l27-14l26-13l27-13l27-11l27-9l27-8l26-9l27-12l27-18l27-19l-21-27l-26 20l-27 17l-27 14l-27 11l-27 10l-26 9l-27 10l-27 13l-27 13l-27 13l-26 13l-27 11zM5138 1321l27-7l27-8l27-9l-21-19l-26 8l-27 7l-27 6zM4576 1503l26-8l27-8l-20-22l-27 8l-27 7zM4254 1655l27-18l-21-24l-26 18zM3718 1910l27-13l27-14l26-10l27-7l27-5l27-9l27-14l26-18l27-18l27-18l-20-26l-27 19l-27 19l-27 18l-27 12l-26 9l-27 8l-27 9l-27 11l-27 13l-26 13zM5132 1346l27-4l27-6l26-8l27-10l27-10l27-9l27-11l26-11l-20-18l-27 12l-27 9l-26 8l-27 9l-27 9l-27 8l-27 7l-26 3zM4998 1357l27-4l27-3l-21-22l-27 4l-26 5zM4489 1547l27-8l-21-19l-27 5zM4274 1682l27-19l27-20l-20-25l-27 19l-27 18zM3765 1916l27-12l27-9l27-5l26-5l27-9l27-14l27-17l-21-25l-26 18l-27 14l-27 9l-27 5l-27 7l-26 10l-27 14zM5179 1363l27-6l27-9l27-11l26-9l27-10l27-11l27-9l27-9l26-9l-20-19l-27 8l-27 8l-26 11l-27 11l-27 9l-27 10l-27 10l-26 8l-27 6zM5018 1379l27-3l27-3l27-3l-21-22l-26 2l-27 3l-27 4zM4456 1595l26-15l27-11l-20-22l-27 9l-27 13zM4295 1707l27-19l26-19l27-18l-20-27l-27 19l-27 20l-27 19zM3812 1925l27-7l27-6l27-6l27-8l26-13l-20-23l-27 14l-27 9l-26 5l-27 5l-27 9zM3625 2014l27-11l26-13l-20-22l-27 11l-27 11zM5200 1383l26-8l27-10l27-10l27-8l27-10l26-10l27-10l27-10l27-10l-21-17l-26 9l-27 9l-27 9l-27 11l-27 10l-26 9l-27 11l-27 9l-27 6zM5039 1403l27-3l26-3l27-3l27-1l-20-25l-27 2l-27 3l-27 3l-27 3zM4288 1751l27-17l27-19l27-18l27-18l26-18l27-20l27-18l27-17l-21-26l-26 15l-27 18l-27 19l-27 19l-27 18l-26 19l-27 19l-27 17zM3833 1948l27-7l26-6l27-6l27-10l27-14l-21-20l-26 13l-27 8l-27 6l-27 6l-27 7zM3672 2025l27-15l27-14l-21-22l-27 16l-26 13zM3190 2236l26-13l27-13l-20-15l-27 12l-27 12zM5354 1354l27-9l27-10l26-10l27-9l-20-19l-27 10l-27 10l-27 10l-26 10zM5193 1411l27-7l27-8l27-11l26-11l-20-19l-27 10l-27 10l-26 8l-27 7zM5059 1428l27-3l27-4l27-2l-21-25l-27 3l-26 3l-27 3zM4389 1724l27-17l27-17l27-18l26-17l27-16l-20-33l-27 17l-27 18l-27 20l-26 18l-27 18zM3960 1940l27-14l-20-21l-27 14zM3183 2263l27-11l27-12l27-13l26-13l-20-16l-27 12l-27 13l-26 13l-27 10zM5401 1363l27-10l27-10l-21-18l-26 10l-27 10zM5240 1425l27-10l27-13l27-11l-21-17l-26 11l-27 11l-27 8zM4624 1635l27-11l27-12l-21-22l-27 7l-26 9zM4490 1703l27-17l-21-31l-26 17zM4008 1945l26-15l27-16l-20-20l-27 16l-27 16zM3847 2007l27-9l26-9l-20-25l-27 7l-27 8zM3230 2269l27-12l27-13l27-13l-21-17l-26 13l-27 13l-27 12zM5261 1446l27-13l26-13l27-12l27-10l-20-18l-27 11l-27 11l-27 13l-27 10zM4644 1663l27-13l27-15l27-14l27-11l-21-19l-27 10l-26 11l-27 12l-27 11zM4108 1916l27-12l27-12l-20-19l-27 12l-27 14zM3867 2037l27-10l27-11l-21-27l-26 9l-27 9zM3546 2183l26-12l27-12l27-13l-20-28l-27 12l-27 13l-27 12zM3278 2272l26-13l-20-15l-27 13zM5308 1453l27-13l27-12l26-11l-20-19l-27 10l-27 12l-26 13zM4692 1673l26-16l27-14l27-13l27-13l27-11l26-9l27-9l-20-21l-27 9l-27 10l-27 12l-26 12l-27 11l-27 14l-27 15zM4209 1898l27-12l27-11l-21-20l-26 12l-27 13zM3593 2196l27-11l26-13l27-13l-20-27l-27 14l-27 13l-27 12zM3298 2289l27-13l-21-17l-26 13zM5462 1415l27-10l27-11l-20-18l-27 10l-27 11zM4712 1696l27-16l27-16l26-14l27-13l27-10l27-10l27-9l-21-20l-27 9l-26 9l-27 11l-27 13l-27 13l-27 14l-26 16zM3908 2084l27-14l27-16l26-19l-20-14l-27 15l-27 15l-26 11zM5483 1433l27-11l26-11l-20-17l-27 11l-27 10zM4813 1669l27-12l26-10l27-9l27-9l27-7l-21-21l-26 7l-27 9l-27 10l-27 10l-27 13zM3955 2087l27-17l27-19l27-20l-21-13l-27 17l-26 19l-27 16zM5503 1451l27-11l27-11l27-11l26-11l27-10l-20-18l-27 11l-27 10l-27 11l-26 11l-27 11zM4887 1665l27-8l26-7l27-8l27-8l-20-20l-27 8l-27 7l-27 9l-27 9zM4619 1800l27-8l26-8l-20-24l-27 9l-27 10zM5550 1459l27-12l27-12l27-10l27-11l-21-17l-27 10l-26 11l-27 11l-27 11zM4773 1762l27-18l27-19l27-17l-21-19l-27 15l-26 17l-27 18zM4184 2007l26-11l-20-19l-27 10zM4820 1767l27-21l27-19l-20-19l-27 17l-27 19zM4204 2028l27-12l27-13l26-12l-20-18l-27 11l-27 12l-26 11zM5457 1549l27-10l27-12l27-12l-21-17l-27 10l-26 12l-27 10zM4868 1771l26-21l27-16l-20-21l-27 14l-27 19zM4251 2035l27-14l27-13l27-13l26-12l-20-15l-27 11l-27 12l-26 12l-27 13zM5504 1556l27-12l27-13l-20-16l-27 12l-27 12zM4379 2000l27-8l26-10l-20-16l-27 9l-27 8zM3494 2379l27-10l-20-16l-27 10zM5552 1561l26-13l-20-17l-27 13zM5230 1682l27-12l-21-19l-26 12zM3515 2394l27-10l26-9l-20-17l-27 11l-27 10zM3669 2361l27-11l27-13l-21-11l-26 11l-27 10zM3535 2411l27-10l27-10l27-11l-21-14l-27 9l-26 9l-27 10zM3663 2386l27-9l26-12l27-14l27-13l27-14l-21-10l-26 11l-27 12l-27 13l-27 11l-27 9zM4353 2108l27-16l27-16l-21-14l-26 15l-27 16zM3710 2389l27-12l27-12l26-14l27-13l27-12l-20-13l-27 11l-27 14l-27 13l-27 14l-26 12zM5151 1805l27-10l-21-15l-27 12zM4963 1883l27-13l27-14l27-12l26-10l-20-14l-27 9l-27 10l-26 14l-27 15zM4374 2122l26-16l27-15l27-13l27-13l-21-14l-26 12l-27 13l-27 16l-27 16zM4079 2249l27-12l26-12l-20-10l-27 11l-27 12zM3757 2391l27-13l27-14l27-13l26-12l27-12l27-12l27-11l-21-14l-26 12l-27 13l-27 11l-27 12l-27 13l-26 14l-27 12zM5171 1821l27-11l-20-15l-27 10zM5010 1888l27-14l27-13l27-11l27-9l-21-15l-27 8l-26 10l-27 12l-27 14zM4689 2007l27-13l26-13l27-11l-20-14l-27 12l-27 13l-27 12zM4528 2067l27-11l27-11l-21-13l-27 10l-26 11zM4394 2135l27-16l27-14l26-14l27-13l-20-13l-27 13l-27 13l-27 15l-26 16zM4099 2259l27-12l27-11l27-9l-21-12l-27 10l-26 12l-27 12zM3912 2340l26-11l27-12l27-13l-20-12l-27 12l-27 11l-27 12zM3804 2391l27-14l27-13l-20-13l-27 13l-27 14zM5031 1903l27-13l26-13l27-11l27-9l27-9l27-10l26-12l-20-16l-27 11l-27 10l-26 10l-27 9l-27 11l-27 13l-27 14zM4736 2007l27-11l27-10l26-10l-20-16l-27 10l-27 11l-26 13zM4548 2080l27-10l27-11l27-9l-21-15l-26 10l-27 11l-27 11zM4414 2147l27-14l27-15l27-15l-21-12l-26 14l-27 14l-27 16zM4120 2269l26-12l27-10l-20-11l-27 11l-27 12zM3959 2343l27-13l-21-13l-27 12zM5373 1784l27-13l26-13l-20-15l-27 13l-27 13zM5212 1854l27-12l-21-16l-26 12zM5078 1905l27-13l27-11l-21-15l-27 11l-26 13zM4783 2010l27-9l-20-15l-27 10zM4435 2160l27-14l26-15l27-14l27-11l27-10l27-11l26-10l27-11l-20-14l-27 9l-27 11l-27 10l-26 11l-27 12l-27 15l-27 15l-27 14zM4301 2221l27-11l26-12l-20-13l-27 12l-27 12zM4348 2224l27-11l27-12l26-13l27-14l27-15l27-15l27-12l26-10l27-11l27-10l27-11l27-12l-21-14l-27 11l-26 10l-27 11l-27 10l-27 11l-27 14l-26 15l-27 14l-27 13l-27 13l-27 12l-26 12zM3839 2443l27-13l26-13l-20-14l-27 13l-27 12zM5896 1584l27-11l-21-11l-26 11zM5253 1882l27-12l-21-13l-27 11zM4422 2217l27-13l27-14l26-16l27-14l27-12l27-12l27-11l26-9l27-11l27-13l27-11l-21-15l-26 12l-27 12l-27 11l-27 10l-27 11l-26 10l-27 12l-27 15l-27 15l-27 14l-26 13zM3886 2443l27-11l27-12l-21-16l-27 13l-26 13zM5890 1607l26-11l27-10l-20-13l-27 11l-27 10zM5300 1884l27-11l27-11l26-11l27-12l27-12l27-12l27-12l-21-15l-27 11l-26 13l-27 12l-27 12l-27 11l-27 12l-26 11zM4496 2203l27-14l27-12l26-12l27-13l27-11l27-10l27-12l26-11l27-11l27-12l27-12l-21-14l-26 12l-27 10l-27 11l-27 13l-27 11l-26 9l-27 11l-27 12l-27 12l-27 14l-26 16zM3906 2458l27-11l27-13l-20-14l-27 12l-27 11zM5347 1887l27-10l27-11l27-12l26-13l27-12l27-13l27-11l-21-15l-26 13l-27 12l-27 12l-27 12l-27 12l-26 11l-27 11zM4704 2133l27-11l27-10l26-12l27-10l27-12l27-13l-21-14l-26 11l-27 11l-27 12l-27 12l-27 11l-26 11zM4543 2204l27-12l27-13l27-11l26-11l27-12l-20-14l-27 10l-27 11l-27 13l-26 12l-27 12zM3927 2473l27-12l26-13l27-12l-20-14l-27 12l-27 13l-27 11zM5394 1891l27-11l27-12l27-13l27-13l26-12l27-11l27-10l-20-13l-27 9l-27 11l-27 13l-27 12l-26 13l-27 12l-27 11zM3974 2474l27-10l27-12l26-13l-20-14l-27 11l-27 12l-26 13zM3626 2612l26-11l-20-15l-27 10zM5442 1890l26-12l27-12l27-12l27-11l27-11l26-13l-20-10l-27 10l-27 11l-26 12l-27 13l-27 13l-27 12zM3994 2489l27-11l27-13l27-13l27-11l26-12l-20-14l-27 11l-27 13l-26 13l-27 12l-27 10zM3860 2543l27-11l27-11l27-10l-21-15l-26 10l-27 11l-27 11zM5542 1862l27-10l27-11l27-13l27-11l-21-9l-27 11l-26 13l-27 11l-27 11zM3908 2546l26-11l27-10l27-11l27-10l27-12l26-13l27-12l27-11l27-13l27-12l26-13l-20-13l-27 12l-27 12l-26 12l-27 11l-27 13l-27 13l-27 11l-26 10l-27 12l-27 10l-27 11zM4008 2527l27-10l27-11l27-12l27-13l26-13l27-12l27-11l27-12l27-14l26-13l-20-14l-27 13l-27 13l-26 13l-27 12l-27 13l-27 11l-27 12l-26 13l-27 12l-27 10zM4860 2178l26-14l-20-12l-27 13zM4190 2469l26-11l27-13l27-13l27-12l27-14l-21-12l-27 12l-26 13l-27 14l-27 12l-27 11zM4056 2530l26-11l27-13l27-13l27-13l-21-12l-26 13l-27 13l-27 12l-27 11zM5470 1936l26-13l27-12l27-12l-20-5l-27 12l-27 12l-27 12zM4237 2470l27-13l26-13l27-13l27-13l-20-12l-27 14l-27 12l-27 13l-27 13zM4103 2531l27-13l26-13l-20-12l-27 13l-27 13zM5517 1929l27-11l26-12l27-11l27-10l-20-7l-27 10l-27 11l-27 12l-27 12zM4418 2405l27-14l27-13l-21-11l-27 14l-26 13zM5564 1922l27-11l27-9l26-11l27-12l27-12l-20-8l-27 13l-27 13l-27 10l-27 11l-26 12zM4760 2275l27-12l-21-11l-26 12zM4465 2402l27-13l-20-11l-27 13zM5879 1828l27-10l-20-13l-27 9zM4834 2260l27-20l-21-13l-26 20zM4780 2288l27-12l-20-13l-27 12zM5900 1841l26-10l-20-13l-27 10zM4988 2188l27-11l-20-13l-27 11zM4801 2301l27-12l-21-13l-27 12zM4211 2566l27-13l-20-13l-27 13z"/>
<path fill="#000" fill-opacity="0.11" stroke="none" d="M4480 925l27-3l27-3l27-4l-21-15l-26 4l-27 2l-27 3zM4528 937l26-5l27-4l27-5l-20-13l-27 5l-27 4l-27 3zM4575 946l27-4l26-5l-20-14l-27 5l-27 4zM3597 1299l27-1l-20-18l-27 4zM3591 1318l27-12l-21-7l-27 5zM4116 1377l27-12l-20-15l-27 12zM3749 1621l27-12l-21-18l-27 11zM3984 1541l26-12l-20-16l-27 13zM3769 1640l27-13l27-14l27-14l-21-15l-27 13l-26 12l-27 12zM4192 1483l26-7l-20-29l-27 10zM4111 1506l27-15l-20-13l-27 13zM4058 1529l26-10l-20-16l-27 12zM3816 1644l27-15l27-15l-20-15l-27 14l-27 14zM4527 1391l27-10l-20-17l-27 11zM3964 1620l27-14l-20-17l-27 14zM4146 1578l26-12l-20-20l-27 12zM4038 1611l27-13l-20-20l-27 13zM4059 1632l27-11l-21-23l-27 13zM4207 1647l27-16l-21-22l-27 15zM4309 1776l27-15l-21-27l-27 17zM4457 1763l27-16l-21-27l-27 16zM4477 1784l27-14l-20-23l-27 16zM4290 1864l26-11l-20-19l-27 10zM4364 1860l26-11l27-10l27-10l27-12l27-13l-21-20l-27 13l-26 10l-27 11l-27 12l-27 12zM5392 1707l27-9l27-9l-21-12l-27 9l-26 9zM5466 1702l27-10l27-10l26-10l27-9l-20-13l-27 10l-27 10l-27 9l-26 10zM5540 1694l27-9l27-8l-21-14l-27 9l-26 10z"/>
<path fill="#fff" fill-opacity="0.14" stroke="none" d="M3670 1195l27-12l27-14l26-13l-20-17l-27 14l-27 13l-26 12zM3664 1229l26-11l27-15l27-16l27-14l27-10l-21-18l-27 11l-26 13l-27 14l-27 12l-27 11zM3684 1256l27-13l27-17l26-18l27-15l27-12l27-9l-21-19l-26 10l-27 10l-27 14l-27 16l-27 15l-26 11zM3704 1280l27-10l27-18l27-21l27-17l26-14l27-9l-20-19l-27 9l-27 12l-27 15l-26 18l-27 17l-27 13zM3752 1293l26-18l27-19l27-19l27-14l27-10l26-10l-20-20l-27 8l-27 9l-26 14l-27 17l-27 21l-27 18zM3799 1298l27-16l26-18l27-16l27-12l27-11l27-9l-21-23l-27 10l-26 10l-27 10l-27 14l-27 19l-27 19zM3819 1318l27-11l27-16l27-17l26-15l27-12l27-10l-20-21l-27 9l-27 11l-27 12l-27 16l-26 18l-27 16zM3866 1328l27-12l27-16l27-17l27-14l26-12l27-11l-20-19l-27 10l-27 10l-27 12l-26 15l-27 17l-27 16zM3625 1379l27-12l27-15l27-14l-21-17l-27 13l-26 14l-27 13zM3914 1337l26-13l27-17l27-16l27-14l27-12l26-11l-20-19l-27 11l-27 11l-26 12l-27 14l-27 17l-27 16zM3646 1399l26-11l27-14l27-14l27-12l-21-19l-26 9l-27 14l-27 15l-27 12zM3934 1356l27-11l27-17l26-17l27-15l27-14l27-12l-21-16l-26 11l-27 12l-27 14l-27 16l-27 17l-26 13zM3666 1418l27-9l27-11l26-13l27-15l-20-22l-27 12l-27 14l-27 14l-26 11zM3981 1364l27-14l27-19l27-20l26-15l27-11l-20-15l-27 12l-27 14l-27 15l-26 17l-27 17zM3713 1429l27-10l27-11l27-15l26-16l-20-22l-27 15l-27 15l-26 13l-27 11zM3734 1451l26-10l27-11l27-13l27-16l27-16l-21-19l-27 11l-26 16l-27 15l-27 11l-27 10zM3781 1462l27-9l26-12l27-16l27-18l-20-22l-27 16l-27 16l-27 13l-27 11zM3828 1473l27-11l27-13l26-17l27-18l-20-21l-27 14l-27 18l-27 16l-26 12zM3848 1493l27-10l27-12l27-16l27-19l26-14l-20-21l-27 13l-27 18l-26 17l-27 13l-27 11zM4217 1359l27-10l27-10l27-7l26-7l27-9l-20-16l-27 7l-27 7l-27 9l-26 10l-27 10zM3896 1503l26-12l27-15l27-16l27-13l-21-25l-26 14l-27 19l-27 16l-27 12zM4130 1418l27-13l27-12l27-9l27-9l26-9l27-7l27-5l27-9l27-11l26-13l-20-14l-27 9l-27 9l-26 7l-27 7l-27 10l-27 10l-27 9l-26 10l-27 12l-27 12zM3916 1521l27-12l27-13l26-14l27-14l27-11l-20-20l-27 10l-27 13l-27 16l-27 15l-26 12zM4124 1448l27-12l27-13l26-10l27-8l27-8l27-6l27-5l26-4l27-9l27-16l27-19l27-11l-21-14l-27 8l-26 13l-27 11l-27 9l-27 5l-27 7l-26 9l-27 9l-27 9l-27 12l-27 13l-26 13zM3990 1513l27-13l27-14l26-13l-20-16l-27 11l-27 14l-26 14zM4171 1457l27-10l27-9l27-7l26-7l27-6l27-7l27-7l27-9l26-19l27-21l27-14l-20-14l-27 11l-27 19l-27 16l-27 9l-26 4l-27 5l-27 6l-27 8l-27 8l-26 10l-27 13zM4152 1546l27-16l-21-21l-26 15zM4172 1566l27-16l-20-20l-27 16zM4461 1443l27-5l-21-25l-27 6zM4220 1568l26-18l-20-18l-27 18zM4240 1590l27-19l27-23l26-24l27-19l27-11l27-10l27-7l26-5l27-4l27-5l27-5l-21-24l-26 4l-27 5l-27 4l-27 5l-27 8l-26 10l-27 14l-27 20l-27 24l-27 22l-26 18zM4260 1613l27-19l27-21l27-22l27-17l26-14l27-11l27-7l27-5l27-5l26-5l27-7l27-7l-20-21l-27 6l-27 5l-27 5l-27 4l-26 5l-27 7l-27 10l-27 11l-27 19l-26 24l-27 23l-27 19zM4019 1723l27-15l-20-26l-27 16zM3939 1777l27-19l-21-26l-27 18zM4281 1637l27-19l26-19l27-20l27-19l27-16l27-12l26-7l27-5l27-5l27-6l27-6l-21-23l-27 7l-26 5l-27 5l-27 5l-27 7l-27 11l-26 14l-27 17l-27 22l-27 21l-27 19zM3986 1784l27-18l27-15l26-16l27-17l-20-25l-27 15l-27 15l-27 17l-26 18zM4328 1643l27-19l27-20l26-18l27-17l27-13l27-9l-21-22l-26 7l-27 12l-27 16l-27 19l-27 20l-26 19zM3953 1845l27-19l26-18l27-16l27-15l27-17l27-17l-21-25l-27 17l-26 16l-27 15l-27 18l-27 18l-27 18zM4375 1651l27-19l27-19l27-18l-21-26l-27 17l-26 18l-27 20zM3946 1885l27-17l27-18l27-18l27-16l26-15l27-16l27-15l-20-27l-27 17l-27 17l-27 15l-27 16l-26 18l-27 19l-27 17zM3967 1905l27-17l26-17l27-15l27-14l27-15l27-17l26-15l-20-25l-27 15l-27 16l-26 15l-27 16l-27 18l-27 18l-27 17zM3987 1926l27-16l27-16l27-15l26-14l27-15l27-15l27-15l27-13l-21-26l-27 14l-26 15l-27 17l-27 15l-27 14l-27 15l-26 17l-27 17zM4061 1914l27-15l27-14l27-12l26-13l27-14l27-13l-20-26l-27 13l-27 15l-27 15l-27 15l-26 14l-27 15zM4162 1892l27-12l27-13l26-12l-20-22l-27 13l-27 14l-26 13zM4807 2276l27-16l-20-13l-27 16zM4828 2289l26-16l27-19l27-18l27-16l27-18l26-14l-20-13l-27 14l-27 18l-26 16l-27 17l-27 20l-27 16z"/>
<path fill="#000" fill-opacity="0.17" stroke="none" d="M3678 1288l26-8l-20-24l-27 10zM3611 1330l27-12l-20-12l-27 12zM3850 1599l26-14l27-11l-20-15l-27 11l-27 14zM4433 1383l27-15l-21-13l-27 21zM4299 1443l27-10l-21-15l-27 6zM3870 1614l27-13l-21-16l-26 14zM4480 1380l27-5l-21-18l-26 11zM3917 1618l27-15l-20-15l-27 13zM3991 1606l27-15l-20-15l-27 13zM4548 1407l26-8l-20-18l-27 10zM4568 1425l27-8l-21-18l-26 8zM4514 1434l27-4l-20-21l-27 0zM4380 1460l27-8l-20-18l-27 11zM4166 1600l27-14l-21-20l-26 12zM4186 1624l27-15l-20-23l-27 14zM4079 1654l27-11l-20-22l-27 11zM4241 1737l27-13l-20-26l-27 12zM4262 1766l26-15l-20-27l-27 13zM4383 1765l27-15l-21-26l-27 18zM4222 1833l27-9l-21-24l-26 7zM4430 1775l27-12l-21-27l-26 14zM5282 2009l27-13l-21-10l-26 13zM4800 2219l26-10l-20-10l-27 10zM5376 2005l27-12l-20-9l-27 11zM4814 2247l26-20l-20-1l-27 13zM4888 2223l26-16l-20-13l-27 16z"/>
<path fill="#000" fill-opacity="0.28" stroke="none" d="M3651 1297l27-9l-21-22l-27 7zM3658 1334l27-13l-20-9l-27 6zM3820 1377l27-11l-20-17l-27 6zM4096 1362l27-12l-21-13l-26 17zM4056 1428l27-12l-20-14l-27 9zM4326 1433l26-11l-20-11l-27 7zM3897 1601l27-13l-21-14l-27 11zM3944 1603l27-14l-21-14l-26 13zM4179 1530l27-13l-21-14l-27 6zM4221 1710l27-12l-21-26l-27 11zM4140 1729l27-9l-20-27l-27 10zM4202 1807l26-7l-20-26l-27 7zM4356 1780l27-15l-21-23l-26 19zM4403 1786l27-11l-20-25l-27 15zM4397 1818l27-11l26-10l-20-22l-27 11l-27 13zM4316 1853l27-11l-20-18l-27 10zM5175 2071l27-14l26-16l27-17l27-15l-20-10l-27 15l-27 16l-27 15l-27 14zM4880 2188l27-12l27-11l26-12l27-11l27-11l27-11l27-12l-21-8l-27 11l-26 9l-27 10l-27 10l-27 11l-27 13l-26 14zM5329 2002l27-7l-20-10l-27 11z"/>
<path fill="#000" fill-opacity="0.22" stroke="none" d="M3624 1298l27-1l-21-24l-26 7zM3840 1334l26-6l-20-21l-27 11zM3954 1371l27-7l-20-19l-27 11zM4002 1380l26-14l-20-16l-27 14zM4076 1354l26-17l-20-11l-27 19zM3935 1414l27-13l-20-14l-27 6zM4083 1416l27-14l-20-14l-27 14zM4030 1437l26-9l-20-17l-27 4zM3903 1574l27-11l27-11l27-11l-21-15l-27 12l-26 11l-27 10zM4078 1544l27-7l-21-18l-26 10zM4541 1430l27-5l-20-18l-27 2zM4354 1470l26-10l-20-15l-27 13zM4100 1678l26-11l-20-24l-27 11zM4120 1703l27-10l-21-26l-26 11zM4450 1797l27-13l-20-21l-27 12zM4826 2209l27-10l27-11l-20-10l-27 11l-27 10zM4793 2239l27-13l-20-7l-27 11zM5397 2019l27-13l-21-13l-27 12zM4914 2207l27-18l-20-13l-27 18zM5417 2032l27-12l-20-14l-27 13zM5310 2055l27-17l-21-13l-26 17z"/>
<path fill="#000" fill-opacity="0.39" stroke="none" d="M3618 1306l26 0l27 1l27-3l27-1l-21-23l-26 8l-27 9l-27 1l-27 1zM3638 1318l27-6l27-1l26 2l27 1l27-5l-20-16l-27 10l-27 1l-27 3l-27-1l-26 0zM3685 1321l27-4l27 2l27 3l26 0l27-4l-20-20l-27 11l-27 5l-27-1l-26-2l-27 1zM3706 1338l26-9l27-1l27 2l27 3l27 1l-21-16l-27 4l-26 0l-27-3l-27-2l-27 4zM3753 1348l27-9l26-1l27 4l27 3l27-1l-21-16l-26 6l-27-1l-27-3l-27-2l-27 1zM3800 1355l27-6l27 2l26 4l27 3l27-2l-20-19l-27 7l-27 1l-27-3l-27-4l-26 1zM3847 1366l27-4l27 3l27 5l26 1l-20-15l-27 2l-27-3l-26-4l-27-2zM3868 1385l26-10l27-1l27 5l27 3l27-2l-21-16l-27 7l-26-1l-27-5l-27-3l-27 4zM3915 1393l27-6l26 2l27 2l27-5l27-14l27-18l-21-9l-27 21l-26 14l-27 2l-27-3l-27-5l-27 1zM3962 1401l27-2l27-1l26-5l27-13l27-18l-20-8l-27 18l-27 14l-27 5l-27-2l-26-2zM4009 1415l27-4l27-9l27-14l-21-8l-27 13l-26 5l-27 1zM4352 1422l27-11l27-10l-20-6l-27 9l-27 7zM3950 1575l27-12l27-11l27-12l-21-11l-26 12l-27 11l-27 11zM4266 1474l26-15l27-14l27-13l27-13l27-11l26-10l27-11l27-7l-20-12l-27 15l-27 18l-27 10l-27 11l-26 11l-27 10l-27 10l-27 11zM4158 1509l27-6l27-4l27-8l-21-15l-26 7l-27 3l-27 5zM3971 1589l27-13l26-13l27-11l27-8l-20-15l-27 11l-27 12l-27 11l-27 12zM4206 1517l26-12l27-13l27-18l27-17l27-15l26-13l27-12l27-9l27-8l27-6l26-1l27-2l-20-16l-27 5l-27 7l-27 11l-26 10l-27 11l-27 13l-27 13l-27 14l-26 15l-27 17l-27 8l-27 4zM4045 1578l27-11l26-4l27-5l-20-21l-27 7l-27 8l-27 11zM4226 1532l27-19l27-19l26-19l27-17l27-13l27-11l27-8l26-7l27-6l27-4l27 0l27-2l-21-16l-27 2l-26 1l-27 6l-27 8l-27 9l-27 12l-26 13l-27 15l-27 17l-27 18l-27 13l-26 12zM4092 1589l27-4l27-7l-21-20l-27 5l-26 4zM4300 1504l27-20l-21-9l-26 19zM4112 1613l27-5l27-8l-20-22l-27 7l-27 4zM4106 1643l27-6l27-4l26-9l-20-24l-27 8l-27 5l-26 8zM4126 1667l27-6l27-4l27-10l-21-23l-26 9l-27 4l-27 6zM4147 1693l27-5l26-5l-20-26l-27 4l-27 6zM4167 1720l27-5l27-5l-21-27l-26 5l-27 5zM4188 1747l26-4l27-6l-20-27l-27 5l-27 5zM4208 1774l27-1l27-7l-21-29l-27 6l-26 4zM4228 1800l27-3l27-8l-20-23l-27 7l-27 1zM4249 1824l27-8l26-10l27-12l27-14l-20-19l-27 15l-27 13l-27 8l-27 3zM4296 1834l27-10l27-11l26-14l27-13l-20-21l-27 15l-27 14l-27 12l-26 10zM4820 2226l27-13l27-12l26-13l27-12l27-12l27-11l27-11l26-10l27-12l27-12l27-9l27-8l26-8l27-10l27-14l27-18l27-18l26-12l27-9l-20-6l-27 13l-27 15l-27 17l-26 16l-27 14l-27 11l-27 9l-27 8l-26 9l-27 12l-27 11l-27 11l-27 11l-26 12l-27 11l-27 12l-27 11l-27 10l-26 10zM4840 2227l27-17l27-16l27-18l27-15l26-11l27-10l27-11l27-11l27-12l26-11l27-9l27-9l27-7l27-9l26-15l27-17l27-17l27-5l27 0l26-2l-20-10l-27 7l-27 9l-26 12l-27 18l-27 18l-27 14l-27 10l-26 8l-27 8l-27 9l-27 12l-27 12l-26 10l-27 11l-27 11l-27 12l-27 12l-26 13l-27 12l-27 13zM4968 2175l27-11l27-11l26-10l27-11l27-13l27-11l27-9l26-9l27-7l27-9l27-14l27-18l26-17l27-5l27 0l27-1l-21-14l-26 2l-27 0l-27 5l-27 17l-27 17l-26 15l-27 9l-27 7l-27 9l-27 9l-26 11l-27 12l-27 11l-27 11l-27 10l-26 11zM5337 2038l27-5l26 0l27-1l-20-13l-27 1l-27 0l-27 5z"/>
<path fill="#000" fill-opacity="0.33" stroke="none" d="M4090 1388l26-11l-20-15l-27 18zM3982 1422l27-7l-20-16l-27 2zM4406 1401l27-18l-21-7l-26 19zM4138 1491l27-5l27-3l-21-26l-27 9l-26 12zM4031 1540l27-11l-21-14l-27 14zM3924 1588l26-13l-20-12l-27 11zM4239 1491l27-17l-21-10l-27 12zM4018 1591l27-13l-21-15l-26 13zM4065 1598l27-9l-20-22l-27 11zM4327 1484l27-14l-21-12l-27 17zM4273 1528l27-24l-20-10l-27 19zM4086 1621l26-8l-20-24l-27 9zM4200 1683l27-11l-20-25l-27 10zM4161 1756l27-9l-21-27l-27 9zM4181 1781l27-7l-20-27l-27 9zM4282 1789l27-13l-21-25l-26 15zM4269 1844l27-10l-20-18l-27 8zM4343 1842l27-12l27-12l-21-19l-26 14l-27 11zM5068 2108l26-9l27-8l27-9l27-11l-21-12l-26 11l-27 9l-27 10l-27 11zM4941 2189l27-14l-20-14l-27 15z"/>
</g></g></g>
<path d="M284.9 99L287 100.8L289.2 102.8L291.4 104.8L293.6 106.7L295.7 108.7L297.9 109.4L300.1 109.6L302.2 111.1L304.4 113.2L306.6 115.4L308.7 117.6L310.9 119.1L313.1 120.5L315.2 121.7L317.4 122.7L319.6 124.1L321.8 125.5L323.9 127L326.1 128.5L328.3 129.9L330.4 131.2L332.6 132.6L334.8 133.9L336.9 135.5L339.1 136.9L341.3 138.1L343.4 139.8L345.6 141.6L347.8 143.5L349.9 145.6L352.1 147.6L354.3 149.7L356.5 151.8L358.6 153.8L360.8 156.2L363 158.6L365.1 160.9L367.3 163.3L369.5 165.6L371.6 167.9L373.8 170.2L376 172.6L378.1 175.1L380.3 177.5L382.5 179.9L384.7 182.5L386.8 185.2L389 187.8L391.2 190.1L393.3 192.4L395.5 194.6L397.7 196.6L399.8 198.6L402 199.9L404.2 200.9L406.3 202.3L408.5 204.4L410.7 206.9L412.8 209.1L415 210.8L417.2 212.4L419.4 214.1L421.5 215.5L423.7 216.8L425.9 218.1L428 219.1L430.2 220.1L432.4 221.5L434.5 223.1L436.7 224.7L438.9 226.3L441 227.8L443.2 229.2L445.4 230.4L447.6 231.3L449.7 232.4L451.9 233.3L454.1 234.2L456.2 235.3M361.6 69.7L363.8 71.3L365.9 73.2L368.1 75.4L370.3 77.2L372.4 79.1L374.6 80.6L376.8 81.5L379 82.7L381.1 83.9L383.3 85.3L385.5 87.2L387.6 89L389.8 90.5L392 92.2L394.1 94.1L396.3 96.1L398.5 98.1L400.6 99.9L402.8 101.5L405 103.1L407.1 105.1L409.3 107L411.5 108.3L413.7 109.4L415.8 110.5L418 111.9L420.2 113.4L422.3 114.8L424.5 116.5L426.7 118L428.8 119.5L431 121.2L433.2 122.9L435.3 124.7L437.5 126.5L439.7 128.1L441.9 129.8L444 131.4L446.2 132.8L448.4 134.5L450.5 136.2L452.7 138L454.9 139.8L457 141.6L459.2 143.7L461.4 145.8L463.5 148.1L465.7 150.6L467.9 153L470.1 155.2L472.2 157.1L474.4 159L476.6 161.1L478.7 163.2L480.9 165.3L483.1 167.4L485.2 169.4L487.4 171.3L489.6 173.6L491.7 176.2L493.9 178.4L496.1 180.3L498.2 182L500.4 183.4L502.6 185.2L504.8 187L506.9 188.7L509.1 190.3L511.3 191.6L513.4 192.8L515.6 194.1L517.8 195.2L519.9 196.2L522.1 197.3L524.3 198.1L526.4 199.1L528.6 200.1L530.8 200.6L533 200.4M267.4 179.1L270.2 178L273.1 177.1L275.9 176L278.8 174.8L281.6 173.5L284.5 172L287.3 170.5L290.2 169.2L293 168.1L295.9 167.1L298.7 166.1L301.6 165.1L304.4 164.1L307.3 162.9L310.1 161.1L313 159.3L315.8 158L318.7 156.7L321.5 155.1L324.4 153.3L327.2 151.2L330.1 148.6L332.9 145.8L335.8 142.9L338.6 140.3L341.5 138.2L344.3 136.7L347.2 135.6L350 134.5L352.9 133.2L355.7 132.1L358.6 131.1L361.4 130.1L364.3 130.2L367.1 130.2L370 129.6L372.8 129.2L375.7 127.7L378.5 125.6L381.4 123.5L384.2 121.8L387.1 120.7L389.9 119.7L392.8 118.6L395.6 117.8L398.4 117L401.3 116.3L404.1 115.8L407 115.2L409.8 114.4L412.7 113.5L415.5 112.7L418.4 111.9L421.2 111.2L424.1 110.4L426.9 109.6L429.8 108.8L432.6 107.9L435.5 107.2L438.3 106.6L441.2 106L444 105.3L446.9 104.5L449.7 103.4L452.6 102.1L455.4 100.9L458.3 99.9L461.1 99.2L464 98.7L466.8 98L469.7 97.3L472.5 96.3L475.4 95.3L478.2 94.4L481.1 93.5L483.9 92.5L486.8 91.4L489.6 90.3L492.5 89.2M325.9 228.9L328.8 227.6L331.6 226.1L334.5 224.7L337.3 223.6L340.2 222.6L343 221.5L345.9 220.6L348.7 220L351.6 219.8L354.4 219.4L357.3 218.3L360.1 217L363 215.7L365.8 214.3L368.7 212.8L371.5 211.5L374.4 210.2L377.2 208.9L380.1 207.3L382.9 205.9L385.8 204.9L388.6 204.3L391.5 202.9L394.3 201.5L397.2 200.1L400 198.7L402.9 197L405.7 195.1L408.6 193.4L411.4 192.1L414.3 190.8L417.1 189.6L420 188.4L422.8 187L425.7 185.8L428.5 184.6L431.4 183.5L434.2 182.3L437.1 181.1L439.9 179.7L442.8 178.6L445.6 177.4L448.5 175.9L451.3 174.1L454.2 172.3L457 170.8L459.9 169.6L462.7 168.3L465.6 166.9L468.4 165.4L471.3 163.8L474.1 162.4L477 161.1L479.8 159.8L482.7 158.6L485.5 157.7L488.4 156.8L491.2 156L494.1 155.2L496.9 154.1L499.8 153.1L502.6 152L505.5 150.5L508.3 149.2L511.2 148.5L514 148.1L516.9 147.8L519.7 147.2L522.6 146.5L525.4 145.7L528.3 144.5L531.1 143.1L534 141.8L536.8 140.6L539.7 139.6L542.5 138.6L545.4 137.5L548.2 136.4L551.1 135.3" stroke="#000" stroke-width="0.9" fill="none" stroke-linejoin="round"/>
<g fill="#000">
<circle cx="400" cy="198.9" r="1.1"/><circle cx="403.3" cy="196.8" r="1.1"/><circle cx="406.6" cy="194.7" r="1.1"/><circle cx="410" cy="192.9" r="1.1"/><circle cx="413.3" cy="191.4" r="1.1"/><circle cx="416.6" cy="189.9" r="1.1"/><circle cx="420" cy="188.5" r="1.1"/><circle cx="423.3" cy="186.9" r="1.1"/><circle cx="426.7" cy="185.5" r="1.1"/><circle cx="430" cy="184.2" r="1.1"/><circle cx="433.3" cy="182.8" r="1.1"/><circle cx="436.7" cy="181.4" r="1.1"/><circle cx="440" cy="179.8" r="1.1"/><circle cx="443.3" cy="178.5" r="1.1"/><circle cx="446.7" cy="177" r="1.1"/><circle cx="450" cy="175" r="1.1"/><circle cx="453.3" cy="173" r="1.1"/><circle cx="456.7" cy="171.1" r="1.1"/><circle cx="460" cy="169.6" r="1.1"/><circle cx="463.3" cy="168.2" r="1.1"/><circle cx="466.7" cy="166.5" r="1.1"/><circle cx="470" cy="164.6" r="1.1"/><circle cx="473.4" cy="162.8" r="1.1"/><circle cx="476.7" cy="161.3" r="1.1"/><circle cx="397.4" cy="196.5" r="1.1"/><circle cx="400.8" cy="194.8" r="1.1"/><circle cx="404.1" cy="192.9" r="1.1"/><circle cx="407.4" cy="190.9" r="1.1"/><circle cx="410.8" cy="189.2" r="1.1"/><circle cx="414.1" cy="187.6" r="1.1"/><circle cx="417.4" cy="186.1" r="1.1"/><circle cx="420.8" cy="184.4" r="1.1"/><circle cx="424.1" cy="183" r="1.1"/><circle cx="427.4" cy="181.9" r="1.1"/><circle cx="430.8" cy="180.6" r="1.1"/><circle cx="434.1" cy="179.2" r="1.1"/><circle cx="437.4" cy="177.3" r="1.1"/><circle cx="440.8" cy="175.5" r="1.1"/><circle cx="444.1" cy="173.9" r="1.1"/><circle cx="447.5" cy="171.8" r="1.1"/><circle cx="450.8" cy="169.6" r="1.1"/><circle cx="454.1" cy="167.6" r="1.1"/><circle cx="457.5" cy="166" r="1.1"/><circle cx="460.8" cy="164.6" r="1.1"/><circle cx="464.1" cy="163.2" r="1.1"/><circle cx="467.5" cy="161.8" r="1.1"/><circle cx="470.8" cy="160.2" r="1.1"/><circle cx="474.1" cy="158.9" r="1.1"/><circle cx="394.9" cy="194.1" r="1.1"/><circle cx="398.2" cy="192.4" r="1.1"/><circle cx="401.5" cy="190.5" r="1.1"/><circle cx="404.9" cy="188.5" r="1.1"/><circle cx="408.2" cy="186.7" r="1.1"/><circle cx="411.6" cy="184.9" r="1.1"/><circle cx="414.9" cy="183" r="1.1"/><circle cx="418.2" cy="181.1" r="1.1"/><circle cx="421.6" cy="179.8" r="1.1"/><circle cx="424.9" cy="179.4" r="1.1"/><circle cx="428.2" cy="178.5" r="1.1"/><circle cx="431.6" cy="176.8" r="1.1"/><circle cx="434.9" cy="174.7" r="1.1"/><circle cx="438.2" cy="172.4" r="1.1"/><circle cx="441.6" cy="170.2" r="1.1"/><circle cx="444.9" cy="168.1" r="1.1"/><circle cx="448.2" cy="165.8" r="1.1"/><circle cx="451.6" cy="163.7" r="1.1"/><circle cx="454.9" cy="162.1" r="1.1"/><circle cx="458.3" cy="160.9" r="1.1"/><circle cx="461.6" cy="159.8" r="1.1"/><circle cx="464.9" cy="158.8" r="1.1"/><circle cx="468.3" cy="157.8" r="1.1"/><circle cx="471.6" cy="156.7" r="1.1"/><circle cx="392.3" cy="191.4" r="1.1"/><circle cx="395.7" cy="189.8" r="1.1"/><circle cx="399" cy="187.8" r="1.1"/><circle cx="402.3" cy="185.6" r="1.1"/><circle cx="405.7" cy="183.7" r="1.1"/><circle cx="409" cy="181.9" r="1.1"/><circle cx="412.3" cy="179.9" r="1.1"/><circle cx="415.7" cy="177.9" r="1.1"/><circle cx="419" cy="176.6" r="1.1"/><circle cx="422.3" cy="176.2" r="1.1"/><circle cx="425.7" cy="175.4" r="1.1"/><circle cx="429" cy="173.5" r="1.1"/><circle cx="432.4" cy="171.2" r="1.1"/><circle cx="435.7" cy="168.9" r="1.1"/><circle cx="439" cy="166.7" r="1.1"/><circle cx="442.4" cy="164.4" r="1.1"/><circle cx="445.7" cy="162" r="1.1"/><circle cx="449" cy="159.9" r="1.1"/><circle cx="452.4" cy="158.3" r="1.1"/><circle cx="455.7" cy="157.6" r="1.1"/><circle cx="459" cy="156.9" r="1.1"/><circle cx="462.4" cy="156" r="1.1"/><circle cx="465.7" cy="155.2" r="1.1"/><circle cx="469" cy="154.3" r="1.1"/><circle cx="389.8" cy="188.7" r="1.1"/><circle cx="393.1" cy="187.2" r="1.1"/><circle cx="396.5" cy="185.1" r="1.1"/><circle cx="399.8" cy="182.8" r="1.1"/><circle cx="403.1" cy="180.6" r="1.1"/><circle cx="406.5" cy="178.8" r="1.1"/><circle cx="409.8" cy="176.7" r="1.1"/><circle cx="413.1" cy="174.8" r="1.1"/><circle cx="416.5" cy="173.3" r="1.1"/><circle cx="419.8" cy="172.6" r="1.1"/><circle cx="423.1" cy="171.9" r="1.1"/><circle cx="426.5" cy="170.2" r="1.1"/><circle cx="429.8" cy="168" r="1.1"/><circle cx="433.1" cy="165.6" r="1.1"/><circle cx="436.5" cy="163.2" r="1.1"/><circle cx="439.8" cy="160.8" r="1.1"/><circle cx="443.2" cy="158.6" r="1.1"/><circle cx="446.5" cy="156.7" r="1.1"/><circle cx="449.8" cy="155.4" r="1.1"/><circle cx="453.2" cy="154.5" r="1.1"/><circle cx="456.5" cy="153.9" r="1.1"/><circle cx="459.8" cy="153.2" r="1.1"/><circle cx="463.2" cy="152.5" r="1.1"/><circle cx="466.5" cy="151.6" r="1.1"/><circle cx="387.2" cy="185.8" r="1.1"/><circle cx="390.6" cy="184.2" r="1.1"/><circle cx="393.9" cy="182" r="1.1"/><circle cx="397.2" cy="179.8" r="1.1"/><circle cx="400.6" cy="177.6" r="1.1"/><circle cx="403.9" cy="175.6" r="1.1"/><circle cx="407.2" cy="173.6" r="1.1"/><circle cx="410.6" cy="171.5" r="1.1"/><circle cx="413.9" cy="169.9" r="1.1"/><circle cx="417.3" cy="169.2" r="1.1"/><circle cx="420.6" cy="168.5" r="1.1"/><circle cx="423.9" cy="167" r="1.1"/><circle cx="427.3" cy="164.8" r="1.1"/><circle cx="430.6" cy="162.5" r="1.1"/><circle cx="433.9" cy="160" r="1.1"/><circle cx="437.3" cy="157.6" r="1.1"/><circle cx="440.6" cy="155.3" r="1.1"/><circle cx="443.9" cy="153.6" r="1.1"/><circle cx="447.3" cy="152.7" r="1.1"/><circle cx="450.6" cy="152" r="1.1"/><circle cx="453.9" cy="151.4" r="1.1"/><circle cx="457.3" cy="150.7" r="1.1"/><circle cx="460.6" cy="149.7" r="1.1"/><circle cx="464" cy="148.7" r="1.1"/><circle cx="384.7" cy="182.6" r="1.1"/><circle cx="388" cy="181.2" r="1.1"/><circle cx="391.4" cy="179.1" r="1.1"/><circle cx="394.7" cy="176.6" r="1.1"/><circle cx="398" cy="174.3" r="1.1"/><circle cx="401.4" cy="172.1" r="1.1"/><circle cx="404.7" cy="170.3" r="1.1"/><circle cx="408" cy="168.4" r="1.1"/><circle cx="411.4" cy="166.8" r="1.1"/><circle cx="414.7" cy="165.8" r="1.1"/><circle cx="418" cy="165.3" r="1.1"/><circle cx="421.4" cy="163.9" r="1.1"/><circle cx="424.7" cy="161.7" r="1.1"/><circle cx="428.1" cy="159.5" r="1.1"/><circle cx="431.4" cy="156.8" r="1.1"/><circle cx="434.7" cy="154.2" r="1.1"/><circle cx="438.1" cy="152.3" r="1.1"/><circle cx="441.4" cy="150.8" r="1.1"/><circle cx="444.7" cy="149.8" r="1.1"/><circle cx="448.1" cy="149.3" r="1.1"/><circle cx="451.4" cy="148.6" r="1.1"/><circle cx="454.7" cy="147.8" r="1.1"/><circle cx="458.1" cy="146.9" r="1.1"/><circle cx="461.4" cy="146" r="1.1"/><circle cx="382.1" cy="179.6" r="1.1"/><circle cx="385.5" cy="177.8" r="1.1"/><circle cx="388.8" cy="175.7" r="1.1"/><circle cx="392.1" cy="173.3" r="1.1"/><circle cx="395.5" cy="171.2" r="1.1"/><circle cx="398.8" cy="169.1" r="1.1"/><circle cx="402.2" cy="167.2" r="1.1"/><circle cx="405.5" cy="165.4" r="1.1"/><circle cx="408.8" cy="163.8" r="1.1"/><circle cx="412.2" cy="162.8" r="1.1"/><circle cx="415.5" cy="162.3" r="1.1"/><circle cx="418.8" cy="161.1" r="1.1"/><circle cx="422.2" cy="159" r="1.1"/><circle cx="425.5" cy="156.6" r="1.1"/><circle cx="428.8" cy="153.8" r="1.1"/><circle cx="432.2" cy="150.8" r="1.1"/><circle cx="435.5" cy="148.9" r="1.1"/><circle cx="438.8" cy="147.6" r="1.1"/><circle cx="442.2" cy="146.7" r="1.1"/><circle cx="445.5" cy="146.1" r="1.1"/><circle cx="448.9" cy="145.6" r="1.1"/><circle cx="452.2" cy="145" r="1.1"/><circle cx="455.5" cy="144.4" r="1.1"/><circle cx="458.9" cy="143.5" r="1.1"/><circle cx="379.6" cy="176.8" r="1.1"/><circle cx="382.9" cy="174.8" r="1.1"/><circle cx="386.3" cy="172.6" r="1.1"/><circle cx="389.6" cy="170.2" r="1.1"/><circle cx="392.9" cy="168.2" r="1.1"/><circle cx="396.3" cy="166.4" r="1.1"/><circle cx="399.6" cy="164.5" r="1.1"/><circle cx="402.9" cy="162.7" r="1.1"/><circle cx="406.3" cy="161.1" r="1.1"/><circle cx="409.6" cy="159.9" r="1.1"/><circle cx="413" cy="159.3" r="1.1"/><circle cx="416.3" cy="158.2" r="1.1"/><circle cx="419.6" cy="156.3" r="1.1"/><circle cx="423" cy="154.1" r="1.1"/><circle cx="426.3" cy="151.6" r="1.1"/><circle cx="429.6" cy="148.9" r="1.1"/><circle cx="433" cy="146.7" r="1.1"/><circle cx="436.3" cy="145" r="1.1"/><circle cx="439.6" cy="143.8" r="1.1"/><circle cx="443" cy="143" r="1.1"/><circle cx="446.3" cy="142.4" r="1.1"/><circle cx="449.6" cy="141.8" r="1.1"/><circle cx="453" cy="141.6" r="1.1"/><circle cx="456.3" cy="141.1" r="1.1"/><circle cx="377" cy="173.9" r="1.1"/><circle cx="380.4" cy="171.9" r="1.1"/><circle cx="383.7" cy="169.7" r="1.1"/><circle cx="387.1" cy="167.6" r="1.1"/><circle cx="390.4" cy="165.7" r="1.1"/><circle cx="393.7" cy="163.9" r="1.1"/><circle cx="397.1" cy="162" r="1.1"/><circle cx="400.4" cy="160.2" r="1.1"/><circle cx="403.7" cy="158.5" r="1.1"/><circle cx="407.1" cy="157.1" r="1.1"/><circle cx="410.4" cy="156.5" r="1.1"/><circle cx="413.7" cy="155.7" r="1.1"/><circle cx="417.1" cy="153.9" r="1.1"/><circle cx="420.4" cy="152" r="1.1"/><circle cx="423.7" cy="150.3" r="1.1"/><circle cx="427.1" cy="148.4" r="1.1"/><circle cx="430.4" cy="146.2" r="1.1"/><circle cx="433.8" cy="144.3" r="1.1"/><circle cx="437.1" cy="142.7" r="1.1"/><circle cx="440.4" cy="141.3" r="1.1"/><circle cx="443.8" cy="140.3" r="1.1"/><circle cx="447.1" cy="139.5" r="1.1"/><circle cx="450.4" cy="139.4" r="1.1"/><circle cx="453.8" cy="139" r="1.1"/><circle cx="374.5" cy="171" r="1.1"/><circle cx="377.8" cy="169.2" r="1.1"/><circle cx="381.2" cy="167.2" r="1.1"/><circle cx="384.5" cy="165.3" r="1.1"/><circle cx="387.8" cy="163.5" r="1.1"/><circle cx="391.2" cy="161.7" r="1.1"/><circle cx="394.5" cy="159.9" r="1.1"/><circle cx="397.9" cy="158.1" r="1.1"/><circle cx="401.2" cy="156.6" r="1.1"/><circle cx="404.5" cy="155.1" r="1.1"/><circle cx="407.9" cy="154.1" r="1.1"/><circle cx="411.2" cy="153" r="1.1"/><circle cx="414.5" cy="151.2" r="1.1"/><circle cx="417.9" cy="150.1" r="1.1"/><circle cx="421.2" cy="149.6" r="1.1"/><circle cx="424.5" cy="148.4" r="1.1"/><circle cx="427.9" cy="146.4" r="1.1"/><circle cx="431.2" cy="144.6" r="1.1"/><circle cx="434.5" cy="143" r="1.1"/><circle cx="437.9" cy="141.5" r="1.1"/><circle cx="441.2" cy="140.1" r="1.1"/><circle cx="444.6" cy="138.8" r="1.1"/><circle cx="447.9" cy="137.7" r="1.1"/><circle cx="451.2" cy="136.9" r="1.1"/><circle cx="372" cy="168.3" r="1.1"/><circle cx="375.3" cy="166.8" r="1.1"/><circle cx="378.6" cy="165" r="1.1"/><circle cx="382" cy="163.2" r="1.1"/><circle cx="385.3" cy="161.3" r="1.1"/><circle cx="388.6" cy="159.6" r="1.1"/><circle cx="392" cy="158.1" r="1.1"/><circle cx="395.3" cy="156.6" r="1.1"/><circle cx="398.6" cy="155.1" r="1.1"/><circle cx="402" cy="153.7" r="1.1"/><circle cx="405.3" cy="152.3" r="1.1"/><circle cx="408.6" cy="150.9" r="1.1"/><circle cx="412" cy="149.2" r="1.1"/><circle cx="415.3" cy="147.9" r="1.1"/><circle cx="418.7" cy="147.3" r="1.1"/><circle cx="422" cy="146.2" r="1.1"/><circle cx="425.3" cy="145" r="1.1"/><circle cx="428.7" cy="143.9" r="1.1"/><circle cx="432" cy="142.8" r="1.1"/><circle cx="435.3" cy="141.5" r="1.1"/><circle cx="438.7" cy="140.3" r="1.1"/><circle cx="442" cy="138.4" r="1.1"/><circle cx="445.3" cy="136.2" r="1.1"/><circle cx="448.7" cy="134.8" r="1.1"/><circle cx="369.4" cy="165.7" r="1.1"/><circle cx="372.7" cy="164.1" r="1.1"/><circle cx="376.1" cy="162.6" r="1.1"/><circle cx="379.4" cy="161" r="1.1"/><circle cx="382.8" cy="159.4" r="1.1"/><circle cx="386.1" cy="157.7" r="1.1"/><circle cx="389.4" cy="156.3" r="1.1"/><circle cx="392.8" cy="155.1" r="1.1"/><circle cx="396.1" cy="153.6" r="1.1"/><circle cx="399.4" cy="152.1" r="1.1"/><circle cx="402.8" cy="150.4" r="1.1"/><circle cx="406.1" cy="148.8" r="1.1"/><circle cx="409.4" cy="147.2" r="1.1"/><circle cx="412.8" cy="145.6" r="1.1"/><circle cx="416.1" cy="144.2" r="1.1"/><circle cx="419.4" cy="142.8" r="1.1"/><circle cx="422.8" cy="141.7" r="1.1"/><circle cx="426.1" cy="140.8" r="1.1"/><circle cx="429.5" cy="140.1" r="1.1"/><circle cx="432.8" cy="139.5" r="1.1"/><circle cx="436.1" cy="138.8" r="1.1"/><circle cx="439.5" cy="136.9" r="1.1"/><circle cx="442.8" cy="134.4" r="1.1"/><circle cx="446.1" cy="132.9" r="1.1"/><circle cx="366.9" cy="162.9" r="1.1"/><circle cx="370.2" cy="161.6" r="1.1"/><circle cx="373.5" cy="160.3" r="1.1"/><circle cx="376.9" cy="158.8" r="1.1"/><circle cx="380.2" cy="157.2" r="1.1"/><circle cx="383.5" cy="155.6" r="1.1"/><circle cx="386.9" cy="154.1" r="1.1"/><circle cx="390.2" cy="153" r="1.1"/><circle cx="393.5" cy="151.6" r="1.1"/><circle cx="396.9" cy="150" r="1.1"/><circle cx="400.2" cy="148.3" r="1.1"/><circle cx="403.6" cy="146.6" r="1.1"/><circle cx="406.9" cy="145.1" r="1.1"/><circle cx="410.2" cy="143.5" r="1.1"/><circle cx="413.6" cy="141.9" r="1.1"/><circle cx="416.9" cy="140.3" r="1.1"/><circle cx="420.2" cy="139" r="1.1"/><circle cx="423.6" cy="137.9" r="1.1"/><circle cx="426.9" cy="136.8" r="1.1"/><circle cx="430.2" cy="136" r="1.1"/><circle cx="433.6" cy="135.4" r="1.1"/><circle cx="436.9" cy="133.9" r="1.1"/><circle cx="440.2" cy="132.2" r="1.1"/><circle cx="443.6" cy="131.2" r="1.1"/><circle cx="364.3" cy="160.1" r="1.1"/><circle cx="367.7" cy="158.6" r="1.1"/><circle cx="371" cy="157.5" r="1.1"/><circle cx="374.3" cy="156.2" r="1.1"/><circle cx="377.7" cy="154.7" r="1.1"/><circle cx="381" cy="153.3" r="1.1"/><circle cx="384.3" cy="151.9" r="1.1"/><circle cx="387.7" cy="150.7" r="1.1"/><circle cx="391" cy="149.3" r="1.1"/><circle cx="394.3" cy="147.5" r="1.1"/><circle cx="397.7" cy="145.6" r="1.1"/><circle cx="401" cy="144" r="1.1"/><circle cx="404.3" cy="142.9" r="1.1"/><circle cx="407.7" cy="141.6" r="1.1"/><circle cx="411" cy="139.9" r="1.1"/><circle cx="414.4" cy="138.4" r="1.1"/><circle cx="417.7" cy="137" r="1.1"/><circle cx="421" cy="135.8" r="1.1"/><circle cx="424.4" cy="134.6" r="1.1"/><circle cx="427.7" cy="133.3" r="1.1"/><circle cx="431" cy="132.5" r="1.1"/><circle cx="434.4" cy="131.6" r="1.1"/><circle cx="437.7" cy="130.4" r="1.1"/><circle cx="441" cy="129.3" r="1.1"/><circle cx="361.8" cy="157.4" r="1.1"/><circle cx="365.1" cy="155.8" r="1.1"/><circle cx="368.4" cy="154.5" r="1.1"/><circle cx="371.8" cy="153.5" r="1.1"/><circle cx="375.1" cy="152.2" r="1.1"/><circle cx="378.4" cy="150.7" r="1.1"/><circle cx="381.8" cy="149.4" r="1.1"/><circle cx="385.1" cy="148.1" r="1.1"/><circle cx="388.5" cy="146.8" r="1.1"/><circle cx="391.8" cy="144.9" r="1.1"/><circle cx="395.1" cy="142.6" r="1.1"/><circle cx="398.5" cy="141" r="1.1"/><circle cx="401.8" cy="140.6" r="1.1"/><circle cx="405.1" cy="139.9" r="1.1"/><circle cx="408.5" cy="138.3" r="1.1"/><circle cx="411.8" cy="136.7" r="1.1"/><circle cx="415.1" cy="135.3" r="1.1"/><circle cx="418.5" cy="133.9" r="1.1"/><circle cx="421.8" cy="132.7" r="1.1"/><circle cx="425.1" cy="131.4" r="1.1"/><circle cx="428.5" cy="130.4" r="1.1"/><circle cx="431.8" cy="129.4" r="1.1"/><circle cx="435.2" cy="128.4" r="1.1"/><circle cx="438.5" cy="127.3" r="1.1"/><circle cx="359.2" cy="154.5" r="1.1"/><circle cx="362.6" cy="153" r="1.1"/><circle cx="365.9" cy="151.7" r="1.1"/><circle cx="369.2" cy="150.6" r="1.1"/><circle cx="372.6" cy="149.4" r="1.1"/><circle cx="375.9" cy="148" r="1.1"/><circle cx="379.2" cy="146.8" r="1.1"/><circle cx="382.6" cy="145.6" r="1.1"/><circle cx="385.9" cy="144" r="1.1"/><circle cx="389.2" cy="141.9" r="1.1"/><circle cx="392.6" cy="139.9" r="1.1"/><circle cx="395.9" cy="139.1" r="1.1"/><circle cx="399.3" cy="139.2" r="1.1"/><circle cx="402.6" cy="138.9" r="1.1"/><circle cx="405.9" cy="137.3" r="1.1"/><circle cx="409.3" cy="135" r="1.1"/><circle cx="412.6" cy="133.4" r="1.1"/><circle cx="415.9" cy="132.1" r="1.1"/><circle cx="419.3" cy="130.7" r="1.1"/><circle cx="422.6" cy="129.5" r="1.1"/><circle cx="425.9" cy="128.5" r="1.1"/><circle cx="429.3" cy="127.5" r="1.1"/><circle cx="432.6" cy="126.4" r="1.1"/><circle cx="435.9" cy="125.3" r="1.1"/><circle cx="356.7" cy="152.1" r="1.1"/><circle cx="360" cy="150.3" r="1.1"/><circle cx="363.3" cy="149" r="1.1"/><circle cx="366.7" cy="147.8" r="1.1"/><circle cx="370" cy="146.7" r="1.1"/><circle cx="373.4" cy="145.5" r="1.1"/><circle cx="376.7" cy="144.2" r="1.1"/><circle cx="380" cy="142.9" r="1.1"/><circle cx="383.4" cy="141.1" r="1.1"/><circle cx="386.7" cy="139" r="1.1"/><circle cx="390" cy="137.6" r="1.1"/><circle cx="393.4" cy="137.6" r="1.1"/><circle cx="396.7" cy="138.1" r="1.1"/><circle cx="400" cy="138.1" r="1.1"/><circle cx="403.4" cy="136.4" r="1.1"/><circle cx="406.7" cy="133.9" r="1.1"/><circle cx="410" cy="131.8" r="1.1"/><circle cx="413.4" cy="130.3" r="1.1"/><circle cx="416.7" cy="128.9" r="1.1"/><circle cx="420.1" cy="127.6" r="1.1"/><circle cx="423.4" cy="126.5" r="1.1"/><circle cx="426.7" cy="125.5" r="1.1"/><circle cx="430.1" cy="124.4" r="1.1"/><circle cx="433.4" cy="123.2" r="1.1"/><circle cx="354.1" cy="149.7" r="1.1"/><circle cx="357.5" cy="147.9" r="1.1"/><circle cx="360.8" cy="146.5" r="1.1"/><circle cx="364.1" cy="145.2" r="1.1"/><circle cx="367.5" cy="143.9" r="1.1"/><circle cx="370.8" cy="142.7" r="1.1"/><circle cx="374.1" cy="141.5" r="1.1"/><circle cx="377.5" cy="140" r="1.1"/><circle cx="380.8" cy="138.1" r="1.1"/><circle cx="384.2" cy="136.5" r="1.1"/><circle cx="387.5" cy="136" r="1.1"/><circle cx="390.8" cy="136.4" r="1.1"/><circle cx="394.2" cy="136.9" r="1.1"/><circle cx="397.5" cy="136.3" r="1.1"/><circle cx="400.8" cy="134.6" r="1.1"/><circle cx="404.2" cy="132.2" r="1.1"/><circle cx="407.5" cy="130" r="1.1"/><circle cx="410.8" cy="128.4" r="1.1"/><circle cx="414.2" cy="127.1" r="1.1"/><circle cx="417.5" cy="125.8" r="1.1"/><circle cx="420.8" cy="124.5" r="1.1"/><circle cx="424.2" cy="123.4" r="1.1"/><circle cx="427.5" cy="122.3" r="1.1"/><circle cx="430.9" cy="121.2" r="1.1"/><circle cx="351.6" cy="147.2" r="1.1"/><circle cx="354.9" cy="145.4" r="1.1"/><circle cx="358.3" cy="143.9" r="1.1"/><circle cx="361.6" cy="142.7" r="1.1"/><circle cx="364.9" cy="141.4" r="1.1"/><circle cx="368.3" cy="140.2" r="1.1"/><circle cx="371.6" cy="138.8" r="1.1"/><circle cx="374.9" cy="137.1" r="1.1"/><circle cx="378.3" cy="135.3" r="1.1"/><circle cx="381.6" cy="134.3" r="1.1"/><circle cx="384.9" cy="134.7" r="1.1"/><circle cx="388.3" cy="135.2" r="1.1"/><circle cx="391.6" cy="135.1" r="1.1"/><circle cx="394.9" cy="134" r="1.1"/><circle cx="398.3" cy="131.9" r="1.1"/><circle cx="401.6" cy="129.9" r="1.1"/><circle cx="405" cy="128.1" r="1.1"/><circle cx="408.3" cy="126.6" r="1.1"/><circle cx="411.6" cy="125.1" r="1.1"/><circle cx="415" cy="123.7" r="1.1"/><circle cx="418.3" cy="122.6" r="1.1"/><circle cx="421.6" cy="121.4" r="1.1"/><circle cx="425" cy="120.4" r="1.1"/><circle cx="428.3" cy="119.3" r="1.1"/><circle cx="349" cy="144.8" r="1.1"/><circle cx="352.4" cy="143" r="1.1"/><circle cx="355.7" cy="141.5" r="1.1"/><circle cx="359" cy="140.3" r="1.1"/><circle cx="362.4" cy="139" r="1.1"/><circle cx="365.7" cy="137.6" r="1.1"/><circle cx="369.1" cy="135.8" r="1.1"/><circle cx="372.4" cy="134.1" r="1.1"/><circle cx="375.7" cy="133.2" r="1.1"/><circle cx="379.1" cy="133.2" r="1.1"/><circle cx="382.4" cy="133.6" r="1.1"/><circle cx="385.7" cy="133.7" r="1.1"/><circle cx="389.1" cy="132.9" r="1.1"/><circle cx="392.4" cy="131.3" r="1.1"/><circle cx="395.7" cy="129.2" r="1.1"/><circle cx="399.1" cy="127.4" r="1.1"/><circle cx="402.4" cy="125.8" r="1.1"/><circle cx="405.7" cy="124.4" r="1.1"/><circle cx="409.1" cy="123.1" r="1.1"/><circle cx="412.4" cy="121.7" r="1.1"/><circle cx="415.8" cy="120.6" r="1.1"/><circle cx="419.1" cy="119.4" r="1.1"/><circle cx="422.4" cy="118.4" r="1.1"/><circle cx="425.8" cy="117.5" r="1.1"/><circle cx="346.5" cy="142.5" r="1.1"/><circle cx="349.8" cy="140.6" r="1.1"/><circle cx="353.2" cy="139.3" r="1.1"/><circle cx="356.5" cy="138" r="1.1"/><circle cx="359.8" cy="136.7" r="1.1"/><circle cx="363.2" cy="135.2" r="1.1"/><circle cx="366.5" cy="133.5" r="1.1"/><circle cx="369.8" cy="131.9" r="1.1"/><circle cx="373.2" cy="131.7" r="1.1"/><circle cx="376.5" cy="132.1" r="1.1"/><circle cx="379.8" cy="132.3" r="1.1"/><circle cx="383.2" cy="131.8" r="1.1"/><circle cx="386.5" cy="130.2" r="1.1"/><circle cx="389.9" cy="128.1" r="1.1"/><circle cx="393.2" cy="126.1" r="1.1"/><circle cx="396.5" cy="124.6" r="1.1"/><circle cx="399.9" cy="123.4" r="1.1"/><circle cx="403.2" cy="122.1" r="1.1"/><circle cx="406.5" cy="121" r="1.1"/><circle cx="409.9" cy="119.9" r="1.1"/><circle cx="413.2" cy="118.8" r="1.1"/><circle cx="416.5" cy="117.7" r="1.1"/><circle cx="419.9" cy="116.6" r="1.1"/><circle cx="423.2" cy="115.6" r="1.1"/><circle cx="343.9" cy="140.4" r="1.1"/><circle cx="347.3" cy="138.6" r="1.1"/><circle cx="350.6" cy="137.2" r="1.1"/><circle cx="354" cy="136" r="1.1"/><circle cx="357.3" cy="134.7" r="1.1"/><circle cx="360.6" cy="133" r="1.1"/><circle cx="364" cy="131.5" r="1.1"/><circle cx="367.3" cy="130.9" r="1.1"/><circle cx="370.6" cy="131" r="1.1"/><circle cx="374" cy="131.2" r="1.1"/><circle cx="377.3" cy="130.6" r="1.1"/><circle cx="380.6" cy="129" r="1.1"/><circle cx="384" cy="126.9" r="1.1"/><circle cx="387.3" cy="124.8" r="1.1"/><circle cx="390.6" cy="123.2" r="1.1"/><circle cx="394" cy="121.9" r="1.1"/><circle cx="397.3" cy="120.8" r="1.1"/><circle cx="400.7" cy="119.7" r="1.1"/><circle cx="404" cy="118.7" r="1.1"/><circle cx="407.3" cy="117.9" r="1.1"/><circle cx="410.7" cy="116.9" r="1.1"/><circle cx="414" cy="115.9" r="1.1"/><circle cx="417.3" cy="114.8" r="1.1"/><circle cx="420.7" cy="113.8" r="1.1"/><circle cx="341.4" cy="138.3" r="1.1"/><circle cx="344.7" cy="136.7" r="1.1"/><circle cx="348.1" cy="135.4" r="1.1"/><circle cx="351.4" cy="134" r="1.1"/><circle cx="354.7" cy="132.6" r="1.1"/><circle cx="358.1" cy="131.3" r="1.1"/><circle cx="361.4" cy="130.2" r="1.1"/><circle cx="364.7" cy="130.4" r="1.1"/><circle cx="368.1" cy="130" r="1.1"/><circle cx="371.4" cy="129.5" r="1.1"/><circle cx="374.8" cy="128.4" r="1.1"/><circle cx="378.1" cy="126" r="1.1"/><circle cx="381.4" cy="123.6" r="1.1"/><circle cx="384.8" cy="121.7" r="1.1"/><circle cx="388.1" cy="120.4" r="1.1"/><circle cx="391.4" cy="119.2" r="1.1"/><circle cx="394.8" cy="118.1" r="1.1"/><circle cx="398.1" cy="117.2" r="1.1"/><circle cx="401.4" cy="116.4" r="1.1"/><circle cx="404.8" cy="115.8" r="1.1"/><circle cx="408.1" cy="115" r="1.1"/><circle cx="411.4" cy="114" r="1.1"/><circle cx="414.8" cy="113" r="1.1"/><circle cx="418.1" cy="112.1" r="1.1"/>
</g>
<path d="M210.8 125.1L210.8 307.3L382.2 418.5L607.3 332M210.8 276l-4.6-3M210.8 239.4l-4.6-3M210.8 202.8l-4.6-3M210.8 166.2l-4.6-3M210.8 129.6l-4.6-3M382.2 418.5l4.6 3M382.2 418.5l-5.2 2M449.5 392.6l4.6 3M331.1 385.3l-5.2 2M516.8 366.8l4.6 3M279.9 352.1l-5.2 2M584.1 340.9l4.6 3M228.7 318.9l-5.2 2" stroke="#262626" stroke-width="0.9" fill="none"/>
<text x="200.5" y="275.9" font-size="14" text-anchor="end" fill="#262626">-3000</text>
<text x="200.5" y="239.3" font-size="14" text-anchor="end" fill="#262626">-2000</text>
<text x="200.5" y="202.7" font-size="14" text-anchor="end" fill="#262626">-1000</text>
<text x="200.5" y="166.1" font-size="14" text-anchor="end" fill="#262626">0</text>
<text x="200.5" y="129.5" font-size="14" text-anchor="end" fill="#262626">1000</text>
<text x="391.5" y="440" font-size="14" text-anchor="start" fill="#262626">0</text>
<text x="371.3" y="437.2" font-size="14" text-anchor="end" fill="#262626">0</text>
<text x="458.8" y="414.1" font-size="14" text-anchor="start" fill="#262626">2000</text>
<text x="320.2" y="404" font-size="14" text-anchor="end" fill="#262626">2000</text>
<text x="526.1" y="388.3" font-size="14" text-anchor="start" fill="#262626">4000</text>
<text x="269" y="370.8" font-size="14" text-anchor="end" fill="#262626">4000</text>
<text x="593.4" y="362.4" font-size="14" text-anchor="start" fill="#262626">6000</text>
<text x="217.8" y="337.6" font-size="14" text-anchor="end" fill="#262626">6000</text>
<text x="511.5" y="437.4" font-size="15.4" text-anchor="middle" fill="#262626">X(m)</text>
<text x="267.8" y="431" font-size="15.4" text-anchor="middle" fill="#262626">Y(m)</text>
<text x="156.4" y="215.3" font-size="15.4" text-anchor="middle" fill="#262626" transform="rotate(-90 156.4 215.3)">Z(m)</text>
<circle cx="275.6" cy="135.3" r="10" fill="#dcdcdc" stroke="#000" stroke-width="1.3"/>
<text x="275.6" y="140.3" font-size="14.5" text-anchor="middle" fill="#000">1</text>
<circle cx="358" cy="103.9" r="10" fill="#dcdcdc" stroke="#000" stroke-width="1.3"/>
<text x="358" y="108.9" font-size="14.5" text-anchor="middle" fill="#000">2</text>
<circle cx="432.8" cy="76.4" r="10" fill="#dcdcdc" stroke="#000" stroke-width="1.3"/>
<text x="432.8" y="81.4" font-size="14.5" text-anchor="middle" fill="#000">3</text>
<circle cx="338.2" cy="182.1" r="10" fill="#dcdcdc" stroke="#000" stroke-width="1.3"/>
<text x="338.2" y="187.1" font-size="14.5" text-anchor="middle" fill="#000">4</text>
<circle cx="411.8" cy="150.2" r="10" fill="#dcdcdc" stroke="#000" stroke-width="1.3"/>
<text x="411.8" y="155.2" font-size="14.5" text-anchor="middle" fill="#000">5</text>
<circle cx="487.1" cy="122.3" r="10" fill="#dcdcdc" stroke="#000" stroke-width="1.3"/>
<text x="487.1" y="127.3" font-size="14.5" text-anchor="middle" fill="#000">6</text>
<circle cx="391.8" cy="232" r="10" fill="#dcdcdc" stroke="#000" stroke-width="1.3"/>
<text x="391.8" y="237" font-size="14.5" text-anchor="middle" fill="#000">7</text>
<circle cx="461.8" cy="201.7" r="10" fill="#dcdcdc" stroke="#000" stroke-width="1.3"/>
<text x="461.8" y="206.7" font-size="14.5" text-anchor="middle" fill="#000">8</text>
<circle cx="535.5" cy="169" r="10" fill="#dcdcdc" stroke="#000" stroke-width="1.3"/>
<text x="535.5" y="174" font-size="14.5" text-anchor="middle" fill="#000">9</text>
</svg></body></html>
